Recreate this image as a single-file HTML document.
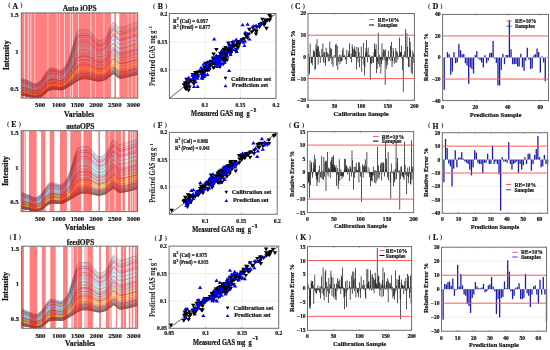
<!DOCTYPE html><html><head><meta charset="utf-8"><style>html,body{margin:0;padding:0;background:#fff;overflow:hidden}svg{display:block;filter:blur(0.3px)}</style></head><body>
<svg width="550" height="350" viewBox="0 0 550 350" font-family="'Liberation Serif', 'Noto Serif CJK SC', serif">
<style>text{stroke:#222;stroke-width:0.22px}</style>
<rect width="550" height="350" fill="#fff"/>
<clipPath id="cA"><rect x="21.3" y="12.9" width="116.4" height="85.2"/></clipPath>
<g clip-path="url(#cA)">
<polyline points="21.4,86.6 23.3,87.1 25.2,87.7 27.2,88.2 29.1,88.8 31.0,89.6 32.9,90.4 34.8,90.8 36.7,90.5 38.6,89.8 40.5,88.9 42.4,87.0 44.4,84.5 46.3,82.3 48.2,80.1 50.1,78.9 52.0,78.8 53.9,78.9 55.8,79.1 57.7,79.5 59.6,79.8 61.5,79.8 63.5,78.8 65.4,77.0 67.3,74.9 69.2,72.2 71.1,68.4 73.0,64.3 74.9,60.1 76.8,56.4 78.7,55.1 80.7,54.3 82.6,53.9 84.5,53.9 86.4,53.9 88.3,54.2 90.2,55.3 92.1,56.4 94.0,57.9 95.9,59.4 97.9,60.4 99.8,60.5 101.7,60.1 103.6,59.4 105.5,58.4 107.4,56.0 109.3,53.1 111.2,50.2 113.1,47.8 115.1,48.9 117.0,51.0 118.9,52.4 120.8,52.6 122.7,52.3 124.6,51.9 126.5,51.5 128.4,50.9 130.3,50.3 132.3,49.6 134.2,49.1 136.1,48.7 138.0,48.4" fill="none" stroke="#0072BD" stroke-width="0.42"/>
<polyline points="21.4,92.0 23.3,92.4 25.2,92.9 27.2,93.3 29.1,93.8 31.0,94.5 32.9,95.1 34.8,95.4 36.7,95.3 38.6,94.8 40.5,94.2 42.4,92.7 44.4,90.6 46.3,88.9 48.2,87.1 50.1,86.1 52.0,85.9 53.9,85.8 55.8,85.9 57.7,86.1 59.6,86.4 61.5,86.4 63.5,85.6 65.4,84.4 67.3,82.9 69.2,81.3 71.1,79.2 73.0,77.0 74.9,74.7 76.8,72.6 78.7,71.5 80.7,70.5 82.6,70.2 84.5,70.1 86.4,70.1 88.3,70.4 90.2,71.0 92.1,71.6 94.0,72.5 95.9,73.3 97.9,73.8 99.8,73.8 101.7,73.5 103.6,72.9 105.5,72.1 107.4,70.4 109.3,68.4 111.2,66.4 113.1,64.5 115.1,65.6 117.0,67.5 118.9,68.8 120.8,69.0 122.7,68.8 124.6,68.5 126.5,68.1 128.4,67.6 130.3,67.0 132.3,66.4 134.2,65.9 136.1,65.6 138.0,65.2" fill="none" stroke="#D95319" stroke-width="0.42"/>
<polyline points="21.4,91.3 23.3,91.7 25.2,92.2 27.2,92.7 29.1,93.2 31.0,93.8 32.9,94.5 34.8,94.8 36.7,94.7 38.6,94.2 40.5,93.5 42.4,92.0 44.4,89.9 46.3,88.0 48.2,86.2 50.1,85.2 52.0,85.0 53.9,85.0 55.8,85.1 57.7,85.3 59.6,85.6 61.5,85.6 63.5,84.8 65.4,83.5 67.3,82.0 69.2,80.3 71.1,78.0 73.0,75.6 74.9,73.1 76.8,70.8 78.7,69.7 80.7,68.8 82.6,68.4 84.5,68.4 86.4,68.4 88.3,68.6 90.2,69.3 92.1,70.0 94.0,70.9 95.9,71.8 97.9,72.3 99.8,72.3 101.7,72.0 103.6,71.4 105.5,70.5 107.4,68.7 109.3,66.6 111.2,64.6 113.1,62.6 115.1,63.6 117.0,65.6 118.9,66.9 120.8,67.0 122.7,66.8 124.6,66.4 126.5,66.0 128.4,65.5 130.3,64.9 132.3,64.3 134.2,63.8 136.1,63.4 138.0,63.0" fill="none" stroke="#EDB120" stroke-width="0.42"/>
<polyline points="21.4,87.2 23.3,87.7 25.2,88.2 27.2,88.8 29.1,89.3 31.0,90.1 32.9,90.9 34.8,91.3 36.7,91.0 38.6,90.3 40.5,89.4 42.4,87.5 44.4,85.1 46.3,83.0 48.2,80.8 50.1,79.6 52.0,79.6 53.9,79.7 55.8,79.9 57.7,80.2 59.6,80.6 61.5,80.6 63.5,79.6 65.4,77.9 67.3,75.9 69.2,73.4 71.1,69.9 73.0,66.0 74.9,62.1 76.8,58.6 78.7,57.5 80.7,56.6 82.6,56.3 84.5,56.3 86.4,56.3 88.3,56.7 90.2,57.7 92.1,58.8 94.0,60.2 95.9,61.6 97.9,62.5 99.8,62.6 101.7,62.2 103.6,61.4 105.5,60.5 107.4,58.2 109.3,55.4 111.2,52.6 113.1,50.2 115.1,51.3 117.0,53.3 118.9,54.6 120.8,54.8 122.7,54.5 124.6,54.0 126.5,53.6 128.4,53.0 130.3,52.3 132.3,51.6 134.2,51.0 136.1,50.6 138.0,50.3" fill="none" stroke="#7E2F8E" stroke-width="0.42"/>
<polyline points="21.4,89.8 23.3,90.3 25.2,90.7 27.2,91.2 29.1,91.8 31.0,92.5 32.9,93.2 34.8,93.5 36.7,93.3 38.6,92.7 40.5,92.0 42.4,90.3 44.4,88.0 46.3,86.1 48.2,84.1 50.1,83.0 52.0,82.9 53.9,82.9 55.8,83.0 57.7,83.3 59.6,83.6 61.5,83.6 63.5,82.7 65.4,81.3 67.3,79.5 69.2,77.5 71.1,74.7 73.0,71.7 74.9,68.7 76.8,65.9 78.7,64.8 80.7,63.9 82.6,63.6 84.5,63.6 86.4,63.6 88.3,64.0 90.2,64.8 92.1,65.7 94.0,66.8 95.9,67.9 97.9,68.6 99.8,68.6 101.7,68.3 103.6,67.7 105.5,66.8 107.4,64.8 109.3,62.5 111.2,60.2 113.1,58.1 115.1,59.2 117.0,61.2 118.9,62.5 120.8,62.7 122.7,62.4 124.6,62.0 126.5,61.6 128.4,61.1 130.3,60.4 132.3,59.8 134.2,59.2 136.1,58.8 138.0,58.5" fill="none" stroke="#77AC30" stroke-width="0.42"/>
<polyline points="21.4,88.9 23.3,89.4 25.2,89.9 27.2,90.4 29.1,91.0 31.0,91.7 32.9,92.4 34.8,92.8 36.7,92.5 38.6,92.0 40.5,91.1 42.4,89.4 44.4,87.1 46.3,85.1 48.2,83.0 50.1,81.9 52.0,81.7 53.9,81.8 55.8,81.9 57.7,82.2 59.6,82.5 61.5,82.5 63.5,81.6 65.4,80.0 67.3,78.2 69.2,76.0 71.1,72.9 73.0,69.5 74.9,66.1 76.8,63.1 78.7,61.9 80.7,61.0 82.6,60.7 84.5,60.7 86.4,60.7 88.3,61.0 90.2,61.9 92.1,62.8 94.0,64.1 95.9,65.3 97.9,66.1 99.8,66.2 101.7,65.8 103.6,65.1 105.5,64.3 107.4,62.2 109.3,59.7 111.2,57.2 113.1,55.0 115.1,56.2 117.0,58.2 118.9,59.5 120.8,59.7 122.7,59.5 124.6,59.1 126.5,58.7 128.4,58.2 130.3,57.5 132.3,56.9 134.2,56.4 136.1,56.0 138.0,55.7" fill="none" stroke="#4DBEEE" stroke-width="0.42"/>
<polyline points="21.4,94.3 23.3,94.6 25.2,95.0 27.2,95.4 29.1,95.8 31.0,96.4 32.9,97.0 34.8,97.3 36.7,97.2 38.6,96.8 40.5,96.3 42.4,95.0 44.4,93.1 46.3,91.5 48.2,89.9 50.1,88.9 52.0,88.7 53.9,88.6 55.8,88.6 57.7,88.8 59.6,88.9 61.5,88.9 63.5,88.3 65.4,87.3 67.3,86.1 69.2,84.9 71.1,83.5 73.0,82.0 74.9,80.5 76.8,79.0 78.7,78.0 80.7,77.1 82.6,76.7 84.5,76.7 86.4,76.7 88.3,76.9 90.2,77.4 92.1,77.9 94.0,78.4 95.9,78.9 97.9,79.3 99.8,79.3 101.7,79.0 103.6,78.5 105.5,77.8 107.4,76.4 109.3,74.8 111.2,73.2 113.1,71.5 115.1,72.5 117.0,74.4 118.9,75.7 120.8,75.9 122.7,75.7 124.6,75.4 126.5,75.1 128.4,74.6 130.3,74.0 132.3,73.4 134.2,72.9 136.1,72.5 138.0,72.2" fill="none" stroke="#A2142F" stroke-width="0.42"/>
<polyline points="21.4,94.1 23.3,94.4 25.2,94.8 27.2,95.2 29.1,95.7 31.0,96.2 32.9,96.9 34.8,97.1 36.7,97.0 38.6,96.7 40.5,96.2 42.4,94.8 44.4,92.9 46.3,91.3 48.2,89.7 50.1,88.7 52.0,88.5 53.9,88.3 55.8,88.4 57.7,88.5 59.6,88.7 61.5,88.7 63.5,88.1 65.4,87.0 67.3,85.8 69.2,84.6 71.1,83.1 73.0,81.6 74.9,80.0 76.8,78.4 78.7,77.4 80.7,76.5 82.6,76.1 84.5,76.1 86.4,76.1 88.3,76.2 90.2,76.8 92.1,77.2 94.0,77.8 95.9,78.3 97.9,78.7 99.8,78.7 101.7,78.4 103.6,77.9 105.5,77.2 107.4,75.7 109.3,74.1 111.2,72.5 113.1,70.8 115.1,71.8 117.0,73.7 118.9,75.0 120.8,75.2 122.7,75.0 124.6,74.7 126.5,74.4 128.4,73.9 130.3,73.3 132.3,72.7 134.2,72.2 136.1,71.8 138.0,71.5" fill="none" stroke="#0072BD" stroke-width="0.42"/>
<polyline points="21.4,89.3 23.3,89.8 25.2,90.3 27.2,90.8 29.1,91.3 31.0,92.0 32.9,92.7 34.8,93.1 36.7,92.9 38.6,92.3 40.5,91.5 42.4,89.8 44.4,87.6 46.3,85.6 48.2,83.6 50.1,82.5 52.0,82.4 53.9,82.4 55.8,82.6 57.7,82.9 59.6,83.2 61.5,83.2 63.5,82.3 65.4,80.8 67.3,79.1 69.2,77.0 71.1,74.1 73.0,71.0 74.9,67.9 76.8,65.0 78.7,63.9 80.7,63.0 82.6,62.6 84.5,62.6 86.4,62.6 88.3,62.9 90.2,63.8 92.1,64.6 94.0,65.8 95.9,66.9 97.9,67.6 99.8,67.7 101.7,67.3 103.6,66.6 105.5,65.7 107.4,63.7 109.3,61.2 111.2,58.8 113.1,56.6 115.1,57.7 117.0,59.6 118.9,60.9 120.8,61.1 122.7,60.8 124.6,60.4 126.5,60.0 128.4,59.4 130.3,58.8 132.3,58.1 134.2,57.6 136.1,57.2 138.0,56.8" fill="none" stroke="#D95319" stroke-width="0.42"/>
<polyline points="21.4,91.7 23.3,92.1 25.2,92.6 27.2,93.0 29.1,93.5 31.0,94.1 32.9,94.8 34.8,95.1 36.7,94.9 38.6,94.5 40.5,93.8 42.4,92.3 44.4,90.2 46.3,88.4 48.2,86.6 50.1,85.5 52.0,85.4 53.9,85.3 55.8,85.4 57.7,85.7 59.6,85.9 61.5,85.9 63.5,85.2 65.4,83.9 67.3,82.4 69.2,80.8 71.1,78.6 73.0,76.2 74.9,73.9 76.8,71.7 78.7,70.6 80.7,69.7 82.6,69.3 84.5,69.4 86.4,69.4 88.3,69.6 90.2,70.3 92.1,71.0 94.0,71.9 95.9,72.7 97.9,73.2 99.8,73.3 101.7,73.0 103.6,72.4 105.5,71.6 107.4,69.8 109.3,67.8 111.2,65.9 113.1,63.9 115.1,65.0 117.0,66.9 118.9,68.2 120.8,68.3 122.7,68.1 124.6,67.8 126.5,67.4 128.4,66.8 130.3,66.2 132.3,65.6 134.2,65.0 136.1,64.6 138.0,64.3" fill="none" stroke="#EDB120" stroke-width="0.42"/>
<polyline points="21.4,95.0 23.3,95.3 25.2,95.7 27.2,96.1 29.1,96.5 31.0,97.1 32.9,97.6 34.8,97.9 36.7,97.8 38.6,97.5 40.5,97.0 42.4,95.7 44.4,93.9 46.3,92.3 48.2,90.8 50.1,89.8 52.0,89.6 53.9,89.5 55.8,89.5 57.7,89.6 59.6,89.8 61.5,89.8 63.5,89.2 65.4,88.2 67.3,87.1 69.2,86.1 71.1,84.9 73.0,83.6 74.9,82.4 76.8,81.1 78.7,80.1 80.7,79.2 82.6,78.8 84.5,78.8 86.4,78.8 88.3,78.9 90.2,79.4 92.1,79.8 94.0,80.3 95.9,80.7 97.9,80.9 99.8,80.9 101.7,80.7 103.6,80.2 105.5,79.5 107.4,78.2 109.3,76.7 111.2,75.3 113.1,73.6 115.1,74.6 117.0,76.5 118.9,77.8 120.8,78.0 122.7,77.8 124.6,77.5 126.5,77.2 128.4,76.7 130.3,76.2 132.3,75.6 134.2,75.1 136.1,74.7 138.0,74.4" fill="none" stroke="#7E2F8E" stroke-width="0.42"/>
<polyline points="21.4,78.6 23.3,79.3 25.2,80.0 27.2,80.8 29.1,81.6 31.0,82.6 32.9,83.6 34.8,84.0 36.7,83.6 38.6,82.5 40.5,81.2 42.4,78.6 44.4,75.5 46.3,72.8 48.2,70.0 50.1,68.5 52.0,68.6 53.9,68.9 55.8,69.3 57.7,69.9 59.6,70.5 61.5,70.5 63.5,69.1 65.4,66.6 67.3,63.4 69.2,59.3 71.1,53.1 73.0,46.3 74.9,39.5 76.8,33.5 78.7,32.1 80.7,31.3 82.6,31.0 84.5,31.0 86.4,31.0 88.3,31.6 90.2,33.1 92.1,34.9 94.0,37.4 95.9,39.9 97.9,41.5 99.8,41.7 101.7,41.2 103.6,40.2 105.5,38.9 107.4,35.5 109.3,31.3 111.2,27.1 113.1,23.8 115.1,25.1 117.0,27.3 118.9,28.7 120.8,28.8 122.7,28.4 124.6,27.9 126.5,27.3 128.4,26.6 130.3,25.8 132.3,25.1 134.2,24.5 136.1,24.1 138.0,23.8" fill="none" stroke="#77AC30" stroke-width="0.42"/>
<polyline points="21.4,83.0 23.3,83.6 25.2,84.3 27.2,84.9 29.1,85.6 31.0,86.4 32.9,87.3 34.8,87.7 36.7,87.4 38.6,86.5 40.5,85.4 42.4,83.2 44.4,80.4 46.3,78.0 48.2,75.6 50.1,74.2 52.0,74.2 53.9,74.5 55.8,74.7 57.7,75.2 59.6,75.7 61.5,75.7 63.5,74.5 65.4,72.4 67.3,69.9 69.2,66.6 71.1,61.8 73.0,56.5 74.9,51.2 76.8,46.5 78.7,45.3 80.7,44.4 82.6,44.1 84.5,44.1 86.4,44.2 88.3,44.6 90.2,45.9 92.1,47.3 94.0,49.3 95.9,51.2 97.9,52.4 99.8,52.6 101.7,52.1 103.6,51.3 105.5,50.1 107.4,47.3 109.3,43.8 111.2,40.4 113.1,37.5 115.1,38.7 117.0,40.8 118.9,42.2 120.8,42.3 122.7,41.9 124.6,41.4 126.5,40.9 128.4,40.3 130.3,39.5 132.3,38.8 134.2,38.2 136.1,37.8 138.0,37.5" fill="none" stroke="#4DBEEE" stroke-width="0.42"/>
<polyline points="21.4,90.3 23.3,90.7 25.2,91.2 27.2,91.7 29.1,92.2 31.0,92.9 32.9,93.6 34.8,94.0 36.7,93.8 38.6,93.3 40.5,92.6 42.4,90.9 44.4,88.7 46.3,86.8 48.2,85.0 50.1,83.8 52.0,83.7 53.9,83.7 55.8,83.8 57.7,84.1 59.6,84.4 61.5,84.4 63.5,83.6 65.4,82.2 67.3,80.5 69.2,78.6 71.1,76.0 73.0,73.2 74.9,70.4 76.8,67.8 78.7,66.6 80.7,65.7 82.6,65.3 84.5,65.3 86.4,65.3 88.3,65.6 90.2,66.3 92.1,67.1 94.0,68.1 95.9,69.1 97.9,69.7 99.8,69.8 101.7,69.4 103.6,68.7 105.5,67.9 107.4,66.0 109.3,63.7 111.2,61.4 113.1,59.3 115.1,60.4 117.0,62.4 118.9,63.7 120.8,63.8 122.7,63.6 124.6,63.2 126.5,62.8 128.4,62.3 130.3,61.7 132.3,61.1 134.2,60.6 136.1,60.2 138.0,59.9" fill="none" stroke="#A2142F" stroke-width="0.42"/>
<polyline points="21.4,85.3 23.3,85.9 25.2,86.5 27.2,87.1 29.1,87.7 31.0,88.5 32.9,89.4 34.8,89.8 36.7,89.5 38.6,88.7 40.5,87.7 42.4,85.7 44.4,83.2 46.3,80.9 48.2,78.7 50.1,77.4 52.0,77.4 53.9,77.5 55.8,77.7 57.7,78.1 59.6,78.5 61.5,78.5 63.5,77.5 65.4,75.6 67.3,73.3 69.2,70.5 71.1,66.3 73.0,61.8 74.9,57.3 76.8,53.2 78.7,52.0 80.7,51.1 82.6,50.8 84.5,50.7 86.4,50.7 88.3,51.1 90.2,52.2 92.1,53.4 94.0,55.0 95.9,56.6 97.9,57.7 99.8,57.8 101.7,57.3 103.6,56.5 105.5,55.5 107.4,52.9 109.3,49.8 111.2,46.7 113.1,44.1 115.1,45.2 117.0,47.3 118.9,48.7 120.8,48.8 122.7,48.5 124.6,48.1 126.5,47.6 128.4,47.1 130.3,46.4 132.3,45.7 134.2,45.2 136.1,44.8 138.0,44.5" fill="none" stroke="#0072BD" stroke-width="0.42"/>
<polyline points="21.4,88.5 23.3,88.9 25.2,89.4 27.2,90.0 29.1,90.5 31.0,91.2 32.9,92.0 34.8,92.3 36.7,92.1 38.6,91.5 40.5,90.7 42.4,88.9 44.4,86.5 46.3,84.5 48.2,82.4 50.1,81.2 52.0,81.2 53.9,81.2 55.8,81.4 57.7,81.7 59.6,82.0 61.5,82.0 63.5,81.1 65.4,79.5 67.3,77.6 69.2,75.4 71.1,72.2 73.0,68.8 74.9,65.3 76.8,62.2 78.7,61.0 80.7,60.2 82.6,59.8 84.5,59.9 86.4,59.9 88.3,60.2 90.2,61.1 92.1,62.1 94.0,63.4 95.9,64.6 97.9,65.4 99.8,65.5 101.7,65.2 103.6,64.5 105.5,63.6 107.4,61.4 109.3,58.8 111.2,56.3 113.1,54.1 115.1,55.2 117.0,57.2 118.9,58.5 120.8,58.6 122.7,58.3 124.6,57.9 126.5,57.5 128.4,56.9 130.3,56.2 132.3,55.6 134.2,55.0 136.1,54.6 138.0,54.2" fill="none" stroke="#D95319" stroke-width="0.42"/>
<polyline points="21.4,92.5 23.3,92.9 25.2,93.4 27.2,93.8 29.1,94.3 31.0,94.9 32.9,95.5 34.8,95.8 36.7,95.7 38.6,95.2 40.5,94.6 42.4,93.2 44.4,91.1 46.3,89.4 48.2,87.7 50.1,86.6 52.0,86.4 53.9,86.4 55.8,86.4 57.7,86.6 59.6,86.9 61.5,86.9 63.5,86.1 65.4,84.9 67.3,83.5 69.2,82.0 71.1,80.1 73.0,78.0 74.9,75.9 76.8,74.0 78.7,72.9 80.7,72.0 82.6,71.6 84.5,71.6 86.4,71.7 88.3,71.9 90.2,72.5 92.1,73.1 94.0,73.9 95.9,74.7 97.9,75.1 99.8,75.2 101.7,74.9 103.6,74.3 105.5,73.5 107.4,71.9 109.3,70.0 111.2,68.2 113.1,66.3 115.1,67.4 117.0,69.3 118.9,70.6 120.8,70.8 122.7,70.6 124.6,70.2 126.5,69.9 128.4,69.4 130.3,68.7 132.3,68.1 134.2,67.6 136.1,67.2 138.0,66.9" fill="none" stroke="#EDB120" stroke-width="0.42"/>
<polyline points="21.4,88.2 23.3,88.7 25.2,89.2 27.2,89.7 29.1,90.3 31.0,91.1 32.9,91.8 34.8,92.2 36.7,91.9 38.6,91.3 40.5,90.5 42.4,88.7 44.4,86.4 46.3,84.3 48.2,82.3 50.1,81.1 52.0,81.0 53.9,81.1 55.8,81.3 57.7,81.6 59.6,81.9 61.5,81.9 63.5,81.0 65.4,79.4 67.3,77.5 69.2,75.3 71.1,72.0 73.0,68.5 74.9,65.0 76.8,61.8 78.7,60.7 80.7,59.8 82.6,59.4 84.5,59.4 86.4,59.4 88.3,59.7 90.2,60.6 92.1,61.6 94.0,62.8 95.9,64.1 97.9,64.9 99.8,64.9 101.7,64.5 103.6,63.8 105.5,62.9 107.4,60.7 109.3,58.0 111.2,55.4 113.1,53.1 115.1,54.2 117.0,56.2 118.9,57.5 120.8,57.7 122.7,57.4 124.6,57.0 126.5,56.5 128.4,56.0 130.3,55.3 132.3,54.6 134.2,54.1 136.1,53.7 138.0,53.4" fill="none" stroke="#7E2F8E" stroke-width="0.42"/>
<polyline points="21.4,93.7 23.3,94.1 25.2,94.5 27.2,94.9 29.1,95.3 31.0,95.9 32.9,96.5 34.8,96.8 36.7,96.7 38.6,96.3 40.5,95.8 42.4,94.4 44.4,92.5 46.3,90.8 48.2,89.2 50.1,88.2 52.0,88.0 53.9,87.9 55.8,87.9 57.7,88.1 59.6,88.3 61.5,88.3 63.5,87.6 65.4,86.5 67.3,85.3 69.2,84.0 71.1,82.4 73.0,80.8 74.9,79.0 76.8,77.4 78.7,76.4 80.7,75.5 82.6,75.1 84.5,75.1 86.4,75.1 88.3,75.3 90.2,75.9 92.1,76.4 94.0,77.0 95.9,77.6 97.9,77.9 99.8,78.0 101.7,77.7 103.6,77.1 105.5,76.4 107.4,74.9 109.3,73.2 111.2,71.6 113.1,69.8 115.1,70.9 117.0,72.7 118.9,74.0 120.8,74.2 122.7,74.0 124.6,73.7 126.5,73.4 128.4,72.9 130.3,72.3 132.3,71.7 134.2,71.1 136.1,70.7 138.0,70.4" fill="none" stroke="#77AC30" stroke-width="0.42"/>
<polyline points="21.4,79.1 23.3,79.8 25.2,80.6 27.2,81.3 29.1,82.1 31.0,83.0 32.9,84.0 34.8,84.5 36.7,84.1 38.6,83.1 40.5,81.7 42.4,79.2 44.4,76.1 46.3,73.4 48.2,70.7 50.1,69.2 52.0,69.3 53.9,69.6 55.8,70.0 57.7,70.6 59.6,71.1 61.5,71.1 63.5,69.8 65.4,67.3 67.3,64.3 69.2,60.2 71.1,54.2 73.0,47.6 74.9,40.9 76.8,35.1 78.7,33.7 80.7,32.9 82.6,32.6 84.5,32.6 86.4,32.6 88.3,33.1 90.2,34.6 92.1,36.4 94.0,38.8 95.9,41.2 97.9,42.8 99.8,43.0 101.7,42.5 103.6,41.5 105.5,40.2 107.4,36.9 109.3,32.7 111.2,28.6 113.1,25.4 115.1,26.7 117.0,28.9 118.9,30.2 120.8,30.4 122.7,30.0 124.6,29.5 126.5,28.9 128.4,28.2 130.3,27.5 132.3,26.7 134.2,26.2 136.1,25.8 138.0,25.4" fill="none" stroke="#4DBEEE" stroke-width="0.42"/>
<polyline points="21.4,94.8 23.3,95.1 25.2,95.5 27.2,95.9 29.1,96.3 31.0,96.9 32.9,97.5 34.8,97.7 36.7,97.6 38.6,97.3 40.5,96.8 42.4,95.5 44.4,93.7 46.3,92.1 48.2,90.5 50.1,89.6 52.0,89.3 53.9,89.2 55.8,89.2 57.7,89.4 59.6,89.5 61.5,89.5 63.5,88.9 65.4,87.9 67.3,86.8 69.2,85.7 71.1,84.5 73.0,83.2 74.9,81.8 76.8,80.5 78.7,79.4 80.7,78.5 82.6,78.1 84.5,78.1 86.4,78.1 88.3,78.3 90.2,78.8 92.1,79.2 94.0,79.7 95.9,80.1 97.9,80.4 99.8,80.4 101.7,80.1 103.6,79.6 105.5,79.0 107.4,77.6 109.3,76.1 111.2,74.6 113.1,73.0 115.1,74.0 117.0,75.8 118.9,77.2 120.8,77.3 122.7,77.2 124.6,76.9 126.5,76.6 128.4,76.1 130.3,75.5 132.3,74.9 134.2,74.4 136.1,74.0 138.0,73.7" fill="none" stroke="#A2142F" stroke-width="0.42"/>
<polyline points="21.4,94.7 23.3,95.0 25.2,95.4 27.2,95.8 29.1,96.2 31.0,96.8 32.9,97.4 34.8,97.6 36.7,97.5 38.6,97.2 40.5,96.7 42.4,95.4 44.4,93.5 46.3,92.0 48.2,90.4 50.1,89.4 52.0,89.2 53.9,89.1 55.8,89.1 57.7,89.2 59.6,89.4 61.5,89.4 63.5,88.8 65.4,87.8 67.3,86.7 69.2,85.6 71.1,84.3 73.0,82.9 74.9,81.5 76.8,80.2 78.7,79.1 80.7,78.2 82.6,77.8 84.5,77.8 86.4,77.8 88.3,78.0 90.2,78.5 92.1,78.9 94.0,79.4 95.9,79.9 97.9,80.2 99.8,80.2 101.7,79.9 103.6,79.4 105.5,78.7 107.4,77.4 109.3,75.8 111.2,74.3 113.1,72.7 115.1,73.7 117.0,75.6 118.9,76.9 120.8,77.1 122.7,76.9 124.6,76.6 126.5,76.3 128.4,75.8 130.3,75.2 132.3,74.6 134.2,74.1 136.1,73.7 138.0,73.4" fill="none" stroke="#0072BD" stroke-width="0.42"/>
<polyline points="21.4,91.1 23.3,91.5 25.2,92.0 27.2,92.5 29.1,93.0 31.0,93.7 32.9,94.3 34.8,94.7 36.7,94.5 38.6,94.0 40.5,93.3 42.4,91.7 44.4,89.6 46.3,87.8 48.2,85.9 50.1,84.8 52.0,84.7 53.9,84.7 55.8,84.8 57.7,85.0 59.6,85.2 61.5,85.2 63.5,84.5 65.4,83.1 67.3,81.5 69.2,79.8 71.1,77.4 73.0,74.8 74.9,72.2 76.8,69.8 78.7,68.6 80.7,67.7 82.6,67.3 84.5,67.3 86.4,67.3 88.3,67.6 90.2,68.3 92.1,69.0 94.0,70.0 95.9,70.9 97.9,71.5 99.8,71.5 101.7,71.2 103.6,70.5 105.5,69.7 107.4,67.9 109.3,65.8 111.2,63.7 113.1,61.7 115.1,62.8 117.0,64.7 118.9,66.1 120.8,66.2 122.7,66.0 124.6,65.7 126.5,65.3 128.4,64.8 130.3,64.2 132.3,63.6 134.2,63.1 136.1,62.7 138.0,62.4" fill="none" stroke="#D95319" stroke-width="0.42"/>
<polyline points="21.4,90.6 23.3,91.1 25.2,91.5 27.2,92.0 29.1,92.5 31.0,93.2 32.9,93.9 34.8,94.2 36.7,94.0 38.6,93.5 40.5,92.8 42.4,91.2 44.4,89.0 46.3,87.1 48.2,85.3 50.1,84.2 52.0,84.0 53.9,84.0 55.8,84.1 57.7,84.4 59.6,84.7 61.5,84.7 63.5,83.9 65.4,82.5 67.3,80.9 69.2,79.1 71.1,76.6 73.0,73.9 74.9,71.2 76.8,68.7 78.7,67.6 80.7,66.7 82.6,66.4 84.5,66.4 86.4,66.4 88.3,66.7 90.2,67.4 92.1,68.2 94.0,69.2 95.9,70.1 97.9,70.7 99.8,70.8 101.7,70.4 103.6,69.8 105.5,69.0 107.4,67.1 109.3,64.9 111.2,62.7 113.1,60.7 115.1,61.7 117.0,63.7 118.9,65.0 120.8,65.1 122.7,64.9 124.6,64.5 126.5,64.1 128.4,63.5 130.3,62.9 132.3,62.2 134.2,61.7 136.1,61.3 138.0,60.9" fill="none" stroke="#EDB120" stroke-width="0.42"/>
<polyline points="21.4,92.9 23.3,93.3 25.2,93.7 27.2,94.2 29.1,94.6 31.0,95.3 32.9,95.9 34.8,96.2 36.7,96.1 38.6,95.7 40.5,95.1 42.4,93.6 44.4,91.7 46.3,90.0 48.2,88.3 50.1,87.2 52.0,87.1 53.9,87.0 55.8,87.0 57.7,87.2 59.6,87.5 61.5,87.4 63.5,86.8 65.4,85.6 67.3,84.3 69.2,82.8 71.1,81.0 73.0,79.1 74.9,77.1 76.8,75.3 78.7,74.2 80.7,73.3 82.6,72.9 84.5,72.9 86.4,72.9 88.3,73.1 90.2,73.7 92.1,74.3 94.0,75.0 95.9,75.6 97.9,76.1 99.8,76.1 101.7,75.7 103.6,75.2 105.5,74.4 107.4,72.8 109.3,71.0 111.2,69.2 113.1,67.4 115.1,68.4 117.0,70.3 118.9,71.6 120.8,71.8 122.7,71.6 124.6,71.3 126.5,70.9 128.4,70.5 130.3,69.9 132.3,69.3 134.2,68.8 136.1,68.4 138.0,68.1" fill="none" stroke="#7E2F8E" stroke-width="0.42"/>
<polyline points="21.4,94.8 23.3,95.2 25.2,95.6 27.2,95.9 29.1,96.4 31.0,96.9 32.9,97.5 34.8,97.8 36.7,97.7 38.6,97.4 40.5,96.9 42.4,95.6 44.4,93.8 46.3,92.2 48.2,90.6 50.1,89.7 52.0,89.5 53.9,89.3 55.8,89.3 57.7,89.5 59.6,89.6 61.5,89.6 63.5,89.0 65.4,88.0 67.3,86.9 69.2,85.9 71.1,84.7 73.0,83.4 74.9,82.0 76.8,80.7 78.7,79.7 80.7,78.8 82.6,78.4 84.5,78.4 86.4,78.4 88.3,78.6 90.2,79.0 92.1,79.4 94.0,79.9 95.9,80.4 97.9,80.6 99.8,80.6 101.7,80.3 103.6,79.8 105.5,79.2 107.4,77.8 109.3,76.3 111.2,74.9 113.1,73.3 115.1,74.2 117.0,76.1 118.9,77.4 120.8,77.6 122.7,77.4 124.6,77.1 126.5,76.8 128.4,76.3 130.3,75.8 132.3,75.2 134.2,74.7 136.1,74.3 138.0,73.9" fill="none" stroke="#77AC30" stroke-width="0.42"/>
<polyline points="21.4,85.1 23.3,85.7 25.2,86.3 27.2,86.9 29.1,87.5 31.0,88.3 32.9,89.2 34.8,89.5 36.7,89.2 38.6,88.5 40.5,87.5 42.4,85.4 44.4,82.8 46.3,80.5 48.2,78.2 50.1,76.9 52.0,76.9 53.9,77.0 55.8,77.2 57.7,77.7 59.6,78.0 61.5,78.0 63.5,76.9 65.4,75.0 67.3,72.7 69.2,69.8 71.1,65.5 73.0,60.9 74.9,56.2 76.8,52.0 78.7,50.8 80.7,49.9 82.6,49.6 84.5,49.6 86.4,49.6 88.3,50.0 90.2,51.1 92.1,52.4 94.0,54.1 95.9,55.8 97.9,56.9 99.8,57.0 101.7,56.6 103.6,55.8 105.5,54.8 107.4,52.2 109.3,49.1 111.2,46.0 113.1,43.4 115.1,44.6 117.0,46.7 118.9,48.1 120.8,48.2 122.7,48.0 124.6,47.5 126.5,47.1 128.4,46.5 130.3,45.8 132.3,45.1 134.2,44.6 136.1,44.2 138.0,43.9" fill="none" stroke="#4DBEEE" stroke-width="0.42"/>
<polyline points="21.4,94.1 23.3,94.5 25.2,94.9 27.2,95.3 29.1,95.7 31.0,96.3 32.9,96.9 34.8,97.2 36.7,97.1 38.6,96.7 40.5,96.2 42.4,94.9 44.4,93.0 46.3,91.4 48.2,89.8 50.1,88.8 52.0,88.6 53.9,88.5 55.8,88.5 57.7,88.6 59.6,88.8 61.5,88.8 63.5,88.2 65.4,87.1 67.3,86.0 69.2,84.8 71.1,83.3 73.0,81.8 74.9,80.2 76.8,78.8 78.7,77.7 80.7,76.8 82.6,76.4 84.5,76.4 86.4,76.4 88.3,76.6 90.2,77.1 92.1,77.6 94.0,78.1 95.9,78.7 97.9,79.0 99.8,79.0 101.7,78.7 103.6,78.2 105.5,77.5 107.4,76.0 109.3,74.4 111.2,72.8 113.1,71.1 115.1,72.1 117.0,74.0 118.9,75.3 120.8,75.5 122.7,75.3 124.6,75.0 126.5,74.7 128.4,74.2 130.3,73.6 132.3,73.0 134.2,72.5 136.1,72.1 138.0,71.8" fill="none" stroke="#A2142F" stroke-width="0.42"/>
<polyline points="21.4,95.0 23.3,95.3 25.2,95.7 27.2,96.1 29.1,96.5 31.0,97.1 32.9,97.7 34.8,97.9 36.7,97.8 38.6,97.5 40.5,97.1 42.4,95.8 44.4,93.9 46.3,92.4 48.2,90.8 50.1,89.9 52.0,89.7 53.9,89.5 55.8,89.5 57.7,89.7 59.6,89.8 61.5,89.8 63.5,89.2 65.4,88.3 67.3,87.2 69.2,86.1 71.1,85.0 73.0,83.7 74.9,82.4 76.8,81.2 78.7,80.2 80.7,79.2 82.6,78.9 84.5,78.9 86.4,78.9 88.3,79.0 90.2,79.5 92.1,79.9 94.0,80.3 95.9,80.8 97.9,81.0 99.8,81.0 101.7,80.7 103.6,80.2 105.5,79.6 107.4,78.3 109.3,76.8 111.2,75.4 113.1,73.7 115.1,74.7 117.0,76.6 118.9,77.9 120.8,78.1 122.7,77.9 124.6,77.6 126.5,77.3 128.4,76.8 130.3,76.3 132.3,75.7 134.2,75.2 136.1,74.8 138.0,74.5" fill="none" stroke="#0072BD" stroke-width="0.42"/>
<polyline points="21.4,87.6 23.3,88.1 25.2,88.6 27.2,89.2 29.1,89.8 31.0,90.5 32.9,91.3 34.8,91.6 36.7,91.4 38.6,90.7 40.5,89.8 42.4,88.0 44.4,85.6 46.3,83.5 48.2,81.3 50.1,80.1 52.0,80.0 53.9,80.1 55.8,80.3 57.7,80.6 59.6,81.0 61.5,80.9 63.5,80.0 65.4,78.3 67.3,76.3 69.2,73.8 71.1,70.3 73.0,66.5 74.9,62.7 76.8,59.3 78.7,58.1 80.7,57.2 82.6,56.9 84.5,56.9 86.4,57.0 88.3,57.3 90.2,58.3 92.1,59.4 94.0,60.8 95.9,62.1 97.9,63.0 99.8,63.2 101.7,62.8 103.6,62.1 105.5,61.1 107.4,58.9 109.3,56.2 111.2,53.5 113.1,51.2 115.1,52.3 117.0,54.4 118.9,55.7 120.8,55.9 122.7,55.6 124.6,55.2 126.5,54.8 128.4,54.3 130.3,53.6 132.3,52.9 134.2,52.4 136.1,52.0 138.0,51.7" fill="none" stroke="#D95319" stroke-width="0.42"/>
<polyline points="21.4,94.6 23.3,94.9 25.2,95.3 27.2,95.7 29.1,96.1 31.0,96.7 32.9,97.3 34.8,97.6 36.7,97.5 38.6,97.2 40.5,96.7 42.4,95.3 44.4,93.5 46.3,91.9 48.2,90.3 50.1,89.4 52.0,89.1 53.9,89.0 55.8,89.0 57.7,89.2 59.6,89.4 61.5,89.3 63.5,88.7 65.4,87.7 67.3,86.6 69.2,85.5 71.1,84.2 73.0,82.8 74.9,81.4 76.8,80.0 78.7,79.0 80.7,78.1 82.6,77.7 84.5,77.7 86.4,77.7 88.3,77.9 90.2,78.4 92.1,78.8 94.0,79.3 95.9,79.8 97.9,80.1 99.8,80.1 101.7,79.8 103.6,79.3 105.5,78.6 107.4,77.2 109.3,75.7 111.2,74.2 113.1,72.5 115.1,73.5 117.0,75.4 118.9,76.7 120.8,76.9 122.7,76.7 124.6,76.4 126.5,76.1 128.4,75.6 130.3,75.0 132.3,74.4 134.2,73.9 136.1,73.5 138.0,73.2" fill="none" stroke="#EDB120" stroke-width="0.42"/>
<polyline points="21.4,80.8 23.3,81.5 25.2,82.2 27.2,82.9 29.1,83.6 31.0,84.5 32.9,85.5 34.8,85.9 36.7,85.6 38.6,84.6 40.5,83.3 42.4,81.0 44.4,78.1 46.3,75.5 48.2,72.9 50.1,71.4 52.0,71.5 53.9,71.8 55.8,72.1 57.7,72.7 59.6,73.2 61.5,73.2 63.5,71.9 65.4,69.6 67.3,66.8 69.2,63.1 71.1,57.6 73.0,51.5 74.9,45.5 76.8,40.1 78.7,38.8 80.7,37.9 82.6,37.6 84.5,37.6 86.4,37.6 88.3,38.1 90.2,39.5 92.1,41.1 94.0,43.3 95.9,45.5 97.9,46.9 99.8,47.0 101.7,46.5 103.6,45.6 105.5,44.4 107.4,41.3 109.3,37.4 111.2,33.5 113.1,30.5 115.1,31.7 117.0,33.9 118.9,35.3 120.8,35.4 122.7,35.0 124.6,34.5 126.5,34.0 128.4,33.3 130.3,32.6 132.3,31.9 134.2,31.3 136.1,30.9 138.0,30.6" fill="none" stroke="#7E2F8E" stroke-width="0.42"/>
<polyline points="21.4,93.9 23.3,94.3 25.2,94.7 27.2,95.1 29.1,95.5 31.0,96.1 32.9,96.7 34.8,97.0 36.7,96.9 38.6,96.5 40.5,96.0 42.4,94.6 44.4,92.7 46.3,91.0 48.2,89.4 50.1,88.4 52.0,88.2 53.9,88.1 55.8,88.1 57.7,88.3 59.6,88.5 61.5,88.5 63.5,87.8 65.4,86.7 67.3,85.5 69.2,84.3 71.1,82.7 73.0,81.1 74.9,79.4 76.8,77.9 78.7,76.8 80.7,75.9 82.6,75.5 84.5,75.5 86.4,75.5 88.3,75.7 90.2,76.3 92.1,76.8 94.0,77.4 95.9,77.9 97.9,78.3 99.8,78.3 101.7,78.0 103.6,77.5 105.5,76.8 107.4,75.3 109.3,73.7 111.2,72.1 113.1,70.4 115.1,71.4 117.0,73.3 118.9,74.6 120.8,74.8 122.7,74.6 124.6,74.3 126.5,73.9 128.4,73.5 130.3,72.9 132.3,72.3 134.2,71.8 136.1,71.4 138.0,71.0" fill="none" stroke="#77AC30" stroke-width="0.42"/>
<polyline points="21.4,84.0 23.3,84.6 25.2,85.2 27.2,85.8 29.1,86.5 31.0,87.3 32.9,88.2 34.8,88.6 36.7,88.3 38.6,87.5 40.5,86.4 42.4,84.3 44.4,81.6 46.3,79.3 48.2,76.9 50.1,75.6 52.0,75.6 53.9,75.8 55.8,76.1 57.7,76.6 59.6,77.0 61.5,77.0 63.5,75.9 65.4,73.9 67.3,71.5 69.2,68.4 71.1,63.9 73.0,59.0 74.9,54.0 76.8,49.6 78.7,48.4 80.7,47.5 82.6,47.2 84.5,47.2 86.4,47.2 88.3,47.6 90.2,48.8 92.1,50.1 94.0,51.9 95.9,53.7 97.9,54.8 99.8,54.9 101.7,54.5 103.6,53.6 105.5,52.5 107.4,49.8 109.3,46.4 111.2,43.2 113.1,40.4 115.1,41.6 117.0,43.7 118.9,45.0 120.8,45.1 122.7,44.8 124.6,44.3 126.5,43.8 128.4,43.2 130.3,42.4 132.3,41.7 134.2,41.2 136.1,40.8 138.0,40.4" fill="none" stroke="#4DBEEE" stroke-width="0.42"/>
<polyline points="21.4,79.5 23.3,80.2 25.2,80.9 27.2,81.6 29.1,82.4 31.0,83.4 32.9,84.3 34.8,84.8 36.7,84.4 38.6,83.4 40.5,82.0 42.4,79.6 44.4,76.5 46.3,73.9 48.2,71.2 50.1,69.7 52.0,69.8 53.9,70.1 55.8,70.5 57.7,71.1 59.6,71.6 61.5,71.6 63.5,70.2 65.4,67.8 67.3,64.8 69.2,60.9 71.1,55.0 73.0,48.5 74.9,42.0 76.8,36.3 78.7,34.9 80.7,34.1 82.6,33.8 84.5,33.8 86.4,33.8 88.3,34.3 90.2,35.8 92.1,37.5 94.0,39.9 95.9,42.3 97.9,43.8 99.8,44.0 101.7,43.5 103.6,42.5 105.5,41.2 107.4,37.9 109.3,33.9 111.2,29.8 113.1,26.6 115.1,27.9 117.0,30.1 118.9,31.4 120.8,31.6 122.7,31.2 124.6,30.6 126.5,30.1 128.4,29.4 130.3,28.6 132.3,27.9 134.2,27.3 136.1,26.9 138.0,26.6" fill="none" stroke="#A2142F" stroke-width="0.42"/>
<polyline points="21.4,82.3 23.3,82.9 25.2,83.6 27.2,84.2 29.1,84.9 31.0,85.8 32.9,86.7 34.8,87.2 36.7,86.8 38.6,85.9 40.5,84.7 42.4,82.5 44.4,79.7 46.3,77.2 48.2,74.7 50.1,73.3 52.0,73.3 53.9,73.6 55.8,73.9 57.7,74.4 59.6,74.8 61.5,74.8 63.5,73.6 65.4,71.4 67.3,68.7 69.2,65.3 71.1,60.2 73.0,54.6 74.9,49.0 76.8,44.0 78.7,42.7 80.7,41.8 82.6,41.5 84.5,41.5 86.4,41.5 88.3,42.0 90.2,43.3 92.1,44.8 94.0,46.8 95.9,48.8 97.9,50.2 99.8,50.3 101.7,49.8 103.6,49.0 105.5,47.8 107.4,44.9 109.3,41.2 111.2,37.7 113.1,34.8 115.1,36.0 117.0,38.2 118.9,39.5 120.8,39.7 122.7,39.4 124.6,38.9 126.5,38.4 128.4,37.8 130.3,37.1 132.3,36.4 134.2,35.8 136.1,35.4 138.0,35.1" fill="none" stroke="#0072BD" stroke-width="0.42"/>
<polyline points="21.4,94.9 23.3,95.2 25.2,95.6 27.2,96.0 29.1,96.4 31.0,97.0 32.9,97.6 34.8,97.8 36.7,97.7 38.6,97.4 40.5,97.0 42.4,95.6 44.4,93.8 46.3,92.2 48.2,90.7 50.1,89.7 52.0,89.5 53.9,89.4 55.8,89.4 57.7,89.5 59.6,89.7 61.5,89.7 63.5,89.1 65.4,88.1 67.3,87.0 69.2,86.0 71.1,84.7 73.0,83.5 74.9,82.2 76.8,80.9 78.7,79.8 80.7,78.9 82.6,78.5 84.5,78.5 86.4,78.5 88.3,78.7 90.2,79.2 92.1,79.6 94.0,80.1 95.9,80.5 97.9,80.8 99.8,80.8 101.7,80.5 103.6,80.0 105.5,79.3 107.4,78.0 109.3,76.5 111.2,75.0 113.1,73.4 115.1,74.4 117.0,76.3 118.9,77.6 120.8,77.8 122.7,77.6 124.6,77.3 126.5,77.0 128.4,76.5 130.3,75.9 132.3,75.3 134.2,74.8 136.1,74.4 138.0,74.1" fill="none" stroke="#D95319" stroke-width="0.42"/>
<polyline points="21.4,90.9 23.3,91.3 25.2,91.8 27.2,92.2 29.1,92.7 31.0,93.4 32.9,94.1 34.8,94.4 36.7,94.2 38.6,93.7 40.5,93.0 42.4,91.4 44.4,89.2 46.3,87.4 48.2,85.5 50.1,84.4 52.0,84.2 53.9,84.2 55.8,84.3 57.7,84.6 59.6,84.8 61.5,84.8 63.5,84.0 65.4,82.6 67.3,81.0 69.2,79.2 71.1,76.7 73.0,74.1 74.9,71.3 76.8,68.9 78.7,67.8 80.7,66.9 82.6,66.5 84.5,66.5 86.4,66.6 88.3,66.8 90.2,67.6 92.1,68.4 94.0,69.4 95.9,70.3 97.9,71.0 99.8,71.0 101.7,70.7 103.6,70.1 105.5,69.3 107.4,67.4 109.3,65.3 111.2,63.2 113.1,61.2 115.1,62.2 117.0,64.2 118.9,65.5 120.8,65.7 122.7,65.5 124.6,65.1 126.5,64.7 128.4,64.2 130.3,63.6 132.3,63.0 134.2,62.4 136.1,62.0 138.0,61.7" fill="none" stroke="#EDB120" stroke-width="0.42"/>
<polyline points="21.4,80.1 23.3,80.8 25.2,81.5 27.2,82.2 29.1,82.9 31.0,83.9 32.9,84.8 34.8,85.3 36.7,84.9 38.6,83.9 40.5,82.6 42.4,80.2 44.4,77.1 46.3,74.5 48.2,71.8 50.1,70.4 52.0,70.5 53.9,70.8 55.8,71.1 57.7,71.7 59.6,72.2 61.5,72.2 63.5,70.9 65.4,68.5 67.3,65.6 69.2,61.7 71.1,56.0 73.0,49.7 74.9,43.4 76.8,37.8 78.7,36.5 80.7,35.7 82.6,35.4 84.5,35.4 86.4,35.4 88.3,35.9 90.2,37.4 92.1,39.1 94.0,41.4 95.9,43.7 97.9,45.2 99.8,45.4 101.7,44.9 103.6,43.9 105.5,42.7 107.4,39.5 109.3,35.5 111.2,31.6 113.1,28.5 115.1,29.7 117.0,31.9 118.9,33.2 120.8,33.4 122.7,33.0 124.6,32.5 126.5,31.9 128.4,31.2 130.3,30.5 132.3,29.7 134.2,29.2 136.1,28.7 138.0,28.4" fill="none" stroke="#7E2F8E" stroke-width="0.42"/>
<polyline points="21.4,92.2 23.3,92.6 25.2,93.0 27.2,93.5 29.1,94.0 31.0,94.6 32.9,95.2 34.8,95.6 36.7,95.4 38.6,95.0 40.5,94.4 42.4,92.9 44.4,90.8 46.3,89.1 48.2,87.3 50.1,86.3 52.0,86.1 53.9,86.1 55.8,86.1 57.7,86.4 59.6,86.6 61.5,86.6 63.5,85.9 65.4,84.6 67.3,83.2 69.2,81.7 71.1,79.7 73.0,77.5 74.9,75.3 76.8,73.3 78.7,72.2 80.7,71.3 82.6,70.9 84.5,70.9 86.4,70.9 88.3,71.2 90.2,71.8 92.1,72.4 94.0,73.2 95.9,74.0 97.9,74.4 99.8,74.5 101.7,74.1 103.6,73.5 105.5,72.8 107.4,71.1 109.3,69.1 111.2,67.2 113.1,65.3 115.1,66.4 117.0,68.3 118.9,69.6 120.8,69.7 122.7,69.5 124.6,69.1 126.5,68.8 128.4,68.3 130.3,67.6 132.3,67.0 134.2,66.5 136.1,66.1 138.0,65.8" fill="none" stroke="#77AC30" stroke-width="0.42"/>
<polyline points="21.4,83.7 23.3,84.3 25.2,84.9 27.2,85.5 29.1,86.2 31.0,87.0 32.9,87.9 34.8,88.3 36.7,88.0 38.6,87.1 40.5,86.0 42.4,83.9 44.4,81.1 46.3,78.7 48.2,76.3 50.1,75.0 52.0,75.0 53.9,75.2 55.8,75.4 57.7,75.9 59.6,76.3 61.5,76.3 63.5,75.1 65.4,73.1 67.3,70.6 69.2,67.4 71.1,62.7 73.0,57.6 74.9,52.4 76.8,47.8 78.7,46.6 80.7,45.7 82.6,45.4 84.5,45.4 86.4,45.4 88.3,45.9 90.2,47.1 92.1,48.5 94.0,50.4 95.9,52.3 97.9,53.5 99.8,53.7 101.7,53.2 103.6,52.4 105.5,51.3 107.4,48.6 109.3,45.2 111.2,41.9 113.1,39.1 115.1,40.3 117.0,42.5 118.9,43.8 120.8,44.0 122.7,43.7 124.6,43.2 126.5,42.7 128.4,42.1 130.3,41.4 132.3,40.7 134.2,40.2 136.1,39.7 138.0,39.4" fill="none" stroke="#4DBEEE" stroke-width="0.42"/>
<polyline points="21.4,90.1 23.3,90.6 25.2,91.1 27.2,91.6 29.1,92.1 31.0,92.8 32.9,93.5 34.8,93.8 36.7,93.6 38.6,93.1 40.5,92.4 42.4,90.7 44.4,88.5 46.3,86.6 48.2,84.7 50.1,83.5 52.0,83.4 53.9,83.4 55.8,83.5 57.7,83.8 59.6,84.0 61.5,84.0 63.5,83.2 65.4,81.7 67.3,80.0 69.2,78.1 71.1,75.4 73.0,72.4 74.9,69.5 76.8,66.8 78.7,65.6 80.7,64.7 82.6,64.3 84.5,64.3 86.4,64.3 88.3,64.6 90.2,65.4 92.1,66.2 94.0,67.3 95.9,68.4 97.9,69.0 99.8,69.1 101.7,68.8 103.6,68.1 105.5,67.3 107.4,65.3 109.3,63.0 111.2,60.8 113.1,58.7 115.1,59.8 117.0,61.8 118.9,63.1 120.8,63.3 122.7,63.1 124.6,62.8 126.5,62.4 128.4,61.9 130.3,61.3 132.3,60.6 134.2,60.1 136.1,59.8 138.0,59.4" fill="none" stroke="#A2142F" stroke-width="0.42"/>
<polyline points="21.4,78.1 23.3,78.8 25.2,79.6 27.2,80.4 29.1,81.1 31.0,82.1 32.9,83.1 34.8,83.6 36.7,83.2 38.6,82.1 40.5,80.7 42.4,78.2 44.4,75.0 46.3,72.2 48.2,69.4 50.1,67.9 52.0,68.0 53.9,68.4 55.8,68.8 57.7,69.4 59.6,69.9 61.5,69.9 63.5,68.5 65.4,66.0 67.3,62.8 69.2,58.6 71.1,52.2 73.0,45.3 74.9,38.3 76.8,32.2 78.7,30.8 80.7,30.0 82.6,29.7 84.5,29.7 86.4,29.7 88.3,30.2 90.2,31.8 92.1,33.7 94.0,36.2 95.9,38.8 97.9,40.4 99.8,40.6 101.7,40.1 103.6,39.1 105.5,37.7 107.4,34.3 109.3,30.0 111.2,25.7 113.1,22.4 115.1,23.7 117.0,25.9 118.9,27.3 120.8,27.4 122.7,27.0 124.6,26.4 126.5,25.9 128.4,25.2 130.3,24.4 132.3,23.6 134.2,23.1 136.1,22.6 138.0,22.3" fill="none" stroke="#0072BD" stroke-width="0.42"/>
<polyline points="21.4,93.3 23.3,93.7 25.2,94.1 27.2,94.5 29.1,95.0 31.0,95.6 32.9,96.2 34.8,96.5 36.7,96.4 38.6,96.0 40.5,95.4 42.4,94.0 44.4,92.0 46.3,90.4 48.2,88.7 50.1,87.7 52.0,87.5 53.9,87.4 55.8,87.4 57.7,87.6 59.6,87.8 61.5,87.8 63.5,87.1 65.4,86.0 67.3,84.7 69.2,83.3 71.1,81.6 73.0,79.8 74.9,78.0 76.8,76.2 78.7,75.2 80.7,74.3 82.6,73.9 84.5,73.9 86.4,73.9 88.3,74.1 90.2,74.7 92.1,75.3 94.0,75.9 95.9,76.6 97.9,77.0 99.8,77.0 101.7,76.7 103.6,76.2 105.5,75.4 107.4,73.9 109.3,72.2 111.2,70.5 113.1,68.7 115.1,69.7 117.0,71.6 118.9,72.9 120.8,73.1 122.7,72.9 124.6,72.6 126.5,72.3 128.4,71.8 130.3,71.2 132.3,70.6 134.2,70.0 136.1,69.7 138.0,69.3" fill="none" stroke="#D95319" stroke-width="0.42"/>
<polyline points="21.4,85.9 23.3,86.4 25.2,87.0 27.2,87.6 29.1,88.2 31.0,89.0 32.9,89.8 34.8,90.2 36.7,89.9 38.6,89.2 40.5,88.2 42.4,86.2 44.4,83.7 46.3,81.5 48.2,79.3 50.1,78.0 52.0,78.0 53.9,78.1 55.8,78.3 57.7,78.8 59.6,79.1 61.5,79.1 63.5,78.1 65.4,76.3 67.3,74.1 69.2,71.4 71.1,67.5 73.0,63.2 74.9,58.9 76.8,55.0 78.7,53.8 80.7,53.0 82.6,52.7 84.5,52.7 86.4,52.7 88.3,53.1 90.2,54.1 92.1,55.3 94.0,56.9 95.9,58.4 97.9,59.4 99.8,59.5 101.7,59.1 103.6,58.3 105.5,57.2 107.4,54.8 109.3,51.7 111.2,48.8 113.1,46.2 115.1,47.3 117.0,49.4 118.9,50.7 120.8,50.8 122.7,50.5 124.6,50.0 126.5,49.6 128.4,48.9 130.3,48.2 132.3,47.5 134.2,47.0 136.1,46.6 138.0,46.2" fill="none" stroke="#EDB120" stroke-width="0.42"/>
<polyline points="21.4,93.1 23.3,93.5 25.2,93.9 27.2,94.3 29.1,94.8 31.0,95.4 32.9,96.0 34.8,96.3 36.7,96.2 38.6,95.8 40.5,95.2 42.4,93.8 44.4,91.8 46.3,90.1 48.2,88.4 50.1,87.4 52.0,87.2 53.9,87.1 55.8,87.2 57.7,87.4 59.6,87.6 61.5,87.6 63.5,86.9 65.4,85.8 67.3,84.5 69.2,83.1 71.1,81.3 73.0,79.4 74.9,77.5 76.8,75.8 78.7,74.7 80.7,73.8 82.6,73.4 84.5,73.4 86.4,73.4 88.3,73.7 90.2,74.2 92.1,74.8 94.0,75.5 95.9,76.1 97.9,76.6 99.8,76.6 101.7,76.3 103.6,75.7 105.5,75.0 107.4,73.4 109.3,71.6 111.2,69.9 113.1,68.0 115.1,69.1 117.0,70.9 118.9,72.2 120.8,72.4 122.7,72.2 124.6,71.9 126.5,71.5 128.4,71.0 130.3,70.4 132.3,69.8 134.2,69.3 136.1,68.9 138.0,68.5" fill="none" stroke="#7E2F8E" stroke-width="0.42"/>
<polyline points="21.4,84.7 23.3,85.3 25.2,85.9 27.2,86.5 29.1,87.1 31.0,87.9 32.9,88.8 34.8,89.2 36.7,88.9 38.6,88.1 40.5,87.0 42.4,85.0 44.4,82.3 46.3,80.0 48.2,77.7 50.1,76.4 52.0,76.4 53.9,76.5 55.8,76.8 57.7,77.2 59.6,77.6 61.5,77.6 63.5,76.5 65.4,74.6 67.3,72.2 69.2,69.3 71.1,64.9 73.0,60.2 74.9,55.5 76.8,51.3 78.7,50.0 80.7,49.2 82.6,48.9 84.5,48.9 86.4,49.0 88.3,49.4 90.2,50.6 92.1,51.8 94.0,53.6 95.9,55.3 97.9,56.4 99.8,56.6 101.7,56.1 103.6,55.3 105.5,54.3 107.4,51.7 109.3,48.5 111.2,45.3 113.1,42.7 115.1,43.9 117.0,46.0 118.9,47.3 120.8,47.4 122.7,47.1 124.6,46.6 126.5,46.1 128.4,45.5 130.3,44.8 132.3,44.1 134.2,43.5 136.1,43.1 138.0,42.7" fill="none" stroke="#77AC30" stroke-width="0.42"/>
<polyline points="21.4,83.8 23.3,84.4 25.2,85.0 27.2,85.7 29.1,86.3 31.0,87.2 32.9,88.1 34.8,88.5 36.7,88.2 38.6,87.4 40.5,86.3 42.4,84.1 44.4,81.4 46.3,79.1 48.2,76.7 50.1,75.3 52.0,75.4 53.9,75.6 55.8,75.8 57.7,76.3 59.6,76.7 61.5,76.7 63.5,75.5 65.4,73.5 67.3,71.0 69.2,67.9 71.1,63.3 73.0,58.2 74.9,53.1 76.8,48.6 78.7,47.3 80.7,46.5 82.6,46.1 84.5,46.1 86.4,46.1 88.3,46.5 90.2,47.7 92.1,49.0 94.0,50.9 95.9,52.7 97.9,53.9 99.8,54.0 101.7,53.6 103.6,52.7 105.5,51.6 107.4,48.9 109.3,45.5 111.2,42.2 113.1,39.4 115.1,40.6 117.0,42.8 118.9,44.1 120.8,44.3 122.7,44.0 124.6,43.5 126.5,43.0 128.4,42.4 130.3,41.7 132.3,41.1 134.2,40.5 136.1,40.2 138.0,39.9" fill="none" stroke="#4DBEEE" stroke-width="0.42"/>
<polyline points="21.4,81.7 23.3,82.4 25.2,83.0 27.2,83.7 29.1,84.4 31.0,85.3 32.9,86.2 34.8,86.7 36.7,86.3 38.6,85.4 40.5,84.2 42.4,81.9 44.4,79.0 46.3,76.5 48.2,73.9 50.1,72.5 52.0,72.5 53.9,72.8 55.8,73.1 57.7,73.6 59.6,74.1 61.5,74.1 63.5,72.8 65.4,70.6 67.3,67.9 69.2,64.4 71.1,59.1 73.0,53.3 74.9,47.5 76.8,42.5 78.7,41.1 80.7,40.3 82.6,40.0 84.5,40.0 86.4,40.1 88.3,40.6 90.2,41.9 92.1,43.5 94.0,45.6 95.9,47.7 97.9,49.1 99.8,49.2 101.7,48.8 103.6,47.9 105.5,46.7 107.4,43.7 109.3,40.0 111.2,36.4 113.1,33.4 115.1,34.7 117.0,36.9 118.9,38.2 120.8,38.3 122.7,38.0 124.6,37.5 126.5,37.0 128.4,36.3 130.3,35.6 132.3,34.8 134.2,34.3 136.1,33.9 138.0,33.5" fill="none" stroke="#A2142F" stroke-width="0.42"/>
<polyline points="21.4,80.3 23.3,81.0 25.2,81.7 27.2,82.4 29.1,83.1 31.0,84.1 32.9,85.0 34.8,85.5 36.7,85.1 38.6,84.1 40.5,82.8 42.4,80.5 44.4,77.4 46.3,74.8 48.2,72.2 50.1,70.7 52.0,70.8 53.9,71.1 55.8,71.4 57.7,72.0 59.6,72.5 61.5,72.5 63.5,71.2 65.4,68.8 67.3,65.9 69.2,62.1 71.1,56.4 73.0,50.2 74.9,43.9 76.8,38.4 78.7,37.0 80.7,36.2 82.6,35.9 84.5,35.9 86.4,35.9 88.3,36.4 90.2,37.8 92.1,39.5 94.0,41.8 95.9,44.1 97.9,45.6 99.8,45.7 101.7,45.2 103.6,44.3 105.5,43.1 107.4,39.9 109.3,36.0 111.2,32.1 113.1,29.0 115.1,30.2 117.0,32.5 118.9,33.8 120.8,33.9 122.7,33.6 124.6,33.1 126.5,32.5 128.4,31.9 130.3,31.1 132.3,30.4 134.2,29.9 136.1,29.5 138.0,29.1" fill="none" stroke="#0072BD" stroke-width="0.42"/>
<polyline points="21.4,93.4 23.3,93.8 25.2,94.2 27.2,94.6 29.1,95.1 31.0,95.7 32.9,96.3 34.8,96.6 36.7,96.5 38.6,96.1 40.5,95.6 42.4,94.1 44.4,92.2 46.3,90.5 48.2,88.9 50.1,87.9 52.0,87.7 53.9,87.6 55.8,87.6 57.7,87.8 59.6,88.0 61.5,88.0 63.5,87.3 65.4,86.2 67.3,84.9 69.2,83.6 71.1,81.9 73.0,80.1 74.9,78.3 76.8,76.6 78.7,75.5 80.7,74.6 82.6,74.2 84.5,74.2 86.4,74.2 88.3,74.4 90.2,75.0 92.1,75.5 94.0,76.1 95.9,76.8 97.9,77.2 99.8,77.2 101.7,76.9 103.6,76.3 105.5,75.6 107.4,74.1 109.3,72.3 111.2,70.7 113.1,68.9 115.1,69.9 117.0,71.8 118.9,73.1 120.8,73.3 122.7,73.1 124.6,72.8 126.5,72.5 128.4,72.0 130.3,71.4 132.3,70.8 134.2,70.3 136.1,70.0 138.0,69.6" fill="none" stroke="#D95319" stroke-width="0.42"/>
<polyline points="21.4,91.9 23.3,92.3 25.2,92.7 27.2,93.2 29.1,93.7 31.0,94.3 32.9,95.0 34.8,95.3 36.7,95.1 38.6,94.6 40.5,94.0 42.4,92.5 44.4,90.4 46.3,88.6 48.2,86.8 50.1,85.7 52.0,85.6 53.9,85.5 55.8,85.6 57.7,85.8 59.6,86.0 61.5,86.0 63.5,85.3 65.4,84.0 67.3,82.5 69.2,80.9 71.1,78.7 73.0,76.4 74.9,74.0 76.8,71.8 78.7,70.7 80.7,69.8 82.6,69.4 84.5,69.4 86.4,69.4 88.3,69.7 90.2,70.4 92.1,71.1 94.0,71.9 95.9,72.8 97.9,73.3 99.8,73.3 101.7,73.0 103.6,72.4 105.5,71.7 107.4,70.0 109.3,67.9 111.2,66.0 113.1,64.1 115.1,65.2 117.0,67.1 118.9,68.4 120.8,68.6 122.7,68.4 124.6,68.1 126.5,67.7 128.4,67.2 130.3,66.6 132.3,66.0 134.2,65.5 136.1,65.1 138.0,64.8" fill="none" stroke="#EDB120" stroke-width="0.42"/>
<polyline points="21.4,82.5 23.3,83.1 25.2,83.8 27.2,84.5 29.1,85.2 31.0,86.1 32.9,87.0 34.8,87.4 36.7,87.1 38.6,86.2 40.5,85.0 42.4,82.8 44.4,80.0 46.3,77.6 48.2,75.1 50.1,73.7 52.0,73.8 53.9,74.0 55.8,74.3 57.7,74.8 59.6,75.2 61.5,75.2 63.5,74.1 65.4,71.9 67.3,69.3 69.2,66.0 71.1,61.0 73.0,55.6 74.9,50.1 76.8,45.3 78.7,44.0 80.7,43.1 82.6,42.8 84.5,42.8 86.4,42.8 88.3,43.2 90.2,44.5 92.1,45.9 94.0,47.9 95.9,49.9 97.9,51.1 99.8,51.3 101.7,50.8 103.6,49.9 105.5,48.7 107.4,45.8 109.3,42.2 111.2,38.7 113.1,35.8 115.1,37.0 117.0,39.1 118.9,40.5 120.8,40.6 122.7,40.2 124.6,39.7 126.5,39.2 128.4,38.6 130.3,37.9 132.3,37.2 134.2,36.6 136.1,36.2 138.0,35.9" fill="none" stroke="#7E2F8E" stroke-width="0.42"/>
<polyline points="21.4,94.4 23.3,94.7 25.2,95.1 27.2,95.5 29.1,96.0 31.0,96.5 32.9,97.1 34.8,97.4 36.7,97.3 38.6,97.0 40.5,96.5 42.4,95.1 44.4,93.2 46.3,91.6 48.2,90.1 50.1,89.1 52.0,88.9 53.9,88.7 55.8,88.7 57.7,88.9 59.6,89.1 61.5,89.1 63.5,88.5 65.4,87.4 67.3,86.3 69.2,85.1 71.1,83.7 73.0,82.3 74.9,80.8 76.8,79.3 78.7,78.3 80.7,77.4 82.6,77.0 84.5,77.0 86.4,77.0 88.3,77.2 90.2,77.7 92.1,78.1 94.0,78.7 95.9,79.2 97.9,79.5 99.8,79.5 101.7,79.2 103.6,78.7 105.5,78.0 107.4,76.6 109.3,75.0 111.2,73.5 113.1,71.8 115.1,72.8 117.0,74.7 118.9,76.0 120.8,76.2 122.7,76.0 124.6,75.7 126.5,75.4 128.4,74.9 130.3,74.4 132.3,73.8 134.2,73.3 136.1,72.9 138.0,72.5" fill="none" stroke="#77AC30" stroke-width="0.42"/>
<polyline points="21.4,86.1 23.3,86.6 25.2,87.2 27.2,87.8 29.1,88.4 31.0,89.1 32.9,89.9 34.8,90.3 36.7,90.0 38.6,89.3 40.5,88.3 42.4,86.4 44.4,83.8 46.3,81.6 48.2,79.4 50.1,78.1 52.0,78.1 53.9,78.2 55.8,78.4 57.7,78.8 59.6,79.2 61.5,79.1 63.5,78.1 65.4,76.3 67.3,74.1 69.2,71.4 71.1,67.4 73.0,63.1 74.9,58.8 76.8,55.0 78.7,53.8 80.7,52.9 82.6,52.6 84.5,52.6 86.4,52.7 88.3,53.1 90.2,54.1 92.1,55.3 94.0,56.9 95.9,58.5 97.9,59.5 99.8,59.6 101.7,59.2 103.6,58.5 105.5,57.5 107.4,55.1 109.3,52.1 111.2,49.2 113.1,46.7 115.1,47.8 117.0,49.9 118.9,51.2 120.8,51.4 122.7,51.1 124.6,50.7 126.5,50.2 128.4,49.6 130.3,48.9 132.3,48.2 134.2,47.7 136.1,47.3 138.0,46.9" fill="none" stroke="#4DBEEE" stroke-width="0.42"/>
<polyline points="21.4,86.9 23.3,87.4 25.2,88.0 27.2,88.6 29.1,89.2 31.0,89.9 32.9,90.7 34.8,91.1 36.7,90.9 38.6,90.2 40.5,89.3 42.4,87.4 44.4,85.0 46.3,82.8 48.2,80.7 50.1,79.5 52.0,79.4 53.9,79.5 55.8,79.7 57.7,80.1 59.6,80.5 61.5,80.4 63.5,79.5 65.4,77.8 67.3,75.7 69.2,73.2 71.1,69.6 73.0,65.6 74.9,61.6 76.8,58.1 78.7,56.9 80.7,56.0 82.6,55.6 84.5,55.6 86.4,55.6 88.3,55.9 90.2,56.9 92.1,58.0 94.0,59.4 95.9,60.8 97.9,61.7 99.8,61.8 101.7,61.3 103.6,60.6 105.5,59.6 107.4,57.2 109.3,54.4 111.2,51.6 113.1,49.1 115.1,50.2 117.0,52.3 118.9,53.6 120.8,53.7 122.7,53.4 124.6,53.0 126.5,52.6 128.4,52.0 130.3,51.3 132.3,50.7 134.2,50.2 136.1,49.8 138.0,49.5" fill="none" stroke="#A2142F" stroke-width="0.42"/>
<polyline points="21.4,94.9 23.3,95.3 25.2,95.7 27.2,96.0 29.1,96.5 31.0,97.0 32.9,97.6 34.8,97.9 36.7,97.8 38.6,97.5 40.5,97.0 42.4,95.7 44.4,93.9 46.3,92.3 48.2,90.8 50.1,89.8 52.0,89.6 53.9,89.4 55.8,89.4 57.7,89.6 59.6,89.8 61.5,89.7 63.5,89.2 65.4,88.2 67.3,87.1 69.2,86.0 71.1,84.8 73.0,83.6 74.9,82.3 76.8,81.0 78.7,80.0 80.7,79.1 82.6,78.7 84.5,78.7 86.4,78.7 88.3,78.9 90.2,79.3 92.1,79.7 94.0,80.2 95.9,80.6 97.9,80.9 99.8,80.9 101.7,80.6 103.6,80.1 105.5,79.4 107.4,78.1 109.3,76.6 111.2,75.2 113.1,73.6 115.1,74.6 117.0,76.4 118.9,77.7 120.8,77.9 122.7,77.7 124.6,77.4 126.5,77.1 128.4,76.7 130.3,76.1 132.3,75.5 134.2,75.0 136.1,74.6 138.0,74.3" fill="none" stroke="#0072BD" stroke-width="0.42"/>
<polyline points="21.4,95.0 23.3,95.3 25.2,95.7 27.2,96.1 29.1,96.5 31.0,97.1 32.9,97.7 34.8,97.9 36.7,97.8 38.6,97.5 40.5,97.1 42.4,95.8 44.4,93.9 46.3,92.4 48.2,90.8 50.1,89.9 52.0,89.6 53.9,89.5 55.8,89.5 57.7,89.7 59.6,89.8 61.5,89.8 63.5,89.2 65.4,88.2 67.3,87.2 69.2,86.1 71.1,84.9 73.0,83.7 74.9,82.4 76.8,81.2 78.7,80.1 80.7,79.2 82.6,78.8 84.5,78.8 86.4,78.8 88.3,79.0 90.2,79.5 92.1,79.9 94.0,80.3 95.9,80.7 97.9,81.0 99.8,81.0 101.7,80.7 103.6,80.2 105.5,79.6 107.4,78.2 109.3,76.7 111.2,75.3 113.1,73.7 115.1,74.7 117.0,76.6 118.9,77.9 120.8,78.1 122.7,77.9 124.6,77.6 126.5,77.3 128.4,76.8 130.3,76.2 132.3,75.6 134.2,75.1 136.1,74.8 138.0,74.4" fill="none" stroke="#D95319" stroke-width="0.42"/>
<polyline points="21.4,81.3 23.3,82.0 25.2,82.6 27.2,83.3 29.1,84.0 31.0,85.0 32.9,85.9 34.8,86.3 36.7,86.0 38.6,85.0 40.5,83.8 42.4,81.5 44.4,78.6 46.3,76.0 48.2,73.5 50.1,72.0 52.0,72.1 53.9,72.4 55.8,72.7 57.7,73.2 59.6,73.7 61.5,73.7 63.5,72.5 65.4,70.2 67.3,67.5 69.2,63.9 71.1,58.6 73.0,52.7 74.9,46.8 76.8,41.7 78.7,40.4 80.7,39.5 82.6,39.2 84.5,39.2 86.4,39.2 88.3,39.7 90.2,41.1 92.1,42.7 94.0,44.8 95.9,46.9 97.9,48.3 99.8,48.5 101.7,48.0 103.6,47.1 105.5,45.8 107.4,42.8 109.3,39.0 111.2,35.3 113.1,32.3 115.1,33.5 117.0,35.7 118.9,37.0 120.8,37.1 122.7,36.7 124.6,36.2 126.5,35.7 128.4,35.0 130.3,34.2 132.3,33.5 134.2,32.9 136.1,32.5 138.0,32.2" fill="none" stroke="#EDB120" stroke-width="0.42"/>
<polyline points="21.4,94.5 23.3,94.9 25.2,95.2 27.2,95.6 29.1,96.1 31.0,96.6 32.9,97.2 34.8,97.5 36.7,97.4 38.6,97.1 40.5,96.6 42.4,95.3 44.4,93.4 46.3,91.8 48.2,90.2 50.1,89.3 52.0,89.0 53.9,88.9 55.8,88.9 57.7,89.1 59.6,89.3 61.5,89.2 63.5,88.6 65.4,87.6 67.3,86.5 69.2,85.4 71.1,84.0 73.0,82.6 74.9,81.2 76.8,79.8 78.7,78.7 80.7,77.8 82.6,77.4 84.5,77.4 86.4,77.4 88.3,77.6 90.2,78.1 92.1,78.5 94.0,79.0 95.9,79.5 97.9,79.8 99.8,79.8 101.7,79.5 103.6,79.0 105.5,78.3 107.4,77.0 109.3,75.4 111.2,73.9 113.1,72.2 115.1,73.2 117.0,75.1 118.9,76.4 120.8,76.6 122.7,76.4 124.6,76.1 126.5,75.8 128.4,75.3 130.3,74.7 132.3,74.1 134.2,73.6 136.1,73.3 138.0,72.9" fill="none" stroke="#7E2F8E" stroke-width="0.42"/>
<polyline points="21.4,89.2 23.3,89.7 25.2,90.2 27.2,90.7 29.1,91.2 31.0,92.0 32.9,92.7 34.8,93.1 36.7,92.8 38.6,92.3 40.5,91.5 42.4,89.8 44.4,87.5 46.3,85.5 48.2,83.6 50.1,82.4 52.0,82.3 53.9,82.3 55.8,82.5 57.7,82.8 59.6,83.1 61.5,83.1 63.5,82.2 65.4,80.7 67.3,78.9 69.2,76.8 71.1,73.8 73.0,70.6 74.9,67.4 76.8,64.4 78.7,63.3 80.7,62.4 82.6,62.0 84.5,62.0 86.4,61.9 88.3,62.2 90.2,63.0 92.1,63.9 94.0,65.1 95.9,66.2 97.9,67.0 99.8,67.0 101.7,66.6 103.6,65.9 105.5,65.0 107.4,63.0 109.3,60.5 111.2,58.1 113.1,55.9 115.1,57.0 117.0,59.0 118.9,60.3 120.8,60.5 122.7,60.2 124.6,59.9 126.5,59.5 128.4,58.9 130.3,58.3 132.3,57.7 134.2,57.2 136.1,56.8 138.0,56.5" fill="none" stroke="#77AC30" stroke-width="0.42"/>
<polyline points="21.4,87.9 23.3,88.4 25.2,89.0 27.2,89.5 29.1,90.1 31.0,90.8 32.9,91.6 34.8,92.0 36.7,91.7 38.6,91.1 40.5,90.3 42.4,88.4 44.4,86.0 46.3,84.0 48.2,81.9 50.1,80.7 52.0,80.6 53.9,80.7 55.8,80.9 57.7,81.2 59.6,81.5 61.5,81.5 63.5,80.6 65.4,78.9 67.3,76.9 69.2,74.6 71.1,71.2 73.0,67.5 74.9,63.8 76.8,60.5 78.7,59.3 80.7,58.4 82.6,58.0 84.5,58.0 86.4,58.0 88.3,58.3 90.2,59.2 92.1,60.2 94.0,61.6 95.9,62.9 97.9,63.7 99.8,63.8 101.7,63.4 103.6,62.7 105.5,61.8 107.4,59.5 109.3,56.8 111.2,54.2 113.1,51.9 115.1,53.0 117.0,55.1 118.9,56.4 120.8,56.6 122.7,56.3 124.6,56.0 126.5,55.6 128.4,55.0 130.3,54.4 132.3,53.7 134.2,53.2 136.1,52.9 138.0,52.6" fill="none" stroke="#4DBEEE" stroke-width="0.42"/>
<polyline points="21.4,92.7 23.3,93.1 25.2,93.5 27.2,94.0 29.1,94.4 31.0,95.1 32.9,95.7 34.8,96.0 36.7,95.9 38.6,95.4 40.5,94.8 42.4,93.4 44.4,91.4 46.3,89.6 48.2,87.9 50.1,86.9 52.0,86.7 53.9,86.6 55.8,86.7 57.7,86.9 59.6,87.1 61.5,87.1 63.5,86.4 65.4,85.2 67.3,83.8 69.2,82.3 71.1,80.4 73.0,78.4 74.9,76.3 76.8,74.3 78.7,73.3 80.7,72.4 82.6,72.0 84.5,72.0 86.4,72.0 88.3,72.2 90.2,72.8 92.1,73.4 94.0,74.2 95.9,74.9 97.9,75.3 99.8,75.4 101.7,75.1 103.6,74.5 105.5,73.8 107.4,72.2 109.3,70.3 111.2,68.5 113.1,66.6 115.1,67.7 117.0,69.6 118.9,70.9 120.8,71.1 122.7,70.9 124.6,70.6 126.5,70.3 128.4,69.8 130.3,69.2 132.3,68.6 134.2,68.1 136.1,67.7 138.0,67.4" fill="none" stroke="#A2142F" stroke-width="0.42"/>
<polyline points="21.4,93.6 23.3,94.0 25.2,94.4 27.2,94.8 29.1,95.2 31.0,95.8 32.9,96.5 34.8,96.8 36.7,96.6 38.6,96.3 40.5,95.7 42.4,94.3 44.4,92.4 46.3,90.7 48.2,89.1 50.1,88.1 52.0,87.9 53.9,87.8 55.8,87.8 57.7,88.0 59.6,88.2 61.5,88.2 63.5,87.6 65.4,86.5 67.3,85.2 69.2,83.9 71.1,82.3 73.0,80.6 74.9,78.9 76.8,77.3 78.7,76.2 80.7,75.3 82.6,74.9 84.5,74.9 86.4,74.9 88.3,75.1 90.2,75.6 92.1,76.1 94.0,76.8 95.9,77.3 97.9,77.7 99.8,77.7 101.7,77.4 103.6,76.9 105.5,76.2 107.4,74.6 109.3,72.9 111.2,71.3 113.1,69.5 115.1,70.5 117.0,72.4 118.9,73.7 120.8,73.9 122.7,73.7 124.6,73.4 126.5,73.0 128.4,72.5 130.3,71.9 132.3,71.3 134.2,70.8 136.1,70.5 138.0,70.1" fill="none" stroke="#0072BD" stroke-width="0.42"/>
<rect x="21.3" y="12.9" width="2.7" height="85.2" fill="#ff0000" fill-opacity="0.50"/>
<rect x="24.6" y="12.9" width="3.3" height="85.2" fill="#ff0000" fill-opacity="0.50"/>
<rect x="28.5" y="12.9" width="2.1" height="85.2" fill="#ff0000" fill-opacity="0.50"/>
<rect x="31.2" y="12.9" width="3.4" height="85.2" fill="#ff0000" fill-opacity="0.50"/>
<rect x="35.2" y="12.9" width="12.45" height="85.2" fill="#ff0000" fill-opacity="0.50"/>
<rect x="48.25" y="12.9" width="8.6" height="85.2" fill="#ff0000" fill-opacity="0.50"/>
<rect x="57.45" y="12.9" width="1.6" height="85.2" fill="#ff0000" fill-opacity="0.50"/>
<rect x="59.65" y="12.9" width="4.65" height="85.2" fill="#ff0000" fill-opacity="0.50"/>
<rect x="64.9" y="12.9" width="5.05" height="85.2" fill="#ff0000" fill-opacity="0.50"/>
<rect x="70.55" y="12.9" width="1.7" height="85.2" fill="#ff0000" fill-opacity="0.50"/>
<rect x="72.85" y="12.9" width="5.25" height="85.2" fill="#ff0000" fill-opacity="0.50"/>
<rect x="78.7" y="12.9" width="11.85" height="85.2" fill="#ff0000" fill-opacity="0.50"/>
<rect x="91.15" y="12.9" width="3.95" height="85.2" fill="#ff0000" fill-opacity="0.50"/>
<rect x="95.7" y="12.9" width="7.95" height="85.2" fill="#ff0000" fill-opacity="0.50"/>
<rect x="104.25" y="12.9" width="6.65" height="85.2" fill="#ff0000" fill-opacity="0.50"/>
<rect x="114.3" y="12.9" width="1.7" height="85.2" fill="#ff0000" fill-opacity="0.50"/>
<rect x="119.4" y="12.9" width="8.3" height="85.2" fill="#ff0000" fill-opacity="0.50"/>
<rect x="128.3" y="12.9" width="3.4" height="85.2" fill="#ff0000" fill-opacity="0.50"/>
<rect x="132.3" y="12.9" width="3.4" height="85.2" fill="#ff0000" fill-opacity="0.50"/>
<rect x="136.3" y="12.9" width="1.4" height="85.2" fill="#ff0000" fill-opacity="0.50"/>
</g>
<rect x="21.3" y="12.9" width="116.4" height="85.2" fill="none" stroke="#6e6e6e" stroke-width="1"/>
<line x1="40.1" y1="98.1" x2="40.1" y2="96.9" stroke="#6e6e6e" stroke-width="0.6"/>
<line x1="40.1" y1="12.9" x2="40.1" y2="14.1" stroke="#6e6e6e" stroke-width="0.6"/>
<text x="40.1" y="107" font-size="6.7" text-anchor="middle" font-weight="bold" fill="#111" textLength="10.05" lengthAdjust="spacingAndGlyphs">500</text>
<line x1="58.78" y1="98.1" x2="58.78" y2="96.9" stroke="#6e6e6e" stroke-width="0.6"/>
<line x1="58.78" y1="12.9" x2="58.78" y2="14.1" stroke="#6e6e6e" stroke-width="0.6"/>
<text x="58.78" y="107" font-size="6.7" text-anchor="middle" font-weight="bold" fill="#111" textLength="13.4" lengthAdjust="spacingAndGlyphs">1000</text>
<line x1="77.46" y1="98.1" x2="77.46" y2="96.9" stroke="#6e6e6e" stroke-width="0.6"/>
<line x1="77.46" y1="12.9" x2="77.46" y2="14.1" stroke="#6e6e6e" stroke-width="0.6"/>
<text x="77.46" y="107" font-size="6.7" text-anchor="middle" font-weight="bold" fill="#111" textLength="13.4" lengthAdjust="spacingAndGlyphs">1500</text>
<line x1="96.14" y1="98.1" x2="96.14" y2="96.9" stroke="#6e6e6e" stroke-width="0.6"/>
<line x1="96.14" y1="12.9" x2="96.14" y2="14.1" stroke="#6e6e6e" stroke-width="0.6"/>
<text x="96.14" y="107" font-size="6.7" text-anchor="middle" font-weight="bold" fill="#111" textLength="13.4" lengthAdjust="spacingAndGlyphs">2000</text>
<line x1="114.82" y1="98.1" x2="114.82" y2="96.9" stroke="#6e6e6e" stroke-width="0.6"/>
<line x1="114.82" y1="12.9" x2="114.82" y2="14.1" stroke="#6e6e6e" stroke-width="0.6"/>
<text x="114.82" y="107" font-size="6.7" text-anchor="middle" font-weight="bold" fill="#111" textLength="13.4" lengthAdjust="spacingAndGlyphs">2500</text>
<line x1="133.5" y1="98.1" x2="133.5" y2="96.9" stroke="#6e6e6e" stroke-width="0.6"/>
<line x1="133.5" y1="12.9" x2="133.5" y2="14.1" stroke="#6e6e6e" stroke-width="0.6"/>
<text x="133.5" y="107" font-size="6.7" text-anchor="middle" font-weight="bold" fill="#111" textLength="13.4" lengthAdjust="spacingAndGlyphs">3000</text>
<text x="18.7" y="90.61" font-size="6.7" text-anchor="end" font-weight="bold" fill="#111">0.5</text>
<text x="18.7" y="53.91" font-size="6.7" text-anchor="end" font-weight="bold" fill="#111">1</text>
<text x="18.7" y="17.21" font-size="6.7" text-anchor="end" font-weight="bold" fill="#111">1.5</text>
<text x="79.7" y="10.9" font-size="7.4" text-anchor="middle" font-weight="bold" fill="#111">Auto iOPS</text>
<text x="79.2" y="116.6" font-size="7.6" text-anchor="middle" font-weight="bold" fill="#111" textLength="30.2" lengthAdjust="spacingAndGlyphs">Variables</text>
<text transform="translate(8.6 55.3) rotate(-90)" font-size="7.6" text-anchor="middle" font-weight="bold" fill="#111" textLength="30" lengthAdjust="spacingAndGlyphs">Intensity</text>
<text x="8.2" y="7.4" font-size="6.7" font-weight="bold" fill="#2a2a2a" style="stroke:none">(</text>
<text x="15.25" y="8.7" font-size="7.7" font-weight="bold" text-anchor="middle" fill="#111">A</text>
<text x="22.4" y="7.4" font-size="6.7" font-weight="bold" text-anchor="end" fill="#2a2a2a" style="stroke:none">)</text>
<clipPath id="cE"><rect x="21.2" y="130.7" width="116.3" height="80.9"/></clipPath>
<g clip-path="url(#cE)">
<polyline points="21.4,200.4 23.3,200.9 25.2,201.4 27.2,202.0 29.1,202.5 31.0,203.3 32.9,204.0 34.8,204.4 36.7,204.1 38.6,203.5 40.5,202.6 42.4,200.8 44.4,198.4 46.3,196.4 48.2,194.3 50.1,193.1 52.0,193.0 53.9,193.1 55.8,193.3 57.7,193.7 59.6,194.0 61.5,194.0 63.5,193.0 65.4,191.3 67.3,189.3 69.2,186.8 71.1,183.2 73.0,179.3 74.9,175.3 76.8,171.8 78.7,170.7 80.7,169.8 82.6,169.5 84.5,169.5 86.4,169.5 88.3,169.8 90.2,170.8 92.1,171.8 94.0,173.3 95.9,174.7 97.9,175.6 99.8,175.7 101.7,175.3 103.6,174.6 105.5,173.7 107.4,171.4 109.3,168.7 111.2,166.0 113.1,163.7 115.1,164.8 117.0,166.8 118.9,168.0 120.8,168.2 122.7,168.0 124.6,167.6 126.5,167.2 128.4,166.7 130.3,166.0 132.3,165.4 134.2,164.9 136.1,164.6 138.0,164.3" fill="none" stroke="#0072BD" stroke-width="0.42"/>
<polyline points="21.4,205.5 23.3,205.9 25.2,206.3 27.2,206.8 29.1,207.2 31.0,207.8 32.9,208.5 34.8,208.8 36.7,208.6 38.6,208.2 40.5,207.6 42.4,206.2 44.4,204.2 46.3,202.6 48.2,200.9 50.1,199.9 52.0,199.7 53.9,199.7 55.8,199.7 57.7,200.0 59.6,200.2 61.5,200.2 63.5,199.5 65.4,198.3 67.3,196.9 69.2,195.4 71.1,193.4 73.0,191.3 74.9,189.1 76.8,187.1 78.7,186.1 80.7,185.2 82.6,184.9 84.5,184.8 86.4,184.8 88.3,185.0 90.2,185.7 92.1,186.3 94.0,187.0 95.9,187.8 97.9,188.3 99.8,188.3 101.7,188.0 103.6,187.4 105.5,186.7 107.4,185.1 109.3,183.2 111.2,181.3 113.1,179.5 115.1,180.5 117.0,182.3 118.9,183.6 120.8,183.8 122.7,183.6 124.6,183.3 126.5,182.9 128.4,182.5 130.3,181.9 132.3,181.3 134.2,180.9 136.1,180.5 138.0,180.2" fill="none" stroke="#D95319" stroke-width="0.42"/>
<polyline points="21.4,204.9 23.3,205.3 25.2,205.7 27.2,206.1 29.1,206.6 31.0,207.2 32.9,207.9 34.8,208.2 36.7,208.0 38.6,207.6 40.5,206.9 42.4,205.5 44.4,203.5 46.3,201.8 48.2,200.1 50.1,199.0 52.0,198.9 53.9,198.9 55.8,199.0 57.7,199.2 59.6,199.4 61.5,199.4 63.5,198.7 65.4,197.5 67.3,196.0 69.2,194.4 71.1,192.3 73.0,190.0 74.9,187.6 76.8,185.4 78.7,184.4 80.7,183.5 82.6,183.2 84.5,183.2 86.4,183.2 88.3,183.4 90.2,184.1 92.1,184.7 94.0,185.6 95.9,186.4 97.9,186.9 99.8,186.9 101.7,186.6 103.6,186.0 105.5,185.2 107.4,183.5 109.3,181.5 111.2,179.6 113.1,177.7 115.1,178.7 117.0,180.5 118.9,181.7 120.8,181.9 122.7,181.7 124.6,181.3 126.5,181.0 128.4,180.5 130.3,179.9 132.3,179.3 134.2,178.8 136.1,178.4 138.0,178.1" fill="none" stroke="#EDB120" stroke-width="0.42"/>
<polyline points="21.4,200.9 23.3,201.4 25.2,201.9 27.2,202.4 29.1,203.0 31.0,203.7 32.9,204.5 34.8,204.8 36.7,204.6 38.6,203.9 40.5,203.1 42.4,201.3 44.4,199.0 46.3,197.0 48.2,195.0 50.1,193.8 52.0,193.7 53.9,193.8 55.8,194.0 57.7,194.4 59.6,194.7 61.5,194.7 63.5,193.8 65.4,192.2 67.3,190.3 69.2,187.9 71.1,184.6 73.0,180.9 74.9,177.3 76.8,174.0 78.7,172.9 80.7,172.1 82.6,171.8 84.5,171.8 86.4,171.8 88.3,172.1 90.2,173.1 92.1,174.1 94.0,175.4 95.9,176.7 97.9,177.6 99.8,177.7 101.7,177.3 103.6,176.6 105.5,175.7 107.4,173.5 109.3,170.9 111.2,168.3 113.1,166.0 115.1,167.0 117.0,168.9 118.9,170.2 120.8,170.3 122.7,170.0 124.6,169.6 126.5,169.2 128.4,168.6 130.3,167.9 132.3,167.3 134.2,166.8 136.1,166.4 138.0,166.0" fill="none" stroke="#7E2F8E" stroke-width="0.42"/>
<polyline points="21.4,203.4 23.3,203.9 25.2,204.3 27.2,204.8 29.1,205.3 31.0,205.9 32.9,206.6 34.8,206.9 36.7,206.7 38.6,206.2 40.5,205.5 42.4,203.9 44.4,201.8 46.3,199.9 48.2,198.1 50.1,197.0 52.0,196.9 53.9,196.9 55.8,197.0 57.7,197.3 59.6,197.6 61.5,197.6 63.5,196.8 65.4,195.4 67.3,193.7 69.2,191.8 71.1,189.2 73.0,186.3 74.9,183.5 76.8,180.9 78.7,179.8 80.7,179.0 82.6,178.7 84.5,178.7 86.4,178.7 88.3,179.0 90.2,179.8 92.1,180.6 94.0,181.7 95.9,182.7 97.9,183.4 99.8,183.4 101.7,183.1 103.6,182.5 105.5,181.7 107.4,179.8 109.3,177.6 111.2,175.5 113.1,173.5 115.1,174.5 117.0,176.3 118.9,177.6 120.8,177.8 122.7,177.5 124.6,177.2 126.5,176.8 128.4,176.3 130.3,175.6 132.3,175.0 134.2,174.5 136.1,174.1 138.0,173.8" fill="none" stroke="#77AC30" stroke-width="0.42"/>
<polyline points="21.4,202.6 23.3,203.0 25.2,203.5 27.2,204.0 29.1,204.5 31.0,205.2 32.9,205.9 34.8,206.2 36.7,206.0 38.6,205.5 40.5,204.7 42.4,203.0 44.4,200.8 46.3,198.9 48.2,197.0 50.1,195.9 52.0,195.8 53.9,195.8 55.8,196.0 57.7,196.3 59.6,196.5 61.5,196.5 63.5,195.7 65.4,194.2 67.3,192.4 69.2,190.4 71.1,187.4 73.0,184.3 74.9,181.0 76.8,178.2 78.7,177.1 80.7,176.2 82.6,175.9 84.5,175.9 86.4,175.9 88.3,176.2 90.2,177.0 92.1,177.9 94.0,179.1 95.9,180.2 97.9,181.0 99.8,181.1 101.7,180.7 103.6,180.1 105.5,179.3 107.4,177.3 109.3,174.9 111.2,172.6 113.1,170.6 115.1,171.6 117.0,173.5 118.9,174.8 120.8,175.0 122.7,174.7 124.6,174.4 126.5,174.0 128.4,173.5 130.3,172.9 132.3,172.3 134.2,171.8 136.1,171.5 138.0,171.2" fill="none" stroke="#4DBEEE" stroke-width="0.42"/>
<polyline points="21.4,207.6 23.3,208.0 25.2,208.3 27.2,208.7 29.1,209.1 31.0,209.7 32.9,210.2 34.8,210.5 36.7,210.4 38.6,210.1 40.5,209.6 42.4,208.3 44.4,206.5 46.3,205.0 48.2,203.5 50.1,202.6 52.0,202.4 53.9,202.3 55.8,202.3 57.7,202.4 59.6,202.6 61.5,202.6 63.5,202.0 65.4,201.0 67.3,199.9 69.2,198.8 71.1,197.5 73.0,196.1 74.9,194.6 76.8,193.2 78.7,192.3 80.7,191.4 82.6,191.0 84.5,191.0 86.4,191.0 88.3,191.2 90.2,191.7 92.1,192.1 94.0,192.7 95.9,193.2 97.9,193.5 99.8,193.5 101.7,193.2 103.6,192.7 105.5,192.1 107.4,190.7 109.3,189.2 111.2,187.8 113.1,186.2 115.1,187.1 117.0,188.9 118.9,190.1 120.8,190.3 122.7,190.1 124.6,189.8 126.5,189.5 128.4,189.1 130.3,188.5 132.3,187.9 134.2,187.4 136.1,187.1 138.0,186.8" fill="none" stroke="#A2142F" stroke-width="0.42"/>
<polyline points="21.4,207.4 23.3,207.8 25.2,208.2 27.2,208.5 29.1,209.0 31.0,209.5 32.9,210.1 34.8,210.4 36.7,210.2 38.6,209.9 40.5,209.4 42.4,208.1 44.4,206.3 46.3,204.8 48.2,203.3 50.1,202.3 52.0,202.2 53.9,202.1 55.8,202.1 57.7,202.2 59.6,202.4 61.5,202.4 63.5,201.8 65.4,200.8 67.3,199.7 69.2,198.5 71.1,197.1 73.0,195.6 74.9,194.1 76.8,192.7 78.7,191.7 80.7,190.8 82.6,190.4 84.5,190.4 86.4,190.4 88.3,190.6 90.2,191.1 92.1,191.5 94.0,192.1 95.9,192.6 97.9,192.9 99.8,192.9 101.7,192.6 103.6,192.1 105.5,191.5 107.4,190.1 109.3,188.6 111.2,187.1 113.1,185.5 115.1,186.4 117.0,188.2 118.9,189.4 120.8,189.6 122.7,189.4 124.6,189.1 126.5,188.8 128.4,188.4 130.3,187.8 132.3,187.3 134.2,186.8 136.1,186.4 138.0,186.1" fill="none" stroke="#0072BD" stroke-width="0.42"/>
<polyline points="21.4,202.9 23.3,203.4 25.2,203.9 27.2,204.3 29.1,204.8 31.0,205.5 32.9,206.2 34.8,206.5 36.7,206.3 38.6,205.8 40.5,205.1 42.4,203.4 44.4,201.3 46.3,199.5 48.2,197.6 50.1,196.5 52.0,196.4 53.9,196.5 55.8,196.6 57.7,196.9 59.6,197.2 61.5,197.2 63.5,196.4 65.4,195.0 67.3,193.3 69.2,191.3 71.1,188.6 73.0,185.7 74.9,182.7 76.8,180.0 78.7,178.9 80.7,178.1 82.6,177.7 84.5,177.7 86.4,177.7 88.3,178.0 90.2,178.8 92.1,179.6 94.0,180.7 95.9,181.8 97.9,182.4 99.8,182.5 101.7,182.1 103.6,181.5 105.5,180.6 107.4,178.7 109.3,176.4 111.2,174.1 113.1,172.0 115.1,173.1 117.0,174.9 118.9,176.1 120.8,176.3 122.7,176.0 124.6,175.6 126.5,175.2 128.4,174.7 130.3,174.1 132.3,173.5 134.2,172.9 136.1,172.6 138.0,172.2" fill="none" stroke="#D95319" stroke-width="0.42"/>
<polyline points="21.4,205.2 23.3,205.6 25.2,206.0 27.2,206.5 29.1,206.9 31.0,207.5 32.9,208.2 34.8,208.5 36.7,208.3 38.6,207.9 40.5,207.2 42.4,205.8 44.4,203.8 46.3,202.1 48.2,200.4 50.1,199.4 52.0,199.2 53.9,199.2 55.8,199.3 57.7,199.5 59.6,199.7 61.5,199.7 63.5,199.0 65.4,197.8 67.3,196.4 69.2,194.9 71.1,192.8 73.0,190.6 74.9,188.3 76.8,186.3 78.7,185.3 80.7,184.4 82.6,184.1 84.5,184.1 86.4,184.1 88.3,184.4 90.2,185.0 92.1,185.7 94.0,186.5 95.9,187.3 97.9,187.8 99.8,187.8 101.7,187.5 103.6,186.9 105.5,186.2 107.4,184.6 109.3,182.6 111.2,180.8 113.1,178.9 115.1,179.9 117.0,181.7 118.9,183.0 120.8,183.1 122.7,182.9 124.6,182.6 126.5,182.2 128.4,181.7 130.3,181.1 132.3,180.5 134.2,180.0 136.1,179.6 138.0,179.3" fill="none" stroke="#EDB120" stroke-width="0.42"/>
<polyline points="21.4,208.3 23.3,208.6 25.2,209.0 27.2,209.4 29.1,209.7 31.0,210.3 32.9,210.8 34.8,211.1 36.7,211.0 38.6,210.7 40.5,210.3 42.4,209.0 44.4,207.3 46.3,205.8 48.2,204.4 50.1,203.5 52.0,203.2 53.9,203.1 55.8,203.1 57.7,203.3 59.6,203.4 61.5,203.4 63.5,202.8 65.4,201.9 67.3,200.9 69.2,199.9 71.1,198.8 73.0,197.6 74.9,196.4 76.8,195.2 78.7,194.2 80.7,193.4 82.6,193.0 84.5,193.0 86.4,193.0 88.3,193.2 90.2,193.6 92.1,194.0 94.0,194.4 95.9,194.8 97.9,195.0 99.8,195.1 101.7,194.8 103.6,194.3 105.5,193.7 107.4,192.4 109.3,191.0 111.2,189.7 113.1,188.2 115.1,189.1 117.0,190.8 118.9,192.1 120.8,192.3 122.7,192.1 124.6,191.8 126.5,191.5 128.4,191.1 130.3,190.5 132.3,190.0 134.2,189.5 136.1,189.1 138.0,188.8" fill="none" stroke="#7E2F8E" stroke-width="0.42"/>
<polyline points="21.4,192.8 23.3,193.5 25.2,194.2 27.2,194.9 29.1,195.6 31.0,196.6 32.9,197.5 34.8,198.0 36.7,197.6 38.6,196.6 40.5,195.2 42.4,192.9 44.4,189.9 46.3,187.3 48.2,184.7 50.1,183.2 52.0,183.4 53.9,183.7 55.8,184.1 57.7,184.6 59.6,185.1 61.5,185.1 63.5,183.8 65.4,181.4 67.3,178.5 69.2,174.6 71.1,168.7 73.0,162.3 74.9,155.8 76.8,150.2 78.7,148.9 80.7,148.1 82.6,147.8 84.5,147.8 86.4,147.8 88.3,148.4 90.2,149.8 92.1,151.5 94.0,153.9 95.9,156.2 97.9,157.8 99.8,158.0 101.7,157.5 103.6,156.5 105.5,155.3 107.4,152.1 109.3,148.1 111.2,144.1 113.1,141.0 115.1,142.2 117.0,144.4 118.9,145.6 120.8,145.8 122.7,145.4 124.6,144.9 126.5,144.3 128.4,143.7 130.3,142.9 132.3,142.2 134.2,141.7 136.1,141.3 138.0,141.0" fill="none" stroke="#77AC30" stroke-width="0.42"/>
<polyline points="21.4,197.0 23.3,197.6 25.2,198.2 27.2,198.8 29.1,199.4 31.0,200.3 32.9,201.1 34.8,201.5 36.7,201.2 38.6,200.4 40.5,199.3 42.4,197.2 44.4,194.6 46.3,192.3 48.2,190.0 50.1,188.7 52.0,188.7 53.9,188.9 55.8,189.2 57.7,189.7 59.6,190.1 61.5,190.1 63.5,189.0 65.4,187.0 67.3,184.6 69.2,181.5 71.1,176.9 73.0,171.9 74.9,166.9 76.8,162.5 78.7,161.3 80.7,160.5 82.6,160.2 84.5,160.3 86.4,160.3 88.3,160.7 90.2,161.9 92.1,163.3 94.0,165.1 95.9,166.9 97.9,168.1 99.8,168.2 101.7,167.8 103.6,167.0 105.5,165.9 107.4,163.2 109.3,159.9 111.2,156.7 113.1,154.0 115.1,155.1 117.0,157.1 118.9,158.4 120.8,158.5 122.7,158.2 124.6,157.7 126.5,157.2 128.4,156.6 130.3,155.9 132.3,155.2 134.2,154.7 136.1,154.2 138.0,153.9" fill="none" stroke="#4DBEEE" stroke-width="0.42"/>
<polyline points="21.4,203.9 23.3,204.3 25.2,204.8 27.2,205.2 29.1,205.7 31.0,206.4 32.9,207.0 34.8,207.4 36.7,207.2 38.6,206.7 40.5,206.0 42.4,204.5 44.4,202.4 46.3,200.6 48.2,198.8 50.1,197.8 52.0,197.7 53.9,197.7 55.8,197.8 57.7,198.1 59.6,198.3 61.5,198.3 63.5,197.5 65.4,196.2 67.3,194.6 69.2,192.8 71.1,190.4 73.0,187.7 74.9,185.0 76.8,182.6 78.7,181.5 80.7,180.7 82.6,180.3 84.5,180.3 86.4,180.3 88.3,180.5 90.2,181.2 92.1,182.0 94.0,182.9 95.9,183.8 97.9,184.5 99.8,184.5 101.7,184.1 103.6,183.5 105.5,182.7 107.4,180.9 109.3,178.7 111.2,176.6 113.1,174.6 115.1,175.6 117.0,177.5 118.9,178.7 120.8,178.9 122.7,178.7 124.6,178.3 126.5,177.9 128.4,177.4 130.3,176.9 132.3,176.3 134.2,175.8 136.1,175.4 138.0,175.1" fill="none" stroke="#A2142F" stroke-width="0.42"/>
<polyline points="21.4,199.2 23.3,199.7 25.2,200.3 27.2,200.9 29.1,201.4 31.0,202.2 32.9,203.0 34.8,203.4 36.7,203.1 38.6,202.4 40.5,201.5 42.4,199.6 44.4,197.1 46.3,195.0 48.2,192.9 50.1,191.7 52.0,191.7 53.9,191.8 55.8,192.0 57.7,192.4 59.6,192.8 61.5,192.8 63.5,191.8 65.4,190.0 67.3,187.8 69.2,185.2 71.1,181.2 73.0,177.0 74.9,172.7 76.8,168.9 78.7,167.7 80.7,166.8 82.6,166.5 84.5,166.5 86.4,166.5 88.3,166.8 90.2,167.8 92.1,169.0 94.0,170.5 95.9,172.0 97.9,173.0 99.8,173.1 101.7,172.7 103.6,172.0 105.5,170.9 107.4,168.5 109.3,165.6 111.2,162.7 113.1,160.2 115.1,161.3 117.0,163.3 118.9,164.5 120.8,164.7 122.7,164.4 124.6,164.0 126.5,163.6 128.4,163.0 130.3,162.4 132.3,161.7 134.2,161.2 136.1,160.9 138.0,160.6" fill="none" stroke="#0072BD" stroke-width="0.42"/>
<polyline points="21.4,202.2 23.3,202.6 25.2,203.1 27.2,203.6 29.1,204.1 31.0,204.8 32.9,205.5 34.8,205.8 36.7,205.6 38.6,205.0 40.5,204.2 42.4,202.5 44.4,200.3 46.3,198.4 48.2,196.4 50.1,195.3 52.0,195.2 53.9,195.3 55.8,195.5 57.7,195.8 59.6,196.1 61.5,196.1 63.5,195.2 65.4,193.7 67.3,191.9 69.2,189.8 71.1,186.8 73.0,183.5 74.9,180.2 76.8,177.3 78.7,176.2 80.7,175.4 82.6,175.1 84.5,175.1 86.4,175.1 88.3,175.5 90.2,176.3 92.1,177.2 94.0,178.4 95.9,179.6 97.9,180.4 99.8,180.5 101.7,180.1 103.6,179.5 105.5,178.6 107.4,176.6 109.3,174.2 111.2,171.8 113.1,169.6 115.1,170.7 117.0,172.6 118.9,173.8 120.8,173.9 122.7,173.7 124.6,173.3 126.5,172.9 128.4,172.3 130.3,171.7 132.3,171.0 134.2,170.5 136.1,170.1 138.0,169.8" fill="none" stroke="#D95319" stroke-width="0.42"/>
<polyline points="21.4,206.0 23.3,206.4 25.2,206.8 27.2,207.2 29.1,207.6 31.0,208.2 32.9,208.8 34.8,209.1 36.7,209.0 38.6,208.6 40.5,208.0 42.4,206.6 44.4,204.7 46.3,203.0 48.2,201.4 50.1,200.4 52.0,200.2 53.9,200.2 55.8,200.2 57.7,200.4 59.6,200.6 61.5,200.6 63.5,200.0 65.4,198.8 67.3,197.5 69.2,196.1 71.1,194.3 73.0,192.3 74.9,190.3 76.8,188.4 78.7,187.4 80.7,186.6 82.6,186.2 84.5,186.3 86.4,186.3 88.3,186.5 90.2,187.1 92.1,187.7 94.0,188.4 95.9,189.1 97.9,189.6 99.8,189.6 101.7,189.3 103.6,188.8 105.5,188.1 107.4,186.5 109.3,184.7 111.2,183.0 113.1,181.2 115.1,182.2 117.0,184.0 118.9,185.3 120.8,185.4 122.7,185.2 124.6,184.9 126.5,184.6 128.4,184.1 130.3,183.5 132.3,182.9 134.2,182.4 136.1,182.1 138.0,181.7" fill="none" stroke="#EDB120" stroke-width="0.42"/>
<polyline points="21.4,201.9 23.3,202.4 25.2,202.9 27.2,203.4 29.1,203.9 31.0,204.6 32.9,205.3 34.8,205.7 36.7,205.5 38.6,204.9 40.5,204.1 42.4,202.4 44.4,200.2 46.3,198.2 48.2,196.3 50.1,195.2 52.0,195.1 53.9,195.2 55.8,195.4 57.7,195.7 59.6,196.0 61.5,196.0 63.5,195.1 65.4,193.6 67.3,191.8 69.2,189.7 71.1,186.6 73.0,183.3 74.9,180.0 76.8,177.0 78.7,175.9 80.7,175.0 82.6,174.7 84.5,174.7 86.4,174.7 88.3,175.0 90.2,175.8 92.1,176.7 94.0,177.9 95.9,179.1 97.9,179.9 99.8,179.9 101.7,179.5 103.6,178.9 105.5,178.0 107.4,175.9 109.3,173.4 111.2,170.9 113.1,168.7 115.1,169.8 117.0,171.7 118.9,172.9 120.8,173.0 122.7,172.8 124.6,172.4 126.5,172.0 128.4,171.4 130.3,170.8 132.3,170.2 134.2,169.7 136.1,169.3 138.0,169.0" fill="none" stroke="#7E2F8E" stroke-width="0.42"/>
<polyline points="21.4,207.1 23.3,207.5 25.2,207.8 27.2,208.2 29.1,208.6 31.0,209.2 32.9,209.8 34.8,210.1 36.7,209.9 38.6,209.6 40.5,209.1 42.4,207.8 44.4,205.9 46.3,204.4 48.2,202.8 50.1,201.9 52.0,201.7 53.9,201.6 55.8,201.6 57.7,201.8 59.6,202.0 61.5,202.0 63.5,201.4 65.4,200.3 67.3,199.2 69.2,197.9 71.1,196.5 73.0,194.9 74.9,193.3 76.8,191.7 78.7,190.7 80.7,189.9 82.6,189.5 84.5,189.5 86.4,189.5 88.3,189.7 90.2,190.2 92.1,190.7 94.0,191.3 95.9,191.9 97.9,192.2 99.8,192.2 101.7,191.9 103.6,191.4 105.5,190.8 107.4,189.4 109.3,187.7 111.2,186.2 113.1,184.6 115.1,185.5 117.0,187.3 118.9,188.5 120.8,188.7 122.7,188.5 124.6,188.2 126.5,187.9 128.4,187.4 130.3,186.8 132.3,186.3 134.2,185.8 136.1,185.4 138.0,185.1" fill="none" stroke="#77AC30" stroke-width="0.42"/>
<polyline points="21.4,193.3 23.3,194.0 25.2,194.7 27.2,195.4 29.1,196.1 31.0,197.0 32.9,198.0 34.8,198.4 36.7,198.0 38.6,197.0 40.5,195.8 42.4,193.4 44.4,190.5 46.3,188.0 48.2,185.4 50.1,183.9 52.0,184.1 53.9,184.4 55.8,184.7 57.7,185.3 59.6,185.8 61.5,185.8 63.5,184.5 65.4,182.2 67.3,179.3 69.2,175.5 71.1,169.8 73.0,163.5 74.9,157.2 76.8,151.7 78.7,150.4 80.7,149.6 82.6,149.3 84.5,149.3 86.4,149.3 88.3,149.8 90.2,151.3 92.1,152.9 94.0,155.2 95.9,157.5 97.9,159.0 99.8,159.2 101.7,158.7 103.6,157.8 105.5,156.5 107.4,153.4 109.3,149.5 111.2,145.6 113.1,142.5 115.1,143.7 117.0,145.8 118.9,147.1 120.8,147.2 122.7,146.9 124.6,146.4 126.5,145.8 128.4,145.2 130.3,144.5 132.3,143.8 134.2,143.2 136.1,142.9 138.0,142.6" fill="none" stroke="#4DBEEE" stroke-width="0.42"/>
<polyline points="21.4,208.1 23.3,208.4 25.2,208.8 27.2,209.2 29.1,209.6 31.0,210.1 32.9,210.7 34.8,210.9 36.7,210.8 38.6,210.5 40.5,210.1 42.4,208.8 44.4,207.1 46.3,205.6 48.2,204.1 50.1,203.2 52.0,203.0 53.9,202.9 55.8,202.9 57.7,203.0 59.6,203.2 61.5,203.2 63.5,202.6 65.4,201.7 67.3,200.6 69.2,199.6 71.1,198.4 73.0,197.1 74.9,195.9 76.8,194.6 78.7,193.6 80.7,192.8 82.6,192.4 84.5,192.4 86.4,192.4 88.3,192.6 90.2,193.0 92.1,193.4 94.0,193.9 95.9,194.3 97.9,194.6 99.8,194.6 101.7,194.3 103.6,193.8 105.5,193.2 107.4,191.9 109.3,190.4 111.2,189.1 113.1,187.5 115.1,188.5 117.0,190.2 118.9,191.5 120.8,191.7 122.7,191.5 124.6,191.2 126.5,190.9 128.4,190.5 130.3,189.9 132.3,189.4 134.2,188.9 136.1,188.5 138.0,188.2" fill="none" stroke="#A2142F" stroke-width="0.42"/>
<polyline points="21.4,208.0 23.3,208.3 25.2,208.7 27.2,209.1 29.1,209.5 31.0,210.0 32.9,210.6 34.8,210.8 36.7,210.7 38.6,210.4 40.5,210.0 42.4,208.7 44.4,207.0 46.3,205.5 48.2,204.0 50.1,203.1 52.0,202.9 53.9,202.7 55.8,202.7 57.7,202.9 59.6,203.0 61.5,203.0 63.5,202.5 65.4,201.5 67.3,200.5 69.2,199.4 71.1,198.2 73.0,196.9 74.9,195.6 76.8,194.3 78.7,193.3 80.7,192.5 82.6,192.1 84.5,192.1 86.4,192.1 88.3,192.3 90.2,192.7 92.1,193.1 94.0,193.6 95.9,194.0 97.9,194.3 99.8,194.3 101.7,194.1 103.6,193.6 105.5,193.0 107.4,191.7 109.3,190.2 111.2,188.8 113.1,187.3 115.1,188.2 117.0,190.0 118.9,191.2 120.8,191.4 122.7,191.2 124.6,190.9 126.5,190.6 128.4,190.2 130.3,189.6 132.3,189.1 134.2,188.6 136.1,188.2 138.0,187.9" fill="none" stroke="#0072BD" stroke-width="0.42"/>
<polyline points="21.4,204.7 23.3,205.1 25.2,205.5 27.2,206.0 29.1,206.4 31.0,207.1 32.9,207.7 34.8,208.0 36.7,207.9 38.6,207.4 40.5,206.8 42.4,205.3 44.4,203.2 46.3,201.5 48.2,199.8 50.1,198.7 52.0,198.6 53.9,198.6 55.8,198.7 57.7,198.9 59.6,199.1 61.5,199.1 63.5,198.4 65.4,197.1 67.3,195.6 69.2,193.9 71.1,191.7 73.0,189.2 74.9,186.7 76.8,184.5 78.7,183.4 80.7,182.5 82.6,182.2 84.5,182.2 86.4,182.2 88.3,182.4 90.2,183.1 92.1,183.8 94.0,184.7 95.9,185.5 97.9,186.1 99.8,186.1 101.7,185.8 103.6,185.2 105.5,184.4 107.4,182.7 109.3,180.7 111.2,178.7 113.1,176.8 115.1,177.9 117.0,179.7 118.9,181.0 120.8,181.1 122.7,180.9 124.6,180.6 126.5,180.3 128.4,179.8 130.3,179.2 132.3,178.7 134.2,178.2 136.1,177.8 138.0,177.5" fill="none" stroke="#D95319" stroke-width="0.42"/>
<polyline points="21.4,204.2 23.3,204.6 25.2,205.0 27.2,205.5 29.1,206.0 31.0,206.6 32.9,207.3 34.8,207.6 36.7,207.4 38.6,206.9 40.5,206.3 42.4,204.7 44.4,202.7 46.3,200.9 48.2,199.1 50.1,198.1 52.0,198.0 53.9,198.0 55.8,198.1 57.7,198.3 59.6,198.6 61.5,198.6 63.5,197.8 65.4,196.5 67.3,195.0 69.2,193.3 71.1,190.9 73.0,188.4 74.9,185.8 76.8,183.5 78.7,182.4 80.7,181.6 82.6,181.3 84.5,181.3 86.4,181.3 88.3,181.6 90.2,182.3 92.1,183.0 94.0,183.9 95.9,184.8 97.9,185.4 99.8,185.5 101.7,185.1 103.6,184.5 105.5,183.7 107.4,182.0 109.3,179.9 111.2,177.8 113.1,175.9 115.1,176.9 117.0,178.7 118.9,179.9 120.8,180.1 122.7,179.8 124.6,179.5 126.5,179.1 128.4,178.6 130.3,178.0 132.3,177.4 134.2,176.8 136.1,176.5 138.0,176.1" fill="none" stroke="#EDB120" stroke-width="0.42"/>
<polyline points="21.4,206.4 23.3,206.8 25.2,207.1 27.2,207.6 29.1,208.0 31.0,208.6 32.9,209.2 34.8,209.5 36.7,209.3 38.6,209.0 40.5,208.4 42.4,207.1 44.4,205.2 46.3,203.6 48.2,202.0 50.1,201.0 52.0,200.8 53.9,200.8 55.8,200.8 57.7,201.0 59.6,201.2 61.5,201.2 63.5,200.5 65.4,199.4 67.3,198.2 69.2,196.8 71.1,195.1 73.0,193.3 74.9,191.5 76.8,189.7 78.7,188.7 80.7,187.8 82.6,187.5 84.5,187.5 86.4,187.4 88.3,187.6 90.2,188.2 92.1,188.7 94.0,189.4 95.9,190.0 97.9,190.4 99.8,190.4 101.7,190.1 103.6,189.6 105.5,188.9 107.4,187.4 109.3,185.6 111.2,184.0 113.1,182.2 115.1,183.2 117.0,185.0 118.9,186.3 120.8,186.4 122.7,186.2 124.6,185.9 126.5,185.6 128.4,185.1 130.3,184.6 132.3,184.0 134.2,183.5 136.1,183.2 138.0,182.9" fill="none" stroke="#7E2F8E" stroke-width="0.42"/>
<polyline points="21.4,208.2 23.3,208.5 25.2,208.9 27.2,209.2 29.1,209.6 31.0,210.2 32.9,210.7 34.8,211.0 36.7,210.9 38.6,210.6 40.5,210.2 42.4,208.9 44.4,207.2 46.3,205.7 48.2,204.2 50.1,203.3 52.0,203.1 53.9,203.0 55.8,203.0 57.7,203.1 59.6,203.3 61.5,203.3 63.5,202.7 65.4,201.8 67.3,200.7 69.2,199.7 71.1,198.6 73.0,197.3 74.9,196.1 76.8,194.9 78.7,193.9 80.7,193.0 82.6,192.6 84.5,192.6 86.4,192.6 88.3,192.8 90.2,193.2 92.1,193.6 94.0,194.1 95.9,194.5 97.9,194.8 99.8,194.8 101.7,194.5 103.6,194.0 105.5,193.4 107.4,192.1 109.3,190.7 111.2,189.3 113.1,187.8 115.1,188.7 117.0,190.5 118.9,191.7 120.8,191.9 122.7,191.7 124.6,191.4 126.5,191.1 128.4,190.7 130.3,190.1 132.3,189.6 134.2,189.1 136.1,188.8 138.0,188.4" fill="none" stroke="#77AC30" stroke-width="0.42"/>
<polyline points="21.4,199.0 23.3,199.5 25.2,200.1 27.2,200.7 29.1,201.2 31.0,202.0 32.9,202.8 34.8,203.2 36.7,202.9 38.6,202.2 40.5,201.2 42.4,199.3 44.4,196.8 46.3,194.6 48.2,192.5 50.1,191.2 52.0,191.2 53.9,191.3 55.8,191.6 57.7,191.9 59.6,192.3 61.5,192.3 63.5,191.3 65.4,189.4 67.3,187.2 69.2,184.5 71.1,180.5 73.0,176.1 74.9,171.6 76.8,167.7 78.7,166.5 80.7,165.7 82.6,165.4 84.5,165.4 86.4,165.4 88.3,165.8 90.2,166.8 92.1,168.0 94.0,169.7 95.9,171.3 97.9,172.3 99.8,172.4 101.7,172.0 103.6,171.3 105.5,170.3 107.4,167.9 109.3,164.9 111.2,162.0 113.1,159.6 115.1,160.7 117.0,162.7 118.9,164.0 120.8,164.1 122.7,163.9 124.6,163.4 126.5,163.0 128.4,162.5 130.3,161.8 132.3,161.2 134.2,160.7 136.1,160.3 138.0,160.0" fill="none" stroke="#4DBEEE" stroke-width="0.42"/>
<polyline points="21.4,207.5 23.3,207.9 25.2,208.2 27.2,208.6 29.1,209.0 31.0,209.6 32.9,210.1 34.8,210.4 36.7,210.3 38.6,210.0 40.5,209.5 42.4,208.2 44.4,206.4 46.3,204.9 48.2,203.4 50.1,202.4 52.0,202.2 53.9,202.1 55.8,202.2 57.7,202.3 59.6,202.5 61.5,202.5 63.5,201.9 65.4,200.9 67.3,199.8 69.2,198.7 71.1,197.3 73.0,195.9 74.9,194.4 76.8,193.0 78.7,192.0 80.7,191.1 82.6,190.8 84.5,190.8 86.4,190.8 88.3,190.9 90.2,191.4 92.1,191.9 94.0,192.4 95.9,192.9 97.9,193.2 99.8,193.2 101.7,192.9 103.6,192.4 105.5,191.8 107.4,190.4 109.3,188.9 111.2,187.4 113.1,185.8 115.1,186.7 117.0,188.5 118.9,189.7 120.8,189.9 122.7,189.7 124.6,189.4 126.5,189.1 128.4,188.7 130.3,188.1 132.3,187.5 134.2,187.0 136.1,186.7 138.0,186.4" fill="none" stroke="#A2142F" stroke-width="0.42"/>
<polyline points="21.4,208.3 23.3,208.7 25.2,209.0 27.2,209.4 29.1,209.8 31.0,210.3 32.9,210.9 34.8,211.1 36.7,211.0 38.6,210.7 40.5,210.3 42.4,209.1 44.4,207.3 46.3,205.9 48.2,204.4 50.1,203.5 52.0,203.3 53.9,203.2 55.8,203.2 57.7,203.3 59.6,203.4 61.5,203.4 63.5,202.9 65.4,202.0 67.3,200.9 69.2,200.0 71.1,198.8 73.0,197.7 74.9,196.5 76.8,195.3 78.7,194.3 80.7,193.4 82.6,193.1 84.5,193.1 86.4,193.1 88.3,193.2 90.2,193.7 92.1,194.0 94.0,194.5 95.9,194.9 97.9,195.1 99.8,195.1 101.7,194.9 103.6,194.4 105.5,193.8 107.4,192.5 109.3,191.1 111.2,189.8 113.1,188.2 115.1,189.2 117.0,190.9 118.9,192.2 120.8,192.4 122.7,192.2 124.6,191.9 126.5,191.6 128.4,191.2 130.3,190.6 132.3,190.1 134.2,189.6 136.1,189.2 138.0,188.9" fill="none" stroke="#0072BD" stroke-width="0.42"/>
<polyline points="21.4,201.4 23.3,201.8 25.2,202.3 27.2,202.9 29.1,203.4 31.0,204.1 32.9,204.8 34.8,205.2 36.7,204.9 38.6,204.3 40.5,203.5 42.4,201.7 44.4,199.4 46.3,197.4 48.2,195.4 50.1,194.3 52.0,194.2 53.9,194.3 55.8,194.4 57.7,194.7 59.6,195.1 61.5,195.0 63.5,194.1 65.4,192.5 67.3,190.6 69.2,188.3 71.1,185.0 73.0,181.4 74.9,177.8 76.8,174.6 78.7,173.5 80.7,172.6 82.6,172.3 84.5,172.3 86.4,172.4 88.3,172.7 90.2,173.6 92.1,174.6 94.0,176.0 95.9,177.3 97.9,178.1 99.8,178.2 101.7,177.9 103.6,177.2 105.5,176.3 107.4,174.2 109.3,171.6 111.2,169.1 113.1,166.9 115.1,168.0 117.0,169.9 118.9,171.2 120.8,171.4 122.7,171.1 124.6,170.7 126.5,170.3 128.4,169.8 130.3,169.2 132.3,168.6 134.2,168.1 136.1,167.7 138.0,167.4" fill="none" stroke="#D95319" stroke-width="0.42"/>
<polyline points="21.4,208.0 23.3,208.3 25.2,208.6 27.2,209.0 29.1,209.4 31.0,210.0 32.9,210.5 34.8,210.8 36.7,210.7 38.6,210.4 40.5,209.9 42.4,208.7 44.4,206.9 46.3,205.4 48.2,203.9 50.1,203.0 52.0,202.8 53.9,202.7 55.8,202.7 57.7,202.8 59.6,203.0 61.5,203.0 63.5,202.4 65.4,201.5 67.3,200.4 69.2,199.4 71.1,198.1 73.0,196.8 74.9,195.5 76.8,194.2 78.7,193.2 80.7,192.4 82.6,192.0 84.5,192.0 86.4,192.0 88.3,192.2 90.2,192.6 92.1,193.0 94.0,193.5 95.9,193.9 97.9,194.2 99.8,194.2 101.7,194.0 103.6,193.5 105.5,192.8 107.4,191.5 109.3,190.1 111.2,188.7 113.1,187.1 115.1,188.0 117.0,189.8 118.9,191.0 120.8,191.2 122.7,191.0 124.6,190.8 126.5,190.4 128.4,190.0 130.3,189.4 132.3,188.9 134.2,188.4 136.1,188.0 138.0,187.7" fill="none" stroke="#EDB120" stroke-width="0.42"/>
<polyline points="21.4,194.9 23.3,195.6 25.2,196.2 27.2,196.9 29.1,197.6 31.0,198.4 32.9,199.3 34.8,199.8 36.7,199.4 38.6,198.5 40.5,197.3 42.4,195.1 44.4,192.3 46.3,189.9 48.2,187.4 50.1,186.1 52.0,186.1 53.9,186.4 55.8,186.7 57.7,187.2 59.6,187.7 61.5,187.7 63.5,186.5 65.4,184.3 67.3,181.6 69.2,178.2 71.1,172.9 73.0,167.2 74.9,161.5 76.8,156.4 78.7,155.2 80.7,154.4 82.6,154.1 84.5,154.1 86.4,154.1 88.3,154.5 90.2,155.8 92.1,157.3 94.0,159.4 95.9,161.5 97.9,162.9 99.8,163.0 101.7,162.5 103.6,161.6 105.5,160.5 107.4,157.5 109.3,153.9 111.2,150.2 113.1,147.4 115.1,148.5 117.0,150.6 118.9,151.9 120.8,152.0 122.7,151.6 124.6,151.2 126.5,150.7 128.4,150.0 130.3,149.3 132.3,148.7 134.2,148.1 136.1,147.8 138.0,147.5" fill="none" stroke="#7E2F8E" stroke-width="0.42"/>
<polyline points="21.4,207.3 23.3,207.6 25.2,208.0 27.2,208.4 29.1,208.8 31.0,209.4 32.9,210.0 34.8,210.2 36.7,210.1 38.6,209.8 40.5,209.3 42.4,208.0 44.4,206.2 46.3,204.6 48.2,203.1 50.1,202.1 52.0,201.9 53.9,201.8 55.8,201.8 57.7,202.0 59.6,202.2 61.5,202.2 63.5,201.6 65.4,200.5 67.3,199.4 69.2,198.2 71.1,196.7 73.0,195.2 74.9,193.6 76.8,192.1 78.7,191.1 80.7,190.3 82.6,189.9 84.5,189.9 86.4,189.9 88.3,190.1 90.2,190.6 92.1,191.1 94.0,191.7 95.9,192.2 97.9,192.5 99.8,192.6 101.7,192.3 103.6,191.8 105.5,191.1 107.4,189.7 109.3,188.2 111.2,186.7 113.1,185.0 115.1,186.0 117.0,187.8 118.9,189.0 120.8,189.2 122.7,189.0 124.6,188.7 126.5,188.4 128.4,188.0 130.3,187.4 132.3,186.8 134.2,186.4 136.1,186.0 138.0,185.7" fill="none" stroke="#77AC30" stroke-width="0.42"/>
<polyline points="21.4,197.9 23.3,198.5 25.2,199.1 27.2,199.7 29.1,200.3 31.0,201.1 32.9,201.9 34.8,202.3 36.7,202.0 38.6,201.3 40.5,200.2 42.4,198.2 44.4,195.7 46.3,193.5 48.2,191.3 50.1,190.0 52.0,190.0 53.9,190.2 55.8,190.5 57.7,190.9 59.6,191.3 61.5,191.3 63.5,190.3 65.4,188.4 67.3,186.1 69.2,183.2 71.1,178.9 73.0,174.3 74.9,169.6 76.8,165.5 78.7,164.3 80.7,163.5 82.6,163.2 84.5,163.2 86.4,163.1 88.3,163.5 90.2,164.6 92.1,165.9 94.0,167.6 95.9,169.3 97.9,170.4 99.8,170.5 101.7,170.0 103.6,169.2 105.5,168.2 107.4,165.6 109.3,162.4 111.2,159.3 113.1,156.7 115.1,157.8 117.0,159.8 118.9,161.0 120.8,161.2 122.7,160.8 124.6,160.4 126.5,159.9 128.4,159.3 130.3,158.6 132.3,158.0 134.2,157.4 136.1,157.1 138.0,156.8" fill="none" stroke="#4DBEEE" stroke-width="0.42"/>
<polyline points="21.4,193.7 23.3,194.3 25.2,195.0 27.2,195.7 29.1,196.4 31.0,197.3 32.9,198.3 34.8,198.7 36.7,198.3 38.6,197.3 40.5,196.1 42.4,193.8 44.4,190.9 46.3,188.4 48.2,185.8 50.1,184.4 52.0,184.5 53.9,184.8 55.8,185.2 57.7,185.7 59.6,186.2 61.5,186.2 63.5,184.9 65.4,182.6 67.3,179.8 69.2,176.1 71.1,170.5 73.0,164.4 74.9,158.2 76.8,152.8 78.7,151.5 80.7,150.8 82.6,150.5 84.5,150.5 86.4,150.5 88.3,151.0 90.2,152.4 92.1,154.0 94.0,156.3 95.9,158.5 97.9,160.0 99.8,160.1 101.7,159.6 103.6,158.7 105.5,157.5 107.4,154.4 109.3,150.5 111.2,146.7 113.1,143.7 115.1,144.9 117.0,147.0 118.9,148.2 120.8,148.4 122.7,148.0 124.6,147.5 126.5,146.9 128.4,146.3 130.3,145.6 132.3,144.9 134.2,144.3 136.1,143.9 138.0,143.6" fill="none" stroke="#A2142F" stroke-width="0.42"/>
<polyline points="21.4,196.3 23.3,196.9 25.2,197.5 27.2,198.2 29.1,198.8 31.0,199.7 32.9,200.5 34.8,200.9 36.7,200.6 38.6,199.8 40.5,198.6 42.4,196.5 44.4,193.8 46.3,191.5 48.2,189.1 50.1,187.8 52.0,187.9 53.9,188.1 55.8,188.4 57.7,188.8 59.6,189.2 61.5,189.2 63.5,188.1 65.4,186.0 67.3,183.5 69.2,180.2 71.1,175.4 73.0,170.1 74.9,164.8 76.8,160.1 78.7,158.9 80.7,158.1 82.6,157.8 84.5,157.8 86.4,157.8 88.3,158.2 90.2,159.4 92.1,160.8 94.0,162.8 95.9,164.7 97.9,166.0 99.8,166.1 101.7,165.6 103.6,164.8 105.5,163.7 107.4,160.9 109.3,157.5 111.2,154.1 113.1,151.4 115.1,152.6 117.0,154.6 118.9,155.9 120.8,156.1 122.7,155.7 124.6,155.3 126.5,154.8 128.4,154.2 130.3,153.6 132.3,152.9 134.2,152.4 136.1,152.0 138.0,151.7" fill="none" stroke="#0072BD" stroke-width="0.42"/>
<polyline points="21.4,208.2 23.3,208.6 25.2,208.9 27.2,209.3 29.1,209.7 31.0,210.2 32.9,210.8 34.8,211.0 36.7,210.9 38.6,210.6 40.5,210.2 42.4,208.9 44.4,207.2 46.3,205.7 48.2,204.3 50.1,203.4 52.0,203.1 53.9,203.0 55.8,203.0 57.7,203.2 59.6,203.3 61.5,203.3 63.5,202.8 65.4,201.8 67.3,200.8 69.2,199.8 71.1,198.6 73.0,197.4 74.9,196.2 76.8,195.0 78.7,194.0 80.7,193.1 82.6,192.8 84.5,192.8 86.4,192.8 88.3,192.9 90.2,193.4 92.1,193.8 94.0,194.2 95.9,194.6 97.9,194.9 99.8,194.9 101.7,194.6 103.6,194.1 105.5,193.5 107.4,192.2 109.3,190.8 111.2,189.5 113.1,187.9 115.1,188.9 117.0,190.6 118.9,191.9 120.8,192.0 122.7,191.9 124.6,191.6 126.5,191.3 128.4,190.8 130.3,190.3 132.3,189.7 134.2,189.3 136.1,188.9 138.0,188.6" fill="none" stroke="#D95319" stroke-width="0.42"/>
<polyline points="21.4,204.4 23.3,204.8 25.2,205.3 27.2,205.7 29.1,206.2 31.0,206.8 32.9,207.5 34.8,207.8 36.7,207.6 38.6,207.1 40.5,206.5 42.4,204.9 44.4,202.9 46.3,201.1 48.2,199.3 50.1,198.3 52.0,198.2 53.9,198.1 55.8,198.2 57.7,198.5 59.6,198.7 61.5,198.7 63.5,198.0 65.4,196.7 67.3,195.1 69.2,193.4 71.1,191.1 73.0,188.5 74.9,186.0 76.8,183.6 78.7,182.6 80.7,181.8 82.6,181.4 84.5,181.4 86.4,181.4 88.3,181.7 90.2,182.4 92.1,183.2 94.0,184.1 95.9,185.0 97.9,185.6 99.8,185.7 101.7,185.4 103.6,184.8 105.5,184.0 107.4,182.3 109.3,180.2 111.2,178.2 113.1,176.3 115.1,177.4 117.0,179.2 118.9,180.5 120.8,180.6 122.7,180.4 124.6,180.1 126.5,179.7 128.4,179.2 130.3,178.6 132.3,178.0 134.2,177.6 136.1,177.2 138.0,176.9" fill="none" stroke="#EDB120" stroke-width="0.42"/>
<polyline points="21.4,194.2 23.3,194.9 25.2,195.5 27.2,196.2 29.1,196.9 31.0,197.8 32.9,198.7 34.8,199.1 36.7,198.8 38.6,197.8 40.5,196.6 42.4,194.3 44.4,191.5 46.3,189.0 48.2,186.4 50.1,185.0 52.0,185.1 53.9,185.4 55.8,185.8 57.7,186.3 59.6,186.8 61.5,186.8 63.5,185.5 65.4,183.3 67.3,180.5 69.2,176.9 71.1,171.5 73.0,165.5 74.9,159.5 76.8,154.3 78.7,153.0 80.7,152.2 82.6,152.0 84.5,152.0 86.4,152.0 88.3,152.5 90.2,153.9 92.1,155.5 94.0,157.7 95.9,159.8 97.9,161.3 99.8,161.4 101.7,160.9 103.6,160.1 105.5,158.9 107.4,155.9 109.3,152.1 111.2,148.4 113.1,145.4 115.1,146.6 117.0,148.7 118.9,149.9 120.8,150.1 122.7,149.7 124.6,149.2 126.5,148.7 128.4,148.1 130.3,147.3 132.3,146.6 134.2,146.1 136.1,145.7 138.0,145.4" fill="none" stroke="#7E2F8E" stroke-width="0.42"/>
<polyline points="21.4,205.7 23.3,206.1 25.2,206.5 27.2,206.9 29.1,207.3 31.0,208.0 32.9,208.6 34.8,208.9 36.7,208.7 38.6,208.3 40.5,207.7 42.4,206.3 44.4,204.4 46.3,202.7 48.2,201.1 50.1,200.1 52.0,199.9 53.9,199.9 55.8,199.9 57.7,200.2 59.6,200.4 61.5,200.4 63.5,199.7 65.4,198.5 67.3,197.2 69.2,195.7 71.1,193.8 73.0,191.8 74.9,189.7 76.8,187.8 78.7,186.8 80.7,185.9 82.6,185.6 84.5,185.6 86.4,185.6 88.3,185.8 90.2,186.4 92.1,187.0 94.0,187.7 95.9,188.4 97.9,188.9 99.8,188.9 101.7,188.6 103.6,188.1 105.5,187.3 107.4,185.7 109.3,183.9 111.2,182.1 113.1,180.3 115.1,181.3 117.0,183.1 118.9,184.3 120.8,184.4 122.7,184.2 124.6,183.9 126.5,183.5 128.4,183.1 130.3,182.5 132.3,181.9 134.2,181.4 136.1,181.0 138.0,180.7" fill="none" stroke="#77AC30" stroke-width="0.42"/>
<polyline points="21.4,197.6 23.3,198.2 25.2,198.8 27.2,199.4 29.1,200.0 31.0,200.8 32.9,201.6 34.8,202.0 36.7,201.7 38.6,200.9 40.5,199.8 42.4,197.8 44.4,195.2 46.3,193.0 48.2,190.7 50.1,189.4 52.0,189.4 53.9,189.6 55.8,189.8 57.7,190.3 59.6,190.7 61.5,190.7 63.5,189.6 65.4,187.6 67.3,185.2 69.2,182.2 71.1,177.8 73.0,172.9 74.9,168.0 76.8,163.7 78.7,162.5 80.7,161.7 82.6,161.4 84.5,161.5 86.4,161.5 88.3,161.9 90.2,163.1 92.1,164.4 94.0,166.2 95.9,167.9 97.9,169.1 99.8,169.3 101.7,168.8 103.6,168.1 105.5,167.0 107.4,164.4 109.3,161.2 111.2,158.1 113.1,155.5 115.1,156.6 117.0,158.7 118.9,159.9 120.8,160.1 122.7,159.8 124.6,159.4 126.5,158.9 128.4,158.3 130.3,157.7 132.3,157.0 134.2,156.5 136.1,156.1 138.0,155.8" fill="none" stroke="#4DBEEE" stroke-width="0.42"/>
<polyline points="21.4,203.8 23.3,204.2 25.2,204.6 27.2,205.1 29.1,205.6 31.0,206.2 32.9,206.9 34.8,207.2 36.7,207.0 38.6,206.5 40.5,205.8 42.4,204.3 44.4,202.2 46.3,200.4 48.2,198.6 50.1,197.5 52.0,197.4 53.9,197.4 55.8,197.5 57.7,197.7 59.6,198.0 61.5,198.0 63.5,197.2 65.4,195.8 67.3,194.2 69.2,192.3 71.1,189.8 73.0,187.0 74.9,184.2 76.8,181.6 78.7,180.6 80.7,179.7 82.6,179.4 84.5,179.4 86.4,179.3 88.3,179.6 90.2,180.4 92.1,181.1 94.0,182.2 95.9,183.1 97.9,183.8 99.8,183.9 101.7,183.5 103.6,182.9 105.5,182.1 107.4,180.3 109.3,178.1 111.2,176.0 113.1,174.0 115.1,175.1 117.0,176.9 118.9,178.2 120.8,178.4 122.7,178.2 124.6,177.9 126.5,177.5 128.4,177.0 130.3,176.4 132.3,175.9 134.2,175.4 136.1,175.0 138.0,174.7" fill="none" stroke="#A2142F" stroke-width="0.42"/>
<polyline points="21.4,192.4 23.3,193.1 25.2,193.8 27.2,194.5 29.1,195.2 31.0,196.2 32.9,197.1 34.8,197.6 36.7,197.2 38.6,196.2 40.5,194.8 42.4,192.4 44.4,189.4 46.3,186.8 48.2,184.1 50.1,182.7 52.0,182.8 53.9,183.1 55.8,183.5 57.7,184.1 59.6,184.6 61.5,184.6 63.5,183.3 65.4,180.9 67.3,177.9 69.2,173.9 71.1,167.9 73.0,161.3 74.9,154.7 76.8,148.9 78.7,147.6 80.7,146.8 82.6,146.6 84.5,146.6 86.4,146.6 88.3,147.1 90.2,148.6 92.1,150.3 94.0,152.8 95.9,155.2 97.9,156.7 99.8,156.9 101.7,156.4 103.6,155.5 105.5,154.2 107.4,150.9 109.3,146.9 111.2,142.8 113.1,139.7 115.1,140.9 117.0,143.0 118.9,144.3 120.8,144.4 122.7,144.1 124.6,143.5 126.5,143.0 128.4,142.3 130.3,141.6 132.3,140.9 134.2,140.3 136.1,139.9 138.0,139.6" fill="none" stroke="#0072BD" stroke-width="0.42"/>
<polyline points="21.4,206.8 23.3,207.1 25.2,207.5 27.2,207.9 29.1,208.3 31.0,208.9 32.9,209.5 34.8,209.8 36.7,209.6 38.6,209.3 40.5,208.7 42.4,207.4 44.4,205.5 46.3,203.9 48.2,202.4 50.1,201.4 52.0,201.2 53.9,201.1 55.8,201.2 57.7,201.3 59.6,201.5 61.5,201.5 63.5,200.9 65.4,199.8 67.3,198.6 69.2,197.3 71.1,195.7 73.0,194.0 74.9,192.2 76.8,190.6 78.7,189.6 80.7,188.7 82.6,188.4 84.5,188.4 86.4,188.4 88.3,188.6 90.2,189.1 92.1,189.7 94.0,190.3 95.9,190.9 97.9,191.3 99.8,191.3 101.7,191.0 103.6,190.5 105.5,189.8 107.4,188.4 109.3,186.7 111.2,185.1 113.1,183.5 115.1,184.4 117.0,186.2 118.9,187.5 120.8,187.6 122.7,187.5 124.6,187.2 126.5,186.8 128.4,186.4 130.3,185.8 132.3,185.2 134.2,184.7 136.1,184.4 138.0,184.1" fill="none" stroke="#D95319" stroke-width="0.42"/>
<polyline points="21.4,199.7 23.3,200.2 25.2,200.8 27.2,201.3 29.1,201.9 31.0,202.6 32.9,203.4 34.8,203.8 36.7,203.5 38.6,202.8 40.5,201.9 42.4,200.1 44.4,197.6 46.3,195.6 48.2,193.5 50.1,192.3 52.0,192.2 53.9,192.4 55.8,192.6 57.7,193.0 59.6,193.3 61.5,193.3 63.5,192.4 65.4,190.7 67.3,188.6 69.2,186.0 71.1,182.3 73.0,178.3 74.9,174.2 76.8,170.6 78.7,169.4 80.7,168.6 82.6,168.3 84.5,168.3 86.4,168.3 88.3,168.7 90.2,169.7 92.1,170.8 94.0,172.3 95.9,173.7 97.9,174.7 99.8,174.8 101.7,174.4 103.6,173.6 105.5,172.6 107.4,170.3 109.3,167.4 111.2,164.6 113.1,162.2 115.1,163.3 117.0,165.2 118.9,166.4 120.8,166.6 122.7,166.3 124.6,165.8 126.5,165.4 128.4,164.8 130.3,164.1 132.3,163.5 134.2,162.9 136.1,162.5 138.0,162.2" fill="none" stroke="#EDB120" stroke-width="0.42"/>
<polyline points="21.4,206.5 23.3,206.9 25.2,207.3 27.2,207.7 29.1,208.1 31.0,208.7 32.9,209.3 34.8,209.6 36.7,209.4 38.6,209.1 40.5,208.5 42.4,207.2 44.4,205.3 46.3,203.7 48.2,202.1 50.1,201.1 52.0,201.0 53.9,200.9 55.8,200.9 57.7,201.1 59.6,201.3 61.5,201.3 63.5,200.7 65.4,199.6 67.3,198.4 69.2,197.1 71.1,195.4 73.0,193.6 74.9,191.8 76.8,190.2 78.7,189.1 80.7,188.3 82.6,187.9 84.5,188.0 86.4,188.0 88.3,188.2 90.2,188.7 92.1,189.2 94.0,189.9 95.9,190.5 97.9,190.9 99.8,190.9 101.7,190.6 103.6,190.1 105.5,189.4 107.4,187.9 109.3,186.2 111.2,184.6 113.1,182.8 115.1,183.8 117.0,185.6 118.9,186.8 120.8,187.0 122.7,186.8 124.6,186.5 126.5,186.1 128.4,185.7 130.3,185.1 132.3,184.5 134.2,184.0 136.1,183.6 138.0,183.3" fill="none" stroke="#7E2F8E" stroke-width="0.42"/>
<polyline points="21.4,198.6 23.3,199.2 25.2,199.7 27.2,200.3 29.1,200.9 31.0,201.7 32.9,202.5 34.8,202.8 36.7,202.5 38.6,201.8 40.5,200.8 42.4,198.9 44.4,196.3 46.3,194.2 48.2,192.0 50.1,190.7 52.0,190.7 53.9,190.9 55.8,191.1 57.7,191.5 59.6,191.9 61.5,191.9 63.5,190.9 65.4,189.0 67.3,186.8 69.2,184.0 71.1,179.9 73.0,175.5 74.9,171.0 76.8,167.0 78.7,165.8 80.7,165.0 82.6,164.8 84.5,164.8 86.4,164.8 88.3,165.2 90.2,166.3 92.1,167.5 94.0,169.2 95.9,170.8 97.9,171.9 99.8,172.0 101.7,171.6 103.6,170.9 105.5,169.8 107.4,167.4 109.3,164.4 111.2,161.4 113.1,158.9 115.1,160.0 117.0,162.0 118.9,163.2 120.8,163.4 122.7,163.0 124.6,162.6 126.5,162.1 128.4,161.5 130.3,160.9 132.3,160.2 134.2,159.7 136.1,159.2 138.0,158.9" fill="none" stroke="#77AC30" stroke-width="0.42"/>
<polyline points="21.4,197.8 23.3,198.3 25.2,198.9 27.2,199.5 29.1,200.1 31.0,201.0 32.9,201.8 34.8,202.2 36.7,201.9 38.6,201.1 40.5,200.1 42.4,198.1 44.4,195.5 46.3,193.3 48.2,191.0 50.1,189.8 52.0,189.8 53.9,190.0 55.8,190.2 57.7,190.6 59.6,191.0 61.5,191.0 63.5,189.9 65.4,188.0 67.3,185.7 69.2,182.7 71.1,178.3 73.0,173.6 74.9,168.8 76.8,164.5 78.7,163.3 80.7,162.4 82.6,162.1 84.5,162.1 86.4,162.1 88.3,162.5 90.2,163.6 92.1,164.9 94.0,166.6 95.9,168.3 97.9,169.5 99.8,169.6 101.7,169.2 103.6,168.4 105.5,167.3 107.4,164.7 109.3,161.5 111.2,158.4 113.1,155.8 115.1,156.9 117.0,158.9 118.9,160.2 120.8,160.4 122.7,160.1 124.6,159.6 126.5,159.2 128.4,158.6 130.3,158.0 132.3,157.3 134.2,156.8 136.1,156.5 138.0,156.2" fill="none" stroke="#4DBEEE" stroke-width="0.42"/>
<polyline points="21.4,195.8 23.3,196.4 25.2,197.0 27.2,197.7 29.1,198.3 31.0,199.2 32.9,200.1 34.8,200.5 36.7,200.1 38.6,199.2 40.5,198.1 42.4,195.9 44.4,193.2 46.3,190.8 48.2,188.4 50.1,187.0 52.0,187.1 53.9,187.3 55.8,187.6 57.7,188.1 59.6,188.6 61.5,188.6 63.5,187.4 65.4,185.3 67.3,182.7 69.2,179.4 71.1,174.4 73.0,169.0 74.9,163.5 76.8,158.7 78.7,157.4 80.7,156.6 82.6,156.4 84.5,156.4 86.4,156.4 88.3,156.9 90.2,158.2 92.1,159.6 94.0,161.6 95.9,163.6 97.9,164.9 99.8,165.1 101.7,164.6 103.6,163.8 105.5,162.7 107.4,159.9 109.3,156.4 111.2,152.9 113.1,150.1 115.1,151.3 117.0,153.4 118.9,154.6 120.8,154.8 122.7,154.4 124.6,154.0 126.5,153.5 128.4,152.9 130.3,152.1 132.3,151.5 134.2,150.9 136.1,150.5 138.0,150.2" fill="none" stroke="#A2142F" stroke-width="0.42"/>
<polyline points="21.4,194.5 23.3,195.1 25.2,195.8 27.2,196.4 29.1,197.1 31.0,198.0 32.9,198.9 34.8,199.4 36.7,199.0 38.6,198.1 40.5,196.8 42.4,194.6 44.4,191.7 46.3,189.3 48.2,186.8 50.1,185.4 52.0,185.5 53.9,185.7 55.8,186.1 57.7,186.6 59.6,187.0 61.5,187.0 63.5,185.8 65.4,183.6 67.3,180.8 69.2,177.2 71.1,171.8 73.0,166.0 74.9,160.0 76.8,154.8 78.7,153.5 80.7,152.7 82.6,152.5 84.5,152.5 86.4,152.5 88.3,152.9 90.2,154.3 92.1,155.9 94.0,158.0 95.9,160.2 97.9,161.6 99.8,161.8 101.7,161.3 103.6,160.4 105.5,159.2 107.4,156.3 109.3,152.5 111.2,148.8 113.1,145.9 115.1,147.1 117.0,149.2 118.9,150.5 120.8,150.6 122.7,150.3 124.6,149.8 126.5,149.3 128.4,148.7 130.3,148.0 132.3,147.3 134.2,146.7 136.1,146.4 138.0,146.1" fill="none" stroke="#0072BD" stroke-width="0.42"/>
<polyline points="21.4,206.9 23.3,207.2 25.2,207.6 27.2,208.0 29.1,208.4 31.0,209.0 32.9,209.6 34.8,209.9 36.7,209.7 38.6,209.4 40.5,208.9 42.4,207.5 44.4,205.7 46.3,204.1 48.2,202.5 50.1,201.6 52.0,201.4 53.9,201.3 55.8,201.3 57.7,201.5 59.6,201.7 61.5,201.7 63.5,201.1 65.4,200.0 67.3,198.8 69.2,197.5 71.1,195.9 73.0,194.3 74.9,192.5 76.8,190.9 78.7,189.9 80.7,189.0 82.6,188.7 84.5,188.7 86.4,188.7 88.3,188.9 90.2,189.4 92.1,189.9 94.0,190.5 95.9,191.1 97.9,191.5 99.8,191.5 101.7,191.2 103.6,190.7 105.5,190.0 107.4,188.6 109.3,186.9 111.2,185.3 113.1,183.7 115.1,184.6 117.0,186.4 118.9,187.7 120.8,187.8 122.7,187.7 124.6,187.4 126.5,187.1 128.4,186.6 130.3,186.1 132.3,185.5 134.2,185.0 136.1,184.7 138.0,184.4" fill="none" stroke="#D95319" stroke-width="0.42"/>
<polyline points="21.4,205.4 23.3,205.8 25.2,206.2 27.2,206.6 29.1,207.1 31.0,207.7 32.9,208.3 34.8,208.6 36.7,208.4 38.6,208.0 40.5,207.4 42.4,205.9 44.4,204.0 46.3,202.3 48.2,200.6 50.1,199.6 52.0,199.4 53.9,199.4 55.8,199.4 57.7,199.6 59.6,199.9 61.5,199.9 63.5,199.1 65.4,197.9 67.3,196.5 69.2,195.0 71.1,192.9 73.0,190.7 74.9,188.5 76.8,186.4 78.7,185.4 80.7,184.5 82.6,184.2 84.5,184.2 86.4,184.2 88.3,184.4 90.2,185.1 92.1,185.7 94.0,186.5 95.9,187.3 97.9,187.8 99.8,187.9 101.7,187.6 103.6,187.0 105.5,186.3 107.4,184.7 109.3,182.8 111.2,180.9 113.1,179.1 115.1,180.1 117.0,182.0 118.9,183.2 120.8,183.4 122.7,183.2 124.6,182.9 126.5,182.6 128.4,182.1 130.3,181.5 132.3,180.9 134.2,180.4 136.1,180.1 138.0,179.8" fill="none" stroke="#EDB120" stroke-width="0.42"/>
<polyline points="21.4,196.5 23.3,197.1 25.2,197.7 27.2,198.4 29.1,199.0 31.0,199.9 32.9,200.7 34.8,201.1 36.7,200.8 38.6,200.0 40.5,198.9 42.4,196.8 44.4,194.2 46.3,191.9 48.2,189.5 50.1,188.2 52.0,188.3 53.9,188.5 55.8,188.8 57.7,189.2 59.6,189.7 61.5,189.7 63.5,188.5 65.4,186.5 67.3,184.0 69.2,180.9 71.1,176.2 73.0,171.1 74.9,165.9 76.8,161.3 78.7,160.1 80.7,159.3 82.6,159.0 84.5,159.0 86.4,159.0 88.3,159.4 90.2,160.6 92.1,161.9 94.0,163.8 95.9,165.7 97.9,166.9 99.8,167.0 101.7,166.5 103.6,165.7 105.5,164.6 107.4,161.8 109.3,158.4 111.2,155.1 113.1,152.4 115.1,153.5 117.0,155.5 118.9,156.8 120.8,156.9 122.7,156.6 124.6,156.1 126.5,155.6 128.4,155.0 130.3,154.3 132.3,153.7 134.2,153.1 136.1,152.8 138.0,152.5" fill="none" stroke="#7E2F8E" stroke-width="0.42"/>
<polyline points="21.4,207.8 23.3,208.1 25.2,208.5 27.2,208.8 29.1,209.2 31.0,209.8 32.9,210.4 34.8,210.6 36.7,210.5 38.6,210.2 40.5,209.7 42.4,208.5 44.4,206.7 46.3,205.2 48.2,203.7 50.1,202.7 52.0,202.5 53.9,202.4 55.8,202.4 57.7,202.6 59.6,202.7 61.5,202.7 63.5,202.2 65.4,201.2 67.3,200.1 69.2,199.0 71.1,197.7 73.0,196.3 74.9,194.9 76.8,193.5 78.7,192.5 80.7,191.7 82.6,191.3 84.5,191.3 86.4,191.3 88.3,191.5 90.2,192.0 92.1,192.4 94.0,192.9 95.9,193.4 97.9,193.7 99.8,193.7 101.7,193.4 103.6,192.9 105.5,192.3 107.4,191.0 109.3,189.4 111.2,188.0 113.1,186.4 115.1,187.4 117.0,189.2 118.9,190.4 120.8,190.6 122.7,190.4 124.6,190.1 126.5,189.8 128.4,189.4 130.3,188.8 132.3,188.3 134.2,187.8 136.1,187.4 138.0,187.1" fill="none" stroke="#77AC30" stroke-width="0.42"/>
<polyline points="21.4,199.9 23.3,200.4 25.2,200.9 27.2,201.5 29.1,202.1 31.0,202.8 32.9,203.6 34.8,203.9 36.7,203.7 38.6,203.0 40.5,202.0 42.4,200.2 44.4,197.8 46.3,195.7 48.2,193.6 50.1,192.3 52.0,192.3 53.9,192.4 55.8,192.6 57.7,193.0 59.6,193.4 61.5,193.3 63.5,192.4 65.4,190.7 67.3,188.6 69.2,186.0 71.1,182.3 73.0,178.2 74.9,174.1 76.8,170.5 78.7,169.4 80.7,168.6 82.6,168.3 84.5,168.3 86.4,168.3 88.3,168.7 90.2,169.7 92.1,170.8 94.0,172.3 95.9,173.8 97.9,174.8 99.8,174.9 101.7,174.5 103.6,173.8 105.5,172.9 107.4,170.6 109.3,167.8 111.2,165.0 113.1,162.7 115.1,163.8 117.0,165.7 118.9,167.0 120.8,167.1 122.7,166.8 124.6,166.4 126.5,166.0 128.4,165.4 130.3,164.8 132.3,164.1 134.2,163.6 136.1,163.2 138.0,162.9" fill="none" stroke="#4DBEEE" stroke-width="0.42"/>
<polyline points="21.4,200.7 23.3,201.2 25.2,201.7 27.2,202.3 29.1,202.8 31.0,203.6 32.9,204.3 34.8,204.7 36.7,204.4 38.6,203.8 40.5,202.9 42.4,201.2 44.4,198.8 46.3,196.8 48.2,194.8 50.1,193.7 52.0,193.6 53.9,193.7 55.8,193.9 57.7,194.3 59.6,194.6 61.5,194.6 63.5,193.7 65.4,192.0 67.3,190.1 69.2,187.7 71.1,184.3 73.0,180.6 74.9,176.8 76.8,173.4 78.7,172.3 80.7,171.5 82.6,171.1 84.5,171.1 86.4,171.1 88.3,171.4 90.2,172.3 92.1,173.3 94.0,174.7 95.9,176.0 97.9,176.9 99.8,176.9 101.7,176.5 103.6,175.8 105.5,174.9 107.4,172.6 109.3,169.9 111.2,167.3 113.1,165.0 115.1,166.0 117.0,167.9 118.9,169.2 120.8,169.3 122.7,169.1 124.6,168.6 126.5,168.2 128.4,167.7 130.3,167.1 132.3,166.4 134.2,165.9 136.1,165.6 138.0,165.3" fill="none" stroke="#A2142F" stroke-width="0.42"/>
<polyline points="21.4,208.3 23.3,208.6 25.2,209.0 27.2,209.3 29.1,209.7 31.0,210.3 32.9,210.8 34.8,211.1 36.7,211.0 38.6,210.7 40.5,210.2 42.4,209.0 44.4,207.3 46.3,205.8 48.2,204.3 50.1,203.4 52.0,203.2 53.9,203.1 55.8,203.1 57.7,203.2 59.6,203.4 61.5,203.4 63.5,202.8 65.4,201.9 67.3,200.9 69.2,199.9 71.1,198.7 73.0,197.5 74.9,196.3 76.8,195.1 78.7,194.1 80.7,193.3 82.6,192.9 84.5,192.9 86.4,192.9 88.3,193.1 90.2,193.5 92.1,193.9 94.0,194.3 95.9,194.7 97.9,195.0 99.8,195.0 101.7,194.7 103.6,194.2 105.5,193.6 107.4,192.4 109.3,190.9 111.2,189.6 113.1,188.1 115.1,189.0 117.0,190.8 118.9,192.0 120.8,192.2 122.7,192.0 124.6,191.7 126.5,191.4 128.4,191.0 130.3,190.4 132.3,189.9 134.2,189.4 136.1,189.1 138.0,188.7" fill="none" stroke="#0072BD" stroke-width="0.42"/>
<polyline points="21.4,208.3 23.3,208.7 25.2,209.0 27.2,209.4 29.1,209.8 31.0,210.3 32.9,210.8 34.8,211.1 36.7,211.0 38.6,210.7 40.5,210.3 42.4,209.1 44.4,207.3 46.3,205.9 48.2,204.4 50.1,203.5 52.0,203.3 53.9,203.1 55.8,203.1 57.7,203.3 59.6,203.4 61.5,203.4 63.5,202.9 65.4,201.9 67.3,200.9 69.2,199.9 71.1,198.8 73.0,197.7 74.9,196.4 76.8,195.3 78.7,194.3 80.7,193.4 82.6,193.0 84.5,193.0 86.4,193.0 88.3,193.2 90.2,193.6 92.1,194.0 94.0,194.5 95.9,194.8 97.9,195.1 99.8,195.1 101.7,194.8 103.6,194.4 105.5,193.7 107.4,192.5 109.3,191.1 111.2,189.7 113.1,188.2 115.1,189.2 117.0,190.9 118.9,192.1 120.8,192.3 122.7,192.1 124.6,191.9 126.5,191.6 128.4,191.1 130.3,190.6 132.3,190.0 134.2,189.6 136.1,189.2 138.0,188.9" fill="none" stroke="#D95319" stroke-width="0.42"/>
<polyline points="21.4,195.4 23.3,196.0 25.2,196.6 27.2,197.3 29.1,198.0 31.0,198.8 32.9,199.7 34.8,200.1 36.7,199.8 38.6,198.9 40.5,197.7 42.4,195.6 44.4,192.8 46.3,190.4 48.2,188.0 50.1,186.6 52.0,186.7 53.9,187.0 55.8,187.3 57.7,187.8 59.6,188.2 61.5,188.2 63.5,187.0 65.4,184.9 67.3,182.3 69.2,178.9 71.1,173.9 73.0,168.4 74.9,162.8 76.8,157.9 78.7,156.7 80.7,155.9 82.6,155.6 84.5,155.6 86.4,155.6 88.3,156.1 90.2,157.4 92.1,158.9 94.0,160.9 95.9,162.9 97.9,164.2 99.8,164.3 101.7,163.9 103.6,163.0 105.5,161.9 107.4,159.0 109.3,155.4 111.2,151.9 113.1,149.0 115.1,150.2 117.0,152.2 118.9,153.5 120.8,153.6 122.7,153.3 124.6,152.8 126.5,152.2 128.4,151.6 130.3,150.9 132.3,150.2 134.2,149.7 136.1,149.3 138.0,149.0" fill="none" stroke="#EDB120" stroke-width="0.42"/>
<polyline points="21.4,207.9 23.3,208.2 25.2,208.6 27.2,208.9 29.1,209.3 31.0,209.9 32.9,210.5 34.8,210.7 36.7,210.6 38.6,210.3 40.5,209.9 42.4,208.6 44.4,206.8 46.3,205.3 48.2,203.8 50.1,202.9 52.0,202.7 53.9,202.6 55.8,202.6 57.7,202.7 59.6,202.9 61.5,202.9 63.5,202.3 65.4,201.4 67.3,200.3 69.2,199.2 71.1,198.0 73.0,196.6 74.9,195.3 76.8,193.9 78.7,193.0 80.7,192.1 82.6,191.7 84.5,191.7 86.4,191.7 88.3,191.9 90.2,192.4 92.1,192.8 94.0,193.3 95.9,193.7 97.9,194.0 99.8,194.0 101.7,193.7 103.6,193.2 105.5,192.6 107.4,191.3 109.3,189.8 111.2,188.4 113.1,186.8 115.1,187.8 117.0,189.5 118.9,190.8 120.8,190.9 122.7,190.7 124.6,190.5 126.5,190.2 128.4,189.7 130.3,189.2 132.3,188.6 134.2,188.1 136.1,187.8 138.0,187.5" fill="none" stroke="#7E2F8E" stroke-width="0.42"/>
<polyline points="21.4,202.8 23.3,203.3 25.2,203.8 27.2,204.3 29.1,204.8 31.0,205.5 32.9,206.2 34.8,206.5 36.7,206.3 38.6,205.8 40.5,205.0 42.4,203.4 44.4,201.3 46.3,199.4 48.2,197.5 50.1,196.4 52.0,196.3 53.9,196.4 55.8,196.5 57.7,196.8 59.6,197.1 61.5,197.1 63.5,196.2 65.4,194.8 67.3,193.1 69.2,191.1 71.1,188.3 73.0,185.3 74.9,182.2 76.8,179.4 78.7,178.3 80.7,177.5 82.6,177.1 84.5,177.1 86.4,177.1 88.3,177.3 90.2,178.1 92.1,179.0 94.0,180.1 95.9,181.1 97.9,181.8 99.8,181.9 101.7,181.5 103.6,180.9 105.5,180.0 107.4,178.1 109.3,175.7 111.2,173.4 113.1,171.3 115.1,172.4 117.0,174.3 118.9,175.5 120.8,175.7 122.7,175.5 124.6,175.1 126.5,174.7 128.4,174.2 130.3,173.6 132.3,173.0 134.2,172.6 136.1,172.2 138.0,171.9" fill="none" stroke="#77AC30" stroke-width="0.42"/>
<polyline points="21.4,201.6 23.3,202.1 25.2,202.6 27.2,203.2 29.1,203.7 31.0,204.4 32.9,205.1 34.8,205.5 36.7,205.3 38.6,204.7 40.5,203.9 42.4,202.1 44.4,199.9 46.3,197.9 48.2,196.0 50.1,194.8 52.0,194.8 53.9,194.8 55.8,195.0 57.7,195.3 59.6,195.6 61.5,195.6 63.5,194.7 65.4,193.1 67.3,191.3 69.2,189.0 71.1,185.8 73.0,182.4 74.9,178.9 76.8,175.7 78.7,174.6 80.7,173.7 82.6,173.4 84.5,173.4 86.4,173.4 88.3,173.7 90.2,174.5 92.1,175.5 94.0,176.7 95.9,178.0 97.9,178.8 99.8,178.8 101.7,178.5 103.6,177.8 105.5,176.9 107.4,174.8 109.3,172.3 111.2,169.8 113.1,167.6 115.1,168.7 117.0,170.6 118.9,171.9 120.8,172.0 122.7,171.8 124.6,171.4 126.5,171.0 128.4,170.5 130.3,169.9 132.3,169.3 134.2,168.9 136.1,168.5 138.0,168.2" fill="none" stroke="#4DBEEE" stroke-width="0.42"/>
<polyline points="21.4,206.2 23.3,206.6 25.2,206.9 27.2,207.4 29.1,207.8 31.0,208.4 32.9,209.0 34.8,209.3 36.7,209.1 38.6,208.8 40.5,208.2 42.4,206.8 44.4,204.9 46.3,203.3 48.2,201.6 50.1,200.7 52.0,200.5 53.9,200.4 55.8,200.5 57.7,200.7 59.6,200.9 61.5,200.8 63.5,200.2 65.4,199.0 67.3,197.7 69.2,196.3 71.1,194.5 73.0,192.6 74.9,190.6 76.8,188.8 78.7,187.8 80.7,186.9 82.6,186.6 84.5,186.6 86.4,186.6 88.3,186.8 90.2,187.4 92.1,187.9 94.0,188.6 95.9,189.3 97.9,189.8 99.8,189.8 101.7,189.5 103.6,189.0 105.5,188.3 107.4,186.7 109.3,185.0 111.2,183.3 113.1,181.5 115.1,182.5 117.0,184.3 118.9,185.6 120.8,185.8 122.7,185.6 124.6,185.3 126.5,185.0 128.4,184.5 130.3,183.9 132.3,183.4 134.2,182.9 136.1,182.5 138.0,182.2" fill="none" stroke="#A2142F" stroke-width="0.42"/>
<polyline points="21.4,207.0 23.3,207.4 25.2,207.8 27.2,208.1 29.1,208.6 31.0,209.1 32.9,209.7 34.8,210.0 36.7,209.9 38.6,209.5 40.5,209.0 42.4,207.7 44.4,205.9 46.3,204.3 48.2,202.8 50.1,201.8 52.0,201.6 53.9,201.5 55.8,201.6 57.7,201.8 59.6,201.9 61.5,201.9 63.5,201.3 65.4,200.3 67.3,199.1 69.2,197.9 71.1,196.4 73.0,194.8 74.9,193.1 76.8,191.6 78.7,190.6 80.7,189.7 82.6,189.3 84.5,189.3 86.4,189.3 88.3,189.5 90.2,190.0 92.1,190.5 94.0,191.1 95.9,191.6 97.9,192.0 99.8,192.0 101.7,191.7 103.6,191.2 105.5,190.5 107.4,189.1 109.3,187.5 111.2,185.9 113.1,184.2 115.1,185.2 117.0,187.0 118.9,188.2 120.8,188.4 122.7,188.2 124.6,187.9 126.5,187.6 128.4,187.1 130.3,186.5 132.3,186.0 134.2,185.5 136.1,185.1 138.0,184.8" fill="none" stroke="#0072BD" stroke-width="0.42"/>
<rect x="21.2" y="130.7" width="2.8" height="80.9" fill="#ff0000" fill-opacity="0.50"/>
<rect x="24.6" y="130.7" width="1.1" height="80.9" fill="#ff0000" fill-opacity="0.50"/>
<rect x="28.9" y="130.7" width="7.7" height="80.9" fill="#ff0000" fill-opacity="0.50"/>
<rect x="41.1" y="130.7" width="4.3" height="80.9" fill="#ff0000" fill-opacity="0.50"/>
<rect x="49.7" y="130.7" width="4.6" height="80.9" fill="#ff0000" fill-opacity="0.50"/>
<rect x="60" y="130.7" width="6.9" height="80.9" fill="#ff0000" fill-opacity="0.50"/>
<rect x="70.3" y="130.7" width="10.8" height="80.9" fill="#ff0000" fill-opacity="0.50"/>
<rect x="83.4" y="130.7" width="8.6" height="80.9" fill="#ff0000" fill-opacity="0.50"/>
<rect x="98.3" y="130.7" width="1.7" height="80.9" fill="#ff0000" fill-opacity="0.50"/>
<rect x="105.4" y="130.7" width="3.2" height="80.9" fill="#ff0000" fill-opacity="0.50"/>
<rect x="110" y="130.7" width="4.3" height="80.9" fill="#ff0000" fill-opacity="0.50"/>
<rect x="116" y="130.7" width="5.1" height="80.9" fill="#ff0000" fill-opacity="0.50"/>
<rect x="122.5" y="130.7" width="2.6" height="80.9" fill="#ff0000" fill-opacity="0.50"/>
<rect x="128" y="130.7" width="2" height="80.9" fill="#ff0000" fill-opacity="0.50"/>
<rect x="130.6" y="130.7" width="1.7" height="80.9" fill="#ff0000" fill-opacity="0.50"/>
<rect x="132.9" y="130.7" width="1.7" height="80.9" fill="#ff0000" fill-opacity="0.50"/>
<rect x="135.2" y="130.7" width="2.3" height="80.9" fill="#ff0000" fill-opacity="0.50"/>
<rect x="108.6" y="130.7" width="1.4" height="80.9" fill="#ff0000" fill-opacity="0.28"/>
<rect x="114.3" y="130.7" width="1.7" height="80.9" fill="#ff0000" fill-opacity="0.28"/>
</g>
<rect x="21.2" y="130.7" width="116.3" height="80.9" fill="none" stroke="#6e6e6e" stroke-width="1"/>
<line x1="40.1" y1="211.6" x2="40.1" y2="210.4" stroke="#6e6e6e" stroke-width="0.6"/>
<line x1="40.1" y1="130.7" x2="40.1" y2="131.9" stroke="#6e6e6e" stroke-width="0.6"/>
<text x="40.1" y="220.7" font-size="6.7" text-anchor="middle" font-weight="bold" fill="#111" textLength="10.05" lengthAdjust="spacingAndGlyphs">500</text>
<line x1="58.78" y1="211.6" x2="58.78" y2="210.4" stroke="#6e6e6e" stroke-width="0.6"/>
<line x1="58.78" y1="130.7" x2="58.78" y2="131.9" stroke="#6e6e6e" stroke-width="0.6"/>
<text x="58.78" y="220.7" font-size="6.7" text-anchor="middle" font-weight="bold" fill="#111" textLength="13.4" lengthAdjust="spacingAndGlyphs">1000</text>
<line x1="77.46" y1="211.6" x2="77.46" y2="210.4" stroke="#6e6e6e" stroke-width="0.6"/>
<line x1="77.46" y1="130.7" x2="77.46" y2="131.9" stroke="#6e6e6e" stroke-width="0.6"/>
<text x="77.46" y="220.7" font-size="6.7" text-anchor="middle" font-weight="bold" fill="#111" textLength="13.4" lengthAdjust="spacingAndGlyphs">1500</text>
<line x1="96.14" y1="211.6" x2="96.14" y2="210.4" stroke="#6e6e6e" stroke-width="0.6"/>
<line x1="96.14" y1="130.7" x2="96.14" y2="131.9" stroke="#6e6e6e" stroke-width="0.6"/>
<text x="96.14" y="220.7" font-size="6.7" text-anchor="middle" font-weight="bold" fill="#111" textLength="13.4" lengthAdjust="spacingAndGlyphs">2000</text>
<line x1="114.82" y1="211.6" x2="114.82" y2="210.4" stroke="#6e6e6e" stroke-width="0.6"/>
<line x1="114.82" y1="130.7" x2="114.82" y2="131.9" stroke="#6e6e6e" stroke-width="0.6"/>
<text x="114.82" y="220.7" font-size="6.7" text-anchor="middle" font-weight="bold" fill="#111" textLength="13.4" lengthAdjust="spacingAndGlyphs">2500</text>
<line x1="133.5" y1="211.6" x2="133.5" y2="210.4" stroke="#6e6e6e" stroke-width="0.6"/>
<line x1="133.5" y1="130.7" x2="133.5" y2="131.9" stroke="#6e6e6e" stroke-width="0.6"/>
<text x="133.5" y="220.7" font-size="6.7" text-anchor="middle" font-weight="bold" fill="#111" textLength="13.4" lengthAdjust="spacingAndGlyphs">3000</text>
<text x="18.6" y="204.31" font-size="6.7" text-anchor="end" font-weight="bold" fill="#111">0.5</text>
<text x="18.6" y="169.61" font-size="6.7" text-anchor="end" font-weight="bold" fill="#111">1</text>
<text x="18.6" y="134.91" font-size="6.7" text-anchor="end" font-weight="bold" fill="#111">1.5</text>
<text x="80.3" y="129.3" font-size="7.4" text-anchor="middle" font-weight="bold" fill="#111">autoOPS</text>
<text x="79.8" y="229.9" font-size="7.6" text-anchor="middle" font-weight="bold" fill="#111" textLength="30.2" lengthAdjust="spacingAndGlyphs">Variables</text>
<text transform="translate(7.8 171) rotate(-90)" font-size="7.6" text-anchor="middle" font-weight="bold" fill="#111" textLength="30" lengthAdjust="spacingAndGlyphs">Intensity</text>
<text x="7" y="125.5" font-size="6.7" font-weight="bold" fill="#2a2a2a" style="stroke:none">(</text>
<text x="13.85" y="126.8" font-size="7.7" font-weight="bold" text-anchor="middle" fill="#111">E</text>
<text x="21" y="125.5" font-size="6.7" font-weight="bold" text-anchor="end" fill="#2a2a2a" style="stroke:none">)</text>
<clipPath id="cI"><rect x="21.6" y="246.2" width="116.1" height="82.1"/></clipPath>
<g clip-path="url(#cI)">
<polyline points="21.7,317.2 23.6,317.8 25.5,318.3 27.5,318.9 29.4,319.4 31.3,320.2 33.2,321.0 35.1,321.3 37.0,321.1 38.9,320.4 40.8,319.5 42.7,317.6 44.7,315.2 46.6,313.2 48.5,311.0 50.4,309.8 52.3,309.8 54.2,309.9 56.1,310.1 58.0,310.4 59.9,310.8 61.8,310.7 63.8,309.8 65.7,308.1 67.6,306.0 69.5,303.5 71.4,299.8 73.3,295.8 75.2,291.8 77.1,288.2 79.0,287.0 81.0,286.2 82.9,285.8 84.8,285.8 86.7,285.8 88.6,286.1 90.5,287.1 92.4,288.2 94.3,289.7 96.2,291.1 98.2,292.1 100.1,292.2 102.0,291.8 103.9,291.1 105.8,290.1 107.7,287.8 109.6,285.0 111.5,282.3 113.4,279.9 115.4,281.0 117.3,283.0 119.2,284.3 121.1,284.5 123.0,284.3 124.9,283.9 126.8,283.5 128.7,282.9 130.6,282.3 132.6,281.7 134.5,281.2 136.4,280.8 138.3,280.5" fill="none" stroke="#0072BD" stroke-width="0.42"/>
<polyline points="21.7,322.5 23.6,322.9 25.5,323.3 27.5,323.7 29.4,324.2 31.3,324.8 33.2,325.5 35.1,325.8 37.0,325.6 38.9,325.2 40.8,324.6 42.7,323.1 44.7,321.2 46.6,319.5 48.5,317.8 50.4,316.7 52.3,316.6 54.2,316.5 56.1,316.6 58.0,316.8 59.9,317.0 61.8,317.0 63.8,316.3 65.7,315.1 67.6,313.7 69.5,312.2 71.4,310.2 73.3,308.0 75.2,305.8 77.1,303.8 79.0,302.7 81.0,301.8 82.9,301.5 84.8,301.4 86.7,301.4 88.6,301.7 90.5,302.3 92.4,302.9 94.3,303.7 96.2,304.4 98.2,304.9 100.1,304.9 102.0,304.6 103.9,304.1 105.8,303.3 107.7,301.7 109.6,299.7 111.5,297.9 113.4,296.0 115.4,297.1 117.3,298.9 119.2,300.2 121.1,300.4 123.0,300.2 124.9,299.8 126.8,299.5 128.7,299.0 130.6,298.4 132.6,297.9 134.5,297.4 136.4,297.0 138.3,296.7" fill="none" stroke="#D95319" stroke-width="0.42"/>
<polyline points="21.7,321.8 23.6,322.2 25.5,322.6 27.5,323.1 29.4,323.6 31.3,324.2 33.2,324.9 35.1,325.2 37.0,325.0 38.9,324.6 40.8,323.9 42.7,322.4 44.7,320.4 46.6,318.7 48.5,316.9 50.4,315.9 52.3,315.7 54.2,315.7 56.1,315.8 58.0,316.1 59.9,316.3 61.8,316.3 63.8,315.6 65.7,314.3 67.6,312.8 69.5,311.2 71.4,309.0 73.3,306.7 75.2,304.3 77.1,302.1 79.0,301.0 81.0,300.1 82.9,299.8 84.8,299.8 86.7,299.7 88.6,300.0 90.5,300.6 92.4,301.3 94.3,302.2 96.2,303.0 98.2,303.5 100.1,303.5 102.0,303.2 103.9,302.6 105.8,301.8 107.7,300.1 109.6,298.1 111.5,296.1 113.4,294.2 115.4,295.2 117.3,297.0 119.2,298.3 121.1,298.4 123.0,298.2 124.9,297.9 126.8,297.5 128.7,297.0 130.6,296.4 132.6,295.8 134.5,295.3 136.4,294.9 138.3,294.6" fill="none" stroke="#EDB120" stroke-width="0.42"/>
<polyline points="21.7,317.8 23.6,318.3 25.5,318.8 27.5,319.4 29.4,319.9 31.3,320.6 33.2,321.4 35.1,321.8 37.0,321.5 38.9,320.9 40.8,320.0 42.7,318.2 44.7,315.8 46.6,313.8 48.5,311.7 50.4,310.6 52.3,310.5 54.2,310.6 56.1,310.8 58.0,311.1 59.9,311.5 61.8,311.5 63.8,310.6 65.7,308.9 67.6,307.0 69.5,304.6 71.4,301.2 73.3,297.5 75.2,293.7 77.1,290.4 79.0,289.3 81.0,288.4 82.9,288.1 84.8,288.1 86.7,288.2 88.6,288.5 90.5,289.5 92.4,290.5 94.3,291.9 96.2,293.2 98.2,294.1 100.1,294.1 102.0,293.8 103.9,293.1 105.8,292.1 107.7,289.9 109.6,287.2 111.5,284.6 113.4,282.3 115.4,283.3 117.3,285.3 119.2,286.5 121.1,286.7 123.0,286.4 124.9,285.9 126.8,285.5 128.7,284.9 130.6,284.2 132.6,283.6 134.5,283.0 136.4,282.6 138.3,282.3" fill="none" stroke="#7E2F8E" stroke-width="0.42"/>
<polyline points="21.7,320.4 23.6,320.8 25.5,321.3 27.5,321.7 29.4,322.2 31.3,322.9 33.2,323.6 35.1,323.9 37.0,323.7 38.9,323.2 40.8,322.4 42.7,320.8 44.7,318.6 46.6,316.8 48.5,314.9 50.4,313.8 52.3,313.7 54.2,313.7 56.1,313.8 58.0,314.1 59.9,314.4 61.8,314.4 63.8,313.6 65.7,312.1 67.6,310.5 69.5,308.5 71.4,305.9 73.3,303.0 75.2,300.0 77.1,297.4 79.0,296.3 81.0,295.5 82.9,295.2 84.8,295.2 86.7,295.2 88.6,295.5 90.5,296.3 92.4,297.1 94.3,298.2 96.2,299.2 98.2,299.9 100.1,300.0 102.0,299.7 103.9,299.0 105.8,298.2 107.7,296.3 109.6,294.1 111.5,291.9 113.4,289.9 115.4,290.9 117.3,292.8 119.2,294.1 121.1,294.2 123.0,294.0 124.9,293.6 126.8,293.2 128.7,292.7 130.6,292.1 132.6,291.5 134.5,290.9 136.4,290.5 138.3,290.2" fill="none" stroke="#77AC30" stroke-width="0.42"/>
<polyline points="21.7,319.5 23.6,320.0 25.5,320.4 27.5,320.9 29.4,321.5 31.3,322.2 33.2,322.9 35.1,323.2 37.0,323.0 38.9,322.4 40.8,321.6 42.7,319.9 44.7,317.7 46.6,315.8 48.5,313.8 50.4,312.7 52.3,312.6 54.2,312.6 56.1,312.8 58.0,313.1 59.9,313.3 61.8,313.3 63.8,312.5 65.7,311.0 67.6,309.2 69.5,307.1 71.4,304.1 73.3,300.8 75.2,297.6 77.1,294.6 79.0,293.5 81.0,292.7 82.9,292.3 84.8,292.3 86.7,292.3 88.6,292.7 90.5,293.5 92.4,294.4 94.3,295.6 96.2,296.8 98.2,297.5 100.1,297.6 102.0,297.3 103.9,296.6 105.8,295.8 107.7,293.8 109.6,291.4 111.5,289.0 113.4,286.9 115.4,288.0 117.3,289.9 119.2,291.2 121.1,291.4 123.0,291.2 124.9,290.8 126.8,290.4 128.7,289.9 130.6,289.3 132.6,288.7 134.5,288.2 136.4,287.8 138.3,287.5" fill="none" stroke="#4DBEEE" stroke-width="0.42"/>
<polyline points="21.7,324.6 23.6,325.0 25.5,325.4 27.5,325.7 29.4,326.2 31.3,326.7 33.2,327.3 35.1,327.6 37.0,327.4 38.9,327.1 40.8,326.6 42.7,325.3 44.7,323.5 46.6,322.0 48.5,320.4 50.4,319.5 52.3,319.3 54.2,319.2 56.1,319.2 58.0,319.3 59.9,319.5 61.8,319.5 63.8,318.9 65.7,317.9 67.6,316.8 69.5,315.7 71.4,314.3 73.3,312.9 75.2,311.4 77.1,310.0 79.0,309.0 81.0,308.1 82.9,307.7 84.8,307.8 86.7,307.8 88.6,307.9 90.5,308.4 92.4,308.9 94.3,309.4 96.2,309.9 98.2,310.2 100.1,310.2 102.0,309.9 103.9,309.4 105.8,308.8 107.7,307.4 109.6,305.9 111.5,304.4 113.4,302.8 115.4,303.8 117.3,305.5 119.2,306.8 121.1,307.0 123.0,306.8 124.9,306.5 126.8,306.2 128.7,305.7 130.6,305.2 132.6,304.6 134.5,304.1 136.4,303.7 138.3,303.4" fill="none" stroke="#A2142F" stroke-width="0.42"/>
<polyline points="21.7,324.4 23.6,324.8 25.5,325.2 27.5,325.6 29.4,326.0 31.3,326.5 33.2,327.1 35.1,327.4 37.0,327.3 38.9,327.0 40.8,326.5 42.7,325.1 44.7,323.3 46.6,321.8 48.5,320.2 50.4,319.3 52.3,319.1 54.2,319.0 56.1,319.0 58.0,319.1 59.9,319.3 61.8,319.3 63.8,318.7 65.7,317.7 67.6,316.5 69.5,315.3 71.4,313.9 73.3,312.4 75.2,310.9 77.1,309.4 79.0,308.4 81.0,307.5 82.9,307.1 84.8,307.1 86.7,307.1 88.6,307.3 90.5,307.8 92.4,308.3 94.3,308.8 96.2,309.3 98.2,309.7 100.1,309.7 102.0,309.4 103.9,308.9 105.8,308.2 107.7,306.8 109.6,305.2 111.5,303.7 113.4,302.1 115.4,303.0 117.3,304.8 119.2,306.1 121.1,306.3 123.0,306.1 124.9,305.8 126.8,305.5 128.7,305.1 130.6,304.5 132.6,303.9 134.5,303.4 136.4,303.1 138.3,302.8" fill="none" stroke="#0072BD" stroke-width="0.42"/>
<polyline points="21.7,319.9 23.6,320.3 25.5,320.8 27.5,321.3 29.4,321.8 31.3,322.5 33.2,323.2 35.1,323.5 37.0,323.3 38.9,322.8 40.8,322.0 42.7,320.4 44.7,318.2 46.6,316.3 48.5,314.4 50.4,313.3 52.3,313.2 54.2,313.3 56.1,313.4 58.0,313.7 59.9,314.0 61.8,314.0 63.8,313.2 65.7,311.7 67.6,310.0 69.5,308.0 71.4,305.3 73.3,302.3 75.2,299.2 77.1,296.5 79.0,295.4 81.0,294.6 82.9,294.2 84.8,294.2 86.7,294.2 88.6,294.5 90.5,295.3 92.4,296.1 94.3,297.2 96.2,298.3 98.2,299.0 100.1,299.0 102.0,298.7 103.9,298.0 105.8,297.2 107.7,295.2 109.6,292.8 111.5,290.5 113.4,288.4 115.4,289.5 117.3,291.3 119.2,292.6 121.1,292.7 123.0,292.5 124.9,292.1 126.8,291.7 128.7,291.1 130.6,290.5 132.6,289.9 134.5,289.3 136.4,288.9 138.3,288.6" fill="none" stroke="#D95319" stroke-width="0.42"/>
<polyline points="21.7,322.2 23.6,322.6 25.5,323.0 27.5,323.4 29.4,323.9 31.3,324.5 33.2,325.2 35.1,325.5 37.0,325.3 38.9,324.9 40.8,324.2 42.7,322.7 44.7,320.7 46.6,319.0 48.5,317.3 50.4,316.2 52.3,316.1 54.2,316.1 56.1,316.1 58.0,316.4 59.9,316.6 61.8,316.6 63.8,315.9 65.7,314.6 67.6,313.2 69.5,311.6 71.4,309.5 73.3,307.3 75.2,305.0 77.1,302.9 79.0,301.9 81.0,301.0 82.9,300.7 84.8,300.7 86.7,300.7 88.6,301.0 90.5,301.6 92.4,302.3 94.3,303.1 96.2,303.9 98.2,304.4 100.1,304.5 102.0,304.1 103.9,303.6 105.8,302.8 107.7,301.2 109.6,299.2 111.5,297.3 113.4,295.4 115.4,296.4 117.3,298.3 119.2,299.5 121.1,299.7 123.0,299.5 124.9,299.1 126.8,298.8 128.7,298.3 130.6,297.7 132.6,297.0 134.5,296.5 136.4,296.1 138.3,295.8" fill="none" stroke="#EDB120" stroke-width="0.42"/>
<polyline points="21.7,325.3 23.6,325.6 25.5,326.0 27.5,326.4 29.4,326.8 31.3,327.3 33.2,327.9 35.1,328.2 37.0,328.0 38.9,327.8 40.8,327.3 42.7,326.1 44.7,324.3 46.6,322.8 48.5,321.3 50.4,320.4 52.3,320.2 54.2,320.0 56.1,320.0 58.0,320.2 59.9,320.3 61.8,320.3 63.8,319.8 65.7,318.8 67.6,317.8 69.5,316.8 71.4,315.6 73.3,314.4 75.2,313.2 77.1,312.0 79.0,311.0 81.0,310.1 82.9,309.7 84.8,309.7 86.7,309.7 88.6,309.9 90.5,310.3 92.4,310.7 94.3,311.2 96.2,311.6 98.2,311.8 100.1,311.8 102.0,311.6 103.9,311.1 105.8,310.4 107.7,309.2 109.6,307.7 111.5,306.4 113.4,304.8 115.4,305.8 117.3,307.5 119.2,308.8 121.1,309.0 123.0,308.8 124.9,308.5 126.8,308.2 128.7,307.8 130.6,307.2 132.6,306.7 134.5,306.2 136.4,305.8 138.3,305.5" fill="none" stroke="#7E2F8E" stroke-width="0.42"/>
<polyline points="21.7,309.6 23.6,310.3 25.5,311.0 27.5,311.7 29.4,312.4 31.3,313.4 33.2,314.3 35.1,314.8 37.0,314.4 38.9,313.4 40.8,312.0 42.7,309.6 44.7,306.6 46.6,304.0 48.5,301.3 50.4,299.8 52.3,299.9 54.2,300.3 56.1,300.7 58.0,301.2 59.9,301.7 61.8,301.7 63.8,300.4 65.7,298.0 67.6,295.0 69.5,291.0 71.4,285.1 73.3,278.5 75.2,271.9 77.1,266.2 79.0,264.9 81.0,264.1 82.9,263.8 84.8,263.8 86.7,263.8 88.6,264.3 90.5,265.8 92.4,267.6 94.3,270.0 96.2,272.4 98.2,273.9 100.1,274.1 102.0,273.6 103.9,272.7 105.8,271.4 107.7,268.1 109.6,264.1 111.5,260.0 113.4,256.9 115.4,258.1 117.3,260.3 119.2,261.6 121.1,261.7 123.0,261.3 124.9,260.8 126.8,260.2 128.7,259.6 130.6,258.8 132.6,258.1 134.5,257.6 136.4,257.2 138.3,256.9" fill="none" stroke="#77AC30" stroke-width="0.42"/>
<polyline points="21.7,313.8 23.6,314.4 25.5,315.0 27.5,315.6 29.4,316.3 31.3,317.1 33.2,318.0 35.1,318.4 37.0,318.1 38.9,317.2 40.8,316.1 42.7,314.0 44.7,311.3 46.6,309.0 48.5,306.7 50.4,305.3 52.3,305.4 54.2,305.6 56.1,305.9 58.0,306.3 59.9,306.8 61.8,306.8 63.8,305.6 65.7,303.6 67.6,301.2 69.5,298.0 71.4,293.4 73.3,288.3 75.2,283.2 77.1,278.7 79.0,277.5 81.0,276.7 82.9,276.4 84.8,276.4 86.7,276.4 88.6,276.9 90.5,278.1 92.4,279.5 94.3,281.4 96.2,283.2 98.2,284.4 100.1,284.5 102.0,284.1 103.9,283.3 105.8,282.2 107.7,279.5 109.6,276.1 111.5,272.8 113.4,270.1 115.4,271.2 117.3,273.3 119.2,274.5 121.1,274.6 123.0,274.3 124.9,273.8 126.8,273.3 128.7,272.7 130.6,272.0 132.6,271.3 134.5,270.7 136.4,270.3 138.3,270.0" fill="none" stroke="#4DBEEE" stroke-width="0.42"/>
<polyline points="21.7,320.8 23.6,321.2 25.5,321.7 27.5,322.2 29.4,322.7 31.3,323.4 33.2,324.0 35.1,324.4 37.0,324.2 38.9,323.7 40.8,323.0 42.7,321.4 44.7,319.3 46.6,317.5 48.5,315.7 50.4,314.6 52.3,314.5 54.2,314.5 56.1,314.6 58.0,314.9 59.9,315.1 61.8,315.1 63.8,314.4 65.7,313.0 67.6,311.4 69.5,309.6 71.4,307.1 73.3,304.4 75.2,301.6 77.1,299.1 79.0,298.1 81.0,297.2 82.9,296.8 84.8,296.8 86.7,296.8 88.6,297.0 90.5,297.8 92.4,298.5 94.3,299.5 96.2,300.4 98.2,301.0 100.1,301.1 102.0,300.7 103.9,300.1 105.8,299.3 107.7,297.4 109.6,295.2 111.5,293.1 113.4,291.0 115.4,292.1 117.3,294.0 119.2,295.2 121.1,295.4 123.0,295.1 124.9,294.8 126.8,294.4 128.7,293.9 130.6,293.3 132.6,292.7 134.5,292.2 136.4,291.9 138.3,291.6" fill="none" stroke="#A2142F" stroke-width="0.42"/>
<polyline points="21.7,316.0 23.6,316.6 25.5,317.1 27.5,317.7 29.4,318.3 31.3,319.1 33.2,319.9 35.1,320.3 37.0,320.0 38.9,319.3 40.8,318.4 42.7,316.4 44.7,314.0 46.6,311.8 48.5,309.6 50.4,308.4 52.3,308.4 54.2,308.5 56.1,308.7 58.0,309.1 59.9,309.5 61.8,309.5 63.8,308.5 65.7,306.7 67.6,304.5 69.5,301.8 71.4,297.8 73.3,293.5 75.2,289.1 77.1,285.2 79.0,284.0 81.0,283.1 82.9,282.8 84.8,282.8 86.7,282.7 88.6,283.1 90.5,284.1 92.4,285.3 94.3,286.9 96.2,288.4 98.2,289.4 100.1,289.5 102.0,289.1 103.9,288.3 105.8,287.3 107.7,284.9 109.6,281.8 111.5,278.9 113.4,276.4 115.4,277.5 117.3,279.5 119.2,280.8 121.1,280.9 123.0,280.7 124.9,280.2 126.8,279.8 128.7,279.2 130.6,278.6 132.6,277.9 134.5,277.4 136.4,277.1 138.3,276.8" fill="none" stroke="#0072BD" stroke-width="0.42"/>
<polyline points="21.7,319.1 23.6,319.5 25.5,320.0 27.5,320.5 29.4,321.0 31.3,321.7 33.2,322.5 35.1,322.8 37.0,322.6 38.9,322.0 40.8,321.2 42.7,319.4 44.7,317.2 46.6,315.2 48.5,313.3 50.4,312.1 52.3,312.0 54.2,312.1 56.1,312.2 58.0,312.6 59.9,312.9 61.8,312.9 63.8,312.0 65.7,310.5 67.6,308.7 69.5,306.5 71.4,303.4 73.3,300.1 75.2,296.8 77.1,293.8 79.0,292.7 81.0,291.8 82.9,291.5 84.8,291.5 86.7,291.6 88.6,291.9 90.5,292.8 92.4,293.7 94.3,294.9 96.2,296.1 98.2,296.9 100.1,297.0 102.0,296.6 103.9,296.0 105.8,295.1 107.7,293.0 109.6,290.6 111.5,288.2 113.4,286.0 115.4,287.0 117.3,289.0 119.2,290.2 121.1,290.4 123.0,290.1 124.9,289.7 126.8,289.3 128.7,288.7 130.6,288.1 132.6,287.4 134.5,286.9 136.4,286.5 138.3,286.1" fill="none" stroke="#D95319" stroke-width="0.42"/>
<polyline points="21.7,323.0 23.6,323.4 25.5,323.8 27.5,324.2 29.4,324.6 31.3,325.2 33.2,325.9 35.1,326.1 37.0,326.0 38.9,325.6 40.8,325.0 42.7,323.6 44.7,321.6 46.6,319.9 48.5,318.3 50.4,317.3 52.3,317.1 54.2,317.0 56.1,317.1 58.0,317.3 59.9,317.5 61.8,317.5 63.8,316.8 65.7,315.7 67.6,314.3 69.5,312.9 71.4,311.0 73.3,309.0 75.2,307.0 77.1,305.1 79.0,304.1 81.0,303.2 82.9,302.9 84.8,302.9 86.7,302.9 88.6,303.1 90.5,303.7 92.4,304.3 94.3,305.1 96.2,305.8 98.2,306.2 100.1,306.3 102.0,306.0 103.9,305.4 105.8,304.7 107.7,303.1 109.6,301.3 111.5,299.6 113.4,297.8 115.4,298.8 117.3,300.6 119.2,301.9 121.1,302.1 123.0,301.8 124.9,301.5 126.8,301.2 128.7,300.7 130.6,300.1 132.6,299.5 134.5,299.0 136.4,298.6 138.3,298.3" fill="none" stroke="#EDB120" stroke-width="0.42"/>
<polyline points="21.7,318.8 23.6,319.3 25.5,319.8 27.5,320.3 29.4,320.8 31.3,321.6 33.2,322.3 35.1,322.6 37.0,322.4 38.9,321.8 40.8,321.0 42.7,319.3 44.7,317.0 46.6,315.1 48.5,313.1 50.4,312.0 52.3,311.9 54.2,312.0 56.1,312.1 58.0,312.5 59.9,312.8 61.8,312.8 63.8,311.9 65.7,310.4 67.6,308.5 69.5,306.4 71.4,303.3 73.3,299.9 75.2,296.5 77.1,293.4 79.0,292.3 81.0,291.5 82.9,291.1 84.8,291.1 86.7,291.1 88.6,291.4 90.5,292.3 92.4,293.2 94.3,294.4 96.2,295.6 98.2,296.4 100.1,296.4 102.0,296.0 103.9,295.3 105.8,294.4 107.7,292.3 109.6,289.8 111.5,287.3 113.4,285.1 115.4,286.1 117.3,288.0 119.2,289.3 121.1,289.4 123.0,289.2 124.9,288.8 126.8,288.3 128.7,287.8 130.6,287.1 132.6,286.5 134.5,286.0 136.4,285.6 138.3,285.3" fill="none" stroke="#7E2F8E" stroke-width="0.42"/>
<polyline points="21.7,324.1 23.6,324.4 25.5,324.8 27.5,325.2 29.4,325.6 31.3,326.2 33.2,326.8 35.1,327.1 37.0,327.0 38.9,326.6 40.8,326.1 42.7,324.8 44.7,322.9 46.6,321.3 48.5,319.7 50.4,318.8 52.3,318.6 54.2,318.5 56.1,318.5 58.0,318.7 59.9,318.9 61.8,318.9 63.8,318.2 65.7,317.2 67.6,316.0 69.5,314.8 71.4,313.3 73.3,311.6 75.2,310.0 77.1,308.4 79.0,307.4 81.0,306.6 82.9,306.2 84.8,306.2 86.7,306.2 88.6,306.4 90.5,306.9 92.4,307.4 94.3,308.0 96.2,308.6 98.2,308.9 100.1,309.0 102.0,308.7 103.9,308.1 105.8,307.5 107.7,306.0 109.6,304.4 111.5,302.8 113.4,301.2 115.4,302.1 117.3,303.9 119.2,305.2 121.1,305.4 123.0,305.2 124.9,304.9 126.8,304.5 128.7,304.1 130.6,303.5 132.6,302.9 134.5,302.4 136.4,302.0 138.3,301.7" fill="none" stroke="#77AC30" stroke-width="0.42"/>
<polyline points="21.7,310.1 23.6,310.8 25.5,311.5 27.5,312.2 29.4,312.9 31.3,313.8 33.2,314.8 35.1,315.2 37.0,314.9 38.9,313.9 40.8,312.5 42.7,310.2 44.7,307.2 46.6,304.6 48.5,302.0 50.4,300.5 52.3,300.6 54.2,301.0 56.1,301.3 58.0,301.9 59.9,302.4 61.8,302.4 63.8,301.1 65.7,298.7 67.6,295.8 69.5,291.9 71.4,286.1 73.3,279.8 75.2,273.3 77.1,267.7 79.0,266.4 81.0,265.6 82.9,265.3 84.8,265.3 86.7,265.3 88.6,265.8 90.5,267.3 92.4,269.0 94.3,271.3 96.2,273.6 98.2,275.2 100.1,275.3 102.0,274.8 103.9,273.9 105.8,272.6 107.7,269.4 109.6,265.5 111.5,261.5 113.4,258.4 115.4,259.6 117.3,261.8 119.2,263.1 121.1,263.2 123.0,262.8 124.9,262.3 126.8,261.8 128.7,261.1 130.6,260.4 132.6,259.7 134.5,259.1 136.4,258.7 138.3,258.4" fill="none" stroke="#4DBEEE" stroke-width="0.42"/>
<polyline points="21.7,325.1 23.6,325.5 25.5,325.8 27.5,326.2 29.4,326.6 31.3,327.1 33.2,327.7 35.1,328.0 37.0,327.9 38.9,327.6 40.8,327.1 42.7,325.8 44.7,324.1 46.6,322.6 48.5,321.1 50.4,320.1 52.3,319.9 54.2,319.8 56.1,319.8 58.0,319.9 59.9,320.1 61.8,320.1 63.8,319.5 65.7,318.5 67.6,317.5 69.5,316.4 71.4,315.2 73.3,314.0 75.2,312.6 77.1,311.4 79.0,310.4 81.0,309.5 82.9,309.1 84.8,309.1 86.7,309.1 88.6,309.3 90.5,309.7 92.4,310.1 94.3,310.6 96.2,311.0 98.2,311.3 100.1,311.3 102.0,311.0 103.9,310.6 105.8,309.9 107.7,308.6 109.6,307.1 111.5,305.8 113.4,304.2 115.4,305.1 117.3,306.9 119.2,308.2 121.1,308.4 123.0,308.2 124.9,307.9 126.8,307.6 128.7,307.2 130.6,306.6 132.6,306.0 134.5,305.6 136.4,305.2 138.3,304.9" fill="none" stroke="#A2142F" stroke-width="0.42"/>
<polyline points="21.7,325.0 23.6,325.4 25.5,325.7 27.5,326.1 29.4,326.5 31.3,327.0 33.2,327.6 35.1,327.9 37.0,327.8 38.9,327.5 40.8,327.0 42.7,325.7 44.7,324.0 46.6,322.4 48.5,320.9 50.4,320.0 52.3,319.8 54.2,319.6 56.1,319.7 58.0,319.8 59.9,320.0 61.8,320.0 63.8,319.4 65.7,318.4 67.6,317.3 69.5,316.3 71.4,315.0 73.3,313.7 75.2,312.4 77.1,311.1 79.0,310.1 81.0,309.2 82.9,308.8 84.8,308.8 86.7,308.8 88.6,309.0 90.5,309.5 92.4,309.9 94.3,310.4 96.2,310.8 98.2,311.1 100.1,311.1 102.0,310.8 103.9,310.3 105.8,309.7 107.7,308.4 109.6,306.9 111.5,305.5 113.4,303.9 115.4,304.9 117.3,306.6 119.2,307.9 121.1,308.1 123.0,307.9 124.9,307.6 126.8,307.3 128.7,306.9 130.6,306.3 132.6,305.7 134.5,305.2 136.4,304.9 138.3,304.6" fill="none" stroke="#0072BD" stroke-width="0.42"/>
<polyline points="21.7,321.6 23.6,322.0 25.5,322.5 27.5,322.9 29.4,323.4 31.3,324.1 33.2,324.7 35.1,325.0 37.0,324.9 38.9,324.4 40.8,323.7 42.7,322.2 44.7,320.2 46.6,318.4 48.5,316.6 50.4,315.6 52.3,315.4 54.2,315.4 56.1,315.5 58.0,315.7 59.9,316.0 61.8,316.0 63.8,315.2 65.7,313.9 67.6,312.4 69.5,310.7 71.4,308.4 73.3,305.9 75.2,303.4 77.1,301.1 79.0,300.0 81.0,299.1 82.9,298.7 84.8,298.7 86.7,298.7 88.6,299.0 90.5,299.6 92.4,300.3 94.3,301.3 96.2,302.1 98.2,302.7 100.1,302.7 102.0,302.4 103.9,301.8 105.8,301.0 107.7,299.3 109.6,297.2 111.5,295.2 113.4,293.3 115.4,294.3 117.3,296.2 119.2,297.5 121.1,297.7 123.0,297.5 124.9,297.2 126.8,296.8 128.7,296.3 130.6,295.7 132.6,295.2 134.5,294.7 136.4,294.3 138.3,294.0" fill="none" stroke="#D95319" stroke-width="0.42"/>
<polyline points="21.7,321.1 23.6,321.6 25.5,322.0 27.5,322.5 29.4,323.0 31.3,323.6 33.2,324.3 35.1,324.6 37.0,324.4 38.9,323.9 40.8,323.2 42.7,321.7 44.7,319.6 46.6,317.8 48.5,316.0 50.4,314.9 52.3,314.8 54.2,314.8 56.1,314.9 58.0,315.2 59.9,315.4 61.8,315.4 63.8,314.7 65.7,313.3 67.6,311.8 69.5,310.0 71.4,307.6 73.3,305.0 75.2,302.4 77.1,300.0 79.0,299.0 81.0,298.1 82.9,297.8 84.8,297.8 86.7,297.8 88.6,298.1 90.5,298.8 92.4,299.6 94.3,300.5 96.2,301.4 98.2,302.0 100.1,302.1 102.0,301.7 103.9,301.1 105.8,300.3 107.7,298.5 109.6,296.4 111.5,294.3 113.4,292.3 115.4,293.3 117.3,295.2 119.2,296.4 121.1,296.6 123.0,296.3 124.9,296.0 126.8,295.6 128.7,295.1 130.6,294.4 132.6,293.8 134.5,293.3 136.4,292.9 138.3,292.6" fill="none" stroke="#EDB120" stroke-width="0.42"/>
<polyline points="21.7,323.4 23.6,323.7 25.5,324.1 27.5,324.6 29.4,325.0 31.3,325.6 33.2,326.2 35.1,326.5 37.0,326.4 38.9,326.0 40.8,325.4 42.7,324.0 44.7,322.1 46.6,320.5 48.5,318.9 50.4,317.9 52.3,317.7 54.2,317.6 56.1,317.7 58.0,317.9 59.9,318.1 61.8,318.1 63.8,317.4 65.7,316.3 67.6,315.0 69.5,313.7 71.4,311.9 73.3,310.1 75.2,308.2 77.1,306.4 79.0,305.4 81.0,304.5 82.9,304.1 84.8,304.1 86.7,304.1 88.6,304.3 90.5,304.9 92.4,305.4 94.3,306.1 96.2,306.7 98.2,307.1 100.1,307.1 102.0,306.8 103.9,306.3 105.8,305.6 107.7,304.0 109.6,302.3 111.5,300.6 113.4,298.8 115.4,299.8 117.3,301.6 119.2,302.9 121.1,303.1 123.0,302.9 124.9,302.5 126.8,302.2 128.7,301.7 130.6,301.2 132.6,300.6 134.5,300.1 136.4,299.7 138.3,299.4" fill="none" stroke="#7E2F8E" stroke-width="0.42"/>
<polyline points="21.7,325.2 23.6,325.5 25.5,325.9 27.5,326.3 29.4,326.7 31.3,327.2 33.2,327.8 35.1,328.0 37.0,327.9 38.9,327.6 40.8,327.2 42.7,325.9 44.7,324.2 46.6,322.6 48.5,321.2 50.4,320.2 52.3,320.0 54.2,319.9 56.1,319.9 58.0,320.0 59.9,320.2 61.8,320.2 63.8,319.6 65.7,318.7 67.6,317.6 69.5,316.6 71.4,315.4 73.3,314.2 75.2,312.9 77.1,311.6 79.0,310.6 81.0,309.8 82.9,309.4 84.8,309.4 86.7,309.4 88.6,309.5 90.5,310.0 92.4,310.4 94.3,310.8 96.2,311.3 98.2,311.5 100.1,311.5 102.0,311.3 103.9,310.8 105.8,310.1 107.7,308.8 109.6,307.4 111.5,306.0 113.4,304.4 115.4,305.4 117.3,307.2 119.2,308.4 121.1,308.6 123.0,308.4 124.9,308.2 126.8,307.8 128.7,307.4 130.6,306.8 132.6,306.3 134.5,305.8 136.4,305.4 138.3,305.1" fill="none" stroke="#77AC30" stroke-width="0.42"/>
<polyline points="21.7,315.8 23.6,316.4 25.5,316.9 27.5,317.5 29.4,318.1 31.3,318.9 33.2,319.7 35.1,320.1 37.0,319.8 38.9,319.1 40.8,318.1 42.7,316.1 44.7,313.6 46.6,311.4 48.5,309.2 50.4,307.9 52.3,307.9 54.2,308.1 56.1,308.3 58.0,308.7 59.9,309.0 61.8,309.0 63.8,308.0 65.7,306.1 67.6,303.9 69.5,301.1 71.4,297.0 73.3,292.5 75.2,288.0 77.1,284.0 79.0,282.8 81.0,282.0 82.9,281.6 84.8,281.6 86.7,281.6 88.6,282.0 90.5,283.1 92.4,284.3 94.3,286.0 96.2,287.6 98.2,288.7 100.1,288.8 102.0,288.4 103.9,287.7 105.8,286.7 107.7,284.2 109.6,281.2 111.5,278.2 113.4,275.7 115.4,276.9 117.3,278.9 119.2,280.2 121.1,280.4 123.0,280.1 124.9,279.7 126.8,279.2 128.7,278.7 130.6,278.0 132.6,277.4 134.5,276.9 136.4,276.5 138.3,276.2" fill="none" stroke="#4DBEEE" stroke-width="0.42"/>
<polyline points="21.7,324.5 23.6,324.9 25.5,325.2 27.5,325.6 29.4,326.0 31.3,326.6 33.2,327.2 35.1,327.5 37.0,327.3 38.9,327.0 40.8,326.5 42.7,325.2 44.7,323.4 46.6,321.8 48.5,320.3 50.4,319.4 52.3,319.2 54.2,319.1 56.1,319.1 58.0,319.2 59.9,319.4 61.8,319.4 63.8,318.8 65.7,317.8 67.6,316.6 69.5,315.5 71.4,314.1 73.3,312.7 75.2,311.2 77.1,309.7 79.0,308.7 81.0,307.8 82.9,307.5 84.8,307.5 86.7,307.5 88.6,307.6 90.5,308.1 92.4,308.6 94.3,309.1 96.2,309.6 98.2,309.9 100.1,310.0 102.0,309.7 103.9,309.1 105.8,308.5 107.7,307.1 109.6,305.5 111.5,304.0 113.4,302.4 115.4,303.4 117.3,305.2 119.2,306.4 121.1,306.6 123.0,306.4 124.9,306.1 126.8,305.8 128.7,305.3 130.6,304.7 132.6,304.2 134.5,303.7 136.4,303.3 138.3,303.0" fill="none" stroke="#A2142F" stroke-width="0.42"/>
<polyline points="21.7,325.4 23.6,325.7 25.5,326.0 27.5,326.4 29.4,326.8 31.3,327.3 33.2,327.9 35.1,328.2 37.0,328.1 38.9,327.8 40.8,327.3 42.7,326.1 44.7,324.3 46.6,322.8 48.5,321.3 50.4,320.4 52.3,320.2 54.2,320.1 56.1,320.1 58.0,320.2 59.9,320.4 61.8,320.4 63.8,319.8 65.7,318.9 67.6,317.8 69.5,316.8 71.4,315.7 73.3,314.5 75.2,313.3 77.1,312.1 79.0,311.1 81.0,310.2 82.9,309.8 84.8,309.8 86.7,309.8 88.6,310.0 90.5,310.4 92.4,310.8 94.3,311.2 96.2,311.6 98.2,311.9 100.1,311.9 102.0,311.6 103.9,311.1 105.8,310.5 107.7,309.2 109.6,307.8 111.5,306.5 113.4,304.9 115.4,305.9 117.3,307.6 119.2,308.9 121.1,309.1 123.0,308.9 124.9,308.6 126.8,308.3 128.7,307.9 130.6,307.3 132.6,306.8 134.5,306.3 136.4,305.9 138.3,305.6" fill="none" stroke="#0072BD" stroke-width="0.42"/>
<polyline points="21.7,318.2 23.6,318.7 25.5,319.2 27.5,319.8 29.4,320.3 31.3,321.0 33.2,321.8 35.1,322.1 37.0,321.9 38.9,321.2 40.8,320.4 42.7,318.6 44.7,316.3 46.6,314.2 48.5,312.2 50.4,311.0 52.3,310.9 54.2,311.0 56.1,311.2 58.0,311.5 59.9,311.8 61.8,311.8 63.8,310.9 65.7,309.3 67.6,307.3 69.5,305.0 71.4,301.6 73.3,298.0 75.2,294.3 77.1,291.0 79.0,289.9 81.0,289.0 82.9,288.7 84.8,288.7 86.7,288.7 88.6,289.1 90.5,290.0 92.4,291.1 94.3,292.4 96.2,293.7 98.2,294.6 100.1,294.7 102.0,294.4 103.9,293.7 105.8,292.8 107.7,290.6 109.6,288.0 111.5,285.5 113.4,283.2 115.4,284.3 117.3,286.3 119.2,287.6 121.1,287.7 123.0,287.5 124.9,287.1 126.8,286.7 128.7,286.2 130.6,285.5 132.6,284.9 134.5,284.4 136.4,284.0 138.3,283.7" fill="none" stroke="#D95319" stroke-width="0.42"/>
<polyline points="21.7,325.0 23.6,325.3 25.5,325.7 27.5,326.0 29.4,326.4 31.3,327.0 33.2,327.6 35.1,327.8 37.0,327.7 38.9,327.4 40.8,327.0 42.7,325.7 44.7,323.9 46.6,322.4 48.5,320.9 50.4,319.9 52.3,319.7 54.2,319.6 56.1,319.6 58.0,319.8 59.9,319.9 61.8,319.9 63.8,319.3 65.7,318.4 67.6,317.3 69.5,316.2 71.4,315.0 73.3,313.6 75.2,312.3 77.1,311.0 79.0,310.0 81.0,309.1 82.9,308.7 84.8,308.7 86.7,308.7 88.6,308.9 90.5,309.4 92.4,309.8 94.3,310.3 96.2,310.7 98.2,311.0 100.1,311.0 102.0,310.7 103.9,310.2 105.8,309.6 107.7,308.3 109.6,306.8 111.5,305.3 113.4,303.7 115.4,304.7 117.3,306.5 119.2,307.8 121.1,307.9 123.0,307.7 124.9,307.5 126.8,307.1 128.7,306.7 130.6,306.1 132.6,305.6 134.5,305.1 136.4,304.7 138.3,304.4" fill="none" stroke="#EDB120" stroke-width="0.42"/>
<polyline points="21.7,311.7 23.6,312.3 25.5,313.0 27.5,313.7 29.4,314.4 31.3,315.3 33.2,316.2 35.1,316.6 37.0,316.3 38.9,315.4 40.8,314.1 42.7,311.9 44.7,309.1 46.6,306.6 48.5,304.1 50.4,302.7 52.3,302.8 54.2,303.0 56.1,303.4 58.0,303.9 59.9,304.4 61.8,304.3 63.8,303.1 65.7,300.9 67.6,298.2 69.5,294.6 71.4,289.3 73.3,283.5 75.2,277.7 77.1,272.6 79.0,271.3 81.0,270.5 82.9,270.2 84.8,270.1 86.7,270.1 88.6,270.6 90.5,271.9 92.4,273.5 94.3,275.6 96.2,277.7 98.2,279.1 100.1,279.2 102.0,278.7 103.9,277.8 105.8,276.6 107.7,273.7 109.6,269.9 111.5,266.2 113.4,263.3 115.4,264.5 117.3,266.6 119.2,267.9 121.1,268.0 123.0,267.7 124.9,267.2 126.8,266.7 128.7,266.0 130.6,265.3 132.6,264.6 134.5,264.1 136.4,263.7 138.3,263.4" fill="none" stroke="#7E2F8E" stroke-width="0.42"/>
<polyline points="21.7,324.3 23.6,324.6 25.5,325.0 27.5,325.4 29.4,325.8 31.3,326.4 33.2,327.0 35.1,327.3 37.0,327.1 38.9,326.8 40.8,326.3 42.7,325.0 44.7,323.1 46.6,321.5 48.5,320.0 50.4,319.0 52.3,318.8 54.2,318.7 56.1,318.7 58.0,318.9 59.9,319.1 61.8,319.1 63.8,318.5 65.7,317.4 67.6,316.2 69.5,315.0 71.4,313.6 73.3,312.0 75.2,310.4 77.1,308.9 79.0,307.9 81.0,307.0 82.9,306.6 84.8,306.6 86.7,306.6 88.6,306.8 90.5,307.3 92.4,307.8 94.3,308.4 96.2,308.9 98.2,309.3 100.1,309.3 102.0,309.0 103.9,308.5 105.8,307.8 107.7,306.4 109.6,304.8 111.5,303.3 113.4,301.6 115.4,302.6 117.3,304.4 119.2,305.7 121.1,305.9 123.0,305.7 124.9,305.4 126.8,305.1 128.7,304.6 130.6,304.1 132.6,303.5 134.5,303.0 136.4,302.6 138.3,302.3" fill="none" stroke="#77AC30" stroke-width="0.42"/>
<polyline points="21.7,314.8 23.6,315.3 25.5,315.9 27.5,316.5 29.4,317.2 31.3,318.0 33.2,318.8 35.1,319.2 37.0,318.9 38.9,318.1 40.8,317.1 42.7,315.1 44.7,312.5 46.6,310.3 48.5,308.0 50.4,306.7 52.3,306.7 54.2,306.9 56.1,307.2 58.0,307.6 59.9,308.0 61.8,308.0 63.8,306.9 65.7,305.0 67.6,302.7 69.5,299.8 71.4,295.4 73.3,290.7 75.2,285.9 77.1,281.7 79.0,280.5 81.0,279.7 82.9,279.4 84.8,279.4 86.7,279.4 88.6,279.8 90.5,280.9 92.4,282.2 94.3,283.9 96.2,285.6 98.2,286.7 100.1,286.8 102.0,286.4 103.9,285.6 105.8,284.5 107.7,281.9 109.6,278.6 111.5,275.5 113.4,272.8 115.4,274.0 117.3,276.0 119.2,277.2 121.1,277.4 123.0,277.0 124.9,276.6 126.8,276.1 128.7,275.5 130.6,274.8 132.6,274.1 134.5,273.6 136.4,273.2 138.3,272.9" fill="none" stroke="#4DBEEE" stroke-width="0.42"/>
<polyline points="21.7,310.4 23.6,311.1 25.5,311.8 27.5,312.5 29.4,313.2 31.3,314.1 33.2,315.1 35.1,315.5 37.0,315.2 38.9,314.2 40.8,312.9 42.7,310.5 44.7,307.6 46.6,305.0 48.5,302.4 50.4,301.0 52.3,301.1 54.2,301.4 56.1,301.8 58.0,302.3 59.9,302.8 61.8,302.8 63.8,301.5 65.7,299.2 67.6,296.3 69.5,292.5 71.4,286.9 73.3,280.6 75.2,274.4 77.1,268.9 79.0,267.6 81.0,266.8 82.9,266.5 84.8,266.5 86.7,266.5 88.6,267.0 90.5,268.4 92.4,270.1 94.3,272.4 96.2,274.6 98.2,276.1 100.1,276.3 102.0,275.8 103.9,274.9 105.8,273.6 107.7,270.5 109.6,266.5 111.5,262.6 113.4,259.6 115.4,260.8 117.3,262.9 119.2,264.2 121.1,264.3 123.0,264.0 124.9,263.4 126.8,262.9 128.7,262.2 130.6,261.5 132.6,260.8 134.5,260.2 136.4,259.8 138.3,259.5" fill="none" stroke="#A2142F" stroke-width="0.42"/>
<polyline points="21.7,313.1 23.6,313.7 25.5,314.3 27.5,315.0 29.4,315.7 31.3,316.5 33.2,317.4 35.1,317.8 37.0,317.5 38.9,316.6 40.8,315.5 42.7,313.3 44.7,310.6 46.6,308.2 48.5,305.8 50.4,304.5 52.3,304.5 54.2,304.7 56.1,305.0 58.0,305.5 59.9,305.9 61.8,305.9 63.8,304.7 65.7,302.6 67.6,300.1 69.5,296.8 71.4,291.9 73.3,286.5 75.2,281.1 77.1,276.3 79.0,275.0 81.0,274.2 82.9,273.9 84.8,273.9 86.7,273.9 88.6,274.3 90.5,275.6 92.4,277.0 94.3,279.0 96.2,280.9 98.2,282.2 100.1,282.4 102.0,281.9 103.9,281.1 105.8,279.9 107.7,277.1 109.6,273.6 111.5,270.2 113.4,267.4 115.4,268.6 117.3,270.7 119.2,272.0 121.1,272.2 123.0,271.8 124.9,271.4 126.8,270.9 128.7,270.3 130.6,269.6 132.6,269.0 134.5,268.4 136.4,268.1 138.3,267.8" fill="none" stroke="#0072BD" stroke-width="0.42"/>
<polyline points="21.7,325.2 23.6,325.6 25.5,325.9 27.5,326.3 29.4,326.7 31.3,327.3 33.2,327.8 35.1,328.1 37.0,328.0 38.9,327.7 40.8,327.2 42.7,326.0 44.7,324.2 46.6,322.7 48.5,321.2 50.4,320.3 52.3,320.1 54.2,319.9 56.1,319.9 58.0,320.1 59.9,320.2 61.8,320.2 63.8,319.7 65.7,318.7 67.6,317.7 69.5,316.7 71.4,315.5 73.3,314.3 75.2,313.0 77.1,311.8 79.0,310.8 81.0,309.9 82.9,309.5 84.8,309.5 86.7,309.5 88.6,309.7 90.5,310.1 92.4,310.5 94.3,311.0 96.2,311.4 98.2,311.6 100.1,311.7 102.0,311.4 103.9,310.9 105.8,310.3 107.7,309.0 109.6,307.5 111.5,306.1 113.4,304.6 115.4,305.5 117.3,307.3 119.2,308.6 121.1,308.8 123.0,308.6 124.9,308.3 126.8,308.0 128.7,307.6 130.6,307.0 132.6,306.4 134.5,305.9 136.4,305.6 138.3,305.3" fill="none" stroke="#D95319" stroke-width="0.42"/>
<polyline points="21.7,321.4 23.6,321.8 25.5,322.2 27.5,322.7 29.4,323.2 31.3,323.8 33.2,324.5 35.1,324.8 37.0,324.6 38.9,324.1 40.8,323.4 42.7,321.9 44.7,319.8 46.6,318.0 48.5,316.2 50.4,315.1 52.3,315.0 54.2,315.0 56.1,315.1 58.0,315.3 59.9,315.6 61.8,315.6 63.8,314.8 65.7,313.5 67.6,311.9 69.5,310.2 71.4,307.8 73.3,305.2 75.2,302.6 77.1,300.2 79.0,299.1 81.0,298.3 82.9,298.0 84.8,298.0 86.7,298.0 88.6,298.3 90.5,299.0 92.4,299.7 94.3,300.7 96.2,301.6 98.2,302.2 100.1,302.3 102.0,302.0 103.9,301.4 105.8,300.6 107.7,298.8 109.6,296.8 111.5,294.7 113.4,292.8 115.4,293.8 117.3,295.7 119.2,297.0 121.1,297.2 123.0,296.9 124.9,296.6 126.8,296.2 128.7,295.7 130.6,295.1 132.6,294.5 134.5,294.0 136.4,293.6 138.3,293.3" fill="none" stroke="#EDB120" stroke-width="0.42"/>
<polyline points="21.7,311.0 23.6,311.7 25.5,312.3 27.5,313.0 29.4,313.7 31.3,314.6 33.2,315.6 35.1,316.0 37.0,315.6 38.9,314.7 40.8,313.4 42.7,311.1 44.7,308.2 46.6,305.7 48.5,303.1 50.4,301.7 52.3,301.8 54.2,302.0 56.1,302.4 58.0,302.9 59.9,303.4 61.8,303.4 63.8,302.1 65.7,299.9 67.6,297.0 69.5,293.4 71.4,287.8 73.3,281.8 75.2,275.7 77.1,270.3 79.0,269.1 81.0,268.3 82.9,268.0 84.8,268.0 86.7,268.0 88.6,268.5 90.5,269.9 92.4,271.5 94.3,273.8 96.2,276.0 98.2,277.4 100.1,277.6 102.0,277.1 103.9,276.2 105.8,275.0 107.7,272.0 109.6,268.1 111.5,264.3 113.4,261.3 115.4,262.5 117.3,264.7 119.2,265.9 121.1,266.1 123.0,265.7 124.9,265.2 126.8,264.7 128.7,264.0 130.6,263.3 132.6,262.6 134.5,262.0 136.4,261.6 138.3,261.3" fill="none" stroke="#7E2F8E" stroke-width="0.42"/>
<polyline points="21.7,322.6 23.6,323.0 25.5,323.4 27.5,323.9 29.4,324.3 31.3,325.0 33.2,325.6 35.1,325.9 37.0,325.7 38.9,325.3 40.8,324.7 42.7,323.3 44.7,321.3 46.6,319.6 48.5,318.0 50.4,316.9 52.3,316.8 54.2,316.7 56.1,316.8 58.0,317.0 59.9,317.3 61.8,317.2 63.8,316.6 65.7,315.4 67.6,314.0 69.5,312.5 71.4,310.6 73.3,308.5 75.2,306.4 77.1,304.5 79.0,303.4 81.0,302.6 82.9,302.2 84.8,302.2 86.7,302.2 88.6,302.4 90.5,303.0 92.4,303.6 94.3,304.4 96.2,305.1 98.2,305.6 100.1,305.6 102.0,305.3 103.9,304.7 105.8,304.0 107.7,302.3 109.6,300.5 111.5,298.6 113.4,296.8 115.4,297.8 117.3,299.6 119.2,300.9 121.1,301.0 123.0,300.8 124.9,300.5 126.8,300.1 128.7,299.6 130.6,299.0 132.6,298.4 134.5,297.9 136.4,297.6 138.3,297.2" fill="none" stroke="#77AC30" stroke-width="0.42"/>
<polyline points="21.7,314.4 23.6,315.0 25.5,315.6 27.5,316.2 29.4,316.8 31.3,317.7 33.2,318.5 35.1,318.9 37.0,318.6 38.9,317.8 40.8,316.7 42.7,314.6 44.7,312.0 46.6,309.7 48.5,307.4 50.4,306.1 52.3,306.1 54.2,306.3 56.1,306.5 58.0,307.0 59.9,307.4 61.8,307.4 63.8,306.2 65.7,304.3 67.6,301.9 69.5,298.8 71.4,294.3 73.3,289.3 75.2,284.4 77.1,280.0 79.0,278.7 81.0,277.9 82.9,277.6 84.8,277.7 86.7,277.7 88.6,278.1 90.5,279.3 92.4,280.6 94.3,282.5 96.2,284.3 98.2,285.4 100.1,285.6 102.0,285.2 103.9,284.4 105.8,283.3 107.7,280.7 109.6,277.4 111.5,274.2 113.4,271.6 115.4,272.8 117.3,274.8 119.2,276.1 121.1,276.3 123.0,276.0 124.9,275.5 126.8,275.1 128.7,274.5 130.6,273.8 132.6,273.1 134.5,272.6 136.4,272.2 138.3,271.9" fill="none" stroke="#4DBEEE" stroke-width="0.42"/>
<polyline points="21.7,320.7 23.6,321.1 25.5,321.6 27.5,322.1 29.4,322.6 31.3,323.2 33.2,323.9 35.1,324.2 37.0,324.0 38.9,323.5 40.8,322.8 42.7,321.2 44.7,319.1 46.6,317.2 48.5,315.4 50.4,314.3 52.3,314.2 54.2,314.2 56.1,314.3 58.0,314.5 59.9,314.8 61.8,314.8 63.8,314.0 65.7,312.6 67.6,311.0 69.5,309.1 71.4,306.5 73.3,303.6 75.2,300.8 77.1,298.2 79.0,297.1 81.0,296.2 82.9,295.9 84.8,295.9 86.7,295.9 88.6,296.1 90.5,296.9 92.4,297.7 94.3,298.7 96.2,299.7 98.2,300.4 100.1,300.4 102.0,300.1 103.9,299.5 105.8,298.7 107.7,296.8 109.6,294.6 111.5,292.5 113.4,290.4 115.4,291.5 117.3,293.4 119.2,294.7 121.1,294.9 123.0,294.7 124.9,294.3 126.8,294.0 128.7,293.5 130.6,292.9 132.6,292.3 134.5,291.8 136.4,291.5 138.3,291.2" fill="none" stroke="#A2142F" stroke-width="0.42"/>
<polyline points="21.7,309.1 23.6,309.8 25.5,310.5 27.5,311.3 29.4,312.0 31.3,313.0 33.2,313.9 35.1,314.4 37.0,314.0 38.9,313.0 40.8,311.6 42.7,309.1 44.7,306.1 46.6,303.4 48.5,300.7 50.4,299.2 52.3,299.4 54.2,299.7 56.1,300.1 58.0,300.7 59.9,301.2 61.8,301.2 63.8,299.9 65.7,297.4 67.6,294.4 69.5,290.3 71.4,284.2 73.3,277.5 75.2,270.8 77.1,264.9 79.0,263.6 81.0,262.8 82.9,262.5 84.8,262.5 86.7,262.5 88.6,263.1 90.5,264.6 92.4,266.4 94.3,268.8 96.2,271.3 98.2,272.9 100.1,273.0 102.0,272.5 103.9,271.6 105.8,270.3 107.7,267.0 109.6,262.8 111.5,258.7 113.4,255.5 115.4,256.7 117.3,258.9 119.2,260.2 121.1,260.3 123.0,260.0 124.9,259.4 126.8,258.8 128.7,258.2 130.6,257.4 132.6,256.7 134.5,256.2 136.4,255.8 138.3,255.5" fill="none" stroke="#0072BD" stroke-width="0.42"/>
<polyline points="21.7,323.8 23.6,324.1 25.5,324.5 27.5,324.9 29.4,325.3 31.3,325.9 33.2,326.5 35.1,326.8 37.0,326.7 38.9,326.3 40.8,325.8 42.7,324.4 44.7,322.5 46.6,320.9 48.5,319.3 50.4,318.3 52.3,318.1 54.2,318.0 56.1,318.1 58.0,318.2 59.9,318.4 61.8,318.4 63.8,317.8 65.7,316.7 67.6,315.4 69.5,314.1 71.4,312.5 73.3,310.7 75.2,309.0 77.1,307.3 79.0,306.3 81.0,305.4 82.9,305.0 84.8,305.0 86.7,305.1 88.6,305.3 90.5,305.8 92.4,306.4 94.3,307.0 96.2,307.6 98.2,308.0 100.1,308.0 102.0,307.7 103.9,307.2 105.8,306.5 107.7,305.1 109.6,303.4 111.5,301.8 113.4,300.0 115.4,301.0 117.3,302.9 119.2,304.1 121.1,304.3 123.0,304.1 124.9,303.8 126.8,303.5 128.7,303.0 130.6,302.4 132.6,301.8 134.5,301.3 136.4,301.0 138.3,300.6" fill="none" stroke="#D95319" stroke-width="0.42"/>
<polyline points="21.7,316.6 23.6,317.1 25.5,317.6 27.5,318.2 29.4,318.8 31.3,319.6 33.2,320.3 35.1,320.7 37.0,320.4 38.9,319.8 40.8,318.8 42.7,316.9 44.7,314.5 46.6,312.4 48.5,310.2 50.4,309.0 52.3,309.0 54.2,309.1 56.1,309.3 58.0,309.7 59.9,310.1 61.8,310.1 63.8,309.1 65.7,307.4 67.6,305.3 69.5,302.7 71.4,298.9 73.3,294.8 75.2,290.6 77.1,286.9 79.0,285.8 81.0,284.9 82.9,284.6 84.8,284.6 86.7,284.6 88.6,285.0 90.5,286.0 92.4,287.1 94.3,288.7 96.2,290.1 98.2,291.1 100.1,291.2 102.0,290.8 103.9,290.0 105.8,289.0 107.7,286.6 109.6,283.7 111.5,280.9 113.4,278.4 115.4,279.5 117.3,281.5 119.2,282.7 121.1,282.9 123.0,282.5 124.9,282.1 126.8,281.6 128.7,281.1 130.6,280.4 132.6,279.7 134.5,279.2 136.4,278.8 138.3,278.4" fill="none" stroke="#EDB120" stroke-width="0.42"/>
<polyline points="21.7,323.5 23.6,323.9 25.5,324.3 27.5,324.7 29.4,325.1 31.3,325.7 33.2,326.3 35.1,326.6 37.0,326.5 38.9,326.1 40.8,325.5 42.7,324.2 44.7,322.3 46.6,320.6 48.5,319.0 50.4,318.0 52.3,317.8 54.2,317.8 56.1,317.8 58.0,318.0 59.9,318.2 61.8,318.2 63.8,317.6 65.7,316.5 67.6,315.2 69.5,313.9 71.4,312.2 73.3,310.4 75.2,308.6 77.1,306.8 79.0,305.8 81.0,305.0 82.9,304.6 84.8,304.6 86.7,304.6 88.6,304.8 90.5,305.4 92.4,305.9 94.3,306.6 96.2,307.2 98.2,307.6 100.1,307.6 102.0,307.3 103.9,306.8 105.8,306.1 107.7,304.6 109.6,302.8 111.5,301.2 113.4,299.4 115.4,300.4 117.3,302.2 119.2,303.5 121.1,303.6 123.0,303.4 124.9,303.1 126.8,302.8 128.7,302.3 130.6,301.7 132.6,301.1 134.5,300.6 136.4,300.2 138.3,299.9" fill="none" stroke="#7E2F8E" stroke-width="0.42"/>
<polyline points="21.7,315.5 23.6,316.0 25.5,316.6 27.5,317.2 29.4,317.8 31.3,318.6 33.2,319.4 35.1,319.8 37.0,319.5 38.9,318.7 40.8,317.7 42.7,315.7 44.7,313.1 46.6,310.9 48.5,308.7 50.4,307.4 52.3,307.4 54.2,307.6 56.1,307.8 58.0,308.2 59.9,308.6 61.8,308.6 63.8,307.6 65.7,305.7 67.6,303.4 69.5,300.6 71.4,296.4 73.3,291.9 75.2,287.3 77.1,283.3 79.0,282.1 81.0,281.3 82.9,281.0 84.8,281.0 86.7,281.1 88.6,281.5 90.5,282.6 92.4,283.8 94.3,285.5 96.2,287.2 98.2,288.3 100.1,288.4 102.0,288.0 103.9,287.2 105.8,286.2 107.7,283.7 109.6,280.6 111.5,277.6 113.4,275.0 115.4,276.2 117.3,278.2 119.2,279.4 121.1,279.6 123.0,279.3 124.9,278.8 126.8,278.3 128.7,277.7 130.6,277.0 132.6,276.4 134.5,275.8 136.4,275.4 138.3,275.1" fill="none" stroke="#77AC30" stroke-width="0.42"/>
<polyline points="21.7,314.6 23.6,315.2 25.5,315.8 27.5,316.4 29.4,317.0 31.3,317.8 33.2,318.7 35.1,319.1 37.0,318.8 38.9,318.0 40.8,316.9 42.7,314.9 44.7,312.3 46.6,310.0 48.5,307.7 50.4,306.4 52.3,306.5 54.2,306.6 56.1,306.9 58.0,307.3 59.9,307.7 61.8,307.7 63.8,306.6 65.7,304.7 67.6,302.3 69.5,299.3 71.4,294.8 73.3,290.0 75.2,285.1 77.1,280.7 79.0,279.5 81.0,278.7 82.9,278.3 84.8,278.3 86.7,278.3 88.6,278.7 90.5,279.8 92.4,281.1 94.3,282.9 96.2,284.7 98.2,285.8 100.1,285.9 102.0,285.5 103.9,284.7 105.8,283.6 107.7,281.0 109.6,277.7 111.5,274.5 113.4,271.9 115.4,273.0 117.3,275.1 119.2,276.4 121.1,276.5 123.0,276.2 124.9,275.8 126.8,275.4 128.7,274.8 130.6,274.1 132.6,273.5 134.5,273.0 136.4,272.6 138.3,272.3" fill="none" stroke="#4DBEEE" stroke-width="0.42"/>
<polyline points="21.7,312.6 23.6,313.2 25.5,313.8 27.5,314.5 29.4,315.2 31.3,316.0 33.2,316.9 35.1,317.3 37.0,317.0 38.9,316.1 40.8,314.9 42.7,312.7 44.7,309.9 46.6,307.5 48.5,305.1 50.4,303.7 52.3,303.7 54.2,304.0 56.1,304.3 58.0,304.8 59.9,305.2 61.8,305.2 63.8,304.0 65.7,301.9 67.6,299.3 69.5,295.9 71.4,290.8 73.3,285.3 75.2,279.7 77.1,274.8 79.0,273.6 81.0,272.8 82.9,272.5 84.8,272.5 86.7,272.5 88.6,273.0 90.5,274.3 92.4,275.8 94.3,277.8 96.2,279.8 98.2,281.2 100.1,281.3 102.0,280.9 103.9,280.0 105.8,278.9 107.7,276.0 109.6,272.5 111.5,269.0 113.4,266.1 115.4,267.3 117.3,269.4 119.2,270.7 121.1,270.8 123.0,270.5 124.9,270.0 126.8,269.5 128.7,268.9 130.6,268.2 132.6,267.5 134.5,266.9 136.4,266.5 138.3,266.2" fill="none" stroke="#A2142F" stroke-width="0.42"/>
<polyline points="21.7,311.2 23.6,311.9 25.5,312.6 27.5,313.2 29.4,313.9 31.3,314.9 33.2,315.8 35.1,316.2 37.0,315.8 38.9,314.9 40.8,313.6 42.7,311.4 44.7,308.5 46.6,306.0 48.5,303.4 50.4,302.0 52.3,302.1 54.2,302.3 56.1,302.7 58.0,303.2 59.9,303.7 61.8,303.7 63.8,302.4 65.7,300.1 67.6,297.3 69.5,293.7 71.4,288.2 73.3,282.2 75.2,276.2 77.1,270.9 79.0,269.6 81.0,268.8 82.9,268.5 84.8,268.5 86.7,268.5 88.6,269.0 90.5,270.4 92.4,272.0 94.3,274.2 96.2,276.4 98.2,277.8 100.1,278.0 102.0,277.5 103.9,276.6 105.8,275.4 107.7,272.4 109.6,268.6 111.5,264.8 113.4,261.8 115.4,263.0 117.3,265.2 119.2,266.5 121.1,266.6 123.0,266.3 124.9,265.8 126.8,265.3 128.7,264.6 130.6,263.9 132.6,263.2 134.5,262.7 136.4,262.3 138.3,262.0" fill="none" stroke="#0072BD" stroke-width="0.42"/>
<polyline points="21.7,323.9 23.6,324.2 25.5,324.6 27.5,325.0 29.4,325.4 31.3,326.0 33.2,326.6 35.1,326.9 37.0,326.8 38.9,326.4 40.8,325.9 42.7,324.5 44.7,322.7 46.6,321.0 48.5,319.5 50.4,318.5 52.3,318.3 54.2,318.2 56.1,318.2 58.0,318.4 59.9,318.6 61.8,318.6 63.8,317.9 65.7,316.9 67.6,315.6 69.5,314.3 71.4,312.7 73.3,311.0 75.2,309.3 77.1,307.6 79.0,306.6 81.0,305.7 82.9,305.3 84.8,305.3 86.7,305.3 88.6,305.5 90.5,306.1 92.4,306.6 94.3,307.2 96.2,307.8 98.2,308.2 100.1,308.2 102.0,307.9 103.9,307.4 105.8,306.7 107.7,305.2 109.6,303.5 111.5,301.9 113.4,300.2 115.4,301.2 117.3,303.0 119.2,304.3 121.1,304.5 123.0,304.3 124.9,304.0 126.8,303.7 128.7,303.2 130.6,302.7 132.6,302.1 134.5,301.6 136.4,301.3 138.3,300.9" fill="none" stroke="#D95319" stroke-width="0.42"/>
<polyline points="21.7,322.3 23.6,322.7 25.5,323.1 27.5,323.6 29.4,324.1 31.3,324.7 33.2,325.3 35.1,325.6 37.0,325.4 38.9,325.0 40.8,324.4 42.7,322.9 44.7,320.9 46.6,319.2 48.5,317.5 50.4,316.4 52.3,316.3 54.2,316.2 56.1,316.3 58.0,316.5 59.9,316.7 61.8,316.7 63.8,316.0 65.7,314.8 67.6,313.3 69.5,311.8 71.4,309.7 73.3,307.4 75.2,305.1 77.1,303.0 79.0,302.0 81.0,301.1 82.9,300.7 84.8,300.8 86.7,300.8 88.6,301.0 90.5,301.7 92.4,302.3 94.3,303.1 96.2,303.9 98.2,304.5 100.1,304.5 102.0,304.2 103.9,303.6 105.8,302.9 107.7,301.3 109.6,299.3 111.5,297.5 113.4,295.6 115.4,296.6 117.3,298.5 119.2,299.8 121.1,300.0 123.0,299.8 124.9,299.5 126.8,299.1 128.7,298.6 130.6,298.0 132.6,297.5 134.5,297.0 136.4,296.6 138.3,296.3" fill="none" stroke="#EDB120" stroke-width="0.42"/>
<polyline points="21.7,313.3 23.6,313.9 25.5,314.6 27.5,315.2 29.4,315.9 31.3,316.7 33.2,317.6 35.1,318.0 37.0,317.7 38.9,316.9 40.8,315.7 42.7,313.6 44.7,310.9 46.6,308.6 48.5,306.2 50.4,304.9 52.3,304.9 54.2,305.1 56.1,305.4 58.0,305.9 59.9,306.3 61.8,306.3 63.8,305.2 65.7,303.1 67.6,300.6 69.5,297.4 71.4,292.6 73.3,287.4 75.2,282.2 77.1,277.5 79.0,276.3 81.0,275.4 82.9,275.1 84.8,275.1 86.7,275.1 88.6,275.5 90.5,276.8 92.4,278.1 94.3,280.1 96.2,281.9 98.2,283.2 100.1,283.3 102.0,282.8 103.9,282.0 105.8,280.8 107.7,278.0 109.6,274.6 111.5,271.2 113.4,268.4 115.4,269.5 117.3,271.6 119.2,272.9 121.1,273.0 123.0,272.7 124.9,272.2 126.8,271.7 128.7,271.1 130.6,270.4 132.6,269.7 134.5,269.2 136.4,268.8 138.3,268.5" fill="none" stroke="#7E2F8E" stroke-width="0.42"/>
<polyline points="21.7,324.8 23.6,325.1 25.5,325.5 27.5,325.9 29.4,326.3 31.3,326.8 33.2,327.4 35.1,327.7 37.0,327.6 38.9,327.2 40.8,326.8 42.7,325.5 44.7,323.7 46.6,322.1 48.5,320.6 50.4,319.6 52.3,319.4 54.2,319.3 56.1,319.3 58.0,319.5 59.9,319.7 61.8,319.6 63.8,319.1 65.7,318.1 67.6,316.9 69.5,315.8 71.4,314.5 73.3,313.1 75.2,311.7 77.1,310.3 79.0,309.3 81.0,308.4 82.9,308.0 84.8,308.0 86.7,308.0 88.6,308.2 90.5,308.7 92.4,309.1 94.3,309.6 96.2,310.1 98.2,310.4 100.1,310.4 102.0,310.2 103.9,309.7 105.8,309.0 107.7,307.7 109.6,306.1 111.5,304.7 113.4,303.1 115.4,304.0 117.3,305.8 119.2,307.1 121.1,307.3 123.0,307.1 124.9,306.8 126.8,306.5 128.7,306.1 130.6,305.5 132.6,304.9 134.5,304.4 136.4,304.1 138.3,303.8" fill="none" stroke="#77AC30" stroke-width="0.42"/>
<polyline points="21.7,316.8 23.6,317.3 25.5,317.8 27.5,318.4 29.4,319.0 31.3,319.7 33.2,320.5 35.1,320.9 37.0,320.6 38.9,319.9 40.8,318.9 42.7,317.0 44.7,314.6 46.6,312.5 48.5,310.3 50.4,309.1 52.3,309.0 54.2,309.2 56.1,309.4 58.0,309.8 59.9,310.1 61.8,310.1 63.8,309.1 65.7,307.4 67.6,305.2 69.5,302.6 71.4,298.8 73.3,294.7 75.2,290.5 77.1,286.8 79.0,285.7 81.0,284.9 82.9,284.6 84.8,284.6 86.7,284.6 88.6,285.0 90.5,286.1 92.4,287.2 94.3,288.7 96.2,290.2 98.2,291.2 100.1,291.3 102.0,291.0 103.9,290.2 105.8,289.3 107.7,286.9 109.6,284.1 111.5,281.3 113.4,278.9 115.4,280.0 117.3,282.0 119.2,283.3 121.1,283.4 123.0,283.1 124.9,282.7 126.8,282.3 128.7,281.7 130.6,281.0 132.6,280.4 134.5,279.8 136.4,279.4 138.3,279.1" fill="none" stroke="#4DBEEE" stroke-width="0.42"/>
<polyline points="21.7,317.6 23.6,318.1 25.5,318.6 27.5,319.2 29.4,319.7 31.3,320.5 33.2,321.3 35.1,321.6 37.0,321.4 38.9,320.7 40.8,319.9 42.7,318.1 44.7,315.7 46.6,313.7 48.5,311.6 50.4,310.4 52.3,310.4 54.2,310.5 56.1,310.7 58.0,311.0 59.9,311.4 61.8,311.4 63.8,310.4 65.7,308.8 67.6,306.8 69.5,304.4 71.4,300.9 73.3,297.1 75.2,293.3 77.1,289.8 79.0,288.7 81.0,287.8 82.9,287.5 84.8,287.5 86.7,287.4 88.6,287.8 90.5,288.7 92.4,289.7 94.3,291.1 96.2,292.4 98.2,293.3 100.1,293.4 102.0,293.0 103.9,292.2 105.8,291.3 107.7,289.0 109.6,286.3 111.5,283.6 113.4,281.2 115.4,282.3 117.3,284.2 119.2,285.5 121.1,285.7 123.0,285.4 124.9,285.0 126.8,284.5 128.7,284.0 130.6,283.4 132.6,282.7 134.5,282.2 136.4,281.8 138.3,281.5" fill="none" stroke="#A2142F" stroke-width="0.42"/>
<polyline points="21.7,325.3 23.6,325.6 25.5,326.0 27.5,326.4 29.4,326.8 31.3,327.3 33.2,327.9 35.1,328.1 37.0,328.0 38.9,327.7 40.8,327.3 42.7,326.0 44.7,324.3 46.6,322.8 48.5,321.3 50.4,320.4 52.3,320.1 54.2,320.0 56.1,320.0 58.0,320.1 59.9,320.3 61.8,320.3 63.8,319.7 65.7,318.8 67.6,317.7 69.5,316.7 71.4,315.6 73.3,314.4 75.2,313.1 77.1,311.9 79.0,310.9 81.0,310.0 82.9,309.6 84.8,309.6 86.7,309.6 88.6,309.8 90.5,310.3 92.4,310.6 94.3,311.1 96.2,311.5 98.2,311.8 100.1,311.8 102.0,311.5 103.9,311.0 105.8,310.4 107.7,309.1 109.6,307.6 111.5,306.3 113.4,304.7 115.4,305.7 117.3,307.5 119.2,308.7 121.1,308.9 123.0,308.7 124.9,308.5 126.8,308.2 128.7,307.7 130.6,307.1 132.6,306.6 134.5,306.1 136.4,305.7 138.3,305.4" fill="none" stroke="#0072BD" stroke-width="0.42"/>
<polyline points="21.7,325.3 23.6,325.7 25.5,326.0 27.5,326.4 29.4,326.8 31.3,327.3 33.2,327.9 35.1,328.2 37.0,328.1 38.9,327.8 40.8,327.3 42.7,326.1 44.7,324.3 46.6,322.8 48.5,321.3 50.4,320.4 52.3,320.2 54.2,320.1 56.1,320.1 58.0,320.2 59.9,320.4 61.8,320.3 63.8,319.8 65.7,318.8 67.6,317.8 69.5,316.8 71.4,315.7 73.3,314.5 75.2,313.2 77.1,312.0 79.0,311.0 81.0,310.2 82.9,309.8 84.8,309.8 86.7,309.8 88.6,310.0 90.5,310.4 92.4,310.8 94.3,311.2 96.2,311.6 98.2,311.9 100.1,311.9 102.0,311.6 103.9,311.1 105.8,310.5 107.7,309.2 109.6,307.8 111.5,306.4 113.4,304.9 115.4,305.8 117.3,307.6 119.2,308.9 121.1,309.1 123.0,308.9 124.9,308.6 126.8,308.3 128.7,307.8 130.6,307.3 132.6,306.7 134.5,306.2 136.4,305.9 138.3,305.6" fill="none" stroke="#D95319" stroke-width="0.42"/>
<polyline points="21.7,312.2 23.6,312.8 25.5,313.5 27.5,314.1 29.4,314.8 31.3,315.7 33.2,316.6 35.1,317.0 37.0,316.7 38.9,315.8 40.8,314.6 42.7,312.3 44.7,309.5 46.6,307.1 48.5,304.6 50.4,303.3 52.3,303.3 54.2,303.6 56.1,303.9 58.0,304.4 59.9,304.9 61.8,304.9 63.8,303.7 65.7,301.5 67.6,298.9 69.5,295.4 71.4,290.3 73.3,284.7 75.2,279.0 77.1,274.0 79.0,272.8 81.0,272.0 82.9,271.7 84.8,271.7 86.7,271.7 88.6,272.2 90.5,273.5 92.4,275.0 94.3,277.1 96.2,279.1 98.2,280.5 100.1,280.6 102.0,280.1 103.9,279.2 105.8,278.1 107.7,275.1 109.6,271.5 111.5,267.9 113.4,265.0 115.4,266.2 117.3,268.3 119.2,269.5 121.1,269.7 123.0,269.3 124.9,268.8 126.8,268.3 128.7,267.6 130.6,266.9 132.6,266.2 134.5,265.6 136.4,265.2 138.3,264.9" fill="none" stroke="#EDB120" stroke-width="0.42"/>
<polyline points="21.7,324.9 23.6,325.2 25.5,325.6 27.5,326.0 29.4,326.4 31.3,326.9 33.2,327.5 35.1,327.8 37.0,327.7 38.9,327.4 40.8,326.9 42.7,325.6 44.7,323.8 46.6,322.3 48.5,320.8 50.4,319.8 52.3,319.6 54.2,319.5 56.1,319.5 58.0,319.7 59.9,319.8 61.8,319.8 63.8,319.2 65.7,318.2 67.6,317.1 69.5,316.1 71.4,314.8 73.3,313.4 75.2,312.0 77.1,310.7 79.0,309.7 81.0,308.8 82.9,308.4 84.8,308.4 86.7,308.4 88.6,308.6 90.5,309.1 92.4,309.5 94.3,310.0 96.2,310.5 98.2,310.8 100.1,310.8 102.0,310.5 103.9,310.0 105.8,309.3 107.7,308.0 109.6,306.5 111.5,305.0 113.4,303.4 115.4,304.4 117.3,306.2 119.2,307.5 121.1,307.6 123.0,307.4 124.9,307.2 126.8,306.9 128.7,306.4 130.6,305.8 132.6,305.3 134.5,304.8 136.4,304.4 138.3,304.1" fill="none" stroke="#7E2F8E" stroke-width="0.42"/>
<polyline points="21.7,319.8 23.6,320.2 25.5,320.7 27.5,321.2 29.4,321.7 31.3,322.4 33.2,323.1 35.1,323.5 37.0,323.3 38.9,322.7 40.8,322.0 42.7,320.3 44.7,318.1 46.6,316.2 48.5,314.4 50.4,313.2 52.3,313.1 54.2,313.2 56.1,313.3 58.0,313.6 59.9,313.9 61.8,313.9 63.8,313.0 65.7,311.6 67.6,309.8 69.5,307.8 71.4,305.0 73.3,301.9 75.2,298.8 77.1,295.9 79.0,294.8 81.0,293.9 82.9,293.6 84.8,293.6 86.7,293.5 88.6,293.8 90.5,294.6 92.4,295.5 94.3,296.6 96.2,297.7 98.2,298.4 100.1,298.4 102.0,298.1 103.9,297.4 105.8,296.5 107.7,294.5 109.6,292.2 111.5,289.8 113.4,287.7 115.4,288.8 117.3,290.7 119.2,292.0 121.1,292.1 123.0,291.9 124.9,291.5 126.8,291.2 128.7,290.7 130.6,290.0 132.6,289.4 134.5,289.0 136.4,288.6 138.3,288.3" fill="none" stroke="#77AC30" stroke-width="0.42"/>
<polyline points="21.7,318.5 23.6,319.0 25.5,319.5 27.5,320.1 29.4,320.6 31.3,321.3 33.2,322.1 35.1,322.4 37.0,322.2 38.9,321.6 40.8,320.8 42.7,319.0 44.7,316.7 46.6,314.8 48.5,312.8 50.4,311.6 52.3,311.5 54.2,311.6 56.1,311.7 58.0,312.1 59.9,312.4 61.8,312.4 63.8,311.5 65.7,309.9 67.6,308.0 69.5,305.7 71.4,302.5 73.3,298.9 75.2,295.4 77.1,292.2 79.0,291.0 81.0,290.1 82.9,289.8 84.8,289.8 86.7,289.8 88.6,290.1 90.5,290.9 92.4,291.9 94.3,293.2 96.2,294.5 98.2,295.3 100.1,295.3 102.0,295.0 103.9,294.3 105.8,293.4 107.7,291.2 109.6,288.6 111.5,286.1 113.4,283.9 115.4,285.0 117.3,286.9 119.2,288.2 121.1,288.4 123.0,288.2 124.9,287.8 126.8,287.4 128.7,286.9 130.6,286.3 132.6,285.7 134.5,285.2 136.4,284.8 138.3,284.5" fill="none" stroke="#4DBEEE" stroke-width="0.42"/>
<polyline points="21.7,323.2 23.6,323.5 25.5,323.9 27.5,324.4 29.4,324.8 31.3,325.4 33.2,326.0 35.1,326.3 37.0,326.2 38.9,325.8 40.8,325.2 42.7,323.8 44.7,321.9 46.6,320.2 48.5,318.5 50.4,317.5 52.3,317.4 54.2,317.3 56.1,317.3 58.0,317.5 59.9,317.7 61.8,317.7 63.8,317.0 65.7,315.9 67.6,314.6 69.5,313.1 71.4,311.3 73.3,309.3 75.2,307.3 77.1,305.5 79.0,304.4 81.0,303.6 82.9,303.2 84.8,303.2 86.7,303.2 88.6,303.4 90.5,304.0 92.4,304.6 94.3,305.3 96.2,306.0 98.2,306.4 100.1,306.5 102.0,306.2 103.9,305.6 105.8,304.9 107.7,303.4 109.6,301.6 111.5,299.8 113.4,298.1 115.4,299.1 117.3,300.9 119.2,302.2 121.1,302.4 123.0,302.2 124.9,301.9 126.8,301.6 128.7,301.1 130.6,300.5 132.6,299.9 134.5,299.5 136.4,299.1 138.3,298.8" fill="none" stroke="#A2142F" stroke-width="0.42"/>
<polyline points="21.7,324.0 23.6,324.4 25.5,324.7 27.5,325.2 29.4,325.6 31.3,326.2 33.2,326.8 35.1,327.0 37.0,326.9 38.9,326.6 40.8,326.1 42.7,324.7 44.7,322.8 46.6,321.3 48.5,319.7 50.4,318.7 52.3,318.5 54.2,318.4 56.1,318.5 58.0,318.6 59.9,318.8 61.8,318.8 63.8,318.2 65.7,317.1 67.6,315.9 69.5,314.7 71.4,313.2 73.3,311.5 75.2,309.9 77.1,308.3 79.0,307.3 81.0,306.4 82.9,306.0 84.8,306.0 86.7,306.0 88.6,306.2 90.5,306.7 92.4,307.2 94.3,307.8 96.2,308.4 98.2,308.7 100.1,308.7 102.0,308.4 103.9,307.9 105.8,307.2 107.7,305.8 109.6,304.1 111.5,302.5 113.4,300.8 115.4,301.8 117.3,303.6 119.2,304.9 121.1,305.0 123.0,304.8 124.9,304.5 126.8,304.2 128.7,303.8 130.6,303.2 132.6,302.6 134.5,302.1 136.4,301.7 138.3,301.4" fill="none" stroke="#0072BD" stroke-width="0.42"/>
<rect x="21.6" y="246.2" width="2.4" height="82.1" fill="#ff0000" fill-opacity="0.50"/>
<rect x="29.7" y="246.2" width="7.4" height="82.1" fill="#ff0000" fill-opacity="0.50"/>
<rect x="42" y="246.2" width="3.7" height="82.1" fill="#ff0000" fill-opacity="0.50"/>
<rect x="50.3" y="246.2" width="5.4" height="82.1" fill="#ff0000" fill-opacity="0.50"/>
<rect x="63.1" y="246.2" width="4.6" height="82.1" fill="#ff0000" fill-opacity="0.50"/>
<rect x="74" y="246.2" width="3.15" height="82.1" fill="#ff0000" fill-opacity="0.50"/>
<rect x="77.75" y="246.2" width="4.25" height="82.1" fill="#ff0000" fill-opacity="0.50"/>
<rect x="87.7" y="246.2" width="5.2" height="82.1" fill="#ff0000" fill-opacity="0.50"/>
<rect x="99.1" y="246.2" width="1.8" height="82.1" fill="#ff0000" fill-opacity="0.50"/>
<rect x="105.9" y="246.2" width="3.2" height="82.1" fill="#ff0000" fill-opacity="0.50"/>
<rect x="116" y="246.2" width="1.1" height="82.1" fill="#ff0000" fill-opacity="0.50"/>
<rect x="120.9" y="246.2" width="2.25" height="82.1" fill="#ff0000" fill-opacity="0.50"/>
<rect x="123.75" y="246.2" width="2.25" height="82.1" fill="#ff0000" fill-opacity="0.50"/>
<rect x="128.8" y="246.2" width="1.5" height="82.1" fill="#ff0000" fill-opacity="0.50"/>
<rect x="131.8" y="246.2" width="1.3" height="82.1" fill="#ff0000" fill-opacity="0.50"/>
<rect x="134.9" y="246.2" width="1.95" height="82.1" fill="#ff0000" fill-opacity="0.50"/>
<rect x="137.45" y="246.2" width="0.25" height="82.1" fill="#ff0000" fill-opacity="0.50"/>
<rect x="71.1" y="246.2" width="2.9" height="82.1" fill="#ff0000" fill-opacity="0.28"/>
<rect x="84.3" y="246.2" width="3.4" height="82.1" fill="#ff0000" fill-opacity="0.28"/>
<rect x="109.1" y="246.2" width="2.9" height="82.1" fill="#ff0000" fill-opacity="0.28"/>
</g>
<rect x="21.6" y="246.2" width="116.1" height="82.1" fill="none" stroke="#6e6e6e" stroke-width="1"/>
<line x1="40.4" y1="328.3" x2="40.4" y2="327.1" stroke="#6e6e6e" stroke-width="0.6"/>
<line x1="40.4" y1="246.2" x2="40.4" y2="247.4" stroke="#6e6e6e" stroke-width="0.6"/>
<text x="40.4" y="337.6" font-size="6.7" text-anchor="middle" font-weight="bold" fill="#111" textLength="10.05" lengthAdjust="spacingAndGlyphs">500</text>
<line x1="59.08" y1="328.3" x2="59.08" y2="327.1" stroke="#6e6e6e" stroke-width="0.6"/>
<line x1="59.08" y1="246.2" x2="59.08" y2="247.4" stroke="#6e6e6e" stroke-width="0.6"/>
<text x="59.08" y="337.6" font-size="6.7" text-anchor="middle" font-weight="bold" fill="#111" textLength="13.4" lengthAdjust="spacingAndGlyphs">1000</text>
<line x1="77.76" y1="328.3" x2="77.76" y2="327.1" stroke="#6e6e6e" stroke-width="0.6"/>
<line x1="77.76" y1="246.2" x2="77.76" y2="247.4" stroke="#6e6e6e" stroke-width="0.6"/>
<text x="77.76" y="337.6" font-size="6.7" text-anchor="middle" font-weight="bold" fill="#111" textLength="13.4" lengthAdjust="spacingAndGlyphs">1500</text>
<line x1="96.44" y1="328.3" x2="96.44" y2="327.1" stroke="#6e6e6e" stroke-width="0.6"/>
<line x1="96.44" y1="246.2" x2="96.44" y2="247.4" stroke="#6e6e6e" stroke-width="0.6"/>
<text x="96.44" y="337.6" font-size="6.7" text-anchor="middle" font-weight="bold" fill="#111" textLength="13.4" lengthAdjust="spacingAndGlyphs">2000</text>
<line x1="115.12" y1="328.3" x2="115.12" y2="327.1" stroke="#6e6e6e" stroke-width="0.6"/>
<line x1="115.12" y1="246.2" x2="115.12" y2="247.4" stroke="#6e6e6e" stroke-width="0.6"/>
<text x="115.12" y="337.6" font-size="6.7" text-anchor="middle" font-weight="bold" fill="#111" textLength="13.4" lengthAdjust="spacingAndGlyphs">2500</text>
<line x1="133.8" y1="328.3" x2="133.8" y2="327.1" stroke="#6e6e6e" stroke-width="0.6"/>
<line x1="133.8" y1="246.2" x2="133.8" y2="247.4" stroke="#6e6e6e" stroke-width="0.6"/>
<text x="133.8" y="337.6" font-size="6.7" text-anchor="middle" font-weight="bold" fill="#111" textLength="13.4" lengthAdjust="spacingAndGlyphs">3000</text>
<text x="19" y="321.21" font-size="6.7" text-anchor="end" font-weight="bold" fill="#111">0.5</text>
<text x="19" y="285.91" font-size="6.7" text-anchor="end" font-weight="bold" fill="#111">1</text>
<text x="19" y="250.61" font-size="6.7" text-anchor="end" font-weight="bold" fill="#111">1.5</text>
<text x="80.5" y="244.5" font-size="7.4" text-anchor="middle" font-weight="bold" fill="#111">feedOPS</text>
<text x="80.2" y="346" font-size="7.6" text-anchor="middle" font-weight="bold" fill="#111" textLength="30.2" lengthAdjust="spacingAndGlyphs">Variables</text>
<text transform="translate(7.8 286.4) rotate(-90)" font-size="7.6" text-anchor="middle" font-weight="bold" fill="#111" textLength="29" lengthAdjust="spacingAndGlyphs">Intensity</text>
<text x="9.6" y="238.5" font-size="6.7" font-weight="bold" fill="#2a2a2a" style="stroke:none">(</text>
<text x="14.95" y="239.8" font-size="7.7" font-weight="bold" text-anchor="middle" fill="#111">I</text>
<text x="21" y="238.5" font-size="6.7" font-weight="bold" text-anchor="end" fill="#2a2a2a" style="stroke:none">)</text>
<line x1="204.93" y1="13.5" x2="204.93" y2="98.4" stroke="#e4e4e4" stroke-width="0.6"/>
<line x1="169.4" y1="70.1" x2="276" y2="70.1" stroke="#e4e4e4" stroke-width="0.6"/>
<line x1="240.47" y1="13.5" x2="240.47" y2="98.4" stroke="#e4e4e4" stroke-width="0.6"/>
<line x1="169.4" y1="41.8" x2="276" y2="41.8" stroke="#e4e4e4" stroke-width="0.6"/>
<line x1="169.4" y1="98.4" x2="276" y2="13.5" stroke="#222" stroke-width="0.7"/>
<path d="M198.4 71.3h4.6l-2.3 3.7z"/>
<path d="M223.1 48.5h4.6l-2.3 3.7z"/>
<path d="M192.2 75.7h4.6l-2.3 3.7z"/>
<path d="M222.9 59.2h4.6l-2.3 3.7z"/>
<path d="M225.1 48.7h4.6l-2.3 3.7z"/>
<path d="M189.2 78.7h4.6l-2.3 3.7z"/>
<path d="M203.2 61.7h4.6l-2.3 3.7z"/>
<path d="M245.1 36.4h4.6l-2.3 3.7z"/>
<path d="M227.6 51.0h4.6l-2.3 3.7z"/>
<path d="M193.1 73.9h4.6l-2.3 3.7z"/>
<path d="M253.9 29.5h4.6l-2.3 3.7z"/>
<path d="M221.2 51.2h4.6l-2.3 3.7z"/>
<path d="M191.3 82.1h4.6l-2.3 3.7z"/>
<path d="M200.6 72.8h4.6l-2.3 3.7z"/>
<path d="M221.6 47.7h4.6l-2.3 3.7z"/>
<path d="M233.6 47.7h4.6l-2.3 3.7z"/>
<path d="M249.5 30.3h4.6l-2.3 3.7z"/>
<path d="M182.0 83.5h4.6l-2.3 3.7z"/>
<path d="M185.7 83.6h4.6l-2.3 3.7z"/>
<path d="M218.1 55.0h4.6l-2.3 3.7z"/>
<path d="M225.3 51.8h4.6l-2.3 3.7z"/>
<path d="M254.1 29.8h4.6l-2.3 3.7z"/>
<path d="M264.6 19.4h4.6l-2.3 3.7z"/>
<path d="M219.9 54.3h4.6l-2.3 3.7z"/>
<path d="M218.1 52.0h4.6l-2.3 3.7z"/>
<path d="M214.1 48.1h4.6l-2.3 3.7z"/>
<path d="M213.8 63.3h4.6l-2.3 3.7z"/>
<path d="M185.9 81.3h4.6l-2.3 3.7z"/>
<path d="M243.4 33.7h4.6l-2.3 3.7z"/>
<path d="M257.6 23.1h4.6l-2.3 3.7z"/>
<path d="M232.2 43.5h4.6l-2.3 3.7z"/>
<path d="M211.9 60.2h4.6l-2.3 3.7z"/>
<path d="M222.2 50.9h4.6l-2.3 3.7z"/>
<path d="M201.1 68.8h4.6l-2.3 3.7z"/>
<path d="M207.5 65.3h4.6l-2.3 3.7z"/>
<path d="M223.2 46.1h4.6l-2.3 3.7z"/>
<path d="M191.3 75.7h4.6l-2.3 3.7z"/>
<path d="M184.5 83.0h4.6l-2.3 3.7z"/>
<path d="M230.1 41.3h4.6l-2.3 3.7z"/>
<path d="M262.0 23.1h4.6l-2.3 3.7z"/>
<path d="M221.7 50.4h4.6l-2.3 3.7z"/>
<path d="M231.2 41.0h4.6l-2.3 3.7z"/>
<path d="M185.6 83.4h4.6l-2.3 3.7z"/>
<path d="M227.5 44.9h4.6l-2.3 3.7z"/>
<path d="M188.8 79.9h4.6l-2.3 3.7z"/>
<path d="M223.4 49.6h4.6l-2.3 3.7z"/>
<path d="M211.1 66.3h4.6l-2.3 3.7z"/>
<path d="M211.2 61.8h4.6l-2.3 3.7z"/>
<path d="M218.8 54.2h4.6l-2.3 3.7z"/>
<path d="M236.4 39.9h4.6l-2.3 3.7z"/>
<path d="M188.7 78.7h4.6l-2.3 3.7z"/>
<path d="M223.2 52.8h4.6l-2.3 3.7z"/>
<path d="M203.5 68.5h4.6l-2.3 3.7z"/>
<path d="M235.5 41.0h4.6l-2.3 3.7z"/>
<path d="M246.9 27.8h4.6l-2.3 3.7z"/>
<path d="M235.4 41.2h4.6l-2.3 3.7z"/>
<path d="M221.2 55.5h4.6l-2.3 3.7z"/>
<path d="M231.7 44.4h4.6l-2.3 3.7z"/>
<path d="M187.2 85.5h4.6l-2.3 3.7z"/>
<path d="M213.2 60.6h4.6l-2.3 3.7z"/>
<path d="M223.6 49.6h4.6l-2.3 3.7z"/>
<path d="M201.9 71.1h4.6l-2.3 3.7z"/>
<path d="M195.4 74.6h4.6l-2.3 3.7z"/>
<path d="M200.0 71.0h4.6l-2.3 3.7z"/>
<path d="M214.7 54.9h4.6l-2.3 3.7z"/>
<path d="M214.3 59.3h4.6l-2.3 3.7z"/>
<path d="M251.5 28.2h4.6l-2.3 3.7z"/>
<path d="M228.6 51.8h4.6l-2.3 3.7z"/>
<path d="M267.2 18.6h4.6l-2.3 3.7z"/>
<path d="M207.1 68.2h4.6l-2.3 3.7z"/>
<path d="M220.0 52.9h4.6l-2.3 3.7z"/>
<path d="M209.7 62.7h4.6l-2.3 3.7z"/>
<path d="M229.6 49.2h4.6l-2.3 3.7z"/>
<path d="M183.1 87.0h4.6l-2.3 3.7z"/>
<path d="M201.5 68.6h4.6l-2.3 3.7z"/>
<path d="M215.3 55.8h4.6l-2.3 3.7z"/>
<path d="M257.3 25.3h4.6l-2.3 3.7z"/>
<path d="M200.4 67.7h4.6l-2.3 3.7z"/>
<path d="M221.6 54.1h4.6l-2.3 3.7z"/>
<path d="M220.9 55.1h4.6l-2.3 3.7z"/>
<path d="M229.5 44.3h4.6l-2.3 3.7z"/>
<path d="M229.0 46.0h4.6l-2.3 3.7z"/>
<path d="M224.9 48.8h4.6l-2.3 3.7z"/>
<path d="M212.0 58.0h4.6l-2.3 3.7z"/>
<path d="M211.3 52.5h4.6l-2.3 3.7z"/>
<path d="M229.6 46.4h4.6l-2.3 3.7z"/>
<path d="M211.3 56.6h4.6l-2.3 3.7z"/>
<path d="M263.3 19.8h4.6l-2.3 3.7z"/>
<path d="M260.1 17.7h4.6l-2.3 3.7z"/>
<path d="M212.0 59.3h4.6l-2.3 3.7z"/>
<path d="M262.2 21.1h4.6l-2.3 3.7z"/>
<path d="M225.2 49.9h4.6l-2.3 3.7z"/>
<path d="M184.1 81.8h4.6l-2.3 3.7z"/>
<path d="M207.3 63.5h4.6l-2.3 3.7z"/>
<path d="M220.3 56.6h4.6l-2.3 3.7z"/>
<path d="M254.4 25.4h4.6l-2.3 3.7z"/>
<path d="M215.4 60.1h4.6l-2.3 3.7z"/>
<path d="M216.1 59.7h4.6l-2.3 3.7z"/>
<path d="M212.8 57.2h4.6l-2.3 3.7z"/>
<path d="M184.1 85.5h4.6l-2.3 3.7z"/>
<path d="M195.7 70.6h4.6l-2.3 3.7z"/>
<path d="M222.9 49.5h4.6l-2.3 3.7z"/>
<path d="M218.5 55.2h4.6l-2.3 3.7z"/>
<path d="M186.3 88.7h4.6l-2.3 3.7z"/>
<path d="M246.4 32.5h4.6l-2.3 3.7z"/>
<path d="M219.3 55.8h4.6l-2.3 3.7z"/>
<path d="M226.4 47.3h4.6l-2.3 3.7z"/>
<path d="M216.4 61.1h4.6l-2.3 3.7z"/>
<path d="M194.6 72.0h4.6l-2.3 3.7z"/>
<path d="M208.6 59.7h4.6l-2.3 3.7z"/>
<path d="M217.4 55.2h4.6l-2.3 3.7z"/>
<path d="M220.8 58.9h4.6l-2.3 3.7z"/>
<path d="M235.0 43.1h4.6l-2.3 3.7z"/>
<path d="M233.9 44.3h4.6l-2.3 3.7z"/>
<path d="M216.5 59.0h4.6l-2.3 3.7z"/>
<path d="M212.0 65.9h4.6l-2.3 3.7z"/>
<path d="M184.5 87.5h4.6l-2.3 3.7z"/>
<path d="M199.8 73.9h4.6l-2.3 3.7z"/>
<path d="M263.4 18.7h4.6l-2.3 3.7z"/>
<path d="M216.7 60.9h4.6l-2.3 3.7z"/>
<path d="M223.4 50.8h4.6l-2.3 3.7z"/>
<path d="M223.4 55.9h4.6l-2.3 3.7z"/>
<path d="M253.7 32.5h4.6l-2.3 3.7z"/>
<path d="M217.3 55.7h4.6l-2.3 3.7z"/>
<path d="M267.2 14.0h4.6l-2.3 3.7z"/>
<path d="M268.2 15.3h4.6l-2.3 3.7z"/>
<path d="M233.5 49.8h4.6l-2.3 3.7z"/>
<path d="M202.2 65.8h4.6l-2.3 3.7z"/>
<path d="M259.5 22.0h4.6l-2.3 3.7z"/>
<path d="M187.2 78.8h4.6l-2.3 3.7z"/>
<path d="M235.5 41.3h4.6l-2.3 3.7z"/>
<path d="M217.5 56.2h4.6l-2.3 3.7z"/>
<path d="M212.3 56.7h4.6l-2.3 3.7z"/>
<path d="M185.6 82.9h4.6l-2.3 3.7z"/>
<path d="M220.4 56.8h4.6l-2.3 3.7z"/>
<path d="M226.1 41.6h4.6l-2.3 3.7z"/>
<path d="M237.4 41.1h4.6l-2.3 3.7z"/>
<path d="M198.7 70.5h4.6l-2.3 3.7z"/>
<path d="M222.8 53.6h4.6l-2.3 3.7z"/>
<path d="M251.7 27.5h4.2l-2.1 -3.4z" fill="#00f"/>
<path d="M222.2 48.5h4.6l-2.3 3.7z"/>
<path d="M214.5 55.1h4.6l-2.3 3.7z"/>
<path d="M210.8 57.2h4.6l-2.3 3.7z"/>
<path d="M205.9 60.8h4.6l-2.3 3.7z"/>
<path d="M225.8 49.2h4.6l-2.3 3.7z"/>
<path d="M205.1 64.5h4.2l-2.1 -3.4z" fill="#00f"/>
<path d="M221.9 55.2h4.6l-2.3 3.7z"/>
<path d="M190.5 73.0h4.6l-2.3 3.7z"/>
<path d="M223.4 54.8h4.6l-2.3 3.7z"/>
<path d="M217.5 56.2h4.6l-2.3 3.7z"/>
<path d="M223.5 53.1h4.6l-2.3 3.7z"/>
<path d="M204.6 66.0h4.6l-2.3 3.7z"/>
<path d="M200.4 79.8h4.2l-2.1 -3.4z" fill="#00f"/>
<path d="M184.8 81.9h4.2l-2.1 -3.4z" fill="#00f"/>
<path d="M223.0 55.9h4.6l-2.3 3.7z"/>
<path d="M238.5 41.4h4.2l-2.1 -3.4z" fill="#00f"/>
<path d="M212.7 62.8h4.6l-2.3 3.7z"/>
<path d="M193.0 70.9h4.6l-2.3 3.7z"/>
<path d="M190.3 76.7h4.2l-2.1 -3.4z" fill="#00f"/>
<path d="M267.4 18.6h4.6l-2.3 3.7z"/>
<path d="M213.6 59.2h4.6l-2.3 3.7z"/>
<path d="M264.0 18.5h4.6l-2.3 3.7z"/>
<path d="M235.3 49.5h4.2l-2.1 -3.4z" fill="#00f"/>
<path d="M184.3 86.1h4.6l-2.3 3.7z"/>
<path d="M205.4 75.9h4.2l-2.1 -3.4z" fill="#00f"/>
<path d="M215.7 56.4h4.6l-2.3 3.7z"/>
<path d="M192.0 81.7h4.6l-2.3 3.7z"/>
<path d="M244.9 35.1h4.2l-2.1 -3.4z" fill="#00f"/>
<path d="M214.2 57.0h4.2l-2.1 -3.4z" fill="#00f"/>
<path d="M204.8 68.9h4.6l-2.3 3.7z"/>
<path d="M191.6 78.7h4.6l-2.3 3.7z"/>
<path d="M264.2 26.8h4.6l-2.3 3.7z"/>
<path d="M220.2 51.3h4.6l-2.3 3.7z"/>
<path d="M234.1 41.0h4.2l-2.1 -3.4z" fill="#00f"/>
<path d="M241.7 37.3h4.6l-2.3 3.7z"/>
<path d="M216.7 60.7h4.2l-2.1 -3.4z" fill="#00f"/>
<path d="M213.4 58.9h4.6l-2.3 3.7z"/>
<path d="M193.9 75.1h4.6l-2.3 3.7z"/>
<path d="M242.2 47.1h4.2l-2.1 -3.4z" fill="#00f"/>
<path d="M203.1 76.5h4.2l-2.1 -3.4z" fill="#00f"/>
<path d="M227.5 46.9h4.6l-2.3 3.7z"/>
<path d="M244.5 34.5h4.6l-2.3 3.7z"/>
<path d="M214.1 60.4h4.6l-2.3 3.7z"/>
<path d="M224.7 58.6h4.6l-2.3 3.7z"/>
<path d="M195.6 75.7h4.6l-2.3 3.7z"/>
<path d="M261.8 23.2h4.6l-2.3 3.7z"/>
<path d="M247.4 40.6h4.2l-2.1 -3.4z" fill="#00f"/>
<path d="M203.1 69.0h4.6l-2.3 3.7z"/>
<path d="M221.1 62.5h4.6l-2.3 3.7z"/>
<path d="M216.6 56.3h4.6l-2.3 3.7z"/>
<path d="M205.9 68.6h4.6l-2.3 3.7z"/>
<path d="M182.8 81.2h4.6l-2.3 3.7z"/>
<path d="M226.9 49.3h4.6l-2.3 3.7z"/>
<path d="M229.4 46.7h4.6l-2.3 3.7z"/>
<path d="M216.0 58.0h4.6l-2.3 3.7z"/>
<path d="M222.8 58.1h4.6l-2.3 3.7z"/>
<path d="M206.9 61.8h4.6l-2.3 3.7z"/>
<path d="M236.2 45.3h4.6l-2.3 3.7z"/>
<path d="M206.8 70.1h4.2l-2.1 -3.4z" fill="#00f"/>
<path d="M212.1 59.6h4.6l-2.3 3.7z"/>
<path d="M215.9 61.3h4.2l-2.1 -3.4z" fill="#00f"/>
<path d="M212.1 60.4h4.2l-2.1 -3.4z" fill="#00f"/>
<path d="M223.0 56.1h4.2l-2.1 -3.4z" fill="#00f"/>
<path d="M186.6 79.1h4.2l-2.1 -3.4z" fill="#00f"/>
<path d="M222.5 52.7h4.6l-2.3 3.7z"/>
<path d="M237.4 42.1h4.6l-2.3 3.7z"/>
<path d="M217.7 65.2h4.6l-2.3 3.7z"/>
<path d="M217.5 56.9h4.6l-2.3 3.7z"/>
<path d="M194.1 73.8h4.6l-2.3 3.7z"/>
<path d="M211.6 60.3h4.2l-2.1 -3.4z" fill="#00f"/>
<path d="M224.3 52.8h4.6l-2.3 3.7z"/>
<path d="M230.9 42.7h4.2l-2.1 -3.4z" fill="#00f"/>
<path d="M192.2 80.2h4.6l-2.3 3.7z"/>
<path d="M195.2 79.8h4.2l-2.1 -3.4z" fill="#00f"/>
<path d="M200.5 76.1h4.6l-2.3 3.7z"/>
<path d="M240.2 38.0h4.6l-2.3 3.7z"/>
<path d="M198.1 69.6h4.6l-2.3 3.7z"/>
<path d="M184.1 77.7h4.6l-2.3 3.7z"/>
<path d="M225.4 57.8h4.2l-2.1 -3.4z" fill="#00f"/>
<path d="M206.0 66.8h4.6l-2.3 3.7z"/>
<path d="M229.0 48.8h4.6l-2.3 3.7z"/>
<path d="M228.4 55.9h4.2l-2.1 -3.4z" fill="#00f"/>
<path d="M223.7 49.9h4.6l-2.3 3.7z"/>
<path d="M227.1 45.0h4.2l-2.1 -3.4z" fill="#00f"/>
<path d="M181.9 83.3h4.6l-2.3 3.7z"/>
<path d="M222.6 63.7h4.2l-2.1 -3.4z" fill="#00f"/>
<path d="M204.8 68.9h4.2l-2.1 -3.4z" fill="#00f"/>
<path d="M215.3 68.1h4.2l-2.1 -3.4z" fill="#00f"/>
<path d="M257.7 25.4h4.2l-2.1 -3.4z" fill="#00f"/>
<path d="M227.0 72.1h4.2l-2.1 -3.4z" fill="#00f"/>
<path d="M239.2 41.9h4.2l-2.1 -3.4z" fill="#00f"/>
<path d="M215.6 63.8h4.2l-2.1 -3.4z" fill="#00f"/>
<path d="M234.7 53.1h4.2l-2.1 -3.4z" fill="#00f"/>
<path d="M213.9 58.8h4.2l-2.1 -3.4z" fill="#00f"/>
<path d="M201.4 65.8h4.2l-2.1 -3.4z" fill="#00f"/>
<path d="M216.8 59.6h4.2l-2.1 -3.4z" fill="#00f"/>
<path d="M207.3 64.2h4.2l-2.1 -3.4z" fill="#00f"/>
<path d="M202.6 75.7h4.2l-2.1 -3.4z" fill="#00f"/>
<path d="M220.0 52.0h4.2l-2.1 -3.4z" fill="#00f"/>
<path d="M215.9 64.2h4.2l-2.1 -3.4z" fill="#00f"/>
<path d="M223.7 52.4h4.2l-2.1 -3.4z" fill="#00f"/>
<path d="M254.0 26.9h4.2l-2.1 -3.4z" fill="#00f"/>
<path d="M240.5 26.3h4.2l-2.1 -3.4z" fill="#00f"/>
<path d="M186.0 85.6h4.2l-2.1 -3.4z" fill="#00f"/>
<path d="M195.5 88.0h4.2l-2.1 -3.4z" fill="#00f"/>
<path d="M219.5 52.2h4.2l-2.1 -3.4z" fill="#00f"/>
<path d="M242.8 42.5h4.2l-2.1 -3.4z" fill="#00f"/>
<path d="M219.6 57.0h4.2l-2.1 -3.4z" fill="#00f"/>
<path d="M193.2 78.8h4.2l-2.1 -3.4z" fill="#00f"/>
<path d="M214.6 60.4h4.2l-2.1 -3.4z" fill="#00f"/>
<path d="M199.0 69.2h4.2l-2.1 -3.4z" fill="#00f"/>
<path d="M190.8 80.0h4.2l-2.1 -3.4z" fill="#00f"/>
<path d="M214.4 63.2h4.2l-2.1 -3.4z" fill="#00f"/>
<path d="M204.5 66.2h4.2l-2.1 -3.4z" fill="#00f"/>
<path d="M220.9 56.2h4.2l-2.1 -3.4z" fill="#00f"/>
<path d="M204.8 68.5h4.2l-2.1 -3.4z" fill="#00f"/>
<path d="M219.8 65.1h4.2l-2.1 -3.4z" fill="#00f"/>
<path d="M193.9 77.0h4.2l-2.1 -3.4z" fill="#00f"/>
<path d="M215.1 65.8h4.2l-2.1 -3.4z" fill="#00f"/>
<path d="M211.5 62.2h4.2l-2.1 -3.4z" fill="#00f"/>
<path d="M241.4 43.7h4.2l-2.1 -3.4z" fill="#00f"/>
<path d="M218.3 63.9h4.2l-2.1 -3.4z" fill="#00f"/>
<path d="M227.2 53.8h4.2l-2.1 -3.4z" fill="#00f"/>
<path d="M218.1 61.4h4.2l-2.1 -3.4z" fill="#00f"/>
<path d="M193.4 82.9h4.2l-2.1 -3.4z" fill="#00f"/>
<path d="M217.7 64.9h4.2l-2.1 -3.4z" fill="#00f"/>
<path d="M250.3 28.3h4.2l-2.1 -3.4z" fill="#00f"/>
<path d="M201.0 77.9h4.2l-2.1 -3.4z" fill="#00f"/>
<path d="M228.2 48.3h4.2l-2.1 -3.4z" fill="#00f"/>
<path d="M212.1 40.4h4.2l-2.1 -3.4z" fill="#00f"/>
<path d="M191.9 88.1h4.2l-2.1 -3.4z" fill="#00f"/>
<path d="M198.9 75.1h4.2l-2.1 -3.4z" fill="#00f"/>
<path d="M243.1 33.9h4.2l-2.1 -3.4z" fill="#00f"/>
<path d="M186.0 79.9h4.2l-2.1 -3.4z" fill="#00f"/>
<path d="M199.5 79.2h4.2l-2.1 -3.4z" fill="#00f"/>
<path d="M259.9 24.4h4.2l-2.1 -3.4z" fill="#00f"/>
<path d="M230.5 51.0h4.2l-2.1 -3.4z" fill="#00f"/>
<path d="M245.5 25.7h4.2l-2.1 -3.4z" fill="#00f"/>
<path d="M202.1 78.1h4.2l-2.1 -3.4z" fill="#00f"/>
<rect x="169.4" y="13.5" width="106.6" height="84.9" fill="none" stroke="#6e6e6e" stroke-width="1"/>
<line x1="204.93" y1="98.4" x2="204.93" y2="97.2" stroke="#6e6e6e" stroke-width="0.6"/>
<line x1="169.4" y1="70.1" x2="170.6" y2="70.1" stroke="#6e6e6e" stroke-width="0.6"/>
<line x1="240.47" y1="98.4" x2="240.47" y2="97.2" stroke="#6e6e6e" stroke-width="0.6"/>
<line x1="169.4" y1="41.8" x2="170.6" y2="41.8" stroke="#6e6e6e" stroke-width="0.6"/>
<text x="204.93" y="106.6" font-size="5.6" text-anchor="middle" font-weight="bold" fill="#111">0.1</text>
<text x="240.47" y="106.6" font-size="5.6" text-anchor="middle" font-weight="bold" fill="#111">0.15</text>
<text x="276" y="106.6" font-size="5.6" text-anchor="middle" font-weight="bold" fill="#111">0.2</text>
<text x="167.2" y="72.1" font-size="5.6" text-anchor="end" font-weight="bold" fill="#111">0.1</text>
<text x="167.2" y="43.8" font-size="5.6" text-anchor="end" font-weight="bold" fill="#111">0.15</text>
<text x="167.2" y="15.5" font-size="5.6" text-anchor="end" font-weight="bold" fill="#111">0.2</text>
<text x="173" y="22.6" font-size="5.3" font-weight="bold" fill="#111" textLength="35" lengthAdjust="spacingAndGlyphs">R<tspan dy="-2.2" font-size="4.0">2</tspan><tspan dy="2.2"> (Cal) = 0.957</tspan></text>
<text x="173" y="29" font-size="5.3" font-weight="bold" fill="#111" textLength="37.3" lengthAdjust="spacingAndGlyphs">R<tspan dy="-2.2" font-size="4.0">2</tspan><tspan dy="2.2"> (Pred) = 0.877</tspan></text>
<path d="M223.6 76.8h3.8l-1.9 3.3z"/>
<path d="M223.7 87.2h3.6l-1.8 -3.1z" fill="#00f"/>
<text x="230.9" y="80.5" font-size="6.2" text-anchor="start" font-weight="bold" fill="#111" textLength="40.1" lengthAdjust="spacingAndGlyphs">Calibration set</text>
<text x="231.8" y="87.4" font-size="6.2" text-anchor="start" font-weight="bold" fill="#111" textLength="36.2" lengthAdjust="spacingAndGlyphs">Prediction set</text>
<text x="191.1" y="116.3" font-size="7.2" font-weight="bold" fill="#111" textLength="58.6" lengthAdjust="spacingAndGlyphs">Measured GAS mg&#160;&#160;g</text>
<text x="250.5" y="111.7" font-size="5.4" font-weight="bold" fill="#111" textLength="6.2" lengthAdjust="spacingAndGlyphs">-1</text>
<text transform="translate(154.6 86) rotate(-90)" font-size="7.2" font-weight="bold" fill="#111" style="stroke:none" textLength="55.5" lengthAdjust="spacingAndGlyphs">Predicted GAS mg g</text>
<text transform="translate(152.2 30.2) rotate(-90)" font-size="5.0" font-weight="bold" fill="#111" style="stroke:none">-1</text>
<text x="153.1" y="7.6" font-size="6.7" font-weight="bold" fill="#2a2a2a" style="stroke:none">(</text>
<text x="160.35" y="8.9" font-size="7.7" font-weight="bold" text-anchor="middle" fill="#111">B</text>
<text x="167.4" y="7.6" font-size="6.7" font-weight="bold" text-anchor="end" fill="#2a2a2a" style="stroke:none">)</text>
<line x1="205.33" y1="132.4" x2="205.33" y2="214.3" stroke="#e4e4e4" stroke-width="0.6"/>
<line x1="169.4" y1="187" x2="277.2" y2="187" stroke="#e4e4e4" stroke-width="0.6"/>
<line x1="241.27" y1="132.4" x2="241.27" y2="214.3" stroke="#e4e4e4" stroke-width="0.6"/>
<line x1="169.4" y1="159.7" x2="277.2" y2="159.7" stroke="#e4e4e4" stroke-width="0.6"/>
<line x1="169.4" y1="214.3" x2="277.2" y2="132.4" stroke="#222" stroke-width="0.7"/>
<path d="M201.5 184.9h4.6l-2.3 3.7z"/>
<path d="M189.0 199.5h4.6l-2.3 3.7z"/>
<path d="M225.3 168.4h4.6l-2.3 3.7z"/>
<path d="M227.9 166.5h4.6l-2.3 3.7z"/>
<path d="M205.8 187.1h4.6l-2.3 3.7z"/>
<path d="M200.3 189.9h4.6l-2.3 3.7z"/>
<path d="M225.1 169.5h4.6l-2.3 3.7z"/>
<path d="M238.3 154.5h4.6l-2.3 3.7z"/>
<path d="M239.5 156.8h4.6l-2.3 3.7z"/>
<path d="M214.2 177.5h4.6l-2.3 3.7z"/>
<path d="M223.3 165.7h4.6l-2.3 3.7z"/>
<path d="M236.9 161.3h4.6l-2.3 3.7z"/>
<path d="M190.3 195.9h4.6l-2.3 3.7z"/>
<path d="M187.1 193.9h4.6l-2.3 3.7z"/>
<path d="M211.4 177.1h4.6l-2.3 3.7z"/>
<path d="M198.3 190.6h4.6l-2.3 3.7z"/>
<path d="M255.8 145.6h4.6l-2.3 3.7z"/>
<path d="M216.8 171.9h4.6l-2.3 3.7z"/>
<path d="M265.4 143.1h4.6l-2.3 3.7z"/>
<path d="M188.5 194.3h4.6l-2.3 3.7z"/>
<path d="M222.9 169.1h4.6l-2.3 3.7z"/>
<path d="M230.4 165.1h4.6l-2.3 3.7z"/>
<path d="M185.1 205.3h4.6l-2.3 3.7z"/>
<path d="M224.0 170.9h4.6l-2.3 3.7z"/>
<path d="M239.3 158.2h4.6l-2.3 3.7z"/>
<path d="M224.6 171.5h4.6l-2.3 3.7z"/>
<path d="M201.2 186.4h4.6l-2.3 3.7z"/>
<path d="M257.2 142.1h4.6l-2.3 3.7z"/>
<path d="M184.4 203.2h4.6l-2.3 3.7z"/>
<path d="M256.9 146.1h4.6l-2.3 3.7z"/>
<path d="M220.8 174.3h4.6l-2.3 3.7z"/>
<path d="M215.6 172.1h4.6l-2.3 3.7z"/>
<path d="M215.5 180.9h4.6l-2.3 3.7z"/>
<path d="M223.5 171.5h4.6l-2.3 3.7z"/>
<path d="M200.8 188.1h4.6l-2.3 3.7z"/>
<path d="M206.1 182.7h4.6l-2.3 3.7z"/>
<path d="M213.6 179.5h4.6l-2.3 3.7z"/>
<path d="M242.5 156.6h4.6l-2.3 3.7z"/>
<path d="M215.5 175.5h4.6l-2.3 3.7z"/>
<path d="M181.5 200.1h4.6l-2.3 3.7z"/>
<path d="M211.2 178.5h4.6l-2.3 3.7z"/>
<path d="M239.7 154.5h4.6l-2.3 3.7z"/>
<path d="M215.5 176.0h4.6l-2.3 3.7z"/>
<path d="M221.6 167.0h4.6l-2.3 3.7z"/>
<path d="M217.2 169.7h4.6l-2.3 3.7z"/>
<path d="M245.6 153.6h4.6l-2.3 3.7z"/>
<path d="M263.7 142.3h4.6l-2.3 3.7z"/>
<path d="M198.3 190.4h4.6l-2.3 3.7z"/>
<path d="M227.6 166.1h4.6l-2.3 3.7z"/>
<path d="M224.1 172.7h4.6l-2.3 3.7z"/>
<path d="M185.3 203.4h4.6l-2.3 3.7z"/>
<path d="M240.9 153.9h4.6l-2.3 3.7z"/>
<path d="M212.7 177.8h4.6l-2.3 3.7z"/>
<path d="M209.9 186.1h4.6l-2.3 3.7z"/>
<path d="M221.5 177.4h4.6l-2.3 3.7z"/>
<path d="M218.4 176.0h4.6l-2.3 3.7z"/>
<path d="M201.7 187.0h4.6l-2.3 3.7z"/>
<path d="M224.5 170.9h4.6l-2.3 3.7z"/>
<path d="M215.8 177.7h4.6l-2.3 3.7z"/>
<path d="M221.7 173.4h4.6l-2.3 3.7z"/>
<path d="M201.9 184.7h4.6l-2.3 3.7z"/>
<path d="M220.8 173.7h4.6l-2.3 3.7z"/>
<path d="M185.8 193.2h4.6l-2.3 3.7z"/>
<path d="M209.0 178.3h4.6l-2.3 3.7z"/>
<path d="M217.1 181.4h4.6l-2.3 3.7z"/>
<path d="M213.0 177.3h4.6l-2.3 3.7z"/>
<path d="M204.5 181.6h4.6l-2.3 3.7z"/>
<path d="M228.9 164.9h4.6l-2.3 3.7z"/>
<path d="M195.9 192.8h4.6l-2.3 3.7z"/>
<path d="M201.4 186.5h4.6l-2.3 3.7z"/>
<path d="M229.4 164.7h4.6l-2.3 3.7z"/>
<path d="M194.4 192.3h4.6l-2.3 3.7z"/>
<path d="M221.1 173.0h4.6l-2.3 3.7z"/>
<path d="M266.6 138.6h4.6l-2.3 3.7z"/>
<path d="M217.9 180.6h4.6l-2.3 3.7z"/>
<path d="M181.9 198.7h4.6l-2.3 3.7z"/>
<path d="M216.2 171.2h4.6l-2.3 3.7z"/>
<path d="M207.7 182.9h4.6l-2.3 3.7z"/>
<path d="M232.1 162.8h4.6l-2.3 3.7z"/>
<path d="M200.0 186.3h4.6l-2.3 3.7z"/>
<path d="M233.4 169.6h4.6l-2.3 3.7z"/>
<path d="M241.4 155.6h4.6l-2.3 3.7z"/>
<path d="M184.4 200.3h4.6l-2.3 3.7z"/>
<path d="M222.8 169.7h4.6l-2.3 3.7z"/>
<path d="M220.4 171.1h4.6l-2.3 3.7z"/>
<path d="M208.7 173.6h4.6l-2.3 3.7z"/>
<path d="M219.7 180.8h4.6l-2.3 3.7z"/>
<path d="M223.9 167.3h4.6l-2.3 3.7z"/>
<path d="M205.6 188.4h4.6l-2.3 3.7z"/>
<path d="M271.4 134.3h4.6l-2.3 3.7z"/>
<path d="M225.8 165.2h4.6l-2.3 3.7z"/>
<path d="M228.3 160.6h4.6l-2.3 3.7z"/>
<path d="M219.5 172.8h4.6l-2.3 3.7z"/>
<path d="M232.8 160.9h4.6l-2.3 3.7z"/>
<path d="M255.4 142.9h4.6l-2.3 3.7z"/>
<path d="M247.8 155.7h4.6l-2.3 3.7z"/>
<path d="M227.4 170.4h4.6l-2.3 3.7z"/>
<path d="M220.9 173.2h4.6l-2.3 3.7z"/>
<path d="M247.2 151.3h4.6l-2.3 3.7z"/>
<path d="M186.2 199.7h4.6l-2.3 3.7z"/>
<path d="M190.5 195.8h4.6l-2.3 3.7z"/>
<path d="M200.0 186.1h4.6l-2.3 3.7z"/>
<path d="M184.0 198.7h4.6l-2.3 3.7z"/>
<path d="M224.6 171.1h4.6l-2.3 3.7z"/>
<path d="M229.5 167.8h4.6l-2.3 3.7z"/>
<path d="M222.7 170.4h4.6l-2.3 3.7z"/>
<path d="M226.5 164.0h4.6l-2.3 3.7z"/>
<path d="M222.6 170.3h4.6l-2.3 3.7z"/>
<path d="M242.0 154.9h4.6l-2.3 3.7z"/>
<path d="M215.9 174.4h4.6l-2.3 3.7z"/>
<path d="M217.9 170.4h4.6l-2.3 3.7z"/>
<path d="M210.1 175.5h4.6l-2.3 3.7z"/>
<path d="M259.4 141.7h4.6l-2.3 3.7z"/>
<path d="M222.7 170.3h4.6l-2.3 3.7z"/>
<path d="M208.8 181.3h4.6l-2.3 3.7z"/>
<path d="M187.0 197.3h4.6l-2.3 3.7z"/>
<path d="M186.9 194.5h4.6l-2.3 3.7z"/>
<path d="M219.3 168.6h4.6l-2.3 3.7z"/>
<path d="M186.4 193.8h4.6l-2.3 3.7z"/>
<path d="M251.7 152.1h4.6l-2.3 3.7z"/>
<path d="M230.3 164.2h4.6l-2.3 3.7z"/>
<path d="M233.0 160.1h4.6l-2.3 3.7z"/>
<path d="M236.8 154.0h4.6l-2.3 3.7z"/>
<path d="M203.7 182.4h4.6l-2.3 3.7z"/>
<path d="M211.2 180.7h4.6l-2.3 3.7z"/>
<path d="M200.6 191.6h4.6l-2.3 3.7z"/>
<path d="M212.5 177.8h4.6l-2.3 3.7z"/>
<path d="M198.1 190.3h4.2l-2.1 -3.4z" fill="#00f"/>
<path d="M234.2 163.3h4.6l-2.3 3.7z"/>
<path d="M207.2 189.6h4.2l-2.1 -3.4z" fill="#00f"/>
<path d="M224.5 175.0h4.6l-2.3 3.7z"/>
<path d="M205.2 182.0h4.6l-2.3 3.7z"/>
<path d="M183.8 200.8h4.6l-2.3 3.7z"/>
<path d="M244.1 153.6h4.6l-2.3 3.7z"/>
<path d="M220.4 170.3h4.6l-2.3 3.7z"/>
<path d="M260.6 144.5h4.6l-2.3 3.7z"/>
<path d="M248.5 150.3h4.6l-2.3 3.7z"/>
<path d="M227.3 172.2h4.6l-2.3 3.7z"/>
<path d="M190.5 194.6h4.6l-2.3 3.7z"/>
<path d="M207.3 180.3h4.2l-2.1 -3.4z" fill="#00f"/>
<path d="M195.5 191.2h4.6l-2.3 3.7z"/>
<path d="M225.3 166.2h4.6l-2.3 3.7z"/>
<path d="M207.6 179.9h4.2l-2.1 -3.4z" fill="#00f"/>
<path d="M216.1 172.5h4.6l-2.3 3.7z"/>
<path d="M201.9 185.2h4.6l-2.3 3.7z"/>
<path d="M216.5 172.7h4.6l-2.3 3.7z"/>
<path d="M209.4 183.2h4.6l-2.3 3.7z"/>
<path d="M201.9 186.7h4.6l-2.3 3.7z"/>
<path d="M237.2 157.4h4.6l-2.3 3.7z"/>
<path d="M229.0 159.9h4.6l-2.3 3.7z"/>
<path d="M185.6 200.4h4.6l-2.3 3.7z"/>
<path d="M182.9 195.7h4.6l-2.3 3.7z"/>
<path d="M205.4 180.4h4.6l-2.3 3.7z"/>
<path d="M195.9 193.9h4.6l-2.3 3.7z"/>
<path d="M243.8 152.1h4.6l-2.3 3.7z"/>
<path d="M191.1 199.9h4.2l-2.1 -3.4z" fill="#00f"/>
<path d="M259.0 142.0h4.6l-2.3 3.7z"/>
<path d="M222.1 172.0h4.6l-2.3 3.7z"/>
<path d="M221.7 168.6h4.2l-2.1 -3.4z" fill="#00f"/>
<path d="M184.3 206.9h4.2l-2.1 -3.4z" fill="#00f"/>
<path d="M226.0 168.9h4.6l-2.3 3.7z"/>
<path d="M224.0 168.9h4.6l-2.3 3.7z"/>
<path d="M213.5 179.7h4.2l-2.1 -3.4z" fill="#00f"/>
<path d="M219.4 169.8h4.6l-2.3 3.7z"/>
<path d="M209.0 180.4h4.6l-2.3 3.7z"/>
<path d="M266.8 141.9h4.6l-2.3 3.7z"/>
<path d="M200.5 186.1h4.6l-2.3 3.7z"/>
<path d="M272.7 133.5h4.6l-2.3 3.7z"/>
<path d="M211.0 183.0h4.6l-2.3 3.7z"/>
<path d="M216.0 180.7h4.6l-2.3 3.7z"/>
<path d="M228.1 161.7h4.6l-2.3 3.7z"/>
<path d="M216.6 175.4h4.6l-2.3 3.7z"/>
<path d="M221.2 172.2h4.6l-2.3 3.7z"/>
<path d="M215.1 177.2h4.6l-2.3 3.7z"/>
<path d="M217.6 175.6h4.6l-2.3 3.7z"/>
<path d="M202.6 183.6h4.6l-2.3 3.7z"/>
<path d="M215.5 178.5h4.2l-2.1 -3.4z" fill="#00f"/>
<path d="M210.1 180.0h4.2l-2.1 -3.4z" fill="#00f"/>
<path d="M209.7 180.1h4.2l-2.1 -3.4z" fill="#00f"/>
<path d="M225.6 164.4h4.6l-2.3 3.7z"/>
<path d="M223.0 168.1h4.2l-2.1 -3.4z" fill="#00f"/>
<path d="M213.3 174.6h4.6l-2.3 3.7z"/>
<path d="M212.2 182.2h4.2l-2.1 -3.4z" fill="#00f"/>
<path d="M197.1 193.6h4.2l-2.1 -3.4z" fill="#00f"/>
<path d="M217.4 173.1h4.6l-2.3 3.7z"/>
<path d="M252.2 148.8h4.6l-2.3 3.7z"/>
<path d="M198.4 190.5h4.2l-2.1 -3.4z" fill="#00f"/>
<path d="M195.2 192.9h4.2l-2.1 -3.4z" fill="#00f"/>
<path d="M193.1 195.0h4.6l-2.3 3.7z"/>
<path d="M206.5 182.9h4.6l-2.3 3.7z"/>
<path d="M218.3 177.8h4.6l-2.3 3.7z"/>
<path d="M197.9 186.9h4.6l-2.3 3.7z"/>
<path d="M222.3 169.0h4.6l-2.3 3.7z"/>
<path d="M224.2 170.5h4.6l-2.3 3.7z"/>
<path d="M202.2 186.7h4.6l-2.3 3.7z"/>
<path d="M207.2 181.4h4.2l-2.1 -3.4z" fill="#00f"/>
<path d="M213.1 181.5h4.2l-2.1 -3.4z" fill="#00f"/>
<path d="M224.0 169.2h4.6l-2.3 3.7z"/>
<path d="M217.7 170.8h4.6l-2.3 3.7z"/>
<path d="M198.6 184.4h4.6l-2.3 3.7z"/>
<path d="M188.7 201.8h4.2l-2.1 -3.4z" fill="#00f"/>
<path d="M207.9 179.4h4.6l-2.3 3.7z"/>
<path d="M169.4 208.7h4.6l-2.3 3.7z"/>
<path d="M211.1 178.0h4.6l-2.3 3.7z"/>
<path d="M221.6 175.5h4.2l-2.1 -3.4z" fill="#00f"/>
<path d="M240.2 153.0h4.6l-2.3 3.7z"/>
<path d="M222.1 166.8h4.6l-2.3 3.7z"/>
<path d="M188.0 202.5h4.2l-2.1 -3.4z" fill="#00f"/>
<path d="M217.4 178.8h4.2l-2.1 -3.4z" fill="#00f"/>
<path d="M264.7 145.0h4.2l-2.1 -3.4z" fill="#00f"/>
<path d="M213.5 177.0h4.6l-2.3 3.7z"/>
<path d="M191.6 195.0h4.6l-2.3 3.7z"/>
<path d="M218.9 175.7h4.6l-2.3 3.7z"/>
<path d="M224.1 170.9h4.6l-2.3 3.7z"/>
<path d="M208.8 186.5h4.2l-2.1 -3.4z" fill="#00f"/>
<path d="M191.3 194.4h4.6l-2.3 3.7z"/>
<path d="M218.6 171.1h4.6l-2.3 3.7z"/>
<path d="M230.0 162.2h4.6l-2.3 3.7z"/>
<path d="M223.6 167.6h4.6l-2.3 3.7z"/>
<path d="M214.3 174.6h4.6l-2.3 3.7z"/>
<path d="M185.5 197.2h4.6l-2.3 3.7z"/>
<path d="M195.7 190.1h4.6l-2.3 3.7z"/>
<path d="M212.2 177.1h4.6l-2.3 3.7z"/>
<path d="M234.5 164.8h4.2l-2.1 -3.4z" fill="#00f"/>
<path d="M262.3 143.9h4.2l-2.1 -3.4z" fill="#00f"/>
<path d="M191.0 195.5h4.2l-2.1 -3.4z" fill="#00f"/>
<path d="M210.2 184.1h4.2l-2.1 -3.4z" fill="#00f"/>
<path d="M253.3 149.7h4.2l-2.1 -3.4z" fill="#00f"/>
<path d="M217.4 179.5h4.2l-2.1 -3.4z" fill="#00f"/>
<path d="M224.2 173.7h4.2l-2.1 -3.4z" fill="#00f"/>
<path d="M191.3 191.2h4.2l-2.1 -3.4z" fill="#00f"/>
<path d="M228.1 168.4h4.2l-2.1 -3.4z" fill="#00f"/>
<path d="M198.2 184.1h4.2l-2.1 -3.4z" fill="#00f"/>
<path d="M221.7 175.2h4.2l-2.1 -3.4z" fill="#00f"/>
<path d="M228.8 168.2h4.2l-2.1 -3.4z" fill="#00f"/>
<path d="M222.5 180.9h4.2l-2.1 -3.4z" fill="#00f"/>
<path d="M232.7 164.5h4.2l-2.1 -3.4z" fill="#00f"/>
<path d="M212.1 180.1h4.2l-2.1 -3.4z" fill="#00f"/>
<path d="M189.2 191.9h4.2l-2.1 -3.4z" fill="#00f"/>
<path d="M194.6 194.9h4.2l-2.1 -3.4z" fill="#00f"/>
<path d="M223.8 167.8h4.2l-2.1 -3.4z" fill="#00f"/>
<path d="M211.0 175.7h4.2l-2.1 -3.4z" fill="#00f"/>
<path d="M188.2 204.1h4.2l-2.1 -3.4z" fill="#00f"/>
<path d="M211.3 184.6h4.2l-2.1 -3.4z" fill="#00f"/>
<path d="M225.5 172.3h4.2l-2.1 -3.4z" fill="#00f"/>
<path d="M203.8 184.4h4.2l-2.1 -3.4z" fill="#00f"/>
<path d="M185.3 202.2h4.2l-2.1 -3.4z" fill="#00f"/>
<path d="M214.0 179.3h4.2l-2.1 -3.4z" fill="#00f"/>
<path d="M202.2 190.4h4.2l-2.1 -3.4z" fill="#00f"/>
<path d="M255.1 158.0h4.2l-2.1 -3.4z" fill="#00f"/>
<path d="M209.2 178.1h4.2l-2.1 -3.4z" fill="#00f"/>
<path d="M240.5 155.0h4.2l-2.1 -3.4z" fill="#00f"/>
<path d="M194.5 192.8h4.2l-2.1 -3.4z" fill="#00f"/>
<path d="M250.0 153.8h4.2l-2.1 -3.4z" fill="#00f"/>
<path d="M262.4 146.5h4.2l-2.1 -3.4z" fill="#00f"/>
<path d="M259.8 140.2h4.2l-2.1 -3.4z" fill="#00f"/>
<path d="M224.9 171.6h4.2l-2.1 -3.4z" fill="#00f"/>
<path d="M255.7 152.4h4.2l-2.1 -3.4z" fill="#00f"/>
<path d="M201.9 190.5h4.2l-2.1 -3.4z" fill="#00f"/>
<path d="M226.6 171.4h4.2l-2.1 -3.4z" fill="#00f"/>
<path d="M209.7 181.5h4.2l-2.1 -3.4z" fill="#00f"/>
<path d="M251.3 144.5h4.2l-2.1 -3.4z" fill="#00f"/>
<path d="M210.4 184.3h4.2l-2.1 -3.4z" fill="#00f"/>
<path d="M211.4 181.6h4.2l-2.1 -3.4z" fill="#00f"/>
<path d="M232.2 166.7h4.2l-2.1 -3.4z" fill="#00f"/>
<path d="M185.9 202.7h4.2l-2.1 -3.4z" fill="#00f"/>
<path d="M218.7 183.8h4.2l-2.1 -3.4z" fill="#00f"/>
<path d="M218.4 173.9h4.2l-2.1 -3.4z" fill="#00f"/>
<path d="M226.5 173.9h4.2l-2.1 -3.4z" fill="#00f"/>
<path d="M233.1 168.6h4.2l-2.1 -3.4z" fill="#00f"/>
<path d="M225.3 170.3h4.2l-2.1 -3.4z" fill="#00f"/>
<path d="M212.4 183.1h4.2l-2.1 -3.4z" fill="#00f"/>
<path d="M260.7 150.7h4.2l-2.1 -3.4z" fill="#00f"/>
<path d="M222.3 170.7h4.2l-2.1 -3.4z" fill="#00f"/>
<rect x="169.4" y="132.4" width="107.8" height="81.9" fill="none" stroke="#6e6e6e" stroke-width="1"/>
<line x1="205.33" y1="214.3" x2="205.33" y2="213.1" stroke="#6e6e6e" stroke-width="0.6"/>
<line x1="169.4" y1="187" x2="170.6" y2="187" stroke="#6e6e6e" stroke-width="0.6"/>
<line x1="241.27" y1="214.3" x2="241.27" y2="213.1" stroke="#6e6e6e" stroke-width="0.6"/>
<line x1="169.4" y1="159.7" x2="170.6" y2="159.7" stroke="#6e6e6e" stroke-width="0.6"/>
<text x="205.33" y="222.5" font-size="5.6" text-anchor="middle" font-weight="bold" fill="#111">0.1</text>
<text x="241.27" y="222.5" font-size="5.6" text-anchor="middle" font-weight="bold" fill="#111">0.15</text>
<text x="277.2" y="222.5" font-size="5.6" text-anchor="middle" font-weight="bold" fill="#111">0.2</text>
<text x="167.2" y="189" font-size="5.6" text-anchor="end" font-weight="bold" fill="#111">0.1</text>
<text x="167.2" y="161.7" font-size="5.6" text-anchor="end" font-weight="bold" fill="#111">0.15</text>
<text x="167.2" y="134.4" font-size="5.6" text-anchor="end" font-weight="bold" fill="#111">0.2</text>
<text x="175.1" y="142.5" font-size="5.3" font-weight="bold" fill="#111" textLength="32.9" lengthAdjust="spacingAndGlyphs">R<tspan dy="-2.2" font-size="4.0">2</tspan><tspan dy="2.2"> (Cal) = 0.966</tspan></text>
<text x="175.1" y="149.8" font-size="5.3" font-weight="bold" fill="#111" textLength="34.9" lengthAdjust="spacingAndGlyphs">R<tspan dy="-2.2" font-size="4.0">2</tspan><tspan dy="2.2"> (Pred) = 0.941</tspan></text>
<path d="M224.4 190.8h3.8l-1.9 3.3z"/>
<path d="M224.5 202.1h3.6l-1.8 -3.1z" fill="#00f"/>
<text x="231.8" y="193.5" font-size="6.2" text-anchor="start" font-weight="bold" fill="#111" textLength="39.5" lengthAdjust="spacingAndGlyphs">Calibration set</text>
<text x="232.9" y="201.6" font-size="6.2" text-anchor="start" font-weight="bold" fill="#111" textLength="35.6" lengthAdjust="spacingAndGlyphs">Prediction set</text>
<text x="192.3" y="232.2" font-size="7.2" font-weight="bold" fill="#111" textLength="58.6" lengthAdjust="spacingAndGlyphs">Measured GAS mg&#160;&#160;g</text>
<text x="251.7" y="227.6" font-size="5.4" font-weight="bold" fill="#111" textLength="6.2" lengthAdjust="spacingAndGlyphs">-1</text>
<text transform="translate(155 202.8) rotate(-90)" font-size="7.2" font-weight="bold" fill="#111" style="stroke:none" textLength="55" lengthAdjust="spacingAndGlyphs">Predicted GAS mg g</text>
<text transform="translate(152.6 147.5) rotate(-90)" font-size="5.0" font-weight="bold" fill="#111" style="stroke:none">-1</text>
<text x="153.3" y="126.5" font-size="6.7" font-weight="bold" fill="#2a2a2a" style="stroke:none">(</text>
<text x="160.15" y="127.8" font-size="7.7" font-weight="bold" text-anchor="middle" fill="#111">F</text>
<text x="167" y="126.5" font-size="6.7" font-weight="bold" text-anchor="end" fill="#2a2a2a" style="stroke:none">)</text>
<line x1="205.63" y1="246.1" x2="205.63" y2="328.3" stroke="#e4e4e4" stroke-width="0.6"/>
<line x1="169.1" y1="300.9" x2="278.7" y2="300.9" stroke="#e4e4e4" stroke-width="0.6"/>
<line x1="242.17" y1="246.1" x2="242.17" y2="328.3" stroke="#e4e4e4" stroke-width="0.6"/>
<line x1="169.1" y1="273.5" x2="278.7" y2="273.5" stroke="#e4e4e4" stroke-width="0.6"/>
<line x1="169.1" y1="328.3" x2="278.7" y2="246.1" stroke="#222" stroke-width="0.7"/>
<path d="M229.1 281.2h4.6l-2.3 3.7z"/>
<path d="M226.8 281.3h4.6l-2.3 3.7z"/>
<path d="M222.5 283.0h4.6l-2.3 3.7z"/>
<path d="M219.1 287.3h4.6l-2.3 3.7z"/>
<path d="M225.8 278.5h4.6l-2.3 3.7z"/>
<path d="M221.9 287.7h4.6l-2.3 3.7z"/>
<path d="M223.4 281.9h4.6l-2.3 3.7z"/>
<path d="M183.0 313.3h4.6l-2.3 3.7z"/>
<path d="M236.9 276.8h4.6l-2.3 3.7z"/>
<path d="M247.8 269.2h4.6l-2.3 3.7z"/>
<path d="M232.6 273.5h4.6l-2.3 3.7z"/>
<path d="M258.5 262.0h4.6l-2.3 3.7z"/>
<path d="M192.3 306.6h4.6l-2.3 3.7z"/>
<path d="M239.4 276.7h4.6l-2.3 3.7z"/>
<path d="M202.6 296.9h4.6l-2.3 3.7z"/>
<path d="M267.0 252.7h4.6l-2.3 3.7z"/>
<path d="M218.0 287.1h4.6l-2.3 3.7z"/>
<path d="M202.9 297.0h4.6l-2.3 3.7z"/>
<path d="M231.1 283.1h4.6l-2.3 3.7z"/>
<path d="M216.5 286.0h4.6l-2.3 3.7z"/>
<path d="M228.9 283.4h4.6l-2.3 3.7z"/>
<path d="M237.6 276.2h4.6l-2.3 3.7z"/>
<path d="M182.5 310.4h4.6l-2.3 3.7z"/>
<path d="M211.6 293.0h4.6l-2.3 3.7z"/>
<path d="M216.2 289.7h4.6l-2.3 3.7z"/>
<path d="M241.4 269.4h4.6l-2.3 3.7z"/>
<path d="M219.7 282.2h4.6l-2.3 3.7z"/>
<path d="M182.1 314.2h4.6l-2.3 3.7z"/>
<path d="M226.9 281.3h4.6l-2.3 3.7z"/>
<path d="M194.9 307.6h4.6l-2.3 3.7z"/>
<path d="M225.0 283.2h4.6l-2.3 3.7z"/>
<path d="M241.3 267.8h4.6l-2.3 3.7z"/>
<path d="M190.4 308.7h4.6l-2.3 3.7z"/>
<path d="M211.0 299.2h4.6l-2.3 3.7z"/>
<path d="M227.5 288.0h4.6l-2.3 3.7z"/>
<path d="M229.4 277.9h4.6l-2.3 3.7z"/>
<path d="M219.9 285.9h4.6l-2.3 3.7z"/>
<path d="M201.4 301.1h4.6l-2.3 3.7z"/>
<path d="M187.7 312.5h4.6l-2.3 3.7z"/>
<path d="M193.5 309.2h4.6l-2.3 3.7z"/>
<path d="M218.5 289.6h4.6l-2.3 3.7z"/>
<path d="M211.2 296.0h4.6l-2.3 3.7z"/>
<path d="M216.3 295.9h4.6l-2.3 3.7z"/>
<path d="M220.5 286.7h4.6l-2.3 3.7z"/>
<path d="M218.3 285.1h4.6l-2.3 3.7z"/>
<path d="M217.8 289.8h4.6l-2.3 3.7z"/>
<path d="M210.3 296.4h4.6l-2.3 3.7z"/>
<path d="M206.3 297.2h4.6l-2.3 3.7z"/>
<path d="M216.4 288.5h4.6l-2.3 3.7z"/>
<path d="M193.2 310.5h4.6l-2.3 3.7z"/>
<path d="M223.2 283.9h4.6l-2.3 3.7z"/>
<path d="M233.9 274.1h4.6l-2.3 3.7z"/>
<path d="M215.8 289.4h4.6l-2.3 3.7z"/>
<path d="M220.5 283.0h4.6l-2.3 3.7z"/>
<path d="M245.0 265.3h4.6l-2.3 3.7z"/>
<path d="M202.6 298.6h4.6l-2.3 3.7z"/>
<path d="M207.2 296.7h4.6l-2.3 3.7z"/>
<path d="M252.7 260.6h4.6l-2.3 3.7z"/>
<path d="M215.7 287.0h4.6l-2.3 3.7z"/>
<path d="M202.2 299.9h4.6l-2.3 3.7z"/>
<path d="M227.7 280.5h4.6l-2.3 3.7z"/>
<path d="M231.8 278.7h4.6l-2.3 3.7z"/>
<path d="M194.5 301.8h4.6l-2.3 3.7z"/>
<path d="M213.0 293.5h4.6l-2.3 3.7z"/>
<path d="M203.0 300.0h4.6l-2.3 3.7z"/>
<path d="M183.2 316.4h4.6l-2.3 3.7z"/>
<path d="M247.9 261.3h4.6l-2.3 3.7z"/>
<path d="M237.2 274.9h4.6l-2.3 3.7z"/>
<path d="M210.5 293.8h4.6l-2.3 3.7z"/>
<path d="M267.2 250.7h4.6l-2.3 3.7z"/>
<path d="M199.2 303.0h4.6l-2.3 3.7z"/>
<path d="M205.3 298.4h4.6l-2.3 3.7z"/>
<path d="M210.0 293.6h4.6l-2.3 3.7z"/>
<path d="M246.9 269.2h4.6l-2.3 3.7z"/>
<path d="M214.8 289.7h4.6l-2.3 3.7z"/>
<path d="M228.4 286.7h4.6l-2.3 3.7z"/>
<path d="M216.5 287.0h4.6l-2.3 3.7z"/>
<path d="M214.0 292.1h4.6l-2.3 3.7z"/>
<path d="M212.5 290.3h4.6l-2.3 3.7z"/>
<path d="M197.2 301.3h4.6l-2.3 3.7z"/>
<path d="M257.8 255.4h4.6l-2.3 3.7z"/>
<path d="M250.5 264.4h4.6l-2.3 3.7z"/>
<path d="M264.1 254.2h4.6l-2.3 3.7z"/>
<path d="M216.4 291.1h4.6l-2.3 3.7z"/>
<path d="M199.3 303.0h4.6l-2.3 3.7z"/>
<path d="M211.6 291.1h4.6l-2.3 3.7z"/>
<path d="M209.6 292.1h4.6l-2.3 3.7z"/>
<path d="M231.6 273.6h4.6l-2.3 3.7z"/>
<path d="M199.2 308.4h4.6l-2.3 3.7z"/>
<path d="M195.9 304.7h4.6l-2.3 3.7z"/>
<path d="M222.5 286.3h4.6l-2.3 3.7z"/>
<path d="M221.8 285.6h4.6l-2.3 3.7z"/>
<path d="M219.8 289.3h4.6l-2.3 3.7z"/>
<path d="M229.6 279.3h4.6l-2.3 3.7z"/>
<path d="M223.2 286.7h4.6l-2.3 3.7z"/>
<path d="M184.1 313.3h4.6l-2.3 3.7z"/>
<path d="M270.6 247.7h4.6l-2.3 3.7z"/>
<path d="M217.0 287.8h4.6l-2.3 3.7z"/>
<path d="M225.5 284.1h4.6l-2.3 3.7z"/>
<path d="M213.4 291.7h4.6l-2.3 3.7z"/>
<path d="M263.8 247.6h4.6l-2.3 3.7z"/>
<path d="M224.4 287.7h4.6l-2.3 3.7z"/>
<path d="M218.4 287.1h4.6l-2.3 3.7z"/>
<path d="M220.0 290.6h4.6l-2.3 3.7z"/>
<path d="M221.9 290.6h4.6l-2.3 3.7z"/>
<path d="M193.4 307.2h4.6l-2.3 3.7z"/>
<path d="M216.9 288.8h4.6l-2.3 3.7z"/>
<path d="M213.0 289.4h4.6l-2.3 3.7z"/>
<path d="M214.0 294.4h4.6l-2.3 3.7z"/>
<path d="M221.5 284.1h4.6l-2.3 3.7z"/>
<path d="M211.2 297.3h4.6l-2.3 3.7z"/>
<path d="M223.5 283.3h4.6l-2.3 3.7z"/>
<path d="M214.5 287.8h4.6l-2.3 3.7z"/>
<path d="M222.6 282.4h4.6l-2.3 3.7z"/>
<path d="M218.7 288.5h4.6l-2.3 3.7z"/>
<path d="M191.4 308.5h4.6l-2.3 3.7z"/>
<path d="M210.1 296.4h4.6l-2.3 3.7z"/>
<path d="M220.4 288.3h4.6l-2.3 3.7z"/>
<path d="M258.3 258.5h4.6l-2.3 3.7z"/>
<path d="M199.3 308.5h4.6l-2.3 3.7z"/>
<path d="M244.0 264.7h4.6l-2.3 3.7z"/>
<path d="M213.1 291.0h4.6l-2.3 3.7z"/>
<path d="M181.5 319.1h4.6l-2.3 3.7z"/>
<path d="M207.7 294.9h4.6l-2.3 3.7z"/>
<path d="M225.9 284.7h4.6l-2.3 3.7z"/>
<path d="M203.2 300.0h4.6l-2.3 3.7z"/>
<path d="M267.2 252.7h4.6l-2.3 3.7z"/>
<path d="M244.8 268.2h4.6l-2.3 3.7z"/>
<path d="M220.6 285.7h4.6l-2.3 3.7z"/>
<path d="M192.8 309.9h4.6l-2.3 3.7z"/>
<path d="M217.5 287.0h4.6l-2.3 3.7z"/>
<path d="M257.1 259.7h4.6l-2.3 3.7z"/>
<path d="M226.6 281.3h4.6l-2.3 3.7z"/>
<path d="M227.1 286.8h4.6l-2.3 3.7z"/>
<path d="M208.9 297.3h4.6l-2.3 3.7z"/>
<path d="M216.2 292.2h4.2l-2.1 -3.4z" fill="#00f"/>
<path d="M235.2 274.8h4.2l-2.1 -3.4z" fill="#00f"/>
<path d="M217.6 288.8h4.6l-2.3 3.7z"/>
<path d="M200.4 304.4h4.6l-2.3 3.7z"/>
<path d="M272.7 251.2h4.6l-2.3 3.7z"/>
<path d="M211.3 297.2h4.6l-2.3 3.7z"/>
<path d="M225.3 283.7h4.6l-2.3 3.7z"/>
<path d="M197.5 303.3h4.6l-2.3 3.7z"/>
<path d="M224.8 290.5h4.6l-2.3 3.7z"/>
<path d="M235.3 278.5h4.6l-2.3 3.7z"/>
<path d="M240.8 272.0h4.6l-2.3 3.7z"/>
<path d="M242.7 280.2h4.2l-2.1 -3.4z" fill="#00f"/>
<path d="M213.8 287.5h4.6l-2.3 3.7z"/>
<path d="M191.0 303.8h4.6l-2.3 3.7z"/>
<path d="M267.1 253.4h4.6l-2.3 3.7z"/>
<path d="M229.6 279.5h4.6l-2.3 3.7z"/>
<path d="M223.6 282.9h4.6l-2.3 3.7z"/>
<path d="M188.4 313.0h4.6l-2.3 3.7z"/>
<path d="M216.8 290.5h4.6l-2.3 3.7z"/>
<path d="M219.4 287.8h4.6l-2.3 3.7z"/>
<path d="M243.5 273.9h4.6l-2.3 3.7z"/>
<path d="M222.7 286.5h4.6l-2.3 3.7z"/>
<path d="M198.4 302.4h4.6l-2.3 3.7z"/>
<path d="M217.8 293.2h4.6l-2.3 3.7z"/>
<path d="M228.8 276.0h4.6l-2.3 3.7z"/>
<path d="M266.5 253.1h4.6l-2.3 3.7z"/>
<path d="M225.4 284.0h4.6l-2.3 3.7z"/>
<path d="M201.6 301.8h4.2l-2.1 -3.4z" fill="#00f"/>
<path d="M193.5 309.6h4.6l-2.3 3.7z"/>
<path d="M240.9 274.6h4.2l-2.1 -3.4z" fill="#00f"/>
<path d="M220.3 288.0h4.6l-2.3 3.7z"/>
<path d="M213.3 290.9h4.6l-2.3 3.7z"/>
<path d="M184.0 311.9h4.6l-2.3 3.7z"/>
<path d="M258.7 255.5h4.6l-2.3 3.7z"/>
<path d="M197.6 301.1h4.6l-2.3 3.7z"/>
<path d="M218.0 293.0h4.2l-2.1 -3.4z" fill="#00f"/>
<path d="M214.8 302.6h4.2l-2.1 -3.4z" fill="#00f"/>
<path d="M214.2 301.8h4.2l-2.1 -3.4z" fill="#00f"/>
<path d="M197.6 301.3h4.6l-2.3 3.7z"/>
<path d="M186.3 318.0h4.6l-2.3 3.7z"/>
<path d="M196.6 304.7h4.2l-2.1 -3.4z" fill="#00f"/>
<path d="M186.9 310.2h4.6l-2.3 3.7z"/>
<path d="M227.0 284.1h4.6l-2.3 3.7z"/>
<path d="M183.1 312.4h4.6l-2.3 3.7z"/>
<path d="M261.4 256.3h4.6l-2.3 3.7z"/>
<path d="M214.2 290.4h4.6l-2.3 3.7z"/>
<path d="M219.3 285.1h4.6l-2.3 3.7z"/>
<path d="M200.2 308.5h4.6l-2.3 3.7z"/>
<path d="M183.8 310.4h4.2l-2.1 -3.4z" fill="#00f"/>
<path d="M240.2 279.5h4.2l-2.1 -3.4z" fill="#00f"/>
<path d="M195.9 299.3h4.6l-2.3 3.7z"/>
<path d="M239.1 270.5h4.6l-2.3 3.7z"/>
<path d="M202.4 298.3h4.6l-2.3 3.7z"/>
<path d="M187.1 315.0h4.6l-2.3 3.7z"/>
<path d="M218.7 291.5h4.2l-2.1 -3.4z" fill="#00f"/>
<path d="M192.6 315.5h4.2l-2.1 -3.4z" fill="#00f"/>
<path d="M213.0 290.9h4.6l-2.3 3.7z"/>
<path d="M226.4 281.6h4.6l-2.3 3.7z"/>
<path d="M200.3 302.2h4.2l-2.1 -3.4z" fill="#00f"/>
<path d="M246.2 268.0h4.6l-2.3 3.7z"/>
<path d="M253.1 262.3h4.2l-2.1 -3.4z" fill="#00f"/>
<path d="M263.9 251.3h4.6l-2.3 3.7z"/>
<path d="M191.9 311.8h4.6l-2.3 3.7z"/>
<path d="M184.0 308.6h4.6l-2.3 3.7z"/>
<path d="M242.1 271.1h4.6l-2.3 3.7z"/>
<path d="M196.6 302.0h4.2l-2.1 -3.4z" fill="#00f"/>
<path d="M232.6 273.2h4.2l-2.1 -3.4z" fill="#00f"/>
<path d="M250.4 263.7h4.6l-2.3 3.7z"/>
<path d="M201.8 300.1h4.2l-2.1 -3.4z" fill="#00f"/>
<path d="M268.8 249.9h4.6l-2.3 3.7z"/>
<path d="M200.0 300.9h4.6l-2.3 3.7z"/>
<path d="M216.7 290.5h4.6l-2.3 3.7z"/>
<path d="M218.2 291.5h4.2l-2.1 -3.4z" fill="#00f"/>
<path d="M246.0 270.2h4.6l-2.3 3.7z"/>
<path d="M233.8 275.8h4.6l-2.3 3.7z"/>
<path d="M215.0 290.9h4.6l-2.3 3.7z"/>
<path d="M213.5 289.8h4.6l-2.3 3.7z"/>
<path d="M255.1 257.1h4.6l-2.3 3.7z"/>
<path d="M242.9 270.2h4.2l-2.1 -3.4z" fill="#00f"/>
<path d="M233.0 277.0h4.6l-2.3 3.7z"/>
<path d="M224.1 284.5h4.6l-2.3 3.7z"/>
<path d="M201.2 317.1h4.2l-2.1 -3.4z" fill="#00f"/>
<path d="M168.6 323.5h4.6l-2.3 3.7z"/>
<path d="M221.5 285.8h4.6l-2.3 3.7z"/>
<path d="M208.8 295.5h4.6l-2.3 3.7z"/>
<path d="M223.5 291.1h4.6l-2.3 3.7z"/>
<path d="M223.4 295.4h4.2l-2.1 -3.4z" fill="#00f"/>
<path d="M224.5 286.3h4.2l-2.1 -3.4z" fill="#00f"/>
<path d="M210.1 302.3h4.2l-2.1 -3.4z" fill="#00f"/>
<path d="M185.1 310.3h4.2l-2.1 -3.4z" fill="#00f"/>
<path d="M218.5 292.3h4.2l-2.1 -3.4z" fill="#00f"/>
<path d="M195.0 305.8h4.2l-2.1 -3.4z" fill="#00f"/>
<path d="M229.3 275.8h4.2l-2.1 -3.4z" fill="#00f"/>
<path d="M196.2 301.3h4.2l-2.1 -3.4z" fill="#00f"/>
<path d="M233.0 287.4h4.2l-2.1 -3.4z" fill="#00f"/>
<path d="M197.0 309.7h4.2l-2.1 -3.4z" fill="#00f"/>
<path d="M183.1 319.2h4.2l-2.1 -3.4z" fill="#00f"/>
<path d="M228.6 284.3h4.2l-2.1 -3.4z" fill="#00f"/>
<path d="M217.7 283.9h4.2l-2.1 -3.4z" fill="#00f"/>
<path d="M226.7 290.9h4.2l-2.1 -3.4z" fill="#00f"/>
<path d="M200.8 303.6h4.2l-2.1 -3.4z" fill="#00f"/>
<path d="M248.3 270.5h4.2l-2.1 -3.4z" fill="#00f"/>
<path d="M255.4 263.0h4.2l-2.1 -3.4z" fill="#00f"/>
<path d="M198.0 288.9h4.2l-2.1 -3.4z" fill="#00f"/>
<path d="M191.7 310.0h4.2l-2.1 -3.4z" fill="#00f"/>
<path d="M224.8 281.3h4.2l-2.1 -3.4z" fill="#00f"/>
<path d="M209.8 299.5h4.2l-2.1 -3.4z" fill="#00f"/>
<path d="M208.1 297.9h4.2l-2.1 -3.4z" fill="#00f"/>
<path d="M219.7 290.2h4.2l-2.1 -3.4z" fill="#00f"/>
<path d="M213.7 292.4h4.2l-2.1 -3.4z" fill="#00f"/>
<path d="M215.1 297.5h4.2l-2.1 -3.4z" fill="#00f"/>
<path d="M252.2 269.3h4.2l-2.1 -3.4z" fill="#00f"/>
<path d="M213.8 294.7h4.2l-2.1 -3.4z" fill="#00f"/>
<path d="M217.1 298.1h4.2l-2.1 -3.4z" fill="#00f"/>
<path d="M217.9 295.0h4.2l-2.1 -3.4z" fill="#00f"/>
<path d="M213.9 294.3h4.2l-2.1 -3.4z" fill="#00f"/>
<path d="M210.6 299.0h4.2l-2.1 -3.4z" fill="#00f"/>
<path d="M224.6 282.7h4.2l-2.1 -3.4z" fill="#00f"/>
<path d="M236.8 281.6h4.2l-2.1 -3.4z" fill="#00f"/>
<path d="M231.6 279.5h4.2l-2.1 -3.4z" fill="#00f"/>
<path d="M205.6 301.0h4.2l-2.1 -3.4z" fill="#00f"/>
<path d="M223.3 285.4h4.2l-2.1 -3.4z" fill="#00f"/>
<path d="M247.2 270.9h4.2l-2.1 -3.4z" fill="#00f"/>
<path d="M238.4 274.2h4.2l-2.1 -3.4z" fill="#00f"/>
<path d="M213.1 291.7h4.2l-2.1 -3.4z" fill="#00f"/>
<path d="M196.0 308.7h4.2l-2.1 -3.4z" fill="#00f"/>
<path d="M231.1 275.8h4.2l-2.1 -3.4z" fill="#00f"/>
<path d="M226.9 278.4h4.2l-2.1 -3.4z" fill="#00f"/>
<path d="M214.4 281.9h4.2l-2.1 -3.4z" fill="#00f"/>
<path d="M247.7 263.8h4.2l-2.1 -3.4z" fill="#00f"/>
<path d="M213.2 293.8h4.2l-2.1 -3.4z" fill="#00f"/>
<path d="M237.9 275.1h4.2l-2.1 -3.4z" fill="#00f"/>
<path d="M219.5 296.7h4.2l-2.1 -3.4z" fill="#00f"/>
<path d="M260.4 258.9h4.2l-2.1 -3.4z" fill="#00f"/>
<path d="M227.9 271.8h4.2l-2.1 -3.4z" fill="#00f"/>
<path d="M237.4 275.8h4.2l-2.1 -3.4z" fill="#00f"/>
<path d="M228.8 285.3h4.2l-2.1 -3.4z" fill="#00f"/>
<path d="M201.6 303.5h4.2l-2.1 -3.4z" fill="#00f"/>
<path d="M217.0 288.8h4.2l-2.1 -3.4z" fill="#00f"/>
<path d="M192.9 311.3h4.2l-2.1 -3.4z" fill="#00f"/>
<rect x="169.1" y="246.1" width="109.6" height="82.2" fill="none" stroke="#6e6e6e" stroke-width="1"/>
<line x1="205.63" y1="328.3" x2="205.63" y2="327.1" stroke="#6e6e6e" stroke-width="0.6"/>
<line x1="169.1" y1="300.9" x2="170.3" y2="300.9" stroke="#6e6e6e" stroke-width="0.6"/>
<line x1="242.17" y1="328.3" x2="242.17" y2="327.1" stroke="#6e6e6e" stroke-width="0.6"/>
<line x1="169.1" y1="273.5" x2="170.3" y2="273.5" stroke="#6e6e6e" stroke-width="0.6"/>
<text x="169.1" y="335.3" font-size="5.6" text-anchor="middle" font-weight="bold" fill="#111">0.05</text>
<text x="205.63" y="335.3" font-size="5.6" text-anchor="middle" font-weight="bold" fill="#111">0.1</text>
<text x="242.17" y="335.3" font-size="5.6" text-anchor="middle" font-weight="bold" fill="#111">0.15</text>
<text x="278.7" y="335.3" font-size="5.6" text-anchor="middle" font-weight="bold" fill="#111">0.2</text>
<text x="166.9" y="330.3" font-size="5.6" text-anchor="end" font-weight="bold" fill="#111">0.05</text>
<text x="166.9" y="302.9" font-size="5.6" text-anchor="end" font-weight="bold" fill="#111">0.1</text>
<text x="166.9" y="275.5" font-size="5.6" text-anchor="end" font-weight="bold" fill="#111">0.15</text>
<text x="166.9" y="248.1" font-size="5.6" text-anchor="end" font-weight="bold" fill="#111">0.2</text>
<text x="173" y="256.5" font-size="5.3" font-weight="bold" fill="#111" textLength="34.1" lengthAdjust="spacingAndGlyphs">R<tspan dy="-2.2" font-size="4.0">2</tspan><tspan dy="2.2"> (Cal) = 0.975</tspan></text>
<text x="173" y="263.8" font-size="5.3" font-weight="bold" fill="#111" textLength="35.5" lengthAdjust="spacingAndGlyphs">R<tspan dy="-2.2" font-size="4.0">2</tspan><tspan dy="2.2"> (Pred) = 0.915</tspan></text>
<path d="M225.7 306.5h3.8l-1.9 3.3z"/>
<path d="M225.8 317.1h3.6l-1.8 -3.1z" fill="#00f"/>
<text x="233.6" y="310.3" font-size="6.2" text-anchor="start" font-weight="bold" fill="#111" textLength="39.8" lengthAdjust="spacingAndGlyphs">Calibration set</text>
<text x="234.2" y="316.8" font-size="6.2" text-anchor="start" font-weight="bold" fill="#111" textLength="36.5" lengthAdjust="spacingAndGlyphs">Prediction set</text>
<text x="193" y="344.7" font-size="7.2" font-weight="bold" fill="#111" textLength="58.6" lengthAdjust="spacingAndGlyphs">Measured GAS mg&#160;&#160;g</text>
<text x="252.4" y="340.1" font-size="5.4" font-weight="bold" fill="#111" textLength="6.2" lengthAdjust="spacingAndGlyphs">-1</text>
<text transform="translate(154.6 316.8) rotate(-90)" font-size="7.2" font-weight="bold" fill="#111" style="stroke:none" textLength="54" lengthAdjust="spacingAndGlyphs">Predicted GAS mg g</text>
<text transform="translate(152.2 262.5) rotate(-90)" font-size="5.0" font-weight="bold" fill="#111" style="stroke:none">-1</text>
<text x="154.6" y="239.5" font-size="6.7" font-weight="bold" fill="#2a2a2a" style="stroke:none">(</text>
<text x="160.45" y="240.8" font-size="7.7" font-weight="bold" text-anchor="middle" fill="#111">J</text>
<text x="167" y="239.5" font-size="6.7" font-weight="bold" text-anchor="end" fill="#2a2a2a" style="stroke:none">)</text>
<rect x="308.17" y="54.1" width="0.72" height="2.8" fill="#111"/>
<rect x="308.7" y="56.9" width="0.72" height="18.01" fill="#111"/>
<rect x="309.24" y="56.9" width="0.72" height="16.27" fill="#111"/>
<rect x="309.77" y="43.6" width="0.72" height="13.3" fill="#111"/>
<rect x="310.3" y="56.9" width="0.72" height="0.3" fill="#111"/>
<rect x="310.83" y="56.9" width="0.72" height="6.15" fill="#111"/>
<rect x="311.36" y="56.9" width="0.72" height="6.15" fill="#111"/>
<rect x="311.9" y="56.9" width="0.72" height="8.33" fill="#111"/>
<rect x="312.43" y="56.9" width="0.72" height="1.55" fill="#111"/>
<rect x="312.96" y="50.08" width="0.72" height="6.82" fill="#111"/>
<rect x="313.49" y="52.02" width="0.72" height="4.88" fill="#111"/>
<rect x="314.02" y="51.55" width="0.72" height="5.35" fill="#111"/>
<rect x="314.56" y="56.9" width="0.72" height="13.09" fill="#111"/>
<rect x="315.09" y="56.9" width="0.72" height="12.1" fill="#111"/>
<rect x="315.62" y="44.19" width="0.72" height="12.71" fill="#111"/>
<rect x="316.15" y="48.8" width="0.72" height="8.1" fill="#111"/>
<rect x="316.68" y="39.11" width="0.72" height="17.79" fill="#111"/>
<rect x="317.22" y="46.81" width="0.72" height="10.09" fill="#111"/>
<rect x="317.75" y="56.9" width="0.72" height="7.68" fill="#111"/>
<rect x="318.28" y="46.14" width="0.72" height="10.76" fill="#111"/>
<rect x="318.81" y="51.35" width="0.72" height="5.55" fill="#111"/>
<rect x="319.34" y="54.62" width="0.72" height="2.28" fill="#111"/>
<rect x="319.88" y="56.9" width="0.72" height="5.97" fill="#111"/>
<rect x="320.41" y="56.26" width="0.72" height="0.64" fill="#111"/>
<rect x="320.94" y="56.9" width="0.72" height="0.54" fill="#111"/>
<rect x="321.47" y="49.07" width="0.72" height="7.83" fill="#111"/>
<rect x="322" y="55.21" width="0.72" height="1.69" fill="#111"/>
<rect x="322.54" y="43.43" width="0.72" height="13.47" fill="#111"/>
<rect x="323.07" y="56.9" width="0.72" height="5.5" fill="#111"/>
<rect x="323.6" y="52.34" width="0.72" height="4.56" fill="#111"/>
<rect x="324.13" y="52.09" width="0.72" height="4.81" fill="#111"/>
<rect x="324.66" y="56.9" width="0.72" height="6.17" fill="#111"/>
<rect x="325.2" y="56.9" width="0.72" height="8.72" fill="#111"/>
<rect x="325.73" y="47.83" width="0.72" height="9.07" fill="#111"/>
<rect x="326.26" y="51.82" width="0.72" height="5.08" fill="#111"/>
<rect x="326.79" y="56.9" width="0.72" height="0.41" fill="#111"/>
<rect x="327.32" y="52.77" width="0.72" height="4.13" fill="#111"/>
<rect x="327.86" y="56.9" width="0.72" height="4.54" fill="#111"/>
<rect x="328.39" y="53.98" width="0.72" height="2.92" fill="#111"/>
<rect x="328.92" y="56.9" width="0.72" height="3.93" fill="#111"/>
<rect x="329.45" y="41.71" width="0.72" height="15.19" fill="#111"/>
<rect x="329.98" y="47.8" width="0.72" height="9.1" fill="#111"/>
<rect x="330.52" y="56.9" width="0.72" height="1.71" fill="#111"/>
<rect x="331.05" y="48.86" width="0.72" height="8.04" fill="#111"/>
<rect x="331.58" y="56.9" width="0.72" height="7.37" fill="#111"/>
<rect x="332.11" y="56.9" width="0.72" height="1.24" fill="#111"/>
<rect x="332.64" y="56.9" width="0.72" height="10.06" fill="#111"/>
<rect x="333.18" y="56.56" width="0.72" height="0.34" fill="#111"/>
<rect x="333.71" y="55.06" width="0.72" height="1.84" fill="#111"/>
<rect x="334.24" y="56.9" width="0.72" height="0.42" fill="#111"/>
<rect x="334.77" y="56.9" width="0.72" height="0.98" fill="#111"/>
<rect x="335.3" y="44.59" width="0.72" height="12.31" fill="#111"/>
<rect x="335.84" y="43.87" width="0.72" height="13.03" fill="#111"/>
<rect x="336.37" y="56.9" width="0.72" height="8.77" fill="#111"/>
<rect x="336.9" y="45.88" width="0.72" height="11.02" fill="#111"/>
<rect x="337.43" y="56.9" width="0.72" height="12.96" fill="#111"/>
<rect x="337.96" y="56.9" width="0.72" height="4.76" fill="#111"/>
<rect x="338.5" y="56.9" width="0.72" height="0.3" fill="#111"/>
<rect x="339.03" y="54.6" width="0.72" height="2.3" fill="#111"/>
<rect x="339.56" y="56.9" width="0.72" height="7.33" fill="#111"/>
<rect x="340.09" y="56.9" width="0.72" height="4.62" fill="#111"/>
<rect x="340.62" y="54.84" width="0.72" height="2.06" fill="#111"/>
<rect x="341.16" y="56.9" width="0.72" height="4.35" fill="#111"/>
<rect x="341.69" y="56.9" width="0.72" height="3.91" fill="#111"/>
<rect x="342.22" y="49.86" width="0.72" height="7.04" fill="#111"/>
<rect x="342.75" y="47.62" width="0.72" height="9.28" fill="#111"/>
<rect x="343.28" y="55.91" width="0.72" height="0.99" fill="#111"/>
<rect x="343.82" y="55.24" width="0.72" height="1.66" fill="#111"/>
<rect x="344.35" y="55.54" width="0.72" height="1.36" fill="#111"/>
<rect x="344.88" y="56.9" width="0.72" height="2.29" fill="#111"/>
<rect x="345.41" y="56.9" width="0.72" height="2.76" fill="#111"/>
<rect x="345.94" y="56.9" width="0.72" height="7.19" fill="#111"/>
<rect x="346.48" y="49.86" width="0.72" height="7.04" fill="#111"/>
<rect x="347.01" y="56.03" width="0.72" height="0.87" fill="#111"/>
<rect x="347.54" y="56.47" width="0.72" height="0.43" fill="#111"/>
<rect x="348.07" y="53.6" width="0.72" height="3.3" fill="#111"/>
<rect x="348.6" y="50.79" width="0.72" height="6.11" fill="#111"/>
<rect x="349.14" y="43.23" width="0.72" height="13.67" fill="#111"/>
<rect x="349.67" y="56.9" width="0.72" height="0.69" fill="#111"/>
<rect x="350.2" y="56.9" width="0.72" height="1.77" fill="#111"/>
<rect x="350.73" y="53.54" width="0.72" height="3.36" fill="#111"/>
<rect x="351.26" y="56.9" width="0.72" height="5.54" fill="#111"/>
<rect x="351.8" y="44.39" width="0.72" height="12.51" fill="#111"/>
<rect x="352.33" y="47.32" width="0.72" height="9.58" fill="#111"/>
<rect x="352.86" y="49.29" width="0.72" height="7.61" fill="#111"/>
<rect x="353.39" y="56.23" width="0.72" height="0.67" fill="#111"/>
<rect x="353.92" y="48.88" width="0.72" height="8.02" fill="#111"/>
<rect x="354.46" y="46.2" width="0.72" height="10.7" fill="#111"/>
<rect x="354.99" y="50.91" width="0.72" height="5.99" fill="#111"/>
<rect x="355.52" y="56.9" width="0.72" height="0.69" fill="#111"/>
<rect x="356.05" y="56.9" width="0.72" height="12.77" fill="#111"/>
<rect x="356.58" y="47.04" width="0.72" height="9.86" fill="#111"/>
<rect x="357.12" y="56.9" width="0.72" height="1.32" fill="#111"/>
<rect x="357.65" y="56.9" width="0.72" height="5.54" fill="#111"/>
<rect x="358.18" y="47.49" width="0.72" height="9.41" fill="#111"/>
<rect x="358.71" y="52.25" width="0.72" height="4.65" fill="#111"/>
<rect x="359.24" y="56.9" width="0.72" height="10.53" fill="#111"/>
<rect x="359.78" y="56.02" width="0.72" height="0.88" fill="#111"/>
<rect x="360.31" y="56.9" width="0.72" height="0.6" fill="#111"/>
<rect x="360.84" y="46.56" width="0.72" height="10.34" fill="#111"/>
<rect x="361.37" y="56.9" width="0.72" height="14.71" fill="#111"/>
<rect x="361.9" y="56.9" width="0.72" height="1.61" fill="#111"/>
<rect x="362.44" y="56.37" width="0.72" height="0.53" fill="#111"/>
<rect x="362.97" y="42.81" width="0.72" height="14.09" fill="#111"/>
<rect x="363.5" y="56.9" width="0.72" height="7.71" fill="#111"/>
<rect x="364.03" y="56.9" width="0.72" height="18.45" fill="#111"/>
<rect x="364.56" y="56.9" width="0.72" height="10.36" fill="#111"/>
<rect x="365.1" y="52.88" width="0.72" height="4.02" fill="#111"/>
<rect x="365.63" y="48.09" width="0.72" height="8.81" fill="#111"/>
<rect x="366.16" y="40" width="0.72" height="16.9" fill="#111"/>
<rect x="366.69" y="51.67" width="0.72" height="5.23" fill="#111"/>
<rect x="367.22" y="56.9" width="0.72" height="5.33" fill="#111"/>
<rect x="367.76" y="47.43" width="0.72" height="9.47" fill="#111"/>
<rect x="368.29" y="55.3" width="0.72" height="1.6" fill="#111"/>
<rect x="368.82" y="56.9" width="0.72" height="0.3" fill="#111"/>
<rect x="369.35" y="55.06" width="0.72" height="1.84" fill="#111"/>
<rect x="369.88" y="56.9" width="0.72" height="23" fill="#111"/>
<rect x="370.42" y="56.9" width="0.72" height="6.28" fill="#111"/>
<rect x="370.95" y="56.9" width="0.72" height="7.38" fill="#111"/>
<rect x="371.48" y="55.83" width="0.72" height="1.07" fill="#111"/>
<rect x="372.01" y="55.84" width="0.72" height="1.06" fill="#111"/>
<rect x="372.54" y="56.9" width="0.72" height="5.58" fill="#111"/>
<rect x="373.08" y="56.9" width="0.72" height="6.17" fill="#111"/>
<rect x="373.61" y="51.92" width="0.72" height="4.98" fill="#111"/>
<rect x="374.14" y="43.39" width="0.72" height="13.51" fill="#111"/>
<rect x="374.67" y="48.95" width="0.72" height="7.95" fill="#111"/>
<rect x="375.2" y="49.21" width="0.72" height="7.69" fill="#111"/>
<rect x="375.74" y="44.21" width="0.72" height="12.69" fill="#111"/>
<rect x="376.27" y="56.9" width="0.72" height="16.19" fill="#111"/>
<rect x="376.8" y="56.9" width="0.72" height="11.93" fill="#111"/>
<rect x="377.33" y="56.9" width="0.72" height="4.76" fill="#111"/>
<rect x="377.86" y="32.6" width="0.72" height="24.3" fill="#111"/>
<rect x="378.4" y="56.9" width="0.72" height="7.34" fill="#111"/>
<rect x="378.93" y="54.77" width="0.72" height="2.13" fill="#111"/>
<rect x="379.46" y="56.9" width="0.72" height="10.03" fill="#111"/>
<rect x="379.99" y="56.9" width="0.72" height="2.5" fill="#111"/>
<rect x="380.52" y="56.9" width="0.72" height="16.91" fill="#111"/>
<rect x="381.06" y="56.9" width="0.72" height="7.32" fill="#111"/>
<rect x="381.59" y="43.34" width="0.72" height="13.56" fill="#111"/>
<rect x="382.12" y="56.9" width="0.72" height="3.48" fill="#111"/>
<rect x="382.65" y="52.57" width="0.72" height="4.33" fill="#111"/>
<rect x="383.18" y="49.11" width="0.72" height="7.79" fill="#111"/>
<rect x="383.72" y="56.9" width="0.72" height="3.07" fill="#111"/>
<rect x="384.25" y="50.3" width="0.72" height="6.6" fill="#111"/>
<rect x="384.78" y="56.9" width="0.72" height="27.99" fill="#111"/>
<rect x="385.31" y="49.25" width="0.72" height="7.65" fill="#111"/>
<rect x="385.84" y="56.9" width="0.72" height="4.47" fill="#111"/>
<rect x="386.38" y="56.9" width="0.72" height="11.8" fill="#111"/>
<rect x="386.91" y="56.9" width="0.72" height="8.03" fill="#111"/>
<rect x="387.44" y="56.9" width="0.72" height="3.81" fill="#111"/>
<rect x="387.97" y="50.79" width="0.72" height="6.11" fill="#111"/>
<rect x="388.5" y="56.9" width="0.72" height="0.66" fill="#111"/>
<rect x="389.04" y="56.9" width="0.72" height="2.45" fill="#111"/>
<rect x="389.57" y="56.9" width="0.72" height="0.47" fill="#111"/>
<rect x="390.1" y="45.69" width="0.72" height="11.21" fill="#111"/>
<rect x="390.63" y="56.9" width="0.72" height="4.14" fill="#111"/>
<rect x="391.16" y="41.94" width="0.72" height="14.96" fill="#111"/>
<rect x="391.7" y="56.9" width="0.72" height="10.18" fill="#111"/>
<rect x="392.23" y="56.9" width="0.72" height="4.37" fill="#111"/>
<rect x="392.76" y="48" width="0.72" height="8.9" fill="#111"/>
<rect x="393.29" y="51.12" width="0.72" height="5.78" fill="#111"/>
<rect x="393.82" y="56.9" width="0.72" height="6.88" fill="#111"/>
<rect x="394.36" y="56.9" width="0.72" height="0.3" fill="#111"/>
<rect x="394.89" y="56.9" width="0.72" height="5.59" fill="#111"/>
<rect x="395.42" y="48.11" width="0.72" height="8.79" fill="#111"/>
<rect x="395.95" y="51" width="0.72" height="5.9" fill="#111"/>
<rect x="396.48" y="56.9" width="0.72" height="5.71" fill="#111"/>
<rect x="397.02" y="52.36" width="0.72" height="4.54" fill="#111"/>
<rect x="397.55" y="56.9" width="0.72" height="2.57" fill="#111"/>
<rect x="398.08" y="56.75" width="0.72" height="0.3" fill="#111"/>
<rect x="398.61" y="55.51" width="0.72" height="1.39" fill="#111"/>
<rect x="399.14" y="37.59" width="0.72" height="19.31" fill="#111"/>
<rect x="399.68" y="52.21" width="0.72" height="4.69" fill="#111"/>
<rect x="400.21" y="51.9" width="0.72" height="5" fill="#111"/>
<rect x="400.74" y="52.24" width="0.72" height="4.66" fill="#111"/>
<rect x="401.27" y="45.93" width="0.72" height="10.97" fill="#111"/>
<rect x="401.8" y="56.9" width="0.72" height="1.9" fill="#111"/>
<rect x="402.34" y="56.9" width="0.72" height="13.25" fill="#111"/>
<rect x="402.87" y="56.9" width="0.72" height="35.37" fill="#111"/>
<rect x="403.4" y="54.46" width="0.72" height="2.44" fill="#111"/>
<rect x="403.93" y="56.16" width="0.72" height="0.74" fill="#111"/>
<rect x="404.46" y="50.96" width="0.72" height="5.94" fill="#111"/>
<rect x="405" y="28.91" width="0.72" height="27.99" fill="#111"/>
<rect x="405.53" y="56.9" width="0.72" height="0.65" fill="#111"/>
<rect x="406.06" y="56.9" width="0.72" height="0.61" fill="#111"/>
<rect x="406.59" y="33.03" width="0.72" height="23.87" fill="#111"/>
<rect x="407.12" y="46.78" width="0.72" height="10.12" fill="#111"/>
<rect x="407.66" y="56.9" width="0.72" height="2.14" fill="#111"/>
<rect x="408.19" y="56.9" width="0.72" height="9.91" fill="#111"/>
<rect x="408.72" y="56.9" width="0.72" height="10.24" fill="#111"/>
<rect x="409.25" y="37.37" width="0.72" height="19.53" fill="#111"/>
<rect x="409.78" y="41.93" width="0.72" height="14.97" fill="#111"/>
<rect x="410.32" y="49.36" width="0.72" height="7.54" fill="#111"/>
<rect x="410.85" y="56.9" width="0.72" height="15.88" fill="#111"/>
<rect x="411.38" y="56.9" width="0.72" height="1.01" fill="#111"/>
<rect x="411.91" y="56.9" width="0.72" height="17.36" fill="#111"/>
<rect x="412.44" y="50.83" width="0.72" height="6.07" fill="#111"/>
<rect x="412.98" y="53.55" width="0.72" height="3.35" fill="#111"/>
<rect x="413.51" y="56.9" width="0.72" height="6.05" fill="#111"/>
<rect x="414.04" y="52.94" width="0.72" height="3.96" fill="#111"/>
<line x1="308" y1="35.2" x2="414.4" y2="35.2" stroke="#ff5a5a" stroke-width="1.0"/>
<line x1="308" y1="78.6" x2="414.4" y2="78.6" stroke="#ff5a5a" stroke-width="1.0"/>
<rect x="308" y="13.5" width="106.4" height="86.8" fill="none" stroke="#6e6e6e" stroke-width="1"/>
<line x1="308" y1="100.3" x2="308" y2="99.1" stroke="#6e6e6e" stroke-width="0.6"/>
<line x1="308" y1="13.5" x2="308" y2="14.7" stroke="#6e6e6e" stroke-width="0.6"/>
<text x="308" y="108.3" font-size="5.6" text-anchor="middle" font-weight="bold" fill="#111">0</text>
<line x1="334.6" y1="100.3" x2="334.6" y2="99.1" stroke="#6e6e6e" stroke-width="0.6"/>
<line x1="334.6" y1="13.5" x2="334.6" y2="14.7" stroke="#6e6e6e" stroke-width="0.6"/>
<text x="334.6" y="108.3" font-size="5.6" text-anchor="middle" font-weight="bold" fill="#111">50</text>
<line x1="361.2" y1="100.3" x2="361.2" y2="99.1" stroke="#6e6e6e" stroke-width="0.6"/>
<line x1="361.2" y1="13.5" x2="361.2" y2="14.7" stroke="#6e6e6e" stroke-width="0.6"/>
<text x="361.2" y="108.3" font-size="5.6" text-anchor="middle" font-weight="bold" fill="#111">100</text>
<line x1="387.8" y1="100.3" x2="387.8" y2="99.1" stroke="#6e6e6e" stroke-width="0.6"/>
<line x1="387.8" y1="13.5" x2="387.8" y2="14.7" stroke="#6e6e6e" stroke-width="0.6"/>
<text x="387.8" y="108.3" font-size="5.6" text-anchor="middle" font-weight="bold" fill="#111">150</text>
<line x1="414.4" y1="100.3" x2="414.4" y2="99.1" stroke="#6e6e6e" stroke-width="0.6"/>
<line x1="414.4" y1="13.5" x2="414.4" y2="14.7" stroke="#6e6e6e" stroke-width="0.6"/>
<text x="414.4" y="108.3" font-size="5.6" text-anchor="middle" font-weight="bold" fill="#111">200</text>
<text x="306" y="15.46" font-size="5.6" text-anchor="end" font-weight="bold" fill="#111">20</text>
<text x="306" y="37.16" font-size="5.6" text-anchor="end" font-weight="bold" fill="#111">10</text>
<text x="306" y="58.86" font-size="5.6" text-anchor="end" font-weight="bold" fill="#111">0</text>
<text x="306" y="80.56" font-size="5.6" text-anchor="end" font-weight="bold" fill="#111">&#8722;10</text>
<text x="306" y="102.26" font-size="5.6" text-anchor="end" font-weight="bold" fill="#111">&#8722;20</text>
<text x="361.2" y="115.6" font-size="6.6" text-anchor="middle" font-weight="bold" fill="#111" textLength="55.2" lengthAdjust="spacingAndGlyphs">Calibration Sample</text>
<text transform="translate(294.8 55.8) rotate(-90)" font-size="6.3" text-anchor="middle" font-weight="bold" fill="#111" textLength="50.8" lengthAdjust="spacingAndGlyphs">Relative Error %</text>
<line x1="369" y1="19.5" x2="374" y2="19.5" stroke="#ff5a5a" stroke-width="1.0"/>
<line x1="369" y1="25" x2="374" y2="25" stroke="#000" stroke-width="1.0"/>
<text x="377.8" y="21.5" font-size="5.9" text-anchor="start" font-weight="bold" fill="#111" textLength="21.2" lengthAdjust="spacingAndGlyphs">RE=10%</text>
<text x="377.8" y="27" font-size="5.9" text-anchor="start" font-weight="bold" fill="#111" textLength="19.7" lengthAdjust="spacingAndGlyphs">Samples</text>
<text x="291" y="7.6" font-size="6.7" font-weight="bold" fill="#2a2a2a" style="stroke:none">(</text>
<text x="297.9" y="8.9" font-size="7.7" font-weight="bold" text-anchor="middle" fill="#111">C</text>
<text x="305.1" y="7.6" font-size="6.7" font-weight="bold" text-anchor="end" fill="#2a2a2a" style="stroke:none">)</text>
<line x1="307.4" y1="158.6" x2="413.6" y2="158.6" stroke="#e4e4e4" stroke-width="0.6"/>
<line x1="307.4" y1="172.1" x2="413.6" y2="172.1" stroke="#e4e4e4" stroke-width="0.6"/>
<line x1="307.4" y1="185.6" x2="413.6" y2="185.6" stroke="#e4e4e4" stroke-width="0.6"/>
<rect x="307.57" y="172.1" width="0.72" height="11.32" fill="#111"/>
<rect x="308.1" y="172.1" width="0.72" height="9.75" fill="#111"/>
<rect x="308.63" y="172.1" width="0.72" height="10.55" fill="#111"/>
<rect x="309.16" y="172.1" width="0.72" height="25.92" fill="#111"/>
<rect x="309.69" y="160.38" width="0.72" height="11.72" fill="#111"/>
<rect x="310.23" y="172.1" width="0.72" height="12.97" fill="#111"/>
<rect x="310.76" y="164.45" width="0.72" height="7.65" fill="#111"/>
<rect x="311.29" y="161.87" width="0.72" height="10.23" fill="#111"/>
<rect x="311.82" y="172.1" width="0.72" height="2.88" fill="#111"/>
<rect x="312.35" y="172.1" width="0.72" height="5.68" fill="#111"/>
<rect x="312.88" y="168.28" width="0.72" height="3.82" fill="#111"/>
<rect x="313.41" y="162.26" width="0.72" height="9.84" fill="#111"/>
<rect x="313.94" y="154.64" width="0.72" height="17.46" fill="#111"/>
<rect x="314.47" y="164.88" width="0.72" height="7.22" fill="#111"/>
<rect x="315" y="159.19" width="0.72" height="12.91" fill="#111"/>
<rect x="315.54" y="172.1" width="0.72" height="3.65" fill="#111"/>
<rect x="316.07" y="172.1" width="0.72" height="7.08" fill="#111"/>
<rect x="316.6" y="172.1" width="0.72" height="13.93" fill="#111"/>
<rect x="317.13" y="172.1" width="0.72" height="9.34" fill="#111"/>
<rect x="317.66" y="172.1" width="0.72" height="2.94" fill="#111"/>
<rect x="318.19" y="170.54" width="0.72" height="1.56" fill="#111"/>
<rect x="318.72" y="172.1" width="0.72" height="10.64" fill="#111"/>
<rect x="319.25" y="165.49" width="0.72" height="6.61" fill="#111"/>
<rect x="319.78" y="172.1" width="0.72" height="0.83" fill="#111"/>
<rect x="320.31" y="172.1" width="0.72" height="5.2" fill="#111"/>
<rect x="320.85" y="172.1" width="0.72" height="6.2" fill="#111"/>
<rect x="321.38" y="155.73" width="0.72" height="16.37" fill="#111"/>
<rect x="321.91" y="170.73" width="0.72" height="1.37" fill="#111"/>
<rect x="322.44" y="172.1" width="0.72" height="7.27" fill="#111"/>
<rect x="322.97" y="172.1" width="0.72" height="7.73" fill="#111"/>
<rect x="323.5" y="157.21" width="0.72" height="14.89" fill="#111"/>
<rect x="324.03" y="172.1" width="0.72" height="4.68" fill="#111"/>
<rect x="324.56" y="162.47" width="0.72" height="9.63" fill="#111"/>
<rect x="325.09" y="160.57" width="0.72" height="11.53" fill="#111"/>
<rect x="325.62" y="172.1" width="0.72" height="18.83" fill="#111"/>
<rect x="326.16" y="161.16" width="0.72" height="10.94" fill="#111"/>
<rect x="326.69" y="172.1" width="0.72" height="1.69" fill="#111"/>
<rect x="327.22" y="151.85" width="0.72" height="20.25" fill="#111"/>
<rect x="327.75" y="172.1" width="0.72" height="4.41" fill="#111"/>
<rect x="328.28" y="167.56" width="0.72" height="4.54" fill="#111"/>
<rect x="328.81" y="169.07" width="0.72" height="3.03" fill="#111"/>
<rect x="329.34" y="168.65" width="0.72" height="3.45" fill="#111"/>
<rect x="329.87" y="172.1" width="0.72" height="5.87" fill="#111"/>
<rect x="330.4" y="161.74" width="0.72" height="10.36" fill="#111"/>
<rect x="330.93" y="159.93" width="0.72" height="12.17" fill="#111"/>
<rect x="331.47" y="157.24" width="0.72" height="14.86" fill="#111"/>
<rect x="332" y="164" width="0.72" height="8.1" fill="#111"/>
<rect x="332.53" y="156.76" width="0.72" height="15.34" fill="#111"/>
<rect x="333.06" y="155.14" width="0.72" height="16.96" fill="#111"/>
<rect x="333.59" y="166.4" width="0.72" height="5.7" fill="#111"/>
<rect x="334.12" y="164.96" width="0.72" height="7.14" fill="#111"/>
<rect x="334.65" y="167.38" width="0.72" height="4.72" fill="#111"/>
<rect x="335.18" y="167.63" width="0.72" height="4.47" fill="#111"/>
<rect x="335.71" y="165.11" width="0.72" height="6.99" fill="#111"/>
<rect x="336.25" y="172.1" width="0.72" height="13.84" fill="#111"/>
<rect x="336.78" y="172.1" width="0.72" height="2.62" fill="#111"/>
<rect x="337.31" y="168.15" width="0.72" height="3.95" fill="#111"/>
<rect x="337.84" y="172.1" width="0.72" height="17.07" fill="#111"/>
<rect x="338.37" y="172.1" width="0.72" height="11.68" fill="#111"/>
<rect x="338.9" y="159.27" width="0.72" height="12.83" fill="#111"/>
<rect x="339.43" y="172.1" width="0.72" height="8.58" fill="#111"/>
<rect x="339.96" y="172.1" width="0.72" height="3.76" fill="#111"/>
<rect x="340.49" y="169.06" width="0.72" height="3.04" fill="#111"/>
<rect x="341.02" y="172.1" width="0.72" height="3.86" fill="#111"/>
<rect x="341.55" y="172.1" width="0.72" height="6.97" fill="#111"/>
<rect x="342.09" y="172.1" width="0.72" height="4.18" fill="#111"/>
<rect x="342.62" y="172.1" width="0.72" height="3.47" fill="#111"/>
<rect x="343.15" y="172.1" width="0.72" height="4.7" fill="#111"/>
<rect x="343.68" y="170.62" width="0.72" height="1.48" fill="#111"/>
<rect x="344.21" y="159.06" width="0.72" height="13.04" fill="#111"/>
<rect x="344.74" y="169.21" width="0.72" height="2.89" fill="#111"/>
<rect x="345.27" y="158.94" width="0.72" height="13.16" fill="#111"/>
<rect x="345.8" y="166.11" width="0.72" height="5.99" fill="#111"/>
<rect x="346.33" y="165.33" width="0.72" height="6.77" fill="#111"/>
<rect x="346.87" y="167.35" width="0.72" height="4.75" fill="#111"/>
<rect x="347.4" y="172.1" width="0.72" height="2.42" fill="#111"/>
<rect x="347.93" y="168.68" width="0.72" height="3.42" fill="#111"/>
<rect x="348.46" y="169.65" width="0.72" height="2.45" fill="#111"/>
<rect x="348.99" y="172.1" width="0.72" height="9.01" fill="#111"/>
<rect x="349.52" y="166.04" width="0.72" height="6.06" fill="#111"/>
<rect x="350.05" y="167.42" width="0.72" height="4.68" fill="#111"/>
<rect x="350.58" y="169.12" width="0.72" height="2.98" fill="#111"/>
<rect x="351.11" y="172.1" width="0.72" height="4.52" fill="#111"/>
<rect x="351.64" y="150.5" width="0.72" height="21.6" fill="#111"/>
<rect x="352.17" y="160.21" width="0.72" height="11.89" fill="#111"/>
<rect x="352.71" y="172.1" width="0.72" height="0.57" fill="#111"/>
<rect x="353.24" y="172.1" width="0.72" height="17.64" fill="#111"/>
<rect x="353.77" y="166.84" width="0.72" height="5.26" fill="#111"/>
<rect x="354.3" y="172.1" width="0.72" height="5.67" fill="#111"/>
<rect x="354.83" y="166.54" width="0.72" height="5.56" fill="#111"/>
<rect x="355.36" y="172.1" width="0.72" height="0.83" fill="#111"/>
<rect x="355.89" y="162.91" width="0.72" height="9.19" fill="#111"/>
<rect x="356.42" y="170.21" width="0.72" height="1.89" fill="#111"/>
<rect x="356.95" y="169.84" width="0.72" height="2.26" fill="#111"/>
<rect x="357.49" y="170.89" width="0.72" height="1.21" fill="#111"/>
<rect x="358.02" y="162.13" width="0.72" height="9.97" fill="#111"/>
<rect x="358.55" y="172.1" width="0.72" height="10.5" fill="#111"/>
<rect x="359.08" y="162.57" width="0.72" height="9.53" fill="#111"/>
<rect x="359.61" y="166.52" width="0.72" height="5.58" fill="#111"/>
<rect x="360.14" y="172.1" width="0.72" height="4.49" fill="#111"/>
<rect x="360.67" y="172.1" width="0.72" height="0.3" fill="#111"/>
<rect x="361.2" y="172.1" width="0.72" height="29.7" fill="#111"/>
<rect x="361.73" y="171.62" width="0.72" height="0.48" fill="#111"/>
<rect x="362.26" y="164.48" width="0.72" height="7.62" fill="#111"/>
<rect x="362.79" y="172.1" width="0.72" height="5.5" fill="#111"/>
<rect x="363.33" y="166.08" width="0.72" height="6.02" fill="#111"/>
<rect x="363.86" y="164.48" width="0.72" height="7.62" fill="#111"/>
<rect x="364.39" y="166.94" width="0.72" height="5.16" fill="#111"/>
<rect x="364.92" y="159.44" width="0.72" height="12.66" fill="#111"/>
<rect x="365.45" y="172.1" width="0.72" height="0.58" fill="#111"/>
<rect x="365.98" y="166.49" width="0.72" height="5.61" fill="#111"/>
<rect x="366.51" y="152.02" width="0.72" height="20.08" fill="#111"/>
<rect x="367.04" y="171.87" width="0.72" height="0.3" fill="#111"/>
<rect x="367.57" y="172.1" width="0.72" height="1.13" fill="#111"/>
<rect x="368.1" y="172.06" width="0.72" height="0.3" fill="#111"/>
<rect x="368.64" y="167.35" width="0.72" height="4.75" fill="#111"/>
<rect x="369.17" y="172.1" width="0.72" height="5.01" fill="#111"/>
<rect x="369.7" y="172.1" width="0.72" height="1.99" fill="#111"/>
<rect x="370.23" y="172.1" width="0.72" height="14.21" fill="#111"/>
<rect x="370.76" y="172.1" width="0.72" height="8.5" fill="#111"/>
<rect x="371.29" y="172.1" width="0.72" height="8.27" fill="#111"/>
<rect x="371.82" y="172.1" width="0.72" height="9.4" fill="#111"/>
<rect x="372.35" y="172.1" width="0.72" height="3.6" fill="#111"/>
<rect x="372.88" y="166.48" width="0.72" height="5.62" fill="#111"/>
<rect x="373.41" y="172.1" width="0.72" height="3.1" fill="#111"/>
<rect x="373.95" y="172.1" width="0.72" height="10.72" fill="#111"/>
<rect x="374.48" y="170.14" width="0.72" height="1.96" fill="#111"/>
<rect x="375.01" y="170.73" width="0.72" height="1.37" fill="#111"/>
<rect x="375.54" y="172.1" width="0.72" height="11.35" fill="#111"/>
<rect x="376.07" y="170.9" width="0.72" height="1.2" fill="#111"/>
<rect x="376.6" y="172.1" width="0.72" height="8.69" fill="#111"/>
<rect x="377.13" y="146.72" width="0.72" height="25.38" fill="#111"/>
<rect x="377.66" y="172.1" width="0.72" height="5.98" fill="#111"/>
<rect x="378.19" y="165.46" width="0.72" height="6.64" fill="#111"/>
<rect x="378.73" y="172.1" width="0.72" height="6.69" fill="#111"/>
<rect x="379.26" y="172.1" width="0.72" height="2.6" fill="#111"/>
<rect x="379.79" y="170.63" width="0.72" height="1.47" fill="#111"/>
<rect x="380.32" y="163.75" width="0.72" height="8.35" fill="#111"/>
<rect x="380.85" y="162.54" width="0.72" height="9.56" fill="#111"/>
<rect x="381.38" y="172.1" width="0.72" height="8.27" fill="#111"/>
<rect x="381.91" y="162.51" width="0.72" height="9.59" fill="#111"/>
<rect x="382.44" y="169.69" width="0.72" height="2.41" fill="#111"/>
<rect x="382.97" y="162.43" width="0.72" height="9.67" fill="#111"/>
<rect x="383.5" y="163.57" width="0.72" height="8.53" fill="#111"/>
<rect x="384.03" y="172.1" width="0.72" height="4.32" fill="#111"/>
<rect x="384.57" y="171.79" width="0.72" height="0.31" fill="#111"/>
<rect x="385.1" y="142.67" width="0.72" height="29.43" fill="#111"/>
<rect x="385.63" y="169.08" width="0.72" height="3.02" fill="#111"/>
<rect x="386.16" y="158.71" width="0.72" height="13.39" fill="#111"/>
<rect x="386.69" y="171.66" width="0.72" height="0.44" fill="#111"/>
<rect x="387.22" y="172.1" width="0.72" height="5.38" fill="#111"/>
<rect x="387.75" y="151.85" width="0.72" height="20.25" fill="#111"/>
<rect x="388.28" y="172.1" width="0.72" height="8.05" fill="#111"/>
<rect x="388.81" y="172.09" width="0.72" height="0.3" fill="#111"/>
<rect x="389.35" y="172.1" width="0.72" height="0.3" fill="#111"/>
<rect x="389.88" y="172.1" width="0.72" height="10.29" fill="#111"/>
<rect x="390.41" y="172.1" width="0.72" height="26.73" fill="#111"/>
<rect x="390.94" y="163.49" width="0.72" height="8.61" fill="#111"/>
<rect x="391.47" y="172.1" width="0.72" height="0.66" fill="#111"/>
<rect x="392" y="171.63" width="0.72" height="0.47" fill="#111"/>
<rect x="392.53" y="172.1" width="0.72" height="1.32" fill="#111"/>
<rect x="393.06" y="172.1" width="0.72" height="14.27" fill="#111"/>
<rect x="393.59" y="170.13" width="0.72" height="1.97" fill="#111"/>
<rect x="394.12" y="172.1" width="0.72" height="10.07" fill="#111"/>
<rect x="394.65" y="172.1" width="0.72" height="7.75" fill="#111"/>
<rect x="395.19" y="168.89" width="0.72" height="3.21" fill="#111"/>
<rect x="395.72" y="141.59" width="0.72" height="30.51" fill="#111"/>
<rect x="396.25" y="172.1" width="0.72" height="7.02" fill="#111"/>
<rect x="396.78" y="162.86" width="0.72" height="9.24" fill="#111"/>
<rect x="397.31" y="157.79" width="0.72" height="14.31" fill="#111"/>
<rect x="397.84" y="170.71" width="0.72" height="1.39" fill="#111"/>
<rect x="398.37" y="172.1" width="0.72" height="0.61" fill="#111"/>
<rect x="398.9" y="170.45" width="0.72" height="1.65" fill="#111"/>
<rect x="399.43" y="172.1" width="0.72" height="37.53" fill="#111"/>
<rect x="399.97" y="172.1" width="0.72" height="6.9" fill="#111"/>
<rect x="400.5" y="166.86" width="0.72" height="5.24" fill="#111"/>
<rect x="401.03" y="166.26" width="0.72" height="5.84" fill="#111"/>
<rect x="401.56" y="172.1" width="0.72" height="4.03" fill="#111"/>
<rect x="402.09" y="172.1" width="0.72" height="3.25" fill="#111"/>
<rect x="402.62" y="172.1" width="0.72" height="5.01" fill="#111"/>
<rect x="403.15" y="172.1" width="0.72" height="5.65" fill="#111"/>
<rect x="403.68" y="172.1" width="0.72" height="7.81" fill="#111"/>
<rect x="404.21" y="141.59" width="0.72" height="30.51" fill="#111"/>
<rect x="404.74" y="164.77" width="0.72" height="7.33" fill="#111"/>
<rect x="405.27" y="172.1" width="0.72" height="2.81" fill="#111"/>
<rect x="405.81" y="171.53" width="0.72" height="0.57" fill="#111"/>
<rect x="406.34" y="172.1" width="0.72" height="22.14" fill="#111"/>
<rect x="406.87" y="172.1" width="0.72" height="3.91" fill="#111"/>
<rect x="407.4" y="167.42" width="0.72" height="4.68" fill="#111"/>
<rect x="407.93" y="172.1" width="0.72" height="10.89" fill="#111"/>
<rect x="408.46" y="172.1" width="0.72" height="5.05" fill="#111"/>
<rect x="408.99" y="166.49" width="0.72" height="5.61" fill="#111"/>
<rect x="409.52" y="172.1" width="0.72" height="2.11" fill="#111"/>
<rect x="410.05" y="172.1" width="0.72" height="11.56" fill="#111"/>
<rect x="410.59" y="172.1" width="0.72" height="12.4" fill="#111"/>
<rect x="411.12" y="140.24" width="0.72" height="31.86" fill="#111"/>
<rect x="411.65" y="172.1" width="0.72" height="7.55" fill="#111"/>
<rect x="412.18" y="166.67" width="0.72" height="5.43" fill="#111"/>
<rect x="412.71" y="169.95" width="0.72" height="2.15" fill="#111"/>
<rect x="413.24" y="172.1" width="0.72" height="2.64" fill="#111"/>
<line x1="307.4" y1="145.1" x2="413.6" y2="145.1" stroke="#ff5a5a" stroke-width="1.0"/>
<line x1="307.4" y1="199.1" x2="413.6" y2="199.1" stroke="#ff5a5a" stroke-width="1.0"/>
<rect x="307.4" y="131.6" width="106.2" height="81" fill="none" stroke="#6e6e6e" stroke-width="1"/>
<line x1="307.4" y1="212.6" x2="307.4" y2="211.4" stroke="#6e6e6e" stroke-width="0.6"/>
<line x1="307.4" y1="131.6" x2="307.4" y2="132.8" stroke="#6e6e6e" stroke-width="0.6"/>
<text x="307.4" y="220.6" font-size="5.6" text-anchor="middle" font-weight="bold" fill="#111">0</text>
<line x1="333.95" y1="212.6" x2="333.95" y2="211.4" stroke="#6e6e6e" stroke-width="0.6"/>
<line x1="333.95" y1="131.6" x2="333.95" y2="132.8" stroke="#6e6e6e" stroke-width="0.6"/>
<text x="333.95" y="220.6" font-size="5.6" text-anchor="middle" font-weight="bold" fill="#111">50</text>
<line x1="360.5" y1="212.6" x2="360.5" y2="211.4" stroke="#6e6e6e" stroke-width="0.6"/>
<line x1="360.5" y1="131.6" x2="360.5" y2="132.8" stroke="#6e6e6e" stroke-width="0.6"/>
<text x="360.5" y="220.6" font-size="5.6" text-anchor="middle" font-weight="bold" fill="#111">100</text>
<line x1="387.05" y1="212.6" x2="387.05" y2="211.4" stroke="#6e6e6e" stroke-width="0.6"/>
<line x1="387.05" y1="131.6" x2="387.05" y2="132.8" stroke="#6e6e6e" stroke-width="0.6"/>
<text x="387.05" y="220.6" font-size="5.6" text-anchor="middle" font-weight="bold" fill="#111">150</text>
<line x1="413.6" y1="212.6" x2="413.6" y2="211.4" stroke="#6e6e6e" stroke-width="0.6"/>
<line x1="413.6" y1="131.6" x2="413.6" y2="132.8" stroke="#6e6e6e" stroke-width="0.6"/>
<text x="413.6" y="220.6" font-size="5.6" text-anchor="middle" font-weight="bold" fill="#111">200</text>
<text x="305.4" y="133.56" font-size="5.6" text-anchor="end" font-weight="bold" fill="#111">15</text>
<text x="305.4" y="147.06" font-size="5.6" text-anchor="end" font-weight="bold" fill="#111">10</text>
<text x="305.4" y="160.56" font-size="5.6" text-anchor="end" font-weight="bold" fill="#111">5</text>
<text x="305.4" y="174.06" font-size="5.6" text-anchor="end" font-weight="bold" fill="#111">0</text>
<text x="305.4" y="187.56" font-size="5.6" text-anchor="end" font-weight="bold" fill="#111">&#8722;5</text>
<text x="305.4" y="201.06" font-size="5.6" text-anchor="end" font-weight="bold" fill="#111">&#8722;10</text>
<text x="305.4" y="214.56" font-size="5.6" text-anchor="end" font-weight="bold" fill="#111">&#8722;15</text>
<text x="360.5" y="228.2" font-size="6.6" text-anchor="middle" font-weight="bold" fill="#111" textLength="53" lengthAdjust="spacingAndGlyphs">Calibration Sample</text>
<text transform="translate(293.5 174) rotate(-90)" font-size="6.3" text-anchor="middle" font-weight="bold" fill="#111" textLength="46" lengthAdjust="spacingAndGlyphs">Relative Error %</text>
<line x1="373" y1="136.5" x2="378.5" y2="136.5" stroke="#ff5a5a" stroke-width="1.0"/>
<line x1="373" y1="141.1" x2="378.5" y2="141.1" stroke="#000" stroke-width="1.0"/>
<text x="381.8" y="138.5" font-size="5.9" text-anchor="start" font-weight="bold" fill="#111" textLength="22.2" lengthAdjust="spacingAndGlyphs">RE=10%</text>
<text x="381.8" y="143.1" font-size="5.9" text-anchor="start" font-weight="bold" fill="#111" textLength="19.7" lengthAdjust="spacingAndGlyphs">Samples</text>
<text x="288.9" y="126.5" font-size="6.7" font-weight="bold" fill="#2a2a2a" style="stroke:none">(</text>
<text x="296.55" y="127.8" font-size="7.7" font-weight="bold" text-anchor="middle" fill="#111">G</text>
<text x="304.2" y="126.5" font-size="6.7" font-weight="bold" text-anchor="end" fill="#2a2a2a" style="stroke:none">)</text>
<line x1="307.5" y1="274.5" x2="411.6" y2="274.5" stroke="#e4e4e4" stroke-width="0.6"/>
<line x1="307.5" y1="288.45" x2="411.6" y2="288.45" stroke="#e4e4e4" stroke-width="0.6"/>
<line x1="307.5" y1="302.4" x2="411.6" y2="302.4" stroke="#e4e4e4" stroke-width="0.6"/>
<rect x="307.66" y="283.82" width="0.72" height="4.63" fill="#111"/>
<rect x="308.18" y="286.58" width="0.72" height="1.87" fill="#111"/>
<rect x="308.7" y="288.45" width="0.72" height="0.38" fill="#111"/>
<rect x="309.22" y="288.45" width="0.72" height="19.25" fill="#111"/>
<rect x="309.74" y="288.45" width="0.72" height="20.37" fill="#111"/>
<rect x="310.26" y="288.45" width="0.72" height="17.53" fill="#111"/>
<rect x="310.78" y="280.52" width="0.72" height="7.93" fill="#111"/>
<rect x="311.3" y="283.01" width="0.72" height="5.44" fill="#111"/>
<rect x="311.82" y="281.08" width="0.72" height="7.37" fill="#111"/>
<rect x="312.34" y="281.05" width="0.72" height="7.4" fill="#111"/>
<rect x="312.87" y="285.43" width="0.72" height="3.02" fill="#111"/>
<rect x="313.39" y="288.45" width="0.72" height="15.35" fill="#111"/>
<rect x="313.91" y="288.45" width="0.72" height="1.94" fill="#111"/>
<rect x="314.43" y="275.15" width="0.72" height="13.3" fill="#111"/>
<rect x="314.95" y="288.45" width="0.72" height="4.14" fill="#111"/>
<rect x="315.47" y="288.45" width="0.72" height="1.13" fill="#111"/>
<rect x="315.99" y="288.45" width="0.72" height="5.23" fill="#111"/>
<rect x="316.51" y="288.45" width="0.72" height="3.45" fill="#111"/>
<rect x="317.03" y="288.45" width="0.72" height="1.63" fill="#111"/>
<rect x="317.55" y="285.32" width="0.72" height="3.13" fill="#111"/>
<rect x="318.07" y="288.45" width="0.72" height="1.42" fill="#111"/>
<rect x="318.59" y="288.45" width="0.72" height="1.88" fill="#111"/>
<rect x="319.11" y="288.45" width="0.72" height="4.03" fill="#111"/>
<rect x="319.63" y="286.52" width="0.72" height="1.93" fill="#111"/>
<rect x="320.15" y="288.45" width="0.72" height="10.02" fill="#111"/>
<rect x="320.67" y="286.73" width="0.72" height="1.72" fill="#111"/>
<rect x="321.19" y="276.16" width="0.72" height="12.29" fill="#111"/>
<rect x="321.71" y="288.45" width="0.72" height="5.04" fill="#111"/>
<rect x="322.23" y="287.4" width="0.72" height="1.05" fill="#111"/>
<rect x="322.75" y="267.52" width="0.72" height="20.93" fill="#111"/>
<rect x="323.28" y="288.45" width="0.72" height="6.79" fill="#111"/>
<rect x="323.8" y="288.45" width="0.72" height="12" fill="#111"/>
<rect x="324.32" y="288.45" width="0.72" height="1.96" fill="#111"/>
<rect x="324.84" y="271.67" width="0.72" height="16.78" fill="#111"/>
<rect x="325.36" y="269.71" width="0.72" height="18.74" fill="#111"/>
<rect x="325.88" y="288.45" width="0.72" height="8.43" fill="#111"/>
<rect x="326.4" y="281.88" width="0.72" height="6.57" fill="#111"/>
<rect x="326.92" y="286.57" width="0.72" height="1.88" fill="#111"/>
<rect x="327.44" y="288.45" width="0.72" height="3.04" fill="#111"/>
<rect x="327.96" y="288.45" width="0.72" height="14.36" fill="#111"/>
<rect x="328.48" y="277.91" width="0.72" height="10.54" fill="#111"/>
<rect x="329" y="288.45" width="0.72" height="5.19" fill="#111"/>
<rect x="329.52" y="283.9" width="0.72" height="4.55" fill="#111"/>
<rect x="330.04" y="285.67" width="0.72" height="2.78" fill="#111"/>
<rect x="330.56" y="270.66" width="0.72" height="17.79" fill="#111"/>
<rect x="331.08" y="276.43" width="0.72" height="12.02" fill="#111"/>
<rect x="331.6" y="288.45" width="0.72" height="7.46" fill="#111"/>
<rect x="332.12" y="288.39" width="0.72" height="0.3" fill="#111"/>
<rect x="332.64" y="277.48" width="0.72" height="10.97" fill="#111"/>
<rect x="333.16" y="288.45" width="0.72" height="8.83" fill="#111"/>
<rect x="333.69" y="288.45" width="0.72" height="0.92" fill="#111"/>
<rect x="334.21" y="284.14" width="0.72" height="4.31" fill="#111"/>
<rect x="334.73" y="288.45" width="0.72" height="11.08" fill="#111"/>
<rect x="335.25" y="288.45" width="0.72" height="7.86" fill="#111"/>
<rect x="335.77" y="288.45" width="0.72" height="11.75" fill="#111"/>
<rect x="336.29" y="283.5" width="0.72" height="4.95" fill="#111"/>
<rect x="336.81" y="288.45" width="0.72" height="2.12" fill="#111"/>
<rect x="337.33" y="278.06" width="0.72" height="10.39" fill="#111"/>
<rect x="337.85" y="284.85" width="0.72" height="3.6" fill="#111"/>
<rect x="338.37" y="280.98" width="0.72" height="7.47" fill="#111"/>
<rect x="338.89" y="286.44" width="0.72" height="2.01" fill="#111"/>
<rect x="339.41" y="279.42" width="0.72" height="9.03" fill="#111"/>
<rect x="339.93" y="286.55" width="0.72" height="1.9" fill="#111"/>
<rect x="340.45" y="288.45" width="0.72" height="5.42" fill="#111"/>
<rect x="340.97" y="275.72" width="0.72" height="12.73" fill="#111"/>
<rect x="341.49" y="277.39" width="0.72" height="11.06" fill="#111"/>
<rect x="342.01" y="267.52" width="0.72" height="20.93" fill="#111"/>
<rect x="342.53" y="286.73" width="0.72" height="1.72" fill="#111"/>
<rect x="343.05" y="288.45" width="0.72" height="1.92" fill="#111"/>
<rect x="343.57" y="288.45" width="0.72" height="9.15" fill="#111"/>
<rect x="344.1" y="288.45" width="0.72" height="20.93" fill="#111"/>
<rect x="344.62" y="288.45" width="0.72" height="7.94" fill="#111"/>
<rect x="345.14" y="281.35" width="0.72" height="7.1" fill="#111"/>
<rect x="345.66" y="288.45" width="0.72" height="4.36" fill="#111"/>
<rect x="346.18" y="288.45" width="0.72" height="18.65" fill="#111"/>
<rect x="346.7" y="280.27" width="0.72" height="8.18" fill="#111"/>
<rect x="347.22" y="288.45" width="0.72" height="1.84" fill="#111"/>
<rect x="347.74" y="288.34" width="0.72" height="0.3" fill="#111"/>
<rect x="348.26" y="288.45" width="0.72" height="0.46" fill="#111"/>
<rect x="348.78" y="286.41" width="0.72" height="2.04" fill="#111"/>
<rect x="349.3" y="281.29" width="0.72" height="7.16" fill="#111"/>
<rect x="349.82" y="288.45" width="0.72" height="11.32" fill="#111"/>
<rect x="350.34" y="287.14" width="0.72" height="1.31" fill="#111"/>
<rect x="350.86" y="288.45" width="0.72" height="1.03" fill="#111"/>
<rect x="351.38" y="275.69" width="0.72" height="12.76" fill="#111"/>
<rect x="351.9" y="288.45" width="0.72" height="5.41" fill="#111"/>
<rect x="352.42" y="271.48" width="0.72" height="16.97" fill="#111"/>
<rect x="352.94" y="280.08" width="0.72" height="8.37" fill="#111"/>
<rect x="353.46" y="271.56" width="0.72" height="16.89" fill="#111"/>
<rect x="353.99" y="288.45" width="0.72" height="2.6" fill="#111"/>
<rect x="354.51" y="278.4" width="0.72" height="10.05" fill="#111"/>
<rect x="355.03" y="268.08" width="0.72" height="20.37" fill="#111"/>
<rect x="355.55" y="288.45" width="0.72" height="9.21" fill="#111"/>
<rect x="356.07" y="287.31" width="0.72" height="1.14" fill="#111"/>
<rect x="356.59" y="288.45" width="0.72" height="0.46" fill="#111"/>
<rect x="357.11" y="288.45" width="0.72" height="4.75" fill="#111"/>
<rect x="357.63" y="288.45" width="0.72" height="3.09" fill="#111"/>
<rect x="358.15" y="288.45" width="0.72" height="8.71" fill="#111"/>
<rect x="358.67" y="288.45" width="0.72" height="0.56" fill="#111"/>
<rect x="359.19" y="282.31" width="0.72" height="6.14" fill="#111"/>
<rect x="359.71" y="288.45" width="0.72" height="3.17" fill="#111"/>
<rect x="360.23" y="288.45" width="0.72" height="9.74" fill="#111"/>
<rect x="360.75" y="276.35" width="0.72" height="12.1" fill="#111"/>
<rect x="361.27" y="288.21" width="0.72" height="0.3" fill="#111"/>
<rect x="361.79" y="284.88" width="0.72" height="3.57" fill="#111"/>
<rect x="362.31" y="287.07" width="0.72" height="1.38" fill="#111"/>
<rect x="362.83" y="288.45" width="0.72" height="1.19" fill="#111"/>
<rect x="363.35" y="280.09" width="0.72" height="8.36" fill="#111"/>
<rect x="363.87" y="288.45" width="0.72" height="1.11" fill="#111"/>
<rect x="364.39" y="284.89" width="0.72" height="3.56" fill="#111"/>
<rect x="364.92" y="288.45" width="0.72" height="8.79" fill="#111"/>
<rect x="365.44" y="288.45" width="0.72" height="10.42" fill="#111"/>
<rect x="365.96" y="288.42" width="0.72" height="0.3" fill="#111"/>
<rect x="366.48" y="269.18" width="0.72" height="19.27" fill="#111"/>
<rect x="367" y="283.67" width="0.72" height="4.78" fill="#111"/>
<rect x="367.52" y="269.01" width="0.72" height="19.44" fill="#111"/>
<rect x="368.04" y="281.42" width="0.72" height="7.03" fill="#111"/>
<rect x="368.56" y="281.43" width="0.72" height="7.02" fill="#111"/>
<rect x="369.08" y="288.45" width="0.72" height="1.67" fill="#111"/>
<rect x="369.6" y="285.44" width="0.72" height="3.01" fill="#111"/>
<rect x="370.12" y="270.27" width="0.72" height="18.18" fill="#111"/>
<rect x="370.64" y="275.36" width="0.72" height="13.09" fill="#111"/>
<rect x="371.16" y="288.45" width="0.72" height="2.09" fill="#111"/>
<rect x="371.68" y="288.45" width="0.72" height="0.8" fill="#111"/>
<rect x="372.2" y="274.14" width="0.72" height="14.31" fill="#111"/>
<rect x="372.72" y="288.45" width="0.72" height="1.22" fill="#111"/>
<rect x="373.24" y="277.68" width="0.72" height="10.77" fill="#111"/>
<rect x="373.76" y="288.45" width="0.72" height="4.56" fill="#111"/>
<rect x="374.28" y="280.16" width="0.72" height="8.29" fill="#111"/>
<rect x="374.81" y="272.67" width="0.72" height="15.78" fill="#111"/>
<rect x="375.33" y="278.48" width="0.72" height="9.97" fill="#111"/>
<rect x="375.85" y="283.45" width="0.72" height="5" fill="#111"/>
<rect x="376.37" y="284.34" width="0.72" height="4.11" fill="#111"/>
<rect x="376.89" y="248" width="0.72" height="40.45" fill="#111"/>
<rect x="377.41" y="285.76" width="0.72" height="2.69" fill="#111"/>
<rect x="377.93" y="275.73" width="0.72" height="12.72" fill="#111"/>
<rect x="378.45" y="275.97" width="0.72" height="12.48" fill="#111"/>
<rect x="378.97" y="282.24" width="0.72" height="6.21" fill="#111"/>
<rect x="379.49" y="288.45" width="0.72" height="7.77" fill="#111"/>
<rect x="380.01" y="288.45" width="0.72" height="1.62" fill="#111"/>
<rect x="380.53" y="283.25" width="0.72" height="5.2" fill="#111"/>
<rect x="381.05" y="285.34" width="0.72" height="3.11" fill="#111"/>
<rect x="381.57" y="288.45" width="0.72" height="8.68" fill="#111"/>
<rect x="382.09" y="280.28" width="0.72" height="8.17" fill="#111"/>
<rect x="382.61" y="267.52" width="0.72" height="20.93" fill="#111"/>
<rect x="383.13" y="288.45" width="0.72" height="7.72" fill="#111"/>
<rect x="383.65" y="285.4" width="0.72" height="3.05" fill="#111"/>
<rect x="384.17" y="272.42" width="0.72" height="16.03" fill="#111"/>
<rect x="384.69" y="288.45" width="0.72" height="1.05" fill="#111"/>
<rect x="385.22" y="288.45" width="0.72" height="1.01" fill="#111"/>
<rect x="385.74" y="284.66" width="0.72" height="3.79" fill="#111"/>
<rect x="386.26" y="281.37" width="0.72" height="7.08" fill="#111"/>
<rect x="386.78" y="288.45" width="0.72" height="1.15" fill="#111"/>
<rect x="387.3" y="278" width="0.72" height="10.45" fill="#111"/>
<rect x="387.82" y="288.45" width="0.72" height="13.73" fill="#111"/>
<rect x="388.34" y="280.79" width="0.72" height="7.66" fill="#111"/>
<rect x="388.86" y="283.23" width="0.72" height="5.22" fill="#111"/>
<rect x="389.38" y="287.69" width="0.72" height="0.76" fill="#111"/>
<rect x="389.9" y="283.16" width="0.72" height="5.29" fill="#111"/>
<rect x="390.42" y="286.04" width="0.72" height="2.41" fill="#111"/>
<rect x="390.94" y="275.35" width="0.72" height="13.1" fill="#111"/>
<rect x="391.46" y="288.45" width="0.72" height="1.94" fill="#111"/>
<rect x="391.98" y="286.91" width="0.72" height="1.54" fill="#111"/>
<rect x="392.5" y="288.45" width="0.72" height="9.78" fill="#111"/>
<rect x="393.02" y="288.45" width="0.72" height="7.62" fill="#111"/>
<rect x="393.54" y="288.45" width="0.72" height="0.3" fill="#111"/>
<rect x="394.06" y="288.45" width="0.72" height="11.32" fill="#111"/>
<rect x="394.58" y="288.45" width="0.72" height="5.43" fill="#111"/>
<rect x="395.1" y="270.59" width="0.72" height="17.86" fill="#111"/>
<rect x="395.62" y="288.45" width="0.72" height="2.56" fill="#111"/>
<rect x="396.15" y="285.95" width="0.72" height="2.5" fill="#111"/>
<rect x="396.67" y="279.08" width="0.72" height="9.37" fill="#111"/>
<rect x="397.19" y="288.45" width="0.72" height="14.82" fill="#111"/>
<rect x="397.71" y="288.45" width="0.72" height="0.3" fill="#111"/>
<rect x="398.23" y="279.87" width="0.72" height="8.58" fill="#111"/>
<rect x="398.75" y="275.62" width="0.72" height="12.83" fill="#111"/>
<rect x="399.27" y="275.45" width="0.72" height="13" fill="#111"/>
<rect x="399.79" y="288.45" width="0.72" height="10.82" fill="#111"/>
<rect x="400.31" y="288.45" width="0.72" height="30.69" fill="#111"/>
<rect x="400.83" y="282.64" width="0.72" height="5.81" fill="#111"/>
<rect x="401.35" y="279.56" width="0.72" height="8.89" fill="#111"/>
<rect x="401.87" y="285.11" width="0.72" height="3.34" fill="#111"/>
<rect x="402.39" y="285.29" width="0.72" height="3.16" fill="#111"/>
<rect x="402.91" y="285.55" width="0.72" height="2.9" fill="#111"/>
<rect x="403.43" y="288.45" width="0.72" height="5.59" fill="#111"/>
<rect x="403.95" y="286.32" width="0.72" height="2.13" fill="#111"/>
<rect x="404.47" y="280.92" width="0.72" height="7.53" fill="#111"/>
<rect x="404.99" y="288.45" width="0.72" height="2.16" fill="#111"/>
<rect x="405.51" y="278.01" width="0.72" height="10.44" fill="#111"/>
<rect x="406.03" y="288.45" width="0.72" height="20.93" fill="#111"/>
<rect x="406.56" y="288.45" width="0.72" height="2.21" fill="#111"/>
<rect x="407.08" y="273.75" width="0.72" height="14.7" fill="#111"/>
<rect x="407.6" y="280.72" width="0.72" height="7.73" fill="#111"/>
<rect x="408.12" y="275.99" width="0.72" height="12.46" fill="#111"/>
<rect x="408.64" y="286.91" width="0.72" height="1.54" fill="#111"/>
<rect x="409.16" y="288.45" width="0.72" height="9.63" fill="#111"/>
<rect x="409.68" y="288.45" width="0.72" height="4.06" fill="#111"/>
<rect x="410.2" y="275.55" width="0.72" height="12.9" fill="#111"/>
<rect x="410.72" y="288.45" width="0.72" height="15.27" fill="#111"/>
<rect x="411.24" y="288.45" width="0.72" height="7.93" fill="#111"/>
<line x1="307.5" y1="260.55" x2="411.6" y2="260.55" stroke="#ff5a5a" stroke-width="1.0"/>
<line x1="307.5" y1="316.35" x2="411.6" y2="316.35" stroke="#ff5a5a" stroke-width="1.0"/>
<rect x="307.5" y="246.6" width="104.1" height="83.7" fill="none" stroke="#6e6e6e" stroke-width="1"/>
<line x1="307.5" y1="330.3" x2="307.5" y2="329.1" stroke="#6e6e6e" stroke-width="0.6"/>
<line x1="307.5" y1="246.6" x2="307.5" y2="247.8" stroke="#6e6e6e" stroke-width="0.6"/>
<text x="307.5" y="338.3" font-size="5.6" text-anchor="middle" font-weight="bold" fill="#111">0</text>
<line x1="333.52" y1="330.3" x2="333.52" y2="329.1" stroke="#6e6e6e" stroke-width="0.6"/>
<line x1="333.52" y1="246.6" x2="333.52" y2="247.8" stroke="#6e6e6e" stroke-width="0.6"/>
<text x="333.52" y="338.3" font-size="5.6" text-anchor="middle" font-weight="bold" fill="#111">50</text>
<line x1="359.55" y1="330.3" x2="359.55" y2="329.1" stroke="#6e6e6e" stroke-width="0.6"/>
<line x1="359.55" y1="246.6" x2="359.55" y2="247.8" stroke="#6e6e6e" stroke-width="0.6"/>
<text x="359.55" y="338.3" font-size="5.6" text-anchor="middle" font-weight="bold" fill="#111">100</text>
<line x1="385.58" y1="330.3" x2="385.58" y2="329.1" stroke="#6e6e6e" stroke-width="0.6"/>
<line x1="385.58" y1="246.6" x2="385.58" y2="247.8" stroke="#6e6e6e" stroke-width="0.6"/>
<text x="385.58" y="338.3" font-size="5.6" text-anchor="middle" font-weight="bold" fill="#111">150</text>
<line x1="411.6" y1="330.3" x2="411.6" y2="329.1" stroke="#6e6e6e" stroke-width="0.6"/>
<line x1="411.6" y1="246.6" x2="411.6" y2="247.8" stroke="#6e6e6e" stroke-width="0.6"/>
<text x="411.6" y="338.3" font-size="5.6" text-anchor="middle" font-weight="bold" fill="#111">200</text>
<text x="305.5" y="248.56" font-size="5.6" text-anchor="end" font-weight="bold" fill="#111">15</text>
<text x="305.5" y="262.51" font-size="5.6" text-anchor="end" font-weight="bold" fill="#111">10</text>
<text x="305.5" y="276.46" font-size="5.6" text-anchor="end" font-weight="bold" fill="#111">5</text>
<text x="305.5" y="290.41" font-size="5.6" text-anchor="end" font-weight="bold" fill="#111">0</text>
<text x="305.5" y="304.36" font-size="5.6" text-anchor="end" font-weight="bold" fill="#111">&#8722;5</text>
<text x="305.5" y="318.31" font-size="5.6" text-anchor="end" font-weight="bold" fill="#111">&#8722;10</text>
<text x="305.5" y="332.26" font-size="5.6" text-anchor="end" font-weight="bold" fill="#111">&#8722;15</text>
<text x="359.55" y="345.6" font-size="6.6" text-anchor="middle" font-weight="bold" fill="#111" textLength="53" lengthAdjust="spacingAndGlyphs">Calibration Sample</text>
<text transform="translate(293.9 288) rotate(-90)" font-size="6.3" text-anchor="middle" font-weight="bold" fill="#111" textLength="48" lengthAdjust="spacingAndGlyphs">Relative Error %</text>
<line x1="379.5" y1="250.5" x2="384.5" y2="250.5" stroke="#ff5a5a" stroke-width="1.0"/>
<line x1="379.5" y1="255.5" x2="384.5" y2="255.5" stroke="#000" stroke-width="1.0"/>
<text x="385.8" y="252.5" font-size="5.9" text-anchor="start" font-weight="bold" fill="#111" textLength="21.2" lengthAdjust="spacingAndGlyphs">RE=10%</text>
<text x="385.8" y="257.5" font-size="5.9" text-anchor="start" font-weight="bold" fill="#111" textLength="19.7" lengthAdjust="spacingAndGlyphs">Samples</text>
<text x="295.8" y="238.5" font-size="6.7" font-weight="bold" fill="#2a2a2a" style="stroke:none">(</text>
<text x="303.3" y="239.8" font-size="7.7" font-weight="bold" text-anchor="middle" fill="#111">K</text>
<text x="311.1" y="238.5" font-size="6.7" font-weight="bold" text-anchor="end" fill="#2a2a2a" style="stroke:none">)</text>
<rect x="443.58" y="57.5" width="1.3" height="32.32" fill="#1c1cb0"/>
<rect x="445.21" y="56.96" width="1.3" height="0.54" fill="#1c1cb0"/>
<rect x="446.84" y="52.11" width="1.3" height="5.39" fill="#1c1cb0"/>
<rect x="448.47" y="54.27" width="1.3" height="3.23" fill="#1c1cb0"/>
<rect x="450.09" y="57.5" width="1.3" height="17.24" fill="#1c1cb0"/>
<rect x="451.72" y="57.5" width="1.3" height="14.01" fill="#1c1cb0"/>
<rect x="453.35" y="52.11" width="1.3" height="5.39" fill="#1c1cb0"/>
<rect x="454.98" y="57.5" width="1.3" height="5.71" fill="#1c1cb0"/>
<rect x="456.61" y="57.5" width="1.3" height="4.85" fill="#1c1cb0"/>
<rect x="458.24" y="43.82" width="1.3" height="13.68" fill="#1c1cb0"/>
<rect x="459.87" y="50.28" width="1.3" height="7.22" fill="#1c1cb0"/>
<rect x="461.5" y="54.27" width="1.3" height="3.23" fill="#1c1cb0"/>
<rect x="463.13" y="54.05" width="1.3" height="3.45" fill="#1c1cb0"/>
<rect x="464.76" y="57.5" width="1.3" height="5.71" fill="#1c1cb0"/>
<rect x="466.39" y="57.5" width="1.3" height="8.19" fill="#1c1cb0"/>
<rect x="468.02" y="57.5" width="1.3" height="26.29" fill="#1c1cb0"/>
<rect x="469.65" y="57.5" width="1.3" height="9.91" fill="#1c1cb0"/>
<rect x="471.27" y="57.5" width="1.3" height="11.64" fill="#1c1cb0"/>
<rect x="472.9" y="57.5" width="1.3" height="15.95" fill="#1c1cb0"/>
<rect x="474.53" y="55.13" width="1.3" height="2.37" fill="#1c1cb0"/>
<rect x="476.16" y="51.14" width="1.3" height="6.36" fill="#1c1cb0"/>
<rect x="477.79" y="57.5" width="1.3" height="1.08" fill="#1c1cb0"/>
<rect x="479.42" y="57.5" width="1.3" height="2.69" fill="#1c1cb0"/>
<rect x="481.05" y="57.5" width="1.3" height="4.85" fill="#1c1cb0"/>
<rect x="482.68" y="57.5" width="1.3" height="9.91" fill="#1c1cb0"/>
<rect x="484.31" y="55.13" width="1.3" height="2.37" fill="#1c1cb0"/>
<rect x="485.94" y="57.5" width="1.3" height="5.71" fill="#1c1cb0"/>
<rect x="487.57" y="57.5" width="1.3" height="3.12" fill="#1c1cb0"/>
<rect x="489.2" y="52.87" width="1.3" height="4.63" fill="#1c1cb0"/>
<rect x="490.83" y="52.87" width="1.3" height="4.63" fill="#1c1cb0"/>
<rect x="492.45" y="40.91" width="1.3" height="16.59" fill="#1c1cb0"/>
<rect x="494.08" y="57.5" width="1.3" height="1.08" fill="#1c1cb0"/>
<rect x="495.71" y="57.5" width="1.3" height="5.39" fill="#1c1cb0"/>
<rect x="497.34" y="57.5" width="1.3" height="28.02" fill="#1c1cb0"/>
<rect x="498.97" y="57.5" width="1.3" height="28.02" fill="#1c1cb0"/>
<rect x="500.6" y="57.5" width="1.3" height="12.39" fill="#1c1cb0"/>
<rect x="502.23" y="53.84" width="1.3" height="3.66" fill="#1c1cb0"/>
<rect x="503.86" y="57.5" width="1.3" height="6.68" fill="#1c1cb0"/>
<rect x="505.49" y="55.02" width="1.3" height="2.48" fill="#1c1cb0"/>
<rect x="507.12" y="55.02" width="1.3" height="2.48" fill="#1c1cb0"/>
<rect x="508.75" y="19.79" width="1.3" height="37.71" fill="#1c1cb0"/>
<rect x="510.38" y="49.31" width="1.3" height="8.19" fill="#1c1cb0"/>
<rect x="512.01" y="57.5" width="1.3" height="6.68" fill="#1c1cb0"/>
<rect x="513.63" y="57.5" width="1.3" height="6.68" fill="#1c1cb0"/>
<rect x="515.26" y="57.5" width="1.3" height="6.47" fill="#1c1cb0"/>
<rect x="516.89" y="57.5" width="1.3" height="8.94" fill="#1c1cb0"/>
<rect x="518.52" y="57.5" width="1.3" height="9.05" fill="#1c1cb0"/>
<rect x="520.15" y="53.73" width="1.3" height="3.77" fill="#1c1cb0"/>
<rect x="521.78" y="57.5" width="1.3" height="9.91" fill="#1c1cb0"/>
<rect x="523.41" y="57.5" width="1.3" height="13.36" fill="#1c1cb0"/>
<rect x="525.04" y="57.5" width="1.3" height="3.12" fill="#1c1cb0"/>
<rect x="526.67" y="47.8" width="1.3" height="9.7" fill="#1c1cb0"/>
<rect x="528.3" y="57.5" width="1.3" height="2.16" fill="#1c1cb0"/>
<rect x="529.93" y="57.5" width="1.3" height="11.64" fill="#1c1cb0"/>
<rect x="531.56" y="57.5" width="1.3" height="10.78" fill="#1c1cb0"/>
<rect x="533.19" y="55.13" width="1.3" height="2.37" fill="#1c1cb0"/>
<rect x="534.81" y="54.05" width="1.3" height="3.45" fill="#1c1cb0"/>
<rect x="536.44" y="48.56" width="1.3" height="8.94" fill="#1c1cb0"/>
<rect x="538.07" y="52" width="1.3" height="5.5" fill="#1c1cb0"/>
<rect x="539.7" y="57.5" width="1.3" height="15.08" fill="#1c1cb0"/>
<rect x="541.33" y="56.42" width="1.3" height="1.08" fill="#1c1cb0"/>
<rect x="542.96" y="57.5" width="1.3" height="4.85" fill="#1c1cb0"/>
<rect x="544.59" y="57.5" width="1.3" height="23.7" fill="#1c1cb0"/>
<rect x="546.22" y="56.96" width="1.3" height="0.54" fill="#1c1cb0"/>
<rect x="547.85" y="56.96" width="1.3" height="0.54" fill="#1c1cb0"/>
<line x1="442.6" y1="35.95" x2="548.5" y2="35.95" stroke="#ff5a5a" stroke-width="1.0"/>
<line x1="442.6" y1="79.05" x2="548.5" y2="79.05" stroke="#ff5a5a" stroke-width="1.0"/>
<rect x="442.6" y="14.4" width="105.9" height="86.2" fill="none" stroke="#6e6e6e" stroke-width="1"/>
<line x1="442.6" y1="100.6" x2="442.6" y2="99.4" stroke="#6e6e6e" stroke-width="0.6"/>
<line x1="442.6" y1="14.4" x2="442.6" y2="15.6" stroke="#6e6e6e" stroke-width="0.6"/>
<text x="442.6" y="108.6" font-size="5.6" text-anchor="middle" font-weight="bold" fill="#111">0</text>
<line x1="475.18" y1="100.6" x2="475.18" y2="99.4" stroke="#6e6e6e" stroke-width="0.6"/>
<line x1="475.18" y1="14.4" x2="475.18" y2="15.6" stroke="#6e6e6e" stroke-width="0.6"/>
<text x="475.18" y="108.6" font-size="5.6" text-anchor="middle" font-weight="bold" fill="#111">20</text>
<line x1="507.77" y1="100.6" x2="507.77" y2="99.4" stroke="#6e6e6e" stroke-width="0.6"/>
<line x1="507.77" y1="14.4" x2="507.77" y2="15.6" stroke="#6e6e6e" stroke-width="0.6"/>
<text x="507.77" y="108.6" font-size="5.6" text-anchor="middle" font-weight="bold" fill="#111">40</text>
<line x1="540.35" y1="100.6" x2="540.35" y2="99.4" stroke="#6e6e6e" stroke-width="0.6"/>
<line x1="540.35" y1="14.4" x2="540.35" y2="15.6" stroke="#6e6e6e" stroke-width="0.6"/>
<text x="540.35" y="108.6" font-size="5.6" text-anchor="middle" font-weight="bold" fill="#111">60</text>
<text x="440.6" y="16.36" font-size="5.6" text-anchor="end" font-weight="bold" fill="#111">40</text>
<text x="440.6" y="37.91" font-size="5.6" text-anchor="end" font-weight="bold" fill="#111">20</text>
<text x="440.6" y="59.46" font-size="5.6" text-anchor="end" font-weight="bold" fill="#111">0</text>
<text x="440.6" y="81.01" font-size="5.6" text-anchor="end" font-weight="bold" fill="#111">&#8722;20</text>
<text x="440.6" y="102.56" font-size="5.6" text-anchor="end" font-weight="bold" fill="#111">&#8722;40</text>
<text x="495.55" y="116.6" font-size="6.6" text-anchor="middle" font-weight="bold" fill="#111" textLength="51.7" lengthAdjust="spacingAndGlyphs">Prediction Sample</text>
<text transform="translate(428.3 57.2) rotate(-90)" font-size="6.3" text-anchor="middle" font-weight="bold" fill="#111" textLength="48" lengthAdjust="spacingAndGlyphs">Relative Error %</text>
<line x1="506.5" y1="21" x2="511.5" y2="21" stroke="#ff5a5a" stroke-width="1.0"/>
<line x1="506.5" y1="26.2" x2="511.5" y2="26.2" stroke="#2255dd" stroke-width="1.0"/>
<text x="515" y="23" font-size="5.9" text-anchor="start" font-weight="bold" fill="#111" textLength="21.5" lengthAdjust="spacingAndGlyphs">RE=10%</text>
<text x="515" y="28.2" font-size="5.9" text-anchor="start" font-weight="bold" fill="#111" textLength="20" lengthAdjust="spacingAndGlyphs">Samples</text>
<text x="428" y="7.6" font-size="6.7" font-weight="bold" fill="#2a2a2a" style="stroke:none">(</text>
<text x="435.45" y="8.9" font-size="7.7" font-weight="bold" text-anchor="middle" fill="#111">D</text>
<text x="442.6" y="7.6" font-size="6.7" font-weight="bold" text-anchor="end" fill="#2a2a2a" style="stroke:none">)</text>
<line x1="442.3" y1="159.57" x2="547.6" y2="159.57" stroke="#e4e4e4" stroke-width="0.6"/>
<line x1="442.3" y1="186.43" x2="547.6" y2="186.43" stroke="#e4e4e4" stroke-width="0.6"/>
<line x1="442.3" y1="199.87" x2="547.6" y2="199.87" stroke="#e4e4e4" stroke-width="0.6"/>
<rect x="443.27" y="159.57" width="1.3" height="22.7" fill="#1c1cb0"/>
<rect x="444.89" y="138.88" width="1.3" height="20.69" fill="#1c1cb0"/>
<rect x="446.51" y="148.01" width="1.3" height="11.55" fill="#1c1cb0"/>
<rect x="448.13" y="159.57" width="1.3" height="4.03" fill="#1c1cb0"/>
<rect x="449.75" y="159.57" width="1.3" height="6.72" fill="#1c1cb0"/>
<rect x="451.37" y="159.57" width="1.3" height="26.87" fill="#1c1cb0"/>
<rect x="452.99" y="159.57" width="1.3" height="9" fill="#1c1cb0"/>
<rect x="454.61" y="150.3" width="1.3" height="9.27" fill="#1c1cb0"/>
<rect x="456.23" y="159.57" width="1.3" height="7.79" fill="#1c1cb0"/>
<rect x="457.85" y="157.55" width="1.3" height="2.01" fill="#1c1cb0"/>
<rect x="459.47" y="157.55" width="1.3" height="2.01" fill="#1c1cb0"/>
<rect x="461.09" y="152.04" width="1.3" height="7.52" fill="#1c1cb0"/>
<rect x="462.71" y="158.49" width="1.3" height="1.07" fill="#1c1cb0"/>
<rect x="464.33" y="159.57" width="1.3" height="2.01" fill="#1c1cb0"/>
<rect x="465.95" y="159.57" width="1.3" height="3.22" fill="#1c1cb0"/>
<rect x="467.57" y="159.57" width="1.3" height="4.43" fill="#1c1cb0"/>
<rect x="469.19" y="159.57" width="1.3" height="10.07" fill="#1c1cb0"/>
<rect x="470.81" y="159.57" width="1.3" height="15.85" fill="#1c1cb0"/>
<rect x="472.43" y="159.57" width="1.3" height="7.79" fill="#1c1cb0"/>
<rect x="474.05" y="150.3" width="1.3" height="9.27" fill="#1c1cb0"/>
<rect x="475.67" y="152.58" width="1.3" height="6.99" fill="#1c1cb0"/>
<rect x="477.29" y="159.57" width="1.3" height="3.22" fill="#1c1cb0"/>
<rect x="478.91" y="159.57" width="1.3" height="4.43" fill="#1c1cb0"/>
<rect x="480.53" y="159.57" width="1.3" height="4.43" fill="#1c1cb0"/>
<rect x="482.15" y="159.57" width="1.3" height="13.43" fill="#1c1cb0"/>
<rect x="483.77" y="159.57" width="1.3" height="3.22" fill="#1c1cb0"/>
<rect x="485.39" y="159.57" width="1.3" height="3.22" fill="#1c1cb0"/>
<rect x="487.01" y="153.66" width="1.3" height="5.91" fill="#1c1cb0"/>
<rect x="488.63" y="159.57" width="1.3" height="4.43" fill="#1c1cb0"/>
<rect x="490.25" y="159.57" width="1.3" height="4.43" fill="#1c1cb0"/>
<rect x="491.87" y="145.73" width="1.3" height="13.84" fill="#1c1cb0"/>
<rect x="493.49" y="159.57" width="1.3" height="4.43" fill="#1c1cb0"/>
<rect x="495.11" y="159.57" width="1.3" height="2.01" fill="#1c1cb0"/>
<rect x="496.73" y="159.57" width="1.3" height="4.43" fill="#1c1cb0"/>
<rect x="498.35" y="159.57" width="1.3" height="14.78" fill="#1c1cb0"/>
<rect x="499.97" y="159.57" width="1.3" height="51.05" fill="#1c1cb0"/>
<rect x="501.59" y="157.15" width="1.3" height="2.42" fill="#1c1cb0"/>
<rect x="503.21" y="159.57" width="1.3" height="2.01" fill="#1c1cb0"/>
<rect x="504.83" y="159.57" width="1.3" height="2.01" fill="#1c1cb0"/>
<rect x="506.45" y="159.57" width="1.3" height="3.22" fill="#1c1cb0"/>
<rect x="508.07" y="142.24" width="1.3" height="17.33" fill="#1c1cb0"/>
<rect x="509.69" y="159.57" width="1.3" height="4.43" fill="#1c1cb0"/>
<rect x="511.31" y="159.57" width="1.3" height="10.07" fill="#1c1cb0"/>
<rect x="512.93" y="159.57" width="1.3" height="4.43" fill="#1c1cb0"/>
<rect x="514.55" y="159.57" width="1.3" height="3.22" fill="#1c1cb0"/>
<rect x="516.17" y="159.57" width="1.3" height="2.01" fill="#1c1cb0"/>
<rect x="517.79" y="159.57" width="1.3" height="13.43" fill="#1c1cb0"/>
<rect x="519.41" y="159.57" width="1.3" height="4.43" fill="#1c1cb0"/>
<rect x="521.03" y="159.57" width="1.3" height="10.07" fill="#1c1cb0"/>
<rect x="522.65" y="159.57" width="1.3" height="5.64" fill="#1c1cb0"/>
<rect x="524.27" y="157.15" width="1.3" height="2.42" fill="#1c1cb0"/>
<rect x="525.89" y="159.57" width="1.3" height="4.43" fill="#1c1cb0"/>
<rect x="527.51" y="153.66" width="1.3" height="5.91" fill="#1c1cb0"/>
<rect x="529.13" y="153.66" width="1.3" height="5.91" fill="#1c1cb0"/>
<rect x="530.75" y="159.57" width="1.3" height="11.28" fill="#1c1cb0"/>
<rect x="532.37" y="159.57" width="1.3" height="4.43" fill="#1c1cb0"/>
<rect x="533.99" y="154.87" width="1.3" height="4.7" fill="#1c1cb0"/>
<rect x="535.61" y="149.09" width="1.3" height="10.48" fill="#1c1cb0"/>
<rect x="537.23" y="136.06" width="1.3" height="23.51" fill="#1c1cb0"/>
<rect x="538.85" y="157.15" width="1.3" height="2.42" fill="#1c1cb0"/>
<rect x="540.47" y="159.57" width="1.3" height="7.79" fill="#1c1cb0"/>
<rect x="542.09" y="159.57" width="1.3" height="6.72" fill="#1c1cb0"/>
<rect x="543.71" y="154.87" width="1.3" height="4.7" fill="#1c1cb0"/>
<rect x="545.33" y="159.57" width="1.3" height="4.43" fill="#1c1cb0"/>
<rect x="546.95" y="159.57" width="1.3" height="4.03" fill="#1c1cb0"/>
<line x1="442.3" y1="146.13" x2="547.6" y2="146.13" stroke="#ff5a5a" stroke-width="1.0"/>
<line x1="442.3" y1="173" x2="547.6" y2="173" stroke="#ff5a5a" stroke-width="1.0"/>
<rect x="442.3" y="132.7" width="105.3" height="80.6" fill="none" stroke="#6e6e6e" stroke-width="1"/>
<line x1="442.3" y1="213.3" x2="442.3" y2="212.1" stroke="#6e6e6e" stroke-width="0.6"/>
<line x1="442.3" y1="132.7" x2="442.3" y2="133.9" stroke="#6e6e6e" stroke-width="0.6"/>
<text x="442.3" y="221.3" font-size="5.6" text-anchor="middle" font-weight="bold" fill="#111">0</text>
<line x1="458.5" y1="213.3" x2="458.5" y2="212.1" stroke="#6e6e6e" stroke-width="0.6"/>
<line x1="458.5" y1="132.7" x2="458.5" y2="133.9" stroke="#6e6e6e" stroke-width="0.6"/>
<text x="458.5" y="221.3" font-size="5.6" text-anchor="middle" font-weight="bold" fill="#111">10</text>
<line x1="474.7" y1="213.3" x2="474.7" y2="212.1" stroke="#6e6e6e" stroke-width="0.6"/>
<line x1="474.7" y1="132.7" x2="474.7" y2="133.9" stroke="#6e6e6e" stroke-width="0.6"/>
<text x="474.7" y="221.3" font-size="5.6" text-anchor="middle" font-weight="bold" fill="#111">20</text>
<line x1="490.9" y1="213.3" x2="490.9" y2="212.1" stroke="#6e6e6e" stroke-width="0.6"/>
<line x1="490.9" y1="132.7" x2="490.9" y2="133.9" stroke="#6e6e6e" stroke-width="0.6"/>
<text x="490.9" y="221.3" font-size="5.6" text-anchor="middle" font-weight="bold" fill="#111">30</text>
<line x1="507.1" y1="213.3" x2="507.1" y2="212.1" stroke="#6e6e6e" stroke-width="0.6"/>
<line x1="507.1" y1="132.7" x2="507.1" y2="133.9" stroke="#6e6e6e" stroke-width="0.6"/>
<text x="507.1" y="221.3" font-size="5.6" text-anchor="middle" font-weight="bold" fill="#111">40</text>
<line x1="523.3" y1="213.3" x2="523.3" y2="212.1" stroke="#6e6e6e" stroke-width="0.6"/>
<line x1="523.3" y1="132.7" x2="523.3" y2="133.9" stroke="#6e6e6e" stroke-width="0.6"/>
<text x="523.3" y="221.3" font-size="5.6" text-anchor="middle" font-weight="bold" fill="#111">50</text>
<line x1="539.5" y1="213.3" x2="539.5" y2="212.1" stroke="#6e6e6e" stroke-width="0.6"/>
<line x1="539.5" y1="132.7" x2="539.5" y2="133.9" stroke="#6e6e6e" stroke-width="0.6"/>
<text x="539.5" y="221.3" font-size="5.6" text-anchor="middle" font-weight="bold" fill="#111">60</text>
<text x="440.3" y="134.66" font-size="5.6" text-anchor="end" font-weight="bold" fill="#111">20</text>
<text x="440.3" y="148.09" font-size="5.6" text-anchor="end" font-weight="bold" fill="#111">10</text>
<text x="440.3" y="161.53" font-size="5.6" text-anchor="end" font-weight="bold" fill="#111">0</text>
<text x="440.3" y="174.96" font-size="5.6" text-anchor="end" font-weight="bold" fill="#111">&#8722;10</text>
<text x="440.3" y="188.39" font-size="5.6" text-anchor="end" font-weight="bold" fill="#111">&#8722;20</text>
<text x="440.3" y="201.83" font-size="5.6" text-anchor="end" font-weight="bold" fill="#111">&#8722;30</text>
<text x="440.3" y="215.26" font-size="5.6" text-anchor="end" font-weight="bold" fill="#111">&#8722;40</text>
<text x="494.95" y="229.3" font-size="6.6" text-anchor="middle" font-weight="bold" fill="#111" textLength="48.5" lengthAdjust="spacingAndGlyphs">Prediction Sample</text>
<text transform="translate(427.9 172.5) rotate(-90)" font-size="6.3" text-anchor="middle" font-weight="bold" fill="#111" textLength="49" lengthAdjust="spacingAndGlyphs">Relative Error %</text>
<rect x="503.5" y="180.5" width="35" height="13.3" fill="#fff"/>
<line x1="506" y1="184.5" x2="511" y2="184.5" stroke="#ff5a5a" stroke-width="1.0"/>
<line x1="506" y1="189.8" x2="511" y2="189.8" stroke="#2255dd" stroke-width="1.0"/>
<text x="514.5" y="186.5" font-size="5.9" text-anchor="start" font-weight="bold" fill="#111" textLength="21.5" lengthAdjust="spacingAndGlyphs">RE=10%</text>
<text x="514.5" y="191.8" font-size="5.9" text-anchor="start" font-weight="bold" fill="#111" textLength="19.5" lengthAdjust="spacingAndGlyphs">Samples</text>
<text x="428" y="127.4" font-size="6.7" font-weight="bold" fill="#2a2a2a" style="stroke:none">(</text>
<text x="435.45" y="128.7" font-size="7.7" font-weight="bold" text-anchor="middle" fill="#111">H</text>
<text x="443.5" y="127.4" font-size="6.7" font-weight="bold" text-anchor="end" fill="#2a2a2a" style="stroke:none">)</text>
<line x1="441.5" y1="261.2" x2="546.5" y2="261.2" stroke="#e4e4e4" stroke-width="0.6"/>
<line x1="441.5" y1="289.2" x2="546.5" y2="289.2" stroke="#e4e4e4" stroke-width="0.6"/>
<line x1="441.5" y1="317.2" x2="546.5" y2="317.2" stroke="#e4e4e4" stroke-width="0.6"/>
<rect x="442.47" y="289.2" width="1.29" height="30.52" fill="#1c1cb0"/>
<rect x="444.08" y="283.88" width="1.29" height="5.32" fill="#1c1cb0"/>
<rect x="445.7" y="284.3" width="1.29" height="4.9" fill="#1c1cb0"/>
<rect x="447.32" y="282.06" width="1.29" height="7.14" fill="#1c1cb0"/>
<rect x="448.93" y="281.5" width="1.29" height="7.7" fill="#1c1cb0"/>
<rect x="450.55" y="285.7" width="1.29" height="3.5" fill="#1c1cb0"/>
<rect x="452.16" y="278.56" width="1.29" height="10.64" fill="#1c1cb0"/>
<rect x="453.78" y="289.2" width="1.29" height="6.58" fill="#1c1cb0"/>
<rect x="455.39" y="289.2" width="1.29" height="0.98" fill="#1c1cb0"/>
<rect x="457.01" y="264.84" width="1.29" height="24.36" fill="#1c1cb0"/>
<rect x="458.62" y="286.54" width="1.29" height="2.66" fill="#1c1cb0"/>
<rect x="460.24" y="273.94" width="1.29" height="15.26" fill="#1c1cb0"/>
<rect x="461.85" y="285.42" width="1.29" height="3.78" fill="#1c1cb0"/>
<rect x="463.47" y="289.2" width="1.29" height="5.32" fill="#1c1cb0"/>
<rect x="465.08" y="289.2" width="1.29" height="6.58" fill="#1c1cb0"/>
<rect x="466.7" y="289.2" width="1.29" height="14.56" fill="#1c1cb0"/>
<rect x="468.32" y="289.2" width="1.29" height="16.8" fill="#1c1cb0"/>
<rect x="469.93" y="289.2" width="1.29" height="23.66" fill="#1c1cb0"/>
<rect x="471.55" y="289.2" width="1.29" height="8.82" fill="#1c1cb0"/>
<rect x="473.16" y="289.2" width="1.29" height="5.32" fill="#1c1cb0"/>
<rect x="474.78" y="282.06" width="1.29" height="7.14" fill="#1c1cb0"/>
<rect x="476.39" y="286.54" width="1.29" height="2.66" fill="#1c1cb0"/>
<rect x="478.01" y="288.22" width="1.29" height="0.98" fill="#1c1cb0"/>
<rect x="479.62" y="288.36" width="1.29" height="0.84" fill="#1c1cb0"/>
<rect x="481.24" y="287.52" width="1.29" height="1.68" fill="#1c1cb0"/>
<rect x="482.85" y="283.88" width="1.29" height="5.32" fill="#1c1cb0"/>
<rect x="484.47" y="289.2" width="1.29" height="3.08" fill="#1c1cb0"/>
<rect x="486.08" y="289.2" width="1.29" height="2.1" fill="#1c1cb0"/>
<rect x="487.7" y="285.42" width="1.29" height="3.78" fill="#1c1cb0"/>
<rect x="489.32" y="284.3" width="1.29" height="4.9" fill="#1c1cb0"/>
<rect x="490.93" y="277.02" width="1.29" height="12.18" fill="#1c1cb0"/>
<rect x="492.55" y="286.54" width="1.29" height="2.66" fill="#1c1cb0"/>
<rect x="494.16" y="289.2" width="1.29" height="2.1" fill="#1c1cb0"/>
<rect x="495.78" y="289.2" width="1.29" height="24.78" fill="#1c1cb0"/>
<rect x="497.39" y="289.2" width="1.29" height="9.94" fill="#1c1cb0"/>
<rect x="499.01" y="289.2" width="1.29" height="28.28" fill="#1c1cb0"/>
<rect x="500.62" y="289.2" width="1.29" height="8.82" fill="#1c1cb0"/>
<rect x="502.24" y="289.2" width="1.29" height="7.7" fill="#1c1cb0"/>
<rect x="503.85" y="281.5" width="1.29" height="7.7" fill="#1c1cb0"/>
<rect x="505.47" y="288.36" width="1.29" height="0.84" fill="#1c1cb0"/>
<rect x="507.08" y="260.36" width="1.29" height="28.84" fill="#1c1cb0"/>
<rect x="508.7" y="271.7" width="1.29" height="17.5" fill="#1c1cb0"/>
<rect x="510.32" y="289.2" width="1.29" height="2.1" fill="#1c1cb0"/>
<rect x="511.93" y="289.2" width="1.29" height="9.94" fill="#1c1cb0"/>
<rect x="513.55" y="289.2" width="1.29" height="6.58" fill="#1c1cb0"/>
<rect x="515.16" y="287.8" width="1.29" height="1.4" fill="#1c1cb0"/>
<rect x="516.78" y="287.1" width="1.29" height="2.1" fill="#1c1cb0"/>
<rect x="518.39" y="283.18" width="1.29" height="6.02" fill="#1c1cb0"/>
<rect x="520.01" y="289.2" width="1.29" height="9.94" fill="#1c1cb0"/>
<rect x="521.62" y="289.2" width="1.29" height="9.94" fill="#1c1cb0"/>
<rect x="523.24" y="289.2" width="1.29" height="8.82" fill="#1c1cb0"/>
<rect x="524.85" y="273.94" width="1.29" height="15.26" fill="#1c1cb0"/>
<rect x="526.47" y="289.2" width="1.29" height="4.2" fill="#1c1cb0"/>
<rect x="528.08" y="289.2" width="1.29" height="6.58" fill="#1c1cb0"/>
<rect x="529.7" y="289.2" width="1.29" height="17.78" fill="#1c1cb0"/>
<rect x="531.32" y="289.2" width="1.29" height="5.32" fill="#1c1cb0"/>
<rect x="532.93" y="286.54" width="1.29" height="2.66" fill="#1c1cb0"/>
<rect x="534.55" y="285.42" width="1.29" height="3.78" fill="#1c1cb0"/>
<rect x="536.16" y="289.2" width="1.29" height="5.32" fill="#1c1cb0"/>
<rect x="537.78" y="289.2" width="1.29" height="14.56" fill="#1c1cb0"/>
<rect x="539.39" y="279.68" width="1.29" height="9.52" fill="#1c1cb0"/>
<rect x="541.01" y="289.2" width="1.29" height="5.32" fill="#1c1cb0"/>
<rect x="542.62" y="277.02" width="1.29" height="12.18" fill="#1c1cb0"/>
<rect x="544.24" y="289.2" width="1.29" height="5.32" fill="#1c1cb0"/>
<rect x="545.85" y="289.2" width="1.29" height="32.76" fill="#1c1cb0"/>
<line x1="441.5" y1="275.2" x2="546.5" y2="275.2" stroke="#ff5a5a" stroke-width="1.0"/>
<line x1="441.5" y1="303.2" x2="546.5" y2="303.2" stroke="#ff5a5a" stroke-width="1.0"/>
<rect x="441.5" y="247.2" width="105" height="84" fill="none" stroke="#6e6e6e" stroke-width="1"/>
<line x1="441.5" y1="331.2" x2="441.5" y2="330" stroke="#6e6e6e" stroke-width="0.6"/>
<line x1="441.5" y1="247.2" x2="441.5" y2="248.4" stroke="#6e6e6e" stroke-width="0.6"/>
<text x="441.5" y="339.6" font-size="5.6" text-anchor="middle" font-weight="bold" fill="#111">0</text>
<line x1="457.65" y1="331.2" x2="457.65" y2="330" stroke="#6e6e6e" stroke-width="0.6"/>
<line x1="457.65" y1="247.2" x2="457.65" y2="248.4" stroke="#6e6e6e" stroke-width="0.6"/>
<text x="457.65" y="339.6" font-size="5.6" text-anchor="middle" font-weight="bold" fill="#111">10</text>
<line x1="473.81" y1="331.2" x2="473.81" y2="330" stroke="#6e6e6e" stroke-width="0.6"/>
<line x1="473.81" y1="247.2" x2="473.81" y2="248.4" stroke="#6e6e6e" stroke-width="0.6"/>
<text x="473.81" y="339.6" font-size="5.6" text-anchor="middle" font-weight="bold" fill="#111">20</text>
<line x1="489.96" y1="331.2" x2="489.96" y2="330" stroke="#6e6e6e" stroke-width="0.6"/>
<line x1="489.96" y1="247.2" x2="489.96" y2="248.4" stroke="#6e6e6e" stroke-width="0.6"/>
<text x="489.96" y="339.6" font-size="5.6" text-anchor="middle" font-weight="bold" fill="#111">30</text>
<line x1="506.12" y1="331.2" x2="506.12" y2="330" stroke="#6e6e6e" stroke-width="0.6"/>
<line x1="506.12" y1="247.2" x2="506.12" y2="248.4" stroke="#6e6e6e" stroke-width="0.6"/>
<text x="506.12" y="339.6" font-size="5.6" text-anchor="middle" font-weight="bold" fill="#111">40</text>
<line x1="522.27" y1="331.2" x2="522.27" y2="330" stroke="#6e6e6e" stroke-width="0.6"/>
<line x1="522.27" y1="247.2" x2="522.27" y2="248.4" stroke="#6e6e6e" stroke-width="0.6"/>
<text x="522.27" y="339.6" font-size="5.6" text-anchor="middle" font-weight="bold" fill="#111">50</text>
<line x1="538.42" y1="331.2" x2="538.42" y2="330" stroke="#6e6e6e" stroke-width="0.6"/>
<line x1="538.42" y1="247.2" x2="538.42" y2="248.4" stroke="#6e6e6e" stroke-width="0.6"/>
<text x="538.42" y="339.6" font-size="5.6" text-anchor="middle" font-weight="bold" fill="#111">60</text>
<text x="439.5" y="249.16" font-size="5.6" text-anchor="end" font-weight="bold" fill="#111">30</text>
<text x="439.5" y="263.16" font-size="5.6" text-anchor="end" font-weight="bold" fill="#111">20</text>
<text x="439.5" y="277.16" font-size="5.6" text-anchor="end" font-weight="bold" fill="#111">10</text>
<text x="439.5" y="291.16" font-size="5.6" text-anchor="end" font-weight="bold" fill="#111">0</text>
<text x="439.5" y="305.16" font-size="5.6" text-anchor="end" font-weight="bold" fill="#111">&#8722;10</text>
<text x="439.5" y="319.16" font-size="5.6" text-anchor="end" font-weight="bold" fill="#111">&#8722;20</text>
<text x="439.5" y="333.16" font-size="5.6" text-anchor="end" font-weight="bold" fill="#111">&#8722;30</text>
<text x="494" y="346.7" font-size="6.6" text-anchor="middle" font-weight="bold" fill="#111" textLength="49.8" lengthAdjust="spacingAndGlyphs">Prediction Sample</text>
<text transform="translate(427.5 288) rotate(-90)" font-size="6.3" text-anchor="middle" font-weight="bold" fill="#111" textLength="50" lengthAdjust="spacingAndGlyphs">Relative Error %</text>
<line x1="512.3" y1="252.3" x2="517.7" y2="252.3" stroke="#ff5a5a" stroke-width="1.0"/>
<line x1="512.3" y1="257" x2="517.7" y2="257" stroke="#2255dd" stroke-width="1.0"/>
<text x="520.9" y="254.3" font-size="5.9" text-anchor="start" font-weight="bold" fill="#111" textLength="21.8" lengthAdjust="spacingAndGlyphs">RE=10%</text>
<text x="520.9" y="259" font-size="5.9" text-anchor="start" font-weight="bold" fill="#111" textLength="20" lengthAdjust="spacingAndGlyphs">Samples</text>
<text x="428.6" y="238.5" font-size="6.7" font-weight="bold" fill="#2a2a2a" style="stroke:none">(</text>
<text x="435.45" y="239.8" font-size="7.7" font-weight="bold" text-anchor="middle" fill="#111">L</text>
<text x="442.3" y="238.5" font-size="6.7" font-weight="bold" text-anchor="end" fill="#2a2a2a" style="stroke:none">)</text>
</svg></body></html>
